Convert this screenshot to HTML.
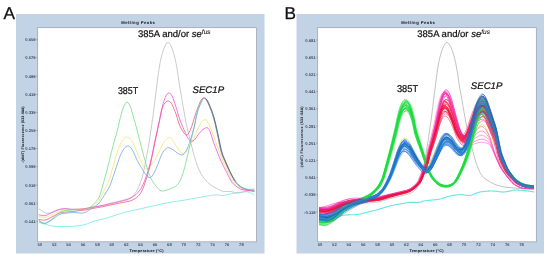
<!DOCTYPE html>
<html lang="en"><head><meta charset="utf-8"><title>Melting Peaks</title>
<style>
html,body{margin:0;padding:0;background:#fff;}
body{width:550px;height:262px;overflow:hidden;}
svg{display:block;}
text{font-family:"Liberation Sans",Arial,sans-serif;fill:#111;text-rendering:geometricPrecision;}
.pl{font-size:17.2px;stroke:#111;stroke-width:0.3px;}
.lb{stroke:#111;stroke-width:0.22px;}
.tk{font-size:4.1px;font-weight:bold;fill:#444b5a;}
.tt{font-weight:bold;fill:#111;}
</style></head><body>
<svg width="550" height="262" viewBox="0 0 550 262">
<rect width="550" height="262" fill="#fff"/>
<rect x="16" y="14" width="248.5" height="239.5" fill="#c2d3e6"/>
<rect x="296.5" y="14" width="247.5" height="239.5" fill="#c2d3e6"/>
<rect x="37.5" y="27.5" width="219.3" height="214.5" fill="#fff"/>
<rect x="37.7" y="27.7" width="218.9" height="214.1" fill="none" stroke="#8e98a8" stroke-width="0.7"/>
<text x="39.8" y="246.1" class="tk" text-anchor="middle">50</text>
<text x="54.2" y="246.1" class="tk" text-anchor="middle">52</text>
<text x="68.6" y="246.1" class="tk" text-anchor="middle">54</text>
<text x="83.0" y="246.1" class="tk" text-anchor="middle">56</text>
<text x="97.4" y="246.1" class="tk" text-anchor="middle">58</text>
<text x="111.8" y="246.1" class="tk" text-anchor="middle">60</text>
<text x="126.2" y="246.1" class="tk" text-anchor="middle">62</text>
<text x="140.6" y="246.1" class="tk" text-anchor="middle">64</text>
<text x="155.0" y="246.1" class="tk" text-anchor="middle">66</text>
<text x="169.4" y="246.1" class="tk" text-anchor="middle">68</text>
<text x="183.8" y="246.1" class="tk" text-anchor="middle">70</text>
<text x="198.2" y="246.1" class="tk" text-anchor="middle">72</text>
<text x="212.6" y="246.1" class="tk" text-anchor="middle">74</text>
<text x="227.0" y="246.1" class="tk" text-anchor="middle">76</text>
<text x="241.4" y="246.1" class="tk" text-anchor="middle">78</text>
<text x="35.5" y="41.3" class="tk" text-anchor="end">0.659</text>
<rect x="36.5" y="39.5" width="1" height="0.6" fill="#666"/>
<text x="35.5" y="59.4" class="tk" text-anchor="end">0.579</text>
<rect x="36.5" y="57.6" width="1" height="0.6" fill="#666"/>
<text x="35.5" y="77.6" class="tk" text-anchor="end">0.499</text>
<rect x="36.5" y="75.8" width="1" height="0.6" fill="#666"/>
<text x="35.5" y="95.8" class="tk" text-anchor="end">0.419</text>
<rect x="36.5" y="94.0" width="1" height="0.6" fill="#666"/>
<text x="35.5" y="113.9" class="tk" text-anchor="end">0.339</text>
<rect x="36.5" y="112.1" width="1" height="0.6" fill="#666"/>
<text x="35.5" y="132.1" class="tk" text-anchor="end">0.259</text>
<rect x="36.5" y="130.2" width="1" height="0.6" fill="#666"/>
<text x="35.5" y="150.2" class="tk" text-anchor="end">0.179</text>
<rect x="36.5" y="148.4" width="1" height="0.6" fill="#666"/>
<text x="35.5" y="168.3" class="tk" text-anchor="end">0.099</text>
<rect x="36.5" y="166.5" width="1" height="0.6" fill="#666"/>
<text x="35.5" y="186.5" class="tk" text-anchor="end">0.019</text>
<rect x="36.5" y="184.7" width="1" height="0.6" fill="#666"/>
<text x="35.5" y="204.6" class="tk" text-anchor="end">-0.061</text>
<rect x="36.5" y="202.8" width="1" height="0.6" fill="#666"/>
<text x="35.5" y="222.8" class="tk" text-anchor="end">-0.141</text>
<rect x="36.5" y="221.0" width="1" height="0.6" fill="#666"/>
<text x="138" y="23.9" class="tt" font-size="4.2" textLength="33.6" text-anchor="middle">Melting Peaks</text>
<text x="146.5" y="251.6" class="tt" font-size="3.9" textLength="34" text-anchor="middle">Temperature (°C)</text>
<text transform="translate(23.5,134.7) rotate(-90)" class="tt" font-size="3.6" textLength="56.5" text-anchor="middle">-(d/dT) Fluorescence (533-588)</text>
<rect x="317.5" y="27.5" width="219" height="214.5" fill="#fff"/>
<rect x="317.7" y="27.7" width="218.6" height="214.1" fill="none" stroke="#8e98a8" stroke-width="0.7"/>
<text x="320.0" y="246.1" class="tk" text-anchor="middle">50</text>
<text x="334.4" y="246.1" class="tk" text-anchor="middle">52</text>
<text x="348.8" y="246.1" class="tk" text-anchor="middle">54</text>
<text x="363.2" y="246.1" class="tk" text-anchor="middle">56</text>
<text x="377.6" y="246.1" class="tk" text-anchor="middle">58</text>
<text x="392.0" y="246.1" class="tk" text-anchor="middle">60</text>
<text x="406.4" y="246.1" class="tk" text-anchor="middle">62</text>
<text x="420.8" y="246.1" class="tk" text-anchor="middle">64</text>
<text x="435.2" y="246.1" class="tk" text-anchor="middle">66</text>
<text x="449.6" y="246.1" class="tk" text-anchor="middle">68</text>
<text x="464.0" y="246.1" class="tk" text-anchor="middle">70</text>
<text x="478.4" y="246.1" class="tk" text-anchor="middle">72</text>
<text x="492.8" y="246.1" class="tk" text-anchor="middle">74</text>
<text x="507.2" y="246.1" class="tk" text-anchor="middle">76</text>
<text x="521.6" y="246.1" class="tk" text-anchor="middle">78</text>
<text x="315.5" y="41.5" class="tk" text-anchor="end">0.681</text>
<rect x="316.5" y="39.7" width="1" height="0.6" fill="#666"/>
<text x="315.5" y="58.7" class="tk" text-anchor="end">0.601</text>
<rect x="316.5" y="56.9" width="1" height="0.6" fill="#666"/>
<text x="315.5" y="75.9" class="tk" text-anchor="end">0.521</text>
<rect x="316.5" y="74.1" width="1" height="0.6" fill="#666"/>
<text x="315.5" y="93.1" class="tk" text-anchor="end">0.441</text>
<rect x="316.5" y="91.3" width="1" height="0.6" fill="#666"/>
<text x="315.5" y="110.3" class="tk" text-anchor="end">0.361</text>
<rect x="316.5" y="108.5" width="1" height="0.6" fill="#666"/>
<text x="315.5" y="127.5" class="tk" text-anchor="end">0.281</text>
<rect x="316.5" y="125.7" width="1" height="0.6" fill="#666"/>
<text x="315.5" y="144.7" class="tk" text-anchor="end">0.201</text>
<rect x="316.5" y="142.9" width="1" height="0.6" fill="#666"/>
<text x="315.5" y="161.9" class="tk" text-anchor="end">0.121</text>
<rect x="316.5" y="160.1" width="1" height="0.6" fill="#666"/>
<text x="315.5" y="179.1" class="tk" text-anchor="end">0.041</text>
<rect x="316.5" y="177.3" width="1" height="0.6" fill="#666"/>
<text x="315.5" y="196.3" class="tk" text-anchor="end">-0.039</text>
<rect x="316.5" y="194.5" width="1" height="0.6" fill="#666"/>
<text x="315.5" y="213.5" class="tk" text-anchor="end">-0.119</text>
<rect x="316.5" y="211.7" width="1" height="0.6" fill="#666"/>
<text x="418" y="23.9" class="tt" font-size="4.2" textLength="33.6" text-anchor="middle">Melting Peaks</text>
<text x="426.5" y="251.6" class="tt" font-size="3.9" textLength="34" text-anchor="middle">Temperature (°C)</text>
<text transform="translate(302.9,137.5) rotate(-90)" class="tt" font-size="3.6" textLength="62" text-anchor="middle">-(d/dT) Fluorescence (533-588)</text>
<g fill="none" stroke-width="0.8" stroke-linejoin="round" stroke-linecap="round">
<path d="M39.1,220.8 40.1,221.4 41.1,222.0 42.1,222.6 43.1,223.1 44.1,223.6 45.1,224.0 46.1,224.4 47.1,224.7 48.1,225.0 49.1,225.3 50.1,225.5 51.1,225.7 52.1,225.9 53.1,226.1 54.1,226.3 55.1,226.4 56.1,226.4 57.1,226.5 58.1,226.5 59.1,226.6 60.1,226.6 61.1,226.6 62.1,226.6 63.1,226.6 64.1,226.6 65.1,226.6 66.1,226.6 67.1,226.6 68.1,226.5 69.1,226.5 70.1,226.4 71.1,226.4 72.1,226.3 73.1,226.2 74.1,226.2 75.1,226.1 76.1,226.0 77.1,225.9 78.1,225.8 79.1,225.7 80.1,225.5 81.1,225.4 82.1,225.2 83.1,225.0 84.1,224.8 85.1,224.6 86.1,224.3 87.1,223.9 88.1,223.5 89.1,223.1 90.1,222.7 91.1,222.2 92.1,221.8 93.1,221.4 94.1,221.1 95.1,220.8 96.1,220.5 97.1,220.3 98.1,220.1 99.1,219.9 100.1,219.7 101.1,219.5 102.1,219.3 103.1,219.0 104.1,218.8 105.1,218.5 106.1,218.2 107.1,217.9 108.1,217.6 109.1,217.3 110.1,217.0 111.1,216.7 112.1,216.3 113.1,216.0 114.1,215.7 115.1,215.3 116.1,215.0 117.1,214.7 118.1,214.3 119.1,214.0 120.1,213.7 121.1,213.4 122.1,213.1 123.1,212.8 124.1,212.5 125.1,212.2 126.1,212.0 127.1,211.7 128.1,211.5 129.1,211.3 130.1,211.0 131.1,210.8 132.1,210.6 133.1,210.4 134.1,210.2 135.1,209.9 136.1,209.7 137.1,209.5 138.1,209.3 139.1,209.1 140.1,208.9 141.1,208.6 142.1,208.4 143.1,208.2 144.1,208.0 145.1,207.8 146.1,207.5 147.1,207.3 148.1,207.1 149.1,206.8 150.1,206.6 151.1,206.4 152.1,206.2 153.1,205.9 154.1,205.7 155.1,205.5 156.1,205.2 157.1,205.0 158.1,204.8 159.1,204.6 160.1,204.4 161.1,204.1 162.1,203.9 163.1,203.7 164.1,203.5 165.1,203.3 166.1,203.1 167.1,202.9 168.1,202.7 169.1,202.5 170.1,202.3 171.1,202.2 172.1,202.0 173.1,201.8 174.1,201.7 175.1,201.5 176.1,201.4 177.1,201.2 178.1,201.1 179.1,200.9 180.1,200.8 181.1,200.6 182.1,200.4 183.1,200.3 184.1,200.1 185.1,200.0 186.1,199.8 187.1,199.6 188.1,199.4 189.1,199.3 190.1,199.1 191.1,198.9 192.1,198.7 193.1,198.5 194.1,198.4 195.1,198.2 196.1,198.0 197.1,197.8 198.1,197.6 199.1,197.4 200.1,197.3 201.1,197.1 202.1,196.9 203.1,196.7 204.1,196.6 205.1,196.4 206.1,196.2 207.1,196.1 208.1,195.9 209.1,195.8 210.1,195.6 211.1,195.5 212.1,195.3 213.1,195.2 214.1,195.1 215.1,195.0 216.1,194.9 217.1,194.9 218.1,195.0 219.1,195.2 220.1,195.4 221.1,195.5 222.1,195.6 223.1,195.5 224.1,195.3 225.1,195.1 226.1,194.9 227.1,194.7 228.1,194.4 229.1,194.2 230.1,194.0 231.1,193.8 232.1,193.6 233.1,193.4 234.1,193.2 235.1,193.1 236.1,192.9 237.1,192.7 238.1,192.6 239.1,192.4 240.1,192.2 241.1,192.1 242.1,191.9 243.1,191.8 244.1,191.8 245.1,191.7 246.1,191.7 247.1,191.8 248.1,192.0 249.1,192.3 250.1,192.7 251.1,193.2 252.1,193.8 253.1,194.4 254.0,195.0" stroke="#6ce8e6"/>
<path d="M39.1,209.0 40.1,209.7 41.1,210.3 42.1,211.0 43.1,211.6 44.1,212.1 45.1,212.7 46.1,213.0 47.1,213.3 48.1,213.3 49.1,213.2 50.1,213.1 51.1,212.8 52.1,212.5 53.1,212.2 54.1,211.8 55.1,211.4 56.1,210.9 57.1,210.4 58.1,210.0 59.1,209.7 60.1,209.5 61.1,209.3 62.1,209.1 63.1,209.0 64.1,208.9 65.1,208.9 66.1,208.9 67.1,208.9 68.1,209.0 69.1,209.1 70.1,209.1 71.1,209.2 72.1,209.2 73.1,209.2 74.1,209.2 75.1,209.2 76.1,209.2 77.1,209.1 78.1,209.1 79.1,209.1 80.1,209.0 81.1,208.9 82.1,208.8 83.1,208.7 84.1,208.6 85.1,208.5 86.1,208.3 87.1,208.1 88.1,207.9 89.1,207.7 90.1,207.5 91.1,207.3 92.1,207.1 93.1,207.0 94.1,206.9 95.1,206.8 96.1,206.6 97.1,206.5 98.1,206.4 99.1,206.2 100.1,206.0 101.1,205.7 102.1,205.5 103.1,205.2 104.1,204.9 105.1,204.7 106.1,204.4 107.1,204.1 108.1,203.8 109.1,203.5 110.1,203.3 111.1,203.0 112.1,202.8 113.1,202.6 114.1,202.3 115.1,202.1 116.1,201.9 117.1,201.7 118.1,201.4 119.1,201.2 120.1,201.0 121.1,200.7 122.1,200.5 123.1,200.2 124.1,199.9 125.1,199.6 126.1,199.3 127.1,199.0 128.1,198.6 129.1,198.3 130.1,198.0 131.1,197.5 132.1,196.8 133.1,195.9 134.1,194.9 135.1,193.6 136.1,192.1 137.1,190.3 138.1,188.2 139.1,185.8 140.1,183.2 141.1,180.7 142.1,177.8 143.1,174.1 144.1,169.5 145.1,164.4 146.1,159.1 147.1,153.7 148.1,148.3 149.1,142.4 150.1,136.0 151.1,129.2 152.1,122.2 153.1,115.1 154.1,107.2 155.1,99.2 156.1,91.2 157.1,83.2 158.1,75.6 159.1,68.6 160.1,62.8 161.1,58.1 162.1,54.1 163.1,50.8 164.1,48.0 165.1,45.8 166.1,44.0 167.1,42.8 168.1,42.4 169.1,43.0 170.1,44.3 171.1,46.2 172.1,48.6 173.1,51.5 174.1,54.9 175.1,58.9 176.1,63.5 177.1,69.0 178.1,75.5 179.1,82.7 180.1,88.8 181.1,94.8 182.1,100.6 183.1,106.2 184.1,111.9 185.1,117.6 186.1,123.1 187.1,127.6 188.1,131.7 189.1,135.7 190.1,139.7 191.1,143.8 192.1,147.8 193.1,151.7 194.1,155.4 195.1,158.9 196.1,162.2 197.1,165.1 198.1,167.7 199.1,169.9 200.1,172.0 201.1,173.9 202.1,175.5 203.1,177.0 204.1,178.3 205.1,179.5 206.1,180.7 207.1,181.8 208.1,182.8 209.1,183.7 210.1,184.5 211.1,185.2 212.1,185.8 213.1,186.5 214.1,187.1 215.1,187.6 216.1,188.2 217.1,188.7 218.1,189.2 219.1,189.7 220.1,190.2 221.1,190.7 222.1,191.0 223.1,191.3 224.1,191.5 225.1,191.5 226.1,191.5 227.1,191.5 228.1,191.5 229.1,191.4 230.1,191.4 231.1,191.6 232.1,191.8 233.1,192.0 234.1,192.4 235.1,192.7 236.1,192.9 237.1,193.0 238.1,193.0 239.1,192.9 240.1,192.7 241.1,192.5 242.1,192.3 243.1,192.1 244.1,191.8 245.1,191.6 246.1,191.4 247.1,191.1 248.1,190.9 249.1,190.7 250.1,190.4 251.1,190.4 252.1,190.6 253.1,190.8 254.0,191.1" stroke="#bcbcbc"/>
<path d="M39.1,216.4 40.1,216.7 41.1,217.0 42.1,217.2 43.1,217.3 44.1,217.4 45.1,217.3 46.1,217.2 47.1,216.9 48.1,216.5 49.1,216.2 50.1,215.8 51.1,215.4 52.1,215.0 53.1,214.5 54.1,214.0 55.1,213.5 56.1,212.9 57.1,212.4 58.1,211.9 59.1,211.5 60.1,211.1 61.1,210.8 62.1,210.5 63.1,210.4 64.1,210.2 65.1,210.1 66.1,210.0 67.1,209.9 68.1,209.8 69.1,209.7 70.1,209.6 71.1,209.6 72.1,209.5 73.1,209.4 74.1,209.4 75.1,209.4 76.1,209.3 77.1,209.3 78.1,209.3 79.1,209.2 80.1,209.2 81.1,209.2 82.1,209.1 83.1,209.1 84.1,209.0 85.1,209.0 86.1,208.9 87.1,208.6 88.1,208.3 89.1,208.0 90.1,207.6 91.1,207.1 92.1,206.6 93.1,205.9 94.1,205.1 95.1,204.3 96.1,203.4 97.1,202.6 98.1,201.7 99.1,200.5 100.1,198.8 101.1,196.8 102.1,194.8 103.1,192.8 104.1,190.8 105.1,188.8 106.1,186.8 107.1,184.8 108.1,182.8 109.1,180.3 110.1,177.1 111.1,173.6 112.1,170.0 113.1,166.3 114.1,162.7 115.1,159.2 116.1,155.9 117.1,152.7 118.1,149.8 119.1,147.2 120.1,144.8 121.1,142.7 122.1,140.9 123.1,139.5 124.1,138.4 125.1,137.6 126.1,137.1 127.1,137.0 128.1,137.1 129.1,137.6 130.1,138.4 131.1,139.7 132.1,141.2 133.1,143.1 134.1,145.2 135.1,147.6 136.1,149.9 137.1,152.2 138.1,154.6 139.1,156.9 140.1,159.2 141.1,161.5 142.1,163.6 143.1,165.7 144.1,167.4 145.1,168.5 146.1,169.0 147.1,169.0 148.1,168.4 149.1,167.4 150.1,166.2 151.1,164.9 152.1,163.6 153.1,162.2 154.1,160.8 155.1,159.4 156.1,157.7 157.1,155.9 158.1,153.9 159.1,151.8 160.1,149.8 161.1,147.7 162.1,145.6 163.1,143.6 164.1,141.9 165.1,140.6 166.1,139.4 167.1,138.4 168.1,137.7 169.1,137.5 170.1,137.7 171.1,138.3 172.1,139.4 173.1,140.8 174.1,142.3 175.1,143.9 176.1,145.5 177.1,147.2 178.1,148.8 179.1,150.4 180.1,151.8 181.1,152.7 182.1,153.2 183.1,153.3 184.1,153.2 185.1,152.7 186.1,151.8 187.1,150.5 188.1,148.9 189.1,147.2 190.1,145.4 191.1,143.6 192.1,141.8 193.1,139.9 194.1,137.8 195.1,135.0 196.1,132.4 197.1,130.1 198.1,128.0 199.1,126.0 200.1,124.3 201.1,122.7 202.1,121.4 203.1,120.4 204.1,119.8 205.1,119.7 206.1,120.0 207.1,120.9 208.1,122.5 209.1,124.5 210.1,126.8 211.1,129.4 212.1,132.0 213.1,134.8 214.1,137.6 215.1,140.5 216.1,143.2 217.1,145.9 218.1,148.6 219.1,151.3 220.1,153.9 221.1,156.5 222.1,159.1 223.1,161.5 224.1,163.8 225.1,166.0 226.1,168.1 227.1,170.1 228.1,172.2 229.1,174.3 230.1,176.4 231.1,178.3 232.1,180.2 233.1,181.7 234.1,182.9 235.1,183.9 236.1,184.8 237.1,185.6 238.1,186.4 239.1,187.2 240.1,188.0 241.1,188.6 242.1,189.0 243.1,189.4 244.1,189.6 245.1,189.9 246.1,190.1 247.1,190.3 248.1,190.4 249.1,190.5 250.1,190.7 251.1,190.8 252.1,190.9 253.1,191.0 254.0,191.0" stroke="#f5e46e"/>
<path d="M39.1,219.5 40.1,219.7 41.1,219.9 42.1,220.1 43.1,220.2 44.1,220.2 45.1,220.0 46.1,219.7 47.1,219.3 48.1,218.8 49.1,218.4 50.1,217.9 51.1,217.4 52.1,216.9 53.1,216.4 54.1,215.9 55.1,215.3 56.1,214.8 57.1,214.2 58.1,213.7 59.1,213.3 60.1,213.0 61.1,212.8 62.1,212.5 63.1,212.4 64.1,212.2 65.1,212.1 66.1,212.0 67.1,211.9 68.1,211.9 69.1,211.8 70.1,211.7 71.1,211.6 72.1,211.5 73.1,211.4 74.1,211.3 75.1,211.2 76.1,211.1 77.1,210.9 78.1,210.8 79.1,210.7 80.1,210.6 81.1,210.5 82.1,210.4 83.1,210.3 84.1,210.1 85.1,210.0 86.1,209.8 87.1,209.6 88.1,209.4 89.1,209.2 90.1,208.9 91.1,208.7 92.1,208.6 93.1,208.4 94.1,208.2 95.1,208.1 96.1,207.9 97.1,207.7 98.1,207.6 99.1,207.4 100.1,207.2 101.1,207.0 102.1,206.8 103.1,206.6 104.1,206.4 105.1,206.2 106.1,205.9 107.1,205.7 108.1,205.5 109.1,205.3 110.1,205.1 111.1,204.9 112.1,204.7 113.1,204.5 114.1,204.2 115.1,204.0 116.1,203.8 117.1,203.6 118.1,203.4 119.1,203.2 120.1,203.0 121.1,202.8 122.1,202.6 123.1,202.4 124.1,202.2 125.1,202.0 126.1,201.8 127.1,201.6 128.1,201.4 129.1,201.2 130.1,201.0 131.1,200.7 132.1,200.3 133.1,199.7 134.1,199.2 135.1,198.5 136.1,197.9 137.1,197.2 138.1,196.3 139.1,195.2 140.1,193.9 141.1,192.3 142.1,190.3 143.1,188.0 144.1,185.5 145.1,182.7 146.1,179.7 147.1,176.6 148.1,173.2 149.1,169.6 150.1,165.7 151.1,161.4 152.1,156.5 153.1,151.5 154.1,146.5 155.1,141.4 156.1,136.6 157.1,131.8 158.1,127.0 159.1,122.2 160.1,117.4 161.1,112.8 162.1,108.6 163.1,105.9 164.1,104.2 165.1,102.9 166.1,101.8 167.1,101.1 168.1,100.9 169.1,101.3 170.1,101.9 171.1,103.0 172.1,104.7 173.1,106.8 174.1,109.1 175.1,111.6 176.1,114.3 177.1,117.4 178.1,120.8 179.1,123.9 180.1,126.4 181.1,128.4 182.1,130.1 183.1,131.7 184.1,133.2 185.1,134.4 186.1,135.1 187.1,135.1 188.1,134.1 189.1,132.4 190.1,130.3 191.1,128.0 192.1,125.3 193.1,122.1 194.1,118.7 195.1,115.5 196.1,112.5 197.1,109.7 198.1,107.1 199.1,104.5 200.1,102.1 201.1,100.2 202.1,98.7 203.1,98.0 204.1,97.9 205.1,98.6 206.1,99.8 207.1,101.4 208.1,103.5 209.1,105.7 210.1,108.1 211.1,110.7 212.1,113.4 213.1,116.4 214.1,119.8 215.1,123.7 216.1,128.1 217.1,132.6 218.1,137.5 219.1,142.9 220.1,148.0 221.1,151.9 222.1,155.0 223.1,157.5 224.1,159.8 225.1,162.1 226.1,164.4 227.1,166.6 228.1,168.8 229.1,171.0 230.1,173.0 231.1,174.9 232.1,176.8 233.1,178.5 234.1,180.2 235.1,181.7 236.1,183.0 237.1,184.1 238.1,185.1 239.1,186.0 240.1,186.7 241.1,187.4 242.1,188.0 243.1,188.5 244.1,188.8 245.1,189.1 246.1,189.4 247.1,189.7 248.1,189.9 249.1,190.1 250.1,190.3 251.1,190.5 252.1,190.7 253.1,190.9 254.0,191.0" stroke="#ee5c70"/>
<path d="M39.1,214.8 40.1,215.1 41.1,215.3 42.1,215.5 43.1,215.6 44.1,215.7 45.1,215.6 46.1,215.3 47.1,214.9 48.1,214.5 49.1,213.9 50.1,213.4 51.1,212.9 52.1,212.4 53.1,211.9 54.1,211.5 55.1,211.0 56.1,210.6 57.1,210.2 58.1,209.9 59.1,209.5 60.1,209.2 61.1,209.0 62.1,208.9 63.1,208.8 64.1,208.7 65.1,208.7 66.1,208.7 67.1,208.8 68.1,208.9 69.1,209.1 70.1,209.2 71.1,209.3 72.1,209.4 73.1,209.4 74.1,209.4 75.1,209.4 76.1,209.4 77.1,209.4 78.1,209.4 79.1,209.3 80.1,209.3 81.1,209.2 82.1,209.1 83.1,209.0 84.1,208.8 85.1,208.7 86.1,208.5 87.1,208.3 88.1,208.1 89.1,207.9 90.1,207.7 91.1,207.5 92.1,207.4 93.1,207.2 94.1,207.0 95.1,206.9 96.1,206.7 97.1,206.5 98.1,206.3 99.1,206.2 100.1,206.0 101.1,205.8 102.1,205.6 103.1,205.4 104.1,205.2 105.1,205.0 106.1,204.8 107.1,204.5 108.1,204.3 109.1,204.1 110.1,203.9 111.1,203.6 112.1,203.4 113.1,203.2 114.1,203.0 115.1,202.8 116.1,202.5 117.1,202.3 118.1,202.0 119.1,201.8 120.1,201.5 121.1,201.3 122.1,201.0 123.1,200.8 124.1,200.5 125.1,200.2 126.1,200.0 127.1,199.7 128.1,199.3 129.1,198.8 130.1,198.3 131.1,197.7 132.1,197.1 133.1,196.5 134.1,195.9 135.1,195.3 136.1,194.4 137.1,193.4 138.1,192.3 139.1,191.1 140.1,189.9 141.1,188.4 142.1,186.5 143.1,184.4 144.1,182.1 145.1,179.5 146.1,176.7 147.1,173.8 148.1,170.6 149.1,167.2 150.1,163.4 151.1,159.3 152.1,154.7 153.1,149.9 154.1,145.1 155.1,140.3 156.1,135.7 157.1,131.3 158.1,126.8 159.1,122.2 160.1,117.3 161.1,112.3 162.1,107.5 163.1,103.6 164.1,100.5 165.1,97.9 166.1,95.7 167.1,94.1 168.1,93.2 169.1,93.0 170.1,93.4 171.1,94.3 172.1,96.0 173.1,98.6 174.1,101.3 175.1,104.2 176.1,107.3 177.1,110.6 178.1,114.1 179.1,117.3 180.1,120.2 181.1,122.8 182.1,125.2 183.1,127.6 184.1,130.0 185.1,132.2 186.1,134.4 187.1,136.5 188.1,138.4 189.1,139.8 190.1,140.8 191.1,141.4 192.1,141.4 193.1,141.0 194.1,140.2 195.1,139.1 196.1,137.8 197.1,136.3 198.1,134.9 199.1,133.5 200.1,132.3 201.1,131.2 202.1,130.2 203.1,129.4 204.1,128.7 205.1,128.1 206.1,127.7 207.1,127.7 208.1,128.3 209.1,129.6 210.1,131.6 211.1,134.5 212.1,137.7 213.1,141.0 214.1,143.9 215.1,146.5 216.1,149.0 217.1,151.5 218.1,154.0 219.1,156.4 220.1,158.9 221.1,161.2 222.1,163.3 223.1,165.4 224.1,167.4 225.1,169.4 226.1,171.3 227.1,173.3 228.1,175.3 229.1,177.2 230.1,179.2 231.1,181.0 232.1,182.5 233.1,183.7 234.1,184.6 235.1,185.4 236.1,186.2 237.1,187.0 238.1,187.8 239.1,188.4 240.1,188.9 241.1,189.3 242.1,189.5 243.1,189.8 244.1,190.0 245.1,190.2 246.1,190.3 247.1,190.5 248.1,190.6 249.1,190.7 250.1,190.8 251.1,190.9 252.1,191.0 253.1,191.1 254.0,191.1" stroke="#f052d6"/>
<path d="M39.1,222.0 40.1,222.6 41.1,223.2 42.1,223.6 43.1,223.8 44.1,223.8 45.1,223.6 46.1,223.1 47.1,222.5 48.1,221.9 49.1,221.3 50.1,220.6 51.1,219.9 52.1,219.1 53.1,218.3 54.1,217.4 55.1,216.4 56.1,215.4 57.1,214.4 58.1,213.5 59.1,212.8 60.1,212.2 61.1,211.7 62.1,211.3 63.1,211.1 64.1,210.8 65.1,210.7 66.1,210.6 67.1,210.5 68.1,210.4 69.1,210.3 70.1,210.2 71.1,210.1 72.1,210.0 73.1,209.9 74.1,209.9 75.1,209.8 76.1,209.8 77.1,209.8 78.1,209.7 79.1,209.7 80.1,209.7 81.1,209.6 82.1,209.6 83.1,209.5 84.1,209.5 85.1,209.4 86.1,209.2 87.1,208.8 88.1,208.3 89.1,207.7 90.1,207.0 91.1,206.3 92.1,205.6 93.1,204.7 94.1,203.6 95.1,202.5 96.1,201.4 97.1,200.3 98.1,199.1 99.1,197.3 100.1,194.7 101.1,191.4 102.1,187.9 103.1,184.3 104.1,180.6 105.1,177.1 106.1,173.5 107.1,169.6 108.1,165.6 109.1,161.6 110.1,157.6 111.1,153.6 112.1,149.6 113.1,145.6 114.1,141.7 115.1,138.4 116.1,135.2 117.1,131.6 118.1,127.4 119.1,122.9 120.1,118.6 121.1,114.8 122.1,111.3 123.1,108.2 124.1,105.8 125.1,103.8 126.1,102.4 127.1,102.0 128.1,102.6 129.1,104.2 130.1,106.1 131.1,108.7 132.1,112.1 133.1,115.8 134.1,119.4 135.1,122.8 136.1,126.5 137.1,130.4 138.1,134.3 139.1,138.1 140.1,141.9 141.1,145.9 142.1,149.9 143.1,153.8 144.1,157.4 145.1,160.8 146.1,164.3 147.1,167.6 148.1,170.7 149.1,173.6 150.1,176.3 151.1,178.6 152.1,180.5 153.1,182.2 154.1,183.6 155.1,184.9 156.1,186.1 157.1,187.3 158.1,188.5 159.1,189.5 160.1,190.3 161.1,190.8 162.1,191.0 163.1,190.9 164.1,190.8 165.1,190.5 166.1,190.2 167.1,189.9 168.1,189.6 169.1,189.2 170.1,188.8 171.1,188.4 172.1,188.0 173.1,187.5 174.1,187.0 175.1,186.5 176.1,185.9 177.1,185.1 178.1,184.0 179.1,182.4 180.1,180.5 181.1,178.3 182.1,175.7 183.1,172.8 184.1,169.4 185.1,165.6 186.1,161.6 187.1,157.5 188.1,153.3 189.1,149.1 190.1,144.9 191.1,140.4 192.1,135.8 193.1,131.5 194.1,127.5 195.1,122.7 196.1,116.0 197.1,112.0 198.1,108.9 199.1,106.4 200.1,104.2 201.1,102.1 202.1,100.2 203.1,98.6 204.1,97.9 205.1,98.1 206.1,99.1 207.1,100.6 208.1,102.6 209.1,104.8 210.1,107.2 211.1,109.7 212.1,112.4 213.1,115.5 214.1,119.0 215.1,122.9 216.1,127.3 217.1,131.8 218.1,136.3 219.1,141.2 220.1,146.0 221.1,150.4 222.1,153.9 223.1,156.6 224.1,158.9 225.1,161.2 226.1,163.5 227.1,165.8 228.1,168.0 229.1,170.1 230.1,172.2 231.1,174.2 232.1,176.1 233.1,178.0 234.1,179.7 235.1,181.2 236.1,182.5 237.1,183.6 238.1,184.6 239.1,185.4 240.1,186.1 241.1,186.8 242.1,187.3 243.1,187.8 244.1,188.2 245.1,188.6 246.1,188.9 247.1,189.1 248.1,189.3 249.1,189.3 250.1,189.4 251.1,189.3 252.1,189.2 253.1,189.0 254.0,188.8" stroke="#74da88"/>
<path d="M39.1,220.8 40.1,221.5 41.1,222.1 42.1,222.6 43.1,222.9 44.1,223.2 45.1,223.2 46.1,223.0 47.1,222.5 48.1,222.0 49.1,221.4 50.1,220.8 51.1,220.2 52.1,219.5 53.1,218.9 54.1,218.2 55.1,217.5 56.1,216.7 57.1,215.9 58.1,215.3 59.1,214.7 60.1,214.3 61.1,213.9 62.1,213.7 63.1,213.5 64.1,213.4 65.1,213.3 66.1,213.2 67.1,213.0 68.1,212.9 69.1,212.8 70.1,212.7 71.1,212.6 72.1,212.5 73.1,212.4 74.1,212.5 75.1,212.5 76.1,212.6 77.1,212.7 78.1,212.9 79.1,213.0 80.1,213.1 81.1,213.1 82.1,213.1 83.1,213.0 84.1,212.7 85.1,212.4 86.1,212.0 87.1,211.4 88.1,210.8 89.1,210.2 90.1,209.5 91.1,208.8 92.1,208.2 93.1,207.6 94.1,206.9 95.1,206.3 96.1,205.6 97.1,204.9 98.1,204.1 99.1,203.0 100.1,201.8 101.1,200.4 102.1,198.8 103.1,197.3 104.1,195.6 105.1,194.0 106.1,192.3 107.1,190.7 108.1,189.1 109.1,187.3 110.1,185.3 111.1,182.7 112.1,179.7 113.1,176.7 114.1,173.7 115.1,170.7 116.1,167.7 117.1,164.7 118.1,161.7 119.1,158.7 120.1,156.1 121.1,153.8 122.1,151.8 123.1,150.0 124.1,148.6 125.1,147.4 126.1,146.5 127.1,146.1 128.1,146.0 129.1,146.3 130.1,147.0 131.1,148.1 132.1,149.6 133.1,151.2 134.1,153.2 135.1,155.6 136.1,158.1 137.1,160.2 138.1,162.0 139.1,163.8 140.1,165.5 141.1,167.2 142.1,168.8 143.1,170.5 144.1,172.1 145.1,173.7 146.1,175.0 147.1,176.1 148.1,177.0 149.1,177.5 150.1,177.6 151.1,177.1 152.1,176.1 153.1,174.6 154.1,172.9 155.1,170.9 156.1,168.6 157.1,166.2 158.1,163.7 159.1,161.0 160.1,158.3 161.1,155.8 162.1,153.8 163.1,152.1 164.1,150.6 165.1,149.4 166.1,148.5 167.1,147.8 168.1,147.6 169.1,147.8 170.1,148.2 171.1,148.6 172.1,149.2 173.1,149.8 174.1,150.5 175.1,151.3 176.1,152.1 177.1,152.8 178.1,153.5 179.1,154.1 180.1,154.5 181.1,154.8 182.1,154.9 183.1,154.6 184.1,153.8 185.1,152.5 186.1,150.9 187.1,148.9 188.1,146.5 189.1,143.7 190.1,140.7 191.1,137.6 192.1,134.3 193.1,130.9 194.1,127.3 195.1,123.2 196.1,117.8 197.1,113.6 198.1,110.2 199.1,107.4 200.1,104.9 201.1,102.6 202.1,100.5 203.1,98.9 204.1,98.0 205.1,98.0 206.1,98.8 207.1,100.1 208.1,102.0 209.1,104.1 210.1,106.5 211.1,109.0 212.1,111.6 213.1,114.5 214.1,117.9 215.1,121.7 216.1,126.0 217.1,130.4 218.1,134.9 219.1,139.7 220.1,144.6 221.1,149.2 222.1,152.9 223.1,155.8 224.1,158.1 225.1,160.4 226.1,162.8 227.1,165.0 228.1,167.3 229.1,169.5 230.1,171.6 231.1,173.6 232.1,175.6 233.1,177.4 234.1,179.2 235.1,180.8 236.1,182.2 237.1,183.4 238.1,184.4 239.1,185.3 240.1,186.1 241.1,186.8 242.1,187.4 243.1,188.0 244.1,188.4 245.1,188.8 246.1,189.2 247.1,189.4 248.1,189.7 249.1,189.8 250.1,190.0 251.1,190.0 252.1,190.1 253.1,190.1 254.0,190.0" stroke="#70a6f0"/>
<path d="M206.0,98.8 207.0,100.1 208.0,102.0 209.0,104.1 210.0,106.5 211.0,109.0 212.0,111.6 213.0,114.5 214.0,117.9 215.0,121.7 216.0,126.0 217.0,130.4 218.0,134.9 219.0,139.7 220.0,144.6 221.0,149.2 222.0,152.9 223.0,155.8 224.0,158.1 225.0,160.4 226.0,162.8 227.0,165.0 228.0,167.3 229.0,169.5 230.0,171.6 231.0,173.6 232.0,175.6 233.0,177.4 234.0,179.2 235.0,180.8" stroke="#4c5266" stroke-opacity="0.8"/>
</g>
<g fill="none" stroke-linejoin="round" stroke-linecap="round">
<path d="M319.0,222.0 320.0,222.1 321.0,222.1 322.0,222.1 323.0,222.1 324.0,222.0 325.0,222.0 326.0,221.8 327.0,221.7 328.0,221.5 329.0,221.3 330.0,221.0 331.0,220.7 332.0,220.3 333.0,219.8 334.0,219.3 335.0,218.7 336.0,218.1 337.0,217.6 338.0,217.0 339.0,216.5 340.0,216.1 341.0,215.8 342.0,215.5 343.0,215.3 344.0,215.2 345.0,215.1 346.0,215.0 347.0,214.9 348.0,214.9 349.0,214.9 350.0,214.8 351.0,214.8 352.0,214.8 353.0,214.8 354.0,214.7 355.0,214.7 356.0,214.6 357.0,214.5 358.0,214.4 359.0,214.2 360.0,214.0 361.0,213.8 362.0,213.5 363.0,213.3 364.0,213.0 365.0,212.8 366.0,212.6 367.0,212.3 368.0,212.1 369.0,211.8 370.0,211.6 371.0,211.3 372.0,211.1 373.0,210.8 374.0,210.5 375.0,210.3 376.0,210.0 377.0,209.7 378.0,209.4 379.0,209.2 380.0,208.9 381.0,208.6 382.0,208.3 383.0,208.0 384.0,207.7 385.0,207.4 386.0,207.1 387.0,206.8 388.0,206.5 389.0,206.3 390.0,206.0 391.0,205.7 392.0,205.5 393.0,205.3 394.0,205.0 395.0,204.8 396.0,204.6 397.0,204.4 398.0,204.2 399.0,204.0 400.0,203.9 401.0,203.7 402.0,203.5 403.0,203.4 404.0,203.2 405.0,203.0 406.0,202.9 407.0,202.7 408.0,202.6 409.0,202.5 410.0,202.4 411.0,202.4 412.0,202.4 413.0,202.4 414.0,202.4 415.0,202.4 416.0,202.5 417.0,202.4 418.0,202.4 419.0,202.3 420.0,202.2 421.0,202.0 422.0,201.6 423.0,201.3 424.0,201.0 425.0,200.8 426.0,200.7 427.0,200.5 428.0,200.4 429.0,200.3 430.0,200.2 431.0,200.1 432.0,200.0 433.0,200.0 434.0,199.9 435.0,199.8 436.0,199.7 437.0,199.5 438.0,199.4 439.0,199.2 440.0,199.0 441.0,198.8 442.0,198.5 443.0,198.2 444.0,197.9 445.0,197.5 446.0,197.2 447.0,196.8 448.0,196.5 449.0,196.3 450.0,196.0 451.0,195.8 452.0,195.6 453.0,195.4 454.0,195.3 455.0,195.1 456.0,195.0 457.0,194.9 458.0,194.8 459.0,194.7 460.0,194.6 461.0,194.6 462.0,194.6 463.0,194.7 464.0,194.9 465.0,195.0 466.0,195.2 467.0,195.3 468.0,195.4 469.0,195.5 470.0,195.4 471.0,195.2 472.0,195.0 473.0,194.6 474.0,194.2 475.0,193.8 476.0,193.3 477.0,192.9 478.0,192.5 479.0,192.2 480.0,192.0 481.0,191.8 482.0,191.7 483.0,191.6 484.0,191.5 485.0,191.4 486.0,191.3 487.0,191.2 488.0,191.1 489.0,191.1 490.0,191.0 491.0,191.0 492.0,191.0 493.0,191.0 494.0,191.1 495.0,191.2 496.0,191.3 497.0,191.4 498.0,191.5 499.0,191.7 500.0,191.8 501.0,191.9 502.0,191.9 503.0,192.0 504.0,192.0 505.0,191.9 506.0,191.8 507.0,191.6 508.0,191.4 509.0,191.2 510.0,190.9 511.0,190.7 512.0,190.5 513.0,190.3 514.0,190.1 515.0,190.0 516.0,190.0 517.0,190.0 518.0,190.1 519.0,190.1 520.0,190.2 521.0,190.2 522.0,190.3 523.0,190.4 524.0,190.5 525.0,190.6 526.0,190.7 527.0,190.9 528.0,191.0 529.0,191.1 530.0,191.3 531.0,191.5 532.0,191.6 533.0,191.8 534.0,192.0" stroke="#62e6e6" stroke-width="1.1"/>
<path d="M319.7,213.6 320.7,213.7 321.7,213.9 322.7,214.0 323.7,214.1 324.7,214.1 325.7,214.0 326.7,213.9 327.7,213.7 328.7,213.5 329.7,213.2 330.7,212.9 331.7,212.5 332.7,212.1 333.7,211.7 334.7,211.2 335.7,210.8 336.7,210.2 337.7,209.7 338.7,209.2 339.7,208.7 340.7,208.3 341.7,207.9 342.7,207.5 343.7,207.1 344.7,206.7 345.7,206.3 346.7,206.0 347.7,205.6 348.7,205.3 349.7,205.0 350.7,204.7 351.7,204.5 352.7,204.3 353.7,204.1 354.7,204.0 355.7,203.8 356.7,203.6 357.7,203.4 358.7,203.3 359.7,203.1 360.7,203.0 361.7,203.0 362.7,202.9 363.7,202.9 364.7,202.9 365.7,202.9 366.7,203.0 367.7,203.0 368.7,203.0 369.7,202.9 370.7,202.9 371.7,202.8 372.7,202.7 373.7,202.6 374.7,202.5 375.7,202.4 376.7,202.2 377.7,202.1 378.7,201.9 379.7,201.7 380.7,201.4 381.7,201.1 382.7,200.8 383.7,200.5 384.7,200.2 385.7,199.9 386.7,199.6 387.7,199.2 388.7,198.9 389.7,198.7 390.7,198.4 391.7,198.2 392.7,197.9 393.7,197.7 394.7,197.4 395.7,197.2 396.7,196.9 397.7,196.7 398.7,196.4 399.7,196.2 400.7,195.9 401.7,195.7 402.7,195.5 403.7,195.2 404.7,195.0 405.7,194.7 406.7,194.5 407.7,194.2 408.7,193.9 409.7,193.5 410.7,193.1 411.7,192.6 412.7,192.0 413.7,191.2 414.7,190.4 415.7,189.4 416.7,188.0 417.7,186.4 418.7,184.4 419.7,182.1 420.7,179.2 421.7,175.4 422.7,170.9 423.7,165.8 424.7,160.4 425.7,154.9 426.7,149.2 427.7,143.2 428.7,136.6 429.7,129.7 430.7,122.6 431.7,115.4 432.7,107.5 433.7,99.4 434.7,91.4 435.7,83.3 436.7,75.7 437.7,68.7 438.7,62.9 439.7,58.1 440.8,54.1 441.8,50.8 442.8,48.1 443.9,45.8 444.9,44.0 446.0,42.8 447.1,42.4 448.2,43.0 449.3,44.3 450.4,46.2 451.5,48.6 452.6,51.5 453.7,54.9 454.7,58.9 455.8,63.5 456.8,69.0 457.9,75.5 458.9,82.7 459.9,88.8 461.0,94.8 462.0,100.6 463.0,106.2 464.0,111.9 465.0,117.6 466.0,123.1 467.0,127.6 468.0,131.7 469.0,135.7 470.0,139.7 471.0,143.8 472.0,147.9 473.0,151.8 474.0,155.5 475.0,159.1 476.0,162.4 477.0,165.4 478.0,168.0 479.0,170.3 480.0,172.4 481.0,174.2 482.0,175.6 483.0,176.8 484.0,177.8 485.0,178.6 486.0,179.3 487.0,180.0 488.0,180.6 489.0,181.2 490.0,181.8 491.0,182.4 492.0,183.0 493.0,183.5 494.0,184.0 495.0,184.4 496.0,184.8 497.0,185.2 498.0,185.5 499.0,185.7 500.0,186.0 501.0,186.2 502.0,186.5 503.0,186.7 504.0,186.9 505.0,187.1 506.0,187.2 507.0,187.3 508.0,187.4 509.0,187.5 510.0,187.6 511.0,187.7 512.0,187.8 513.0,187.9 514.0,188.0 515.0,188.1 516.0,188.2 517.0,188.3 518.0,188.4 519.0,188.5 520.0,188.6 521.0,188.7 522.0,188.7 523.0,188.7 524.0,188.7 525.0,188.7 526.0,188.6 527.0,188.6 528.0,188.5 529.0,188.5 530.0,188.4 531.0,188.2 532.0,188.1 533.0,188.1 533.9,188.0" stroke="#b2b2b2" stroke-width="0.8"/>
<path d="M319.1,216.5 320.1,216.6 321.1,216.7 322.1,216.8 323.1,216.9 324.1,217.0 325.1,217.0 326.1,216.9 327.1,216.8 328.1,216.6 329.1,216.3 330.1,216.0 331.1,215.6 332.1,215.1 333.1,214.6 334.1,214.1 335.1,213.4 336.1,212.7 337.1,212.0 338.1,211.3 339.1,210.6 340.1,209.9 341.1,209.3 342.1,208.7 343.1,208.1 344.1,207.5 345.1,206.9 346.1,206.4 347.1,205.8 348.1,205.3 349.1,204.9 350.1,204.5 351.1,204.1 352.1,203.7 353.1,203.4 354.1,203.0 355.1,202.7 356.1,202.3 357.1,202.0 358.1,201.6 359.1,201.3 360.1,201.0 361.1,200.7 362.1,200.4 363.1,200.2 364.1,200.0 365.1,199.8 366.1,199.5 367.1,199.1 368.1,198.7 369.1,198.3 370.1,198.0 371.1,197.6 372.1,197.2 373.1,196.8 374.1,196.3 375.1,195.9 376.1,195.5 377.1,194.9 378.1,194.2 379.1,193.3 380.1,192.4 381.1,191.4 382.1,190.2 383.1,188.8 384.1,187.3 385.1,185.7 386.1,183.8 387.1,181.8 388.1,179.7 389.1,177.5 390.1,175.1 391.1,172.3 392.1,169.4 393.1,166.2 394.1,162.8 395.1,159.3 396.1,155.7 397.1,152.0 398.1,148.7 399.1,145.8 400.1,143.2 401.1,141.1 402.1,139.6 403.1,138.6 404.1,138.2 405.1,138.1 406.1,138.4 407.1,139.1 408.1,140.3 409.1,141.8 410.1,143.6 411.1,145.8 412.1,148.1 413.1,150.4 414.1,152.7 415.1,155.0 416.1,157.3 417.1,159.7 418.1,161.9 419.1,164.0 420.1,166.0 421.1,167.7 422.1,168.7 423.1,169.2 424.1,169.0 425.1,168.3 426.1,167.2 427.1,165.8 428.1,164.4 429.1,162.9 430.1,161.3 431.1,159.6 432.1,157.9 433.1,156.1 434.1,153.9 435.1,151.6 436.1,149.3 437.1,146.9 438.1,144.6 439.1,142.2 440.1,139.9 441.1,138.0 442.1,136.5 443.1,135.1 444.1,134.0 445.1,133.3 446.1,133.1 447.1,133.3 448.1,134.0 449.1,135.3 450.1,136.9 451.1,138.6 452.1,140.5 453.1,142.4 454.1,144.4 455.1,146.3 456.1,148.3 457.1,150.2 458.1,151.5 459.1,152.3 460.1,152.8 461.1,153.1 462.1,153.0 463.1,152.5 464.1,151.5 465.1,150.2 466.1,148.9 467.1,147.5 468.1,146.0 469.1,144.5 470.1,142.9 471.1,141.1 472.1,138.6 473.1,136.2 474.1,134.1 475.1,132.2 476.1,130.4 477.1,128.9 478.1,127.5 479.1,126.2 480.1,125.3 481.1,124.7 482.1,124.6 483.1,124.9 484.1,125.7 485.1,127.1 486.1,128.9 487.1,131.0 488.1,133.2 489.1,135.3 490.1,137.4 491.1,139.4 492.1,141.1 493.1,142.5 494.1,143.5 495.1,144.3 496.1,145.3 497.1,146.8 498.1,149.1 499.1,151.8 500.1,154.9 501.1,157.2 502.1,159.2 503.1,161.3 504.1,163.5 505.1,165.8 506.1,167.9 507.1,169.8 508.1,171.6 509.1,173.1 510.1,174.6 511.1,176.0 512.1,177.2 513.1,178.4 514.1,179.5 515.1,180.5 516.1,181.4 517.1,182.2 518.1,183.0 519.1,183.8 520.1,184.4 521.1,184.9 522.1,185.4 523.1,185.8 524.1,186.2 525.1,186.5 526.1,186.8 527.1,187.0 528.1,187.1 529.1,187.2 530.1,187.3 531.0,187.4" stroke="#f5e060" stroke-width="0.9"/>
</g>
<g fill="none" stroke-width="0.6" stroke-opacity="0.88" stroke-linejoin="round">
<path d="M319.0,219.7 320.0,219.9 321.0,220.2 322.0,220.5 323.0,220.8 324.0,221.0 325.0,221.0 326.0,220.9 327.0,220.7 328.0,220.4 329.0,220.0 330.0,219.4 331.0,218.8 332.0,218.2 333.0,217.5 334.0,216.7 335.0,215.8 336.0,214.8 337.0,213.8 338.0,212.8 339.0,211.8 340.0,210.9 341.0,210.0 342.0,209.1 343.0,208.2 344.0,207.4 345.0,206.7 346.0,206.0 347.0,205.5 348.0,204.9 349.0,204.4 350.0,204.0 351.0,203.5 352.0,203.1 353.0,202.7 354.0,202.3 355.0,202.0 356.0,201.7 357.0,201.4 358.0,201.1 359.0,200.7 360.0,200.4 361.0,200.0 362.0,199.6 363.0,199.2 364.0,198.7 365.0,198.2 366.0,197.6 367.0,197.0 368.0,196.4 369.0,195.6 370.0,194.9 371.0,194.0 372.0,193.0 373.0,192.0 374.0,190.9 375.0,189.8 376.0,188.6 377.0,187.3 378.0,186.0 379.0,184.5 380.0,182.8 381.0,180.8 382.0,178.7 383.0,176.0 384.0,172.8 385.0,169.2 386.0,165.6 387.0,162.0 388.0,158.5 389.0,155.0 390.0,151.3 391.0,147.5 392.0,143.6 393.0,139.7 394.0,135.8 395.0,132.0 396.0,127.8 397.0,123.0 398.0,118.7 399.0,115.1 400.0,112.0 401.0,109.4 402.0,107.3 403.0,105.8 404.0,104.8 405.0,104.3 406.0,104.3 407.0,104.8 408.0,105.8 409.0,107.3 410.0,109.3 411.0,111.9 412.0,115.3 413.0,119.4 414.0,124.4 415.0,129.7 416.0,133.1 417.0,136.3 418.0,139.4 419.0,142.4 420.0,145.3 421.0,148.2 422.0,151.1 423.0,154.2 424.0,157.5 425.0,160.7 426.0,163.9 427.0,166.7 428.0,169.3 429.0,171.6 430.0,173.7 431.0,175.5 432.0,177.1 433.0,178.5 434.0,179.7 435.0,180.8 436.0,181.8 437.0,182.7 438.0,183.5 439.0,184.2 440.0,184.7 441.0,185.2 442.0,185.5 443.0,185.8 444.0,185.9 445.0,186.0 446.0,186.0 447.0,185.9 448.0,185.7 449.0,185.4 450.0,185.0 451.0,184.5 452.0,183.8 453.0,183.0 454.0,182.0 455.0,180.8 456.0,179.3 457.0,177.6 458.0,175.6 459.0,173.6 460.0,171.4 461.0,169.1 462.0,166.7 463.0,164.3 464.0,161.7 465.0,158.9 466.0,155.9 467.0,152.7 468.0,149.4 469.0,145.5 470.0,141.2 471.0,136.9 472.0,132.5 473.0,128.1 474.0,123.5 475.0,118.4 476.0,113.9 477.0,110.1 478.0,106.9 479.0,103.9 480.0,101.8 481.0,100.6 482.0,100.2 483.0,100.1 484.0,100.3 485.0,101.3 486.0,103.0 487.0,105.3 488.0,108.0 489.0,110.7 490.0,113.6 491.0,116.5 492.0,119.5 493.0,122.4 494.0,125.1 495.0,128.2 496.0,131.8 497.0,136.4 498.0,141.5 499.0,146.5 500.0,151.3 501.0,154.8 502.0,157.4 503.0,159.9 504.0,162.5 505.0,165.0 506.0,167.1 507.0,168.9 508.0,170.3 509.0,171.6 510.0,172.9 511.0,174.2 512.0,175.5 513.0,176.8 514.0,178.0 515.0,179.1 516.0,180.2 517.0,181.1 518.0,181.9 519.0,182.6 520.0,183.2 521.0,183.7 522.0,184.2 523.0,184.6 524.0,184.9 525.0,185.3 526.0,185.5 527.0,185.7 528.0,185.8 529.0,185.9 530.0,186.0 531.0,186.0 532.0,186.1 533.0,186.2 534.0,186.2" stroke="#10cc30"/>
<path d="M319.0,218.2 320.0,218.2 321.0,218.3 322.0,218.3 323.0,218.4 324.0,218.4 325.0,218.3 326.0,218.1 327.0,217.8 328.0,217.4 329.0,216.9 330.0,216.4 331.0,215.8 332.0,215.2 333.0,214.6 334.0,213.9 335.0,213.2 336.0,212.4 337.0,211.6 338.0,210.8 339.0,210.0 340.0,209.3 341.0,208.5 342.0,207.8 343.0,207.1 344.0,206.4 345.0,205.8 346.0,205.3 347.0,204.8 348.0,204.3 349.0,203.8 350.0,203.3 351.0,202.8 352.0,202.3 353.0,201.8 354.0,201.2 355.0,200.8 356.0,200.3 357.0,199.8 358.0,199.4 359.0,199.0 360.0,198.5 361.0,198.0 362.0,197.6 363.0,197.1 364.0,196.6 365.0,196.1 366.0,195.7 367.0,195.2 368.0,194.6 369.0,194.1 370.0,193.5 371.0,192.9 372.0,192.1 373.0,191.3 374.0,190.5 375.0,189.6 376.0,188.6 377.0,187.5 378.0,186.4 379.0,185.2 380.0,183.6 381.0,181.8 382.0,179.8 383.0,177.4 384.0,174.4 385.0,170.9 386.0,167.3 387.0,163.7 388.0,160.2 389.0,156.6 390.0,153.0 391.0,149.1 392.0,145.2 393.0,141.2 394.0,137.3 395.0,133.3 396.0,129.3 397.0,124.5 398.0,119.9 399.0,116.1 400.0,112.8 401.0,110.0 402.0,107.7 403.0,106.0 404.0,104.8 405.0,104.2 406.0,104.0 407.0,104.4 408.0,105.2 409.0,106.6 410.0,108.4 411.0,110.9 412.0,114.1 413.0,118.0 414.0,122.6 415.0,128.2 416.0,132.1 417.0,135.3 418.0,138.4 419.0,141.4 420.0,144.4 421.0,147.2 422.0,150.2 423.0,153.2 424.0,156.4 425.0,159.6 426.0,162.8 427.0,165.7 428.0,168.3 429.0,170.7 430.0,172.8 431.0,174.6 432.0,176.2 433.0,177.6 434.0,178.8 435.0,179.8 436.0,180.8 437.0,181.7 438.0,182.5 439.0,183.2 440.0,183.7 441.0,184.2 442.0,184.6 443.0,184.9 444.0,185.1 445.0,185.2 446.0,185.3 447.0,185.3 448.0,185.1 449.0,184.9 450.0,184.6 451.0,184.2 452.0,183.6 453.0,183.0 454.0,182.1 455.0,181.0 456.0,179.6 457.0,178.0 458.0,176.1 459.0,174.1 460.0,172.0 461.0,169.7 462.0,167.3 463.0,164.8 464.0,162.3 465.0,159.5 466.0,156.5 467.0,153.3 468.0,149.9 469.0,146.1 470.0,141.8 471.0,137.3 472.0,132.9 473.0,128.4 474.0,123.8 475.0,118.7 476.0,113.9 477.0,109.9 478.0,106.4 479.0,103.4 480.0,100.9 481.0,99.4 482.0,98.9 483.0,98.7 484.0,98.8 485.0,99.6 486.0,101.2 487.0,103.5 488.0,106.2 489.0,109.0 490.0,111.9 491.0,114.9 492.0,117.9 493.0,121.0 494.0,123.8 495.0,126.8 496.0,130.3 497.0,134.7 498.0,139.7 499.0,144.9 500.0,149.7 501.0,153.8 502.0,156.5 503.0,159.0 504.0,161.6 505.0,164.0 506.0,166.3 507.0,168.0 508.0,169.5 509.0,170.7 510.0,171.9 511.0,173.2 512.0,174.5 513.0,175.7 514.0,176.9 515.0,178.0 516.0,179.0 517.0,179.9 518.0,180.7 519.0,181.5 520.0,182.1 521.0,182.7 522.0,183.2 523.0,183.6 524.0,184.0 525.0,184.4 526.0,184.8 527.0,185.0 528.0,185.2 529.0,185.4 530.0,185.5 531.0,185.6 532.0,185.7 533.0,185.8 534.0,185.9" stroke="#22e044"/>
<path d="M319.0,221.6 320.0,221.8 321.0,222.0 322.0,222.2 323.0,222.4 324.0,222.5 325.0,222.5 326.0,222.3 327.0,222.1 328.0,221.7 329.0,221.2 330.0,220.7 331.0,220.1 332.0,219.5 333.0,218.8 334.0,218.1 335.0,217.2 336.0,216.3 337.0,215.4 338.0,214.4 339.0,213.5 340.0,212.5 341.0,211.6 342.0,210.7 343.0,209.9 344.0,209.0 345.0,208.3 346.0,207.6 347.0,207.0 348.0,206.3 349.0,205.7 350.0,205.1 351.0,204.6 352.0,204.0 353.0,203.5 354.0,202.9 355.0,202.5 356.0,202.0 357.0,201.6 358.0,201.2 359.0,200.7 360.0,200.3 361.0,199.9 362.0,199.4 363.0,199.0 364.0,198.5 365.0,198.0 366.0,197.5 367.0,196.9 368.0,196.4 369.0,195.7 370.0,195.1 371.0,194.3 372.0,193.4 373.0,192.5 374.0,191.5 375.0,190.5 376.0,189.3 377.0,188.2 378.0,186.9 379.0,185.4 380.0,183.7 381.0,181.8 382.0,179.5 383.0,176.9 384.0,173.5 385.0,169.9 386.0,166.4 387.0,162.8 388.0,159.3 389.0,155.8 390.0,152.1 391.0,148.2 392.0,144.3 393.0,140.5 394.0,136.6 395.0,132.7 396.0,128.5 397.0,123.6 398.0,119.5 399.0,116.0 400.0,113.0 401.0,110.6 402.0,108.6 403.0,107.2 404.0,106.3 405.0,105.9 406.0,106.0 407.0,106.6 408.0,107.7 409.0,109.2 410.0,111.3 411.0,114.1 412.0,117.6 413.0,121.7 414.0,126.8 415.0,131.7 416.0,135.0 417.0,138.2 418.0,141.2 419.0,144.1 420.0,146.9 421.0,149.8 422.0,152.7 423.0,155.8 424.0,159.0 425.0,162.1 426.0,165.2 427.0,168.0 428.0,170.4 429.0,172.7 430.0,174.6 431.0,176.4 432.0,177.9 433.0,179.2 434.0,180.3 435.0,181.4 436.0,182.4 437.0,183.2 438.0,184.0 439.0,184.7 440.0,185.2 441.0,185.7 442.0,186.0 443.0,186.3 444.0,186.4 445.0,186.5 446.0,186.5 447.0,186.5 448.0,186.3 449.0,186.0 450.0,185.6 451.0,185.1 452.0,184.4 453.0,183.6 454.0,182.6 455.0,181.4 456.0,179.9 457.0,178.2 458.0,176.3 459.0,174.3 460.0,172.2 461.0,170.0 462.0,167.7 463.0,165.4 464.0,163.0 465.0,160.3 466.0,157.5 467.0,154.6 468.0,151.4 469.0,147.8 470.0,143.9 471.0,140.0 472.0,136.0 473.0,132.0 474.0,127.8 475.0,123.2 476.0,119.3 477.0,116.1 478.0,113.2 479.0,110.7 480.0,109.0 481.0,108.2 482.0,108.0 483.0,107.9 484.0,108.3 485.0,109.4 486.0,111.2 487.0,113.5 488.0,116.0 489.0,118.5 490.0,121.2 491.0,123.9 492.0,126.7 493.0,129.4 494.0,131.9 495.0,134.8 496.0,138.3 497.0,142.6 498.0,147.3 499.0,151.8 500.0,156.0 501.0,159.0 502.0,161.3 503.0,163.6 504.0,165.9 505.0,168.1 506.0,170.0 507.0,171.5 508.0,172.7 509.0,173.9 510.0,175.0 511.0,176.2 512.0,177.4 513.0,178.5 514.0,179.6 515.0,180.6 516.0,181.5 517.0,182.3 518.0,183.0 519.0,183.6 520.0,184.2 521.0,184.6 522.0,185.0 523.0,185.4 524.0,185.7 525.0,186.0 526.0,186.3 527.0,186.5 528.0,186.6 529.0,186.6 530.0,186.7 531.0,186.7 532.0,186.8 533.0,186.8 534.0,186.9" stroke="#18d838"/>
<path d="M319.0,223.2 320.0,223.3 321.0,223.4 322.0,223.6 323.0,223.8 324.0,223.8 325.0,223.8 326.0,223.5 327.0,223.2 328.0,222.7 329.0,222.1 330.0,221.5 331.0,220.7 332.0,219.9 333.0,219.0 334.0,218.1 335.0,217.1 336.0,216.0 337.0,214.8 338.0,213.7 339.0,212.6 340.0,211.5 341.0,210.5 342.0,209.4 343.0,208.5 344.0,207.6 345.0,206.8 346.0,206.1 347.0,205.5 348.0,204.9 349.0,204.4 350.0,203.9 351.0,203.5 352.0,203.1 353.0,202.7 354.0,202.4 355.0,202.1 356.0,201.9 357.0,201.6 358.0,201.4 359.0,201.2 360.0,200.9 361.0,200.7 362.0,200.3 363.0,200.0 364.0,199.6 365.0,199.2 366.0,198.8 367.0,198.3 368.0,197.8 369.0,197.2 370.0,196.5 371.0,195.8 372.0,194.9 373.0,193.9 374.0,192.9 375.0,191.9 376.0,190.7 377.0,189.5 378.0,188.3 379.0,186.9 380.0,185.3 381.0,183.4 382.0,181.4 383.0,179.0 384.0,176.0 385.0,172.6 386.0,169.2 387.0,165.8 388.0,162.5 389.0,159.2 390.0,155.8 391.0,152.2 392.0,148.6 393.0,144.9 394.0,141.3 395.0,137.7 396.0,133.9 397.0,129.4 398.0,125.3 399.0,121.8 400.0,118.9 401.0,116.4 402.0,114.4 403.0,112.9 404.0,111.8 405.0,111.2 406.0,111.1 407.0,111.5 408.0,112.4 409.0,113.6 410.0,115.4 411.0,117.7 412.0,120.7 413.0,124.3 414.0,128.7 415.0,133.7 416.0,137.0 417.0,140.0 418.0,142.8 419.0,145.4 420.0,148.1 421.0,150.7 422.0,153.3 423.0,156.2 424.0,159.1 425.0,162.1 426.0,165.1 427.0,167.8 428.0,170.3 429.0,172.5 430.0,174.6 431.0,176.3 432.0,177.9 433.0,179.3 434.0,180.5 435.0,181.5 436.0,182.5 437.0,183.4 438.0,184.2 439.0,184.9 440.0,185.5 441.0,185.9 442.0,186.2 443.0,186.5 444.0,186.6 445.0,186.7 446.0,186.7 447.0,186.6 448.0,186.4 449.0,186.0 450.0,185.6 451.0,185.1 452.0,184.4 453.0,183.7 454.0,182.7 455.0,181.5 456.0,180.1 457.0,178.5 458.0,176.6 459.0,174.7 460.0,172.7 461.0,170.6 462.0,168.5 463.0,166.3 464.0,164.1 465.0,161.7 466.0,159.1 467.0,156.4 468.0,153.6 469.0,150.4 470.0,146.9 471.0,143.2 472.0,139.6 473.0,135.9 474.0,132.2 475.0,127.9 476.0,124.1 477.0,120.9 478.0,118.2 479.0,115.8 480.0,114.0 481.0,113.0 482.0,112.7 483.0,112.6 484.0,112.8 485.0,113.7 486.0,115.2 487.0,117.2 488.0,119.5 489.0,121.9 490.0,124.4 491.0,127.0 492.0,129.6 493.0,132.1 494.0,134.6 495.0,137.1 496.0,140.2 497.0,144.0 498.0,148.4 499.0,152.7 500.0,156.8 501.0,160.1 502.0,162.4 503.0,164.5 504.0,166.7 505.0,168.9 506.0,170.7 507.0,172.2 508.0,173.5 509.0,174.6 510.0,175.6 511.0,176.7 512.0,177.8 513.0,178.9 514.0,179.9 515.0,180.8 516.0,181.7 517.0,182.4 518.0,183.1 519.0,183.6 520.0,184.1 521.0,184.5 522.0,184.9 523.0,185.2 524.0,185.5 525.0,185.7 526.0,185.9 527.0,186.0 528.0,186.1 529.0,186.1 530.0,186.2 531.0,186.2 532.0,186.2 533.0,186.3 534.0,186.3" stroke="#22e044"/>
<path d="M319.0,208.6 320.0,208.6 321.0,208.6 322.0,208.6 323.0,208.7 324.0,208.7 325.0,208.8 326.0,208.7 327.0,208.6 328.0,208.5 329.0,208.3 330.0,208.0 331.0,207.7 332.0,207.4 333.0,207.0 334.0,206.7 335.0,206.3 336.0,205.9 337.0,205.5 338.0,205.1 339.0,204.7 340.0,204.3 341.0,203.9 342.0,203.5 343.0,203.1 344.0,202.8 345.0,202.4 346.0,202.1 347.0,201.7 348.0,201.4 349.0,201.1 350.0,200.8 351.0,200.6 352.0,200.4 353.0,200.2 354.0,200.0 355.0,199.8 356.0,199.7 357.0,199.5 358.0,199.3 359.0,199.2 360.0,199.1 361.0,198.9 362.0,198.9 363.0,198.8 364.0,198.9 365.0,198.9 366.0,198.9 367.0,199.0 368.0,199.0 369.0,199.0 370.0,199.0 371.0,198.9 372.0,198.8 373.0,198.8 374.0,198.7 375.0,198.6 376.0,198.4 377.0,198.3 378.0,198.1 379.0,197.9 380.0,197.7 381.0,197.4 382.0,197.1 383.0,196.9 384.0,196.6 385.0,196.3 386.0,196.1 387.0,195.8 388.0,195.5 389.0,195.3 390.0,195.0 391.0,194.7 392.0,194.5 393.0,194.2 394.0,194.0 395.0,193.7 396.0,193.5 397.0,193.2 398.0,193.0 399.0,192.7 400.0,192.5 401.0,192.2 402.0,192.0 403.0,191.7 404.0,191.5 405.0,191.3 406.0,191.0 407.0,190.8 408.0,190.5 409.0,190.1 410.0,189.7 411.0,189.3 412.0,188.7 413.0,188.0 414.0,187.3 415.0,186.5 416.0,185.7 417.0,184.7 418.0,183.7 419.0,182.6 420.0,181.1 421.0,179.2 422.0,176.7 423.0,174.1 424.0,171.4 425.0,168.6 426.0,165.7 427.0,162.7 428.0,159.2 429.0,155.2 430.0,150.5 431.0,146.2 432.0,142.4 433.0,138.6 434.0,134.6 435.0,130.5 436.0,126.3 437.0,121.8 438.0,117.0 439.0,112.3 440.0,107.8 441.0,103.5 442.0,100.0 443.0,97.1 444.0,94.9 445.0,93.6 446.0,93.3 447.0,93.8 448.0,94.8 449.0,96.3 450.0,98.7 451.0,101.5 452.0,104.7 453.0,108.2 454.0,111.8 455.0,115.5 456.0,119.1 457.0,122.7 458.0,126.1 459.0,129.4 460.0,132.0 461.0,134.2 462.0,136.2 463.0,137.7 464.0,138.7 465.0,139.0 466.0,138.6 467.0,137.7 468.0,136.2 469.0,134.4 470.0,132.1 471.0,129.3 472.0,126.4 473.0,123.6 474.0,120.9 475.0,118.4 476.0,116.1 477.0,114.1 478.0,112.6 479.0,111.4 480.0,110.4 481.0,109.6 482.0,109.3 483.0,109.5 484.0,110.3 485.0,111.8 486.0,113.5 487.0,115.4 488.0,117.7 489.0,120.1 490.0,122.6 491.0,125.3 492.0,127.9 493.0,130.5 494.0,132.9 495.0,135.5 496.0,138.6 497.0,142.5 498.0,146.9 499.0,151.2 500.0,155.4 501.0,158.6 502.0,160.9 503.0,163.0 504.0,165.1 505.0,167.2 506.0,169.2 507.0,171.0 508.0,172.5 509.0,173.9 510.0,175.2 511.0,176.5 512.0,177.6 513.0,178.7 514.0,179.6 515.0,180.5 516.0,181.3 517.0,182.1 518.0,182.8 519.0,183.4 520.0,184.0 521.0,184.5 522.0,184.9 523.0,185.3 524.0,185.6 525.0,185.9 526.0,186.2 527.0,186.4 528.0,186.5 529.0,186.6 530.0,186.7 531.0,186.8 532.0,186.8 533.0,186.9 534.0,186.9" stroke="#ff4890"/>
<path d="M319.0,224.8 320.0,225.0 321.0,225.2 322.0,225.4 323.0,225.6 324.0,225.6 325.0,225.5 326.0,225.3 327.0,224.9 328.0,224.3 329.0,223.7 330.0,223.0 331.0,222.2 332.0,221.3 333.0,220.4 334.0,219.3 335.0,218.2 336.0,217.1 337.0,215.9 338.0,214.7 339.0,213.5 340.0,212.4 341.0,211.3 342.0,210.3 343.0,209.3 344.0,208.4 345.0,207.6 346.0,206.9 347.0,206.2 348.0,205.6 349.0,205.1 350.0,204.6 351.0,204.1 352.0,203.7 353.0,203.3 354.0,203.0 355.0,202.7 356.0,202.4 357.0,202.2 358.0,201.9 359.0,201.7 360.0,201.4 361.0,201.1 362.0,200.7 363.0,200.3 364.0,199.9 365.0,199.5 366.0,199.0 367.0,198.5 368.0,197.9 369.0,197.2 370.0,196.5 371.0,195.7 372.0,194.7 373.0,193.7 374.0,192.7 375.0,191.5 376.0,190.3 377.0,189.1 378.0,187.8 379.0,186.3 380.0,184.5 381.0,182.6 382.0,180.4 383.0,177.7 384.0,174.4 385.0,170.9 386.0,167.4 387.0,163.9 388.0,160.5 389.0,157.0 390.0,153.4 391.0,149.7 392.0,145.9 393.0,142.1 394.0,138.3 395.0,134.6 396.0,130.4 397.0,125.7 398.0,121.7 399.0,118.2 400.0,115.3 401.0,112.8 402.0,110.9 403.0,109.5 404.0,108.6 405.0,108.1 406.0,108.2 407.0,108.8 408.0,109.8 409.0,111.2 410.0,113.3 411.0,115.9 412.0,119.3 413.0,123.2 414.0,128.3 415.0,133.1 416.0,136.3 417.0,139.3 418.0,142.2 419.0,145.0 420.0,147.8 421.0,150.6 422.0,153.4 423.0,156.5 424.0,159.6 425.0,162.8 426.0,165.8 427.0,168.6 428.0,171.0 429.0,173.3 430.0,175.3 431.0,177.0 432.0,178.6 433.0,179.9 434.0,181.1 435.0,182.1 436.0,183.1 437.0,184.0 438.0,184.8 439.0,185.5 440.0,186.0 441.0,186.4 442.0,186.7 443.0,186.9 444.0,187.0 445.0,187.1 446.0,187.1 447.0,186.9 448.0,186.7 449.0,186.3 450.0,185.9 451.0,185.3 452.0,184.6 453.0,183.8 454.0,182.7 455.0,181.5 456.0,180.0 457.0,178.3 458.0,176.4 459.0,174.4 460.0,172.3 461.0,170.2 462.0,168.0 463.0,165.8 464.0,163.5 465.0,161.0 466.0,158.4 467.0,155.7 468.0,152.7 469.0,149.3 470.0,145.6 471.0,141.9 472.0,138.2 473.0,134.5 474.0,130.5 475.0,126.2 476.0,122.6 477.0,119.5 478.0,116.9 479.0,114.5 480.0,112.9 481.0,112.2 482.0,112.0 483.0,112.0 484.0,112.3 485.0,113.4 486.0,115.1 487.0,117.3 488.0,119.7 489.0,122.1 490.0,124.6 491.0,127.3 492.0,129.9 493.0,132.4 494.0,134.9 495.0,137.6 496.0,141.0 497.0,145.1 498.0,149.6 499.0,153.9 500.0,158.0 501.0,160.9 502.0,163.1 503.0,165.3 504.0,167.5 505.0,169.7 506.0,171.4 507.0,172.9 508.0,174.1 509.0,175.2 510.0,176.3 511.0,177.4 512.0,178.5 513.0,179.6 514.0,180.6 515.0,181.5 516.0,182.3 517.0,183.0 518.0,183.7 519.0,184.2 520.0,184.7 521.0,185.1 522.0,185.4 523.0,185.7 524.0,185.9 525.0,186.1 526.0,186.3 527.0,186.4 528.0,186.5 529.0,186.5 530.0,186.5 531.0,186.5 532.0,186.6 533.0,186.6 534.0,186.7" stroke="#18d838"/>
<path d="M319.0,208.9 320.0,208.9 321.0,209.0 322.0,209.1 323.0,209.2 324.0,209.2 325.0,209.2 326.0,209.1 327.0,208.9 328.0,208.7 329.0,208.4 330.0,208.1 331.0,207.7 332.0,207.3 333.0,206.9 334.0,206.5 335.0,206.1 336.0,205.7 337.0,205.2 338.0,204.8 339.0,204.3 340.0,203.9 341.0,203.5 342.0,203.1 343.0,202.8 344.0,202.5 345.0,202.1 346.0,201.8 347.0,201.5 348.0,201.2 349.0,200.9 350.0,200.7 351.0,200.6 352.0,200.4 353.0,200.2 354.0,200.1 355.0,199.9 356.0,199.8 357.0,199.7 358.0,199.5 359.0,199.4 360.0,199.3 361.0,199.2 362.0,199.1 363.0,199.1 364.0,199.1 365.0,199.1 366.0,199.1 367.0,199.1 368.0,199.1 369.0,199.0 370.0,199.0 371.0,198.9 372.0,198.8 373.0,198.7 374.0,198.5 375.0,198.4 376.0,198.3 377.0,198.1 378.0,197.9 379.0,197.7 380.0,197.5 381.0,197.2 382.0,197.0 383.0,196.7 384.0,196.5 385.0,196.2 386.0,196.0 387.0,195.7 388.0,195.5 389.0,195.2 390.0,195.0 391.0,194.7 392.0,194.5 393.0,194.2 394.0,194.0 395.0,193.7 396.0,193.5 397.0,193.2 398.0,193.0 399.0,192.7 400.0,192.5 401.0,192.2 402.0,192.0 403.0,191.7 404.0,191.5 405.0,191.2 406.0,191.0 407.0,190.7 408.0,190.3 409.0,189.9 410.0,189.5 411.0,188.9 412.0,188.3 413.0,187.6 414.0,186.8 415.0,186.0 416.0,185.1 417.0,184.1 418.0,183.0 419.0,181.7 420.0,180.0 421.0,177.7 422.0,175.2 423.0,172.5 424.0,169.7 425.0,166.9 426.0,164.0 427.0,160.7 428.0,157.0 429.0,152.5 430.0,148.0 431.0,144.1 432.0,140.4 433.0,136.5 434.0,132.5 435.0,128.3 436.0,124.0 437.0,119.3 438.0,114.5 439.0,109.9 440.0,105.5 441.0,101.6 442.0,98.5 443.0,96.0 444.0,94.3 445.0,93.5 446.0,93.6 447.0,94.4 448.0,95.5 449.0,97.4 450.0,99.9 451.0,102.8 452.0,106.0 453.0,109.4 454.0,112.8 455.0,116.2 456.0,119.6 457.0,122.8 458.0,125.9 459.0,128.6 460.0,131.0 461.0,133.0 462.0,134.9 463.0,136.6 464.0,138.2 465.0,139.5 466.0,140.3 467.0,140.7 468.0,140.5 469.0,139.9 470.0,139.0 471.0,137.8 472.0,136.3 473.0,134.8 474.0,133.3 475.0,131.9 476.0,130.7 477.0,129.6 478.0,128.6 479.0,127.7 480.0,127.0 481.0,126.6 482.0,126.5 483.0,126.8 484.0,127.6 485.0,128.6 486.0,129.9 487.0,131.5 488.0,133.2 489.0,135.3 490.0,137.8 491.0,140.8 492.0,143.9 493.0,147.1 494.0,150.4 495.0,153.5 496.0,156.4 497.0,159.0 498.0,161.4 499.0,163.8 500.0,166.0 501.0,167.9 502.0,169.6 503.0,171.1 504.0,172.5 505.0,173.8 506.0,175.1 507.0,176.5 508.0,177.8 509.0,179.0 510.0,180.2 511.0,181.3 512.0,182.4 513.0,183.3 514.0,184.1 515.0,184.8 516.0,185.5 517.0,186.0 518.0,186.5 519.0,186.9 520.0,187.3 521.0,187.7 522.0,188.0 523.0,188.3 524.0,188.4 525.0,188.5 526.0,188.6 527.0,188.6 528.0,188.6 529.0,188.7 530.0,188.7 531.0,188.7 532.0,188.8 533.0,188.8 534.0,188.8" stroke="#f040b0"/>
<path d="M319.0,220.7 320.0,220.6 321.0,220.5 322.0,220.5 323.0,220.4 324.0,220.3 325.0,220.2 326.0,219.9 327.0,219.6 328.0,219.1 329.0,218.6 330.0,218.0 331.0,217.4 332.0,216.7 333.0,216.1 334.0,215.5 335.0,214.8 336.0,214.0 337.0,213.3 338.0,212.5 339.0,211.8 340.0,211.1 341.0,210.5 342.0,209.9 343.0,209.3 344.0,208.8 345.0,208.2 346.0,207.8 347.0,207.4 348.0,207.0 349.0,206.5 350.0,206.1 351.0,205.7 352.0,205.2 353.0,204.7 354.0,204.2 355.0,203.7 356.0,203.2 357.0,202.7 358.0,202.1 359.0,201.6 360.0,201.0 361.0,200.4 362.0,199.8 363.0,199.2 364.0,198.6 365.0,197.9 366.0,197.3 367.0,196.7 368.0,196.0 369.0,195.3 370.0,194.6 371.0,193.9 372.0,193.1 373.0,192.2 374.0,191.3 375.0,190.4 376.0,189.4 377.0,188.3 378.0,187.2 379.0,186.0 380.0,184.6 381.0,182.9 382.0,180.9 383.0,178.7 384.0,175.9 385.0,172.4 386.0,168.8 387.0,165.2 388.0,161.5 389.0,157.9 390.0,154.3 391.0,150.5 392.0,146.5 393.0,142.4 394.0,138.4 395.0,134.4 396.0,130.3 397.0,125.7 398.0,120.8 399.0,116.6 400.0,113.0 401.0,109.9 402.0,107.4 403.0,105.4 404.0,104.0 405.0,103.1 406.0,102.7 407.0,102.8 408.0,103.5 409.0,104.7 410.0,106.4 411.0,108.7 412.0,111.7 413.0,115.4 414.0,119.8 415.0,125.3 416.0,130.1 417.0,133.6 418.0,136.9 419.0,140.1 420.0,143.1 421.0,146.1 422.0,149.1 423.0,152.2 424.0,155.5 425.0,158.8 426.0,162.1 427.0,165.2 428.0,168.0 429.0,170.5 430.0,172.7 431.0,174.7 432.0,176.4 433.0,177.8 434.0,179.1 435.0,180.1 436.0,181.1 437.0,182.0 438.0,182.8 439.0,183.5 440.0,184.1 441.0,184.6 442.0,185.0 443.0,185.3 444.0,185.5 445.0,185.6 446.0,185.7 447.0,185.7 448.0,185.6 449.0,185.5 450.0,185.2 451.0,184.8 452.0,184.4 453.0,183.8 454.0,183.1 455.0,182.1 456.0,181.0 457.0,179.6 458.0,177.9 459.0,176.1 460.0,174.2 461.0,172.2 462.0,170.1 463.0,167.9 464.0,165.7 465.0,163.3 466.0,160.7 467.0,158.0 468.0,155.1 469.0,152.0 470.0,148.3 471.0,144.5 472.0,140.6 473.0,136.7 474.0,132.7 475.0,128.4 476.0,124.0 477.0,120.2 478.0,117.0 479.0,114.2 480.0,111.8 481.0,110.2 482.0,109.4 483.0,109.2 484.0,109.2 485.0,109.6 486.0,110.8 487.0,112.6 488.0,114.9 489.0,117.4 490.0,119.9 491.0,122.6 492.0,125.3 493.0,128.0 494.0,130.6 495.0,133.2 496.0,136.1 497.0,139.6 498.0,143.9 499.0,148.6 500.0,152.9 501.0,157.0 502.0,159.8 503.0,162.0 504.0,164.2 505.0,166.5 506.0,168.5 507.0,170.3 508.0,171.6 509.0,172.8 510.0,173.8 511.0,174.9 512.0,176.0 513.0,177.1 514.0,178.1 515.0,179.1 516.0,180.0 517.0,180.8 518.0,181.6 519.0,182.3 520.0,182.9 521.0,183.4 522.0,183.8 523.0,184.3 524.0,184.7 525.0,185.0 526.0,185.4 527.0,185.7 528.0,185.9 529.0,186.1 530.0,186.2 531.0,186.4 532.0,186.5 533.0,186.7 534.0,186.8" stroke="#2ade4a"/>
<path d="M319.0,218.7 320.0,218.8 321.0,218.9 322.0,219.1 323.0,219.3 324.0,219.4 325.0,219.4 326.0,219.3 327.0,219.0 328.0,218.6 329.0,218.2 330.0,217.6 331.0,217.0 332.0,216.4 333.0,215.7 334.0,215.0 335.0,214.2 336.0,213.3 337.0,212.4 338.0,211.5 339.0,210.6 340.0,209.7 341.0,208.9 342.0,208.1 343.0,207.3 344.0,206.6 345.0,205.9 346.0,205.3 347.0,204.8 348.0,204.3 349.0,203.9 350.0,203.5 351.0,203.0 352.0,202.6 353.0,202.2 354.0,201.8 355.0,201.4 356.0,201.1 357.0,200.7 358.0,200.4 359.0,200.0 360.0,199.7 361.0,199.3 362.0,198.8 363.0,198.4 364.0,197.9 365.0,197.4 366.0,196.9 367.0,196.4 368.0,195.8 369.0,195.2 370.0,194.5 371.0,193.8 372.0,193.0 373.0,192.1 374.0,191.2 375.0,190.2 376.0,189.1 377.0,188.0 378.0,186.8 379.0,185.6 380.0,184.1 381.0,182.3 382.0,180.3 383.0,178.0 384.0,175.2 385.0,171.7 386.0,168.2 387.0,164.7 388.0,161.2 389.0,157.7 390.0,154.1 391.0,150.4 392.0,146.6 393.0,142.7 394.0,138.8 395.0,134.9 396.0,131.1 397.0,126.5 398.0,121.8 399.0,117.9 400.0,114.5 401.0,111.6 402.0,109.3 403.0,107.5 404.0,106.2 405.0,105.4 406.0,105.1 407.0,105.3 408.0,106.0 409.0,107.2 410.0,108.9 411.0,111.1 412.0,114.1 413.0,117.8 414.0,122.0 415.0,127.5 416.0,131.7 417.0,135.0 418.0,138.1 419.0,141.0 420.0,143.9 421.0,146.8 422.0,149.7 423.0,152.6 424.0,155.8 425.0,159.0 426.0,162.2 427.0,165.2 428.0,167.9 429.0,170.3 430.0,172.5 431.0,174.4 432.0,176.1 433.0,177.6 434.0,178.9 435.0,179.9 436.0,181.0 437.0,181.9 438.0,182.7 439.0,183.5 440.0,184.1 441.0,184.6 442.0,185.0 443.0,185.3 444.0,185.5 445.0,185.6 446.0,185.7 447.0,185.7 448.0,185.5 449.0,185.3 450.0,185.0 451.0,184.5 452.0,184.0 453.0,183.3 454.0,182.4 455.0,181.3 456.0,180.0 457.0,178.4 458.0,176.6 459.0,174.6 460.0,172.5 461.0,170.2 462.0,167.9 463.0,165.5 464.0,162.9 465.0,160.2 466.0,157.3 467.0,154.1 468.0,150.9 469.0,147.2 470.0,143.0 471.0,138.7 472.0,134.2 473.0,129.8 474.0,125.3 475.0,120.3 476.0,115.4 477.0,111.2 478.0,107.7 479.0,104.5 480.0,101.9 481.0,100.1 482.0,99.4 483.0,99.2 484.0,99.1 485.0,99.7 486.0,101.1 487.0,103.2 488.0,105.8 489.0,108.5 490.0,111.3 491.0,114.3 492.0,117.3 493.0,120.3 494.0,123.2 495.0,126.1 496.0,129.4 497.0,133.6 498.0,138.5 499.0,143.7 500.0,148.6 501.0,153.0 502.0,155.9 503.0,158.4 504.0,161.0 505.0,163.6 506.0,165.9 507.0,167.8 508.0,169.4 509.0,170.7 510.0,172.0 511.0,173.2 512.0,174.5 513.0,175.8 514.0,177.0 515.0,178.1 516.0,179.2 517.0,180.1 518.0,181.0 519.0,181.7 520.0,182.4 521.0,182.9 522.0,183.4 523.0,183.8 524.0,184.2 525.0,184.6 526.0,184.9 527.0,185.2 528.0,185.4 529.0,185.5 530.0,185.6 531.0,185.6 532.0,185.7 533.0,185.8 534.0,185.9" stroke="#22e044"/>
<path d="M319.0,214.4 320.0,214.5 321.0,214.5 322.0,214.6 323.0,214.6 324.0,214.5 325.0,214.3 326.0,214.0 327.0,213.7 328.0,213.3 329.0,212.8 330.0,212.2 331.0,211.6 332.0,211.0 333.0,210.4 334.0,209.8 335.0,209.2 336.0,208.5 337.0,207.9 338.0,207.3 339.0,206.8 340.0,206.3 341.0,205.9 342.0,205.5 343.0,205.2 344.0,205.0 345.0,204.8 346.0,204.5 347.0,204.4 348.0,204.2 349.0,204.0 350.0,203.9 351.0,203.8 352.0,203.7 353.0,203.6 354.0,203.5 355.0,203.4 356.0,203.3 357.0,203.1 358.0,202.9 359.0,202.6 360.0,202.4 361.0,202.1 362.0,201.9 363.0,201.7 364.0,201.5 365.0,201.3 366.0,201.2 367.0,201.0 368.0,200.8 369.0,200.7 370.0,200.5 371.0,200.3 372.0,200.2 373.0,200.0 374.0,199.9 375.0,199.8 376.0,199.7 377.0,199.6 378.0,199.5 379.0,199.3 380.0,199.2 381.0,199.0 382.0,198.8 383.0,198.6 384.0,198.4 385.0,198.2 386.0,197.9 387.0,197.7 388.0,197.4 389.0,197.2 390.0,196.9 391.0,196.7 392.0,196.4 393.0,196.2 394.0,195.9 395.0,195.6 396.0,195.3 397.0,195.0 398.0,194.7 399.0,194.4 400.0,194.1 401.0,193.8 402.0,193.5 403.0,193.1 404.0,192.8 405.0,192.5 406.0,192.2 407.0,191.8 408.0,191.5 409.0,191.1 410.0,190.6 411.0,190.1 412.0,189.5 413.0,188.9 414.0,188.1 415.0,187.3 416.0,186.5 417.0,185.6 418.0,184.6 419.0,183.7 420.0,182.6 421.0,180.8 422.0,178.5 423.0,175.9 424.0,173.3 425.0,170.7 426.0,168.1 427.0,165.3 428.0,161.8 429.0,157.7 430.0,152.9 431.0,149.0 432.0,145.6 433.0,142.4 434.0,138.8 435.0,135.1 436.0,131.3 437.0,127.3 438.0,122.8 439.0,118.5 440.0,114.6 441.0,111.1 442.0,108.2 443.0,105.9 444.0,104.2 445.0,103.2 446.0,103.0 447.0,103.4 448.0,104.3 449.0,105.7 450.0,107.6 451.0,109.8 452.0,112.2 453.0,114.8 454.0,117.6 455.0,120.8 456.0,124.0 457.0,126.7 458.0,128.8 459.0,130.6 460.0,132.2 461.0,133.6 462.0,134.9 463.0,135.7 464.0,135.9 465.0,135.5 466.0,134.2 467.0,132.4 468.0,130.2 469.0,127.6 470.0,124.6 471.0,121.4 472.0,118.3 473.0,115.4 474.0,112.6 475.0,110.0 476.0,107.5 477.0,105.2 478.0,103.2 479.0,101.6 480.0,100.4 481.0,99.5 482.0,99.0 483.0,98.7 484.0,98.5 485.0,99.1 486.0,100.6 487.0,102.8 488.0,105.5 489.0,108.4 490.0,111.3 491.0,114.4 492.0,117.5 493.0,120.6 494.0,123.6 495.0,126.7 496.0,130.3 497.0,134.6 498.0,139.8 499.0,145.1 500.0,150.2 501.0,154.5 502.0,157.4 503.0,160.0 504.0,162.6 505.0,165.2 506.0,167.5 507.0,169.5 508.0,171.1 509.0,172.5 510.0,173.7 511.0,175.0 512.0,176.3 513.0,177.5 514.0,178.6 515.0,179.7 516.0,180.6 517.0,181.5 518.0,182.2 519.0,182.9 520.0,183.5 521.0,184.0 522.0,184.4 523.0,184.8 524.0,185.2 525.0,185.5 526.0,185.8 527.0,186.0 528.0,186.2 529.0,186.3 530.0,186.4 531.0,186.5 532.0,186.6 533.0,186.8 534.0,186.9" stroke="#f0184c"/>
<path d="M319.0,211.8 320.0,211.7 321.0,211.7 322.0,211.7 323.0,211.7 324.0,211.7 325.0,211.7 326.0,211.6 327.0,211.5 328.0,211.4 329.0,211.2 330.0,210.9 331.0,210.7 332.0,210.4 333.0,210.1 334.0,209.8 335.0,209.4 336.0,209.0 337.0,208.6 338.0,208.1 339.0,207.7 340.0,207.2 341.0,206.8 342.0,206.4 343.0,206.0 344.0,205.5 345.0,205.1 346.0,204.6 347.0,204.1 348.0,203.6 349.0,203.1 350.0,202.7 351.0,202.3 352.0,201.9 353.0,201.6 354.0,201.2 355.0,200.9 356.0,200.6 357.0,200.3 358.0,200.0 359.0,199.8 360.0,199.7 361.0,199.5 362.0,199.5 363.0,199.5 364.0,199.5 365.0,199.6 366.0,199.8 367.0,199.9 368.0,200.0 369.0,200.1 370.0,200.2 371.0,200.3 372.0,200.4 373.0,200.4 374.0,200.4 375.0,200.4 376.0,200.4 377.0,200.3 378.0,200.2 379.0,200.1 380.0,199.9 381.0,199.6 382.0,199.3 383.0,199.0 384.0,198.6 385.0,198.3 386.0,197.9 387.0,197.5 388.0,197.1 389.0,196.8 390.0,196.5 391.0,196.1 392.0,195.8 393.0,195.5 394.0,195.2 395.0,194.9 396.0,194.6 397.0,194.4 398.0,194.1 399.0,193.8 400.0,193.5 401.0,193.3 402.0,193.0 403.0,192.8 404.0,192.6 405.0,192.3 406.0,192.1 407.0,191.9 408.0,191.5 409.0,191.2 410.0,190.7 411.0,190.3 412.0,189.7 413.0,189.0 414.0,188.2 415.0,187.4 416.0,186.5 417.0,185.5 418.0,184.5 419.0,183.5 420.0,182.1 421.0,180.0 422.0,177.4 423.0,174.8 424.0,172.3 425.0,169.7 426.0,167.1 427.0,164.0 428.0,160.4 429.0,156.1 430.0,151.8 431.0,148.5 432.0,145.5 433.0,142.3 434.0,139.0 435.0,135.6 436.0,132.0 437.0,128.1 438.0,124.0 439.0,120.3 440.0,117.0 441.0,114.0 442.0,111.8 443.0,110.1 444.0,109.0 445.0,108.5 446.0,108.8 447.0,109.6 448.0,110.8 449.0,112.5 450.0,114.5 451.0,116.8 452.0,119.3 453.0,121.9 454.0,124.8 455.0,127.9 456.0,130.8 457.0,133.1 458.0,134.9 459.0,136.5 460.0,138.0 461.0,139.3 462.0,140.3 463.0,140.9 464.0,140.9 465.0,140.2 466.0,138.9 467.0,137.1 468.0,135.1 469.0,132.7 470.0,130.0 471.0,127.3 472.0,124.7 473.0,122.3 474.0,120.1 475.0,117.9 476.0,116.0 477.0,114.2 478.0,112.8 479.0,111.7 480.0,110.9 481.0,110.4 482.0,110.1 483.0,110.0 484.0,110.2 485.0,111.2 486.0,112.9 487.0,115.1 488.0,117.6 489.0,120.2 490.0,122.8 491.0,125.5 492.0,128.2 493.0,130.9 494.0,133.4 495.0,136.2 496.0,139.6 497.0,143.7 498.0,148.3 499.0,152.6 500.0,156.8 501.0,159.7 502.0,162.0 503.0,164.2 504.0,166.4 505.0,168.5 506.0,170.3 507.0,171.8 508.0,173.0 509.0,174.2 510.0,175.3 511.0,176.4 512.0,177.5 513.0,178.6 514.0,179.6 515.0,180.6 516.0,181.4 517.0,182.2 518.0,182.9 519.0,183.6 520.0,184.2 521.0,184.7 522.0,185.1 523.0,185.5 524.0,185.9 525.0,186.2 526.0,186.5 527.0,186.7 528.0,186.8 529.0,186.9 530.0,187.0 531.0,187.1 532.0,187.1 533.0,187.2 534.0,187.3" stroke="#e80c30"/>
<path d="M319.0,210.7 320.0,210.8 321.0,210.8 322.0,210.7 323.0,210.7 324.0,210.5 325.0,210.3 326.0,210.1 327.0,209.8 328.0,209.4 329.0,209.0 330.0,208.5 331.0,208.1 332.0,207.6 333.0,207.1 334.0,206.6 335.0,206.1 336.0,205.6 337.0,205.1 338.0,204.6 339.0,204.1 340.0,203.7 341.0,203.3 342.0,202.9 343.0,202.5 344.0,202.2 345.0,201.8 346.0,201.5 347.0,201.2 348.0,201.0 349.0,200.8 350.0,200.6 351.0,200.5 352.0,200.3 353.0,200.2 354.0,200.1 355.0,200.0 356.0,199.9 357.0,199.8 358.0,199.7 359.0,199.7 360.0,199.7 361.0,199.7 362.0,199.8 363.0,199.8 364.0,199.9 365.0,200.0 366.0,200.0 367.0,200.0 368.0,200.0 369.0,199.9 370.0,199.9 371.0,199.8 372.0,199.7 373.0,199.5 374.0,199.4 375.0,199.2 376.0,199.0 377.0,198.8 378.0,198.5 379.0,198.2 380.0,197.9 381.0,197.6 382.0,197.3 383.0,197.1 384.0,196.8 385.0,196.5 386.0,196.2 387.0,195.9 388.0,195.6 389.0,195.3 390.0,195.1 391.0,194.8 392.0,194.5 393.0,194.3 394.0,194.0 395.0,193.7 396.0,193.4 397.0,193.2 398.0,192.9 399.0,192.7 400.0,192.4 401.0,192.1 402.0,191.9 403.0,191.6 404.0,191.4 405.0,191.1 406.0,190.7 407.0,190.3 408.0,189.9 409.0,189.4 410.0,188.7 411.0,188.0 412.0,187.2 413.0,186.4 414.0,185.6 415.0,184.6 416.0,183.5 417.0,182.3 418.0,180.7 419.0,178.5 420.0,175.9 421.0,173.3 422.0,170.5 423.0,167.7 424.0,164.7 425.0,161.5 426.0,157.9 427.0,153.5 428.0,148.8 429.0,144.8 430.0,140.9 431.0,137.0 432.0,133.0 433.0,128.8 434.0,124.5 435.0,119.8 436.0,114.9 437.0,110.2 438.0,105.7 439.0,101.6 440.0,98.3 441.0,95.5 442.0,93.7 443.0,92.7 444.0,92.7 445.0,93.3 446.0,94.4 447.0,96.2 448.0,98.7 449.0,101.6 450.0,104.8 451.0,108.3 452.0,111.9 453.0,115.5 454.0,119.1 455.0,122.5 456.0,125.8 457.0,128.8 458.0,131.1 459.0,133.1 460.0,134.9 461.0,136.1 462.0,136.7 463.0,136.6 464.0,135.9 465.0,134.5 466.0,132.7 467.0,130.5 468.0,127.8 469.0,124.6 470.0,121.4 471.0,118.5 472.0,115.7 473.0,113.0 474.0,110.6 475.0,108.6 476.0,107.2 477.0,106.0 478.0,104.9 479.0,104.2 480.0,104.0 481.0,104.5 482.0,105.7 483.0,107.4 484.0,109.3 485.0,111.4 486.0,114.0 487.0,116.6 488.0,119.4 489.0,122.2 490.0,125.0 491.0,127.7 492.0,130.3 493.0,133.3 494.0,136.9 495.0,141.3 496.0,146.1 497.0,150.6 498.0,154.9 499.0,157.8 500.0,160.1 501.0,162.4 502.0,164.7 503.0,166.9 504.0,169.0 505.0,170.8 506.0,172.4 507.0,173.8 508.0,175.2 509.0,176.5 510.0,177.6 511.0,178.7 512.0,179.7 513.0,180.6 514.0,181.4 515.0,182.2 516.0,182.9 517.0,183.6 518.0,184.2 519.0,184.7 520.0,185.1 521.0,185.4 522.0,185.8 523.0,186.1 524.0,186.3 525.0,186.5 526.0,186.6 527.0,186.7 528.0,186.8 529.0,186.8 530.0,186.9 531.0,187.0 532.0,187.1 533.0,187.1 534.0,187.2" stroke="#ff4890"/>
<path d="M319.0,221.8 320.0,222.1 321.0,222.3 322.0,222.5 323.0,222.7 324.0,222.7 325.0,222.6 326.0,222.4 327.0,222.0 328.0,221.6 329.0,221.0 330.0,220.4 331.0,219.7 332.0,219.0 333.0,218.2 334.0,217.3 335.0,216.3 336.0,215.3 337.0,214.2 338.0,213.2 339.0,212.2 340.0,211.2 341.0,210.3 342.0,209.4 343.0,208.5 344.0,207.8 345.0,207.1 346.0,206.4 347.0,205.8 348.0,205.3 349.0,204.8 350.0,204.3 351.0,203.9 352.0,203.4 353.0,203.0 354.0,202.6 355.0,202.3 356.0,202.0 357.0,201.7 358.0,201.4 359.0,201.1 360.0,200.7 361.0,200.4 362.0,200.0 363.0,199.5 364.0,199.1 365.0,198.6 366.0,198.1 367.0,197.5 368.0,196.9 369.0,196.2 370.0,195.5 371.0,194.6 372.0,193.6 373.0,192.6 374.0,191.6 375.0,190.5 376.0,189.3 377.0,188.0 378.0,186.7 379.0,185.1 380.0,183.3 381.0,181.3 382.0,178.9 383.0,176.0 384.0,172.6 385.0,169.1 386.0,165.7 387.0,162.3 388.0,158.9 389.0,155.4 390.0,151.8 391.0,148.0 392.0,144.3 393.0,140.6 394.0,136.9 395.0,133.1 396.0,128.6 397.0,124.2 398.0,120.5 399.0,117.4 400.0,114.7 401.0,112.5 402.0,110.9 403.0,109.7 404.0,109.0 405.0,108.8 406.0,109.1 407.0,109.9 408.0,111.1 409.0,112.8 410.0,115.1 411.0,118.0 412.0,121.6 413.0,125.9 414.0,131.2 415.0,135.0 416.0,138.0 417.0,141.0 418.0,143.8 419.0,146.5 420.0,149.2 421.0,151.9 422.0,154.8 423.0,157.8 424.0,160.9 425.0,164.0 426.0,166.8 427.0,169.4 428.0,171.7 429.0,173.8 430.0,175.7 431.0,177.3 432.0,178.7 433.0,179.9 434.0,181.0 435.0,182.0 436.0,183.0 437.0,183.8 438.0,184.5 439.0,185.1 440.0,185.6 441.0,186.0 442.0,186.3 443.0,186.5 444.0,186.6 445.0,186.6 446.0,186.6 447.0,186.4 448.0,186.1 449.0,185.8 450.0,185.3 451.0,184.7 452.0,184.0 453.0,183.1 454.0,181.9 455.0,180.6 456.0,179.0 457.0,177.2 458.0,175.2 459.0,173.2 460.0,171.0 461.0,168.8 462.0,166.6 463.0,164.3 464.0,161.8 465.0,159.2 466.0,156.4 467.0,153.5 468.0,150.2 469.0,146.5 470.0,142.7 471.0,138.8 472.0,135.0 473.0,131.1 474.0,126.7 475.0,122.5 476.0,119.0 477.0,116.1 478.0,113.4 479.0,111.3 480.0,110.0 481.0,109.5 482.0,109.4 483.0,109.5 484.0,110.2 485.0,111.6 486.0,113.6 487.0,115.9 488.0,118.4 489.0,120.9 490.0,123.6 491.0,126.2 492.0,128.9 493.0,131.4 494.0,134.0 495.0,137.1 496.0,140.9 497.0,145.3 498.0,149.9 499.0,154.2 500.0,158.0 501.0,160.5 502.0,162.7 503.0,165.0 504.0,167.3 505.0,169.3 506.0,170.9 507.0,172.3 508.0,173.5 509.0,174.6 510.0,175.8 511.0,176.9 512.0,178.1 513.0,179.2 514.0,180.2 515.0,181.1 516.0,181.9 517.0,182.7 518.0,183.3 519.0,183.9 520.0,184.4 521.0,184.8 522.0,185.1 523.0,185.5 524.0,185.8 525.0,186.0 526.0,186.2 527.0,186.3 528.0,186.4 529.0,186.4 530.0,186.5 531.0,186.5 532.0,186.6 533.0,186.6 534.0,186.7" stroke="#18d838"/>
<path d="M319.0,209.9 320.0,210.0 321.0,210.1 322.0,210.3 323.0,210.5 324.0,210.7 325.0,210.9 326.0,211.1 327.0,211.1 328.0,211.1 329.0,211.0 330.0,210.9 331.0,210.6 332.0,210.3 333.0,209.9 334.0,209.5 335.0,209.0 336.0,208.6 337.0,208.1 338.0,207.6 339.0,207.0 340.0,206.5 341.0,206.0 342.0,205.5 343.0,205.1 344.0,204.7 345.0,204.3 346.0,203.9 347.0,203.5 348.0,203.2 349.0,202.9 350.0,202.6 351.0,202.4 352.0,202.2 353.0,202.1 354.0,201.9 355.0,201.8 356.0,201.7 357.0,201.5 358.0,201.4 359.0,201.2 360.0,201.1 361.0,200.9 362.0,200.7 363.0,200.6 364.0,200.4 365.0,200.3 366.0,200.2 367.0,200.0 368.0,199.9 369.0,199.7 370.0,199.5 371.0,199.3 372.0,199.1 373.0,198.8 374.0,198.6 375.0,198.4 376.0,198.1 377.0,197.9 378.0,197.6 379.0,197.4 380.0,197.2 381.0,196.9 382.0,196.7 383.0,196.4 384.0,196.2 385.0,196.0 386.0,195.8 387.0,195.6 388.0,195.5 389.0,195.3 390.0,195.1 391.0,195.0 392.0,194.8 393.0,194.6 394.0,194.5 395.0,194.3 396.0,194.2 397.0,194.0 398.0,193.8 399.0,193.6 400.0,193.4 401.0,193.2 402.0,193.0 403.0,192.8 404.0,192.6 405.0,192.4 406.0,192.1 407.0,191.9 408.0,191.6 409.0,191.3 410.0,190.9 411.0,190.5 412.0,190.0 413.0,189.3 414.0,188.6 415.0,187.8 416.0,187.0 417.0,186.1 418.0,185.2 419.0,184.1 420.0,182.9 421.0,181.5 422.0,179.5 423.0,177.0 424.0,174.4 425.0,171.7 426.0,169.0 427.0,166.1 428.0,163.1 429.0,159.7 430.0,155.7 431.0,151.0 432.0,146.9 433.0,143.2 434.0,139.4 435.0,135.5 436.0,131.5 437.0,127.3 438.0,122.9 439.0,118.2 440.0,113.5 441.0,109.1 442.0,104.9 443.0,101.5 444.0,98.7 445.0,96.7 446.0,95.5 447.0,95.3 448.0,95.9 449.0,96.9 450.0,98.6 451.0,101.1 452.0,104.0 453.0,107.2 454.0,110.8 455.0,114.6 456.0,118.4 457.0,122.2 458.0,125.8 459.0,129.4 460.0,132.8 461.0,135.6 462.0,138.0 463.0,140.2 464.0,141.9 465.0,143.1 466.0,143.7 467.0,143.7 468.0,143.1 469.0,142.0 470.0,140.7 471.0,138.9 472.0,136.7 473.0,134.3 474.0,132.1 475.0,129.9 476.0,127.9 477.0,126.0 478.0,124.4 479.0,123.2 480.0,122.3 481.0,121.5 482.0,120.8 483.0,120.5 484.0,120.7 485.0,121.5 486.0,122.8 487.0,124.2 488.0,125.8 489.0,127.8 490.0,129.8 491.0,132.0 492.0,134.2 493.0,136.4 494.0,138.6 495.0,140.7 496.0,142.9 497.0,145.7 498.0,149.0 499.0,152.8 500.0,156.6 501.0,160.2 502.0,162.9 503.0,164.9 504.0,166.8 505.0,168.7 506.0,170.5 507.0,172.3 508.0,173.9 509.0,175.3 510.0,176.5 511.0,177.7 512.0,178.8 513.0,179.8 514.0,180.7 515.0,181.6 516.0,182.4 517.0,183.1 518.0,183.7 519.0,184.3 520.0,184.9 521.0,185.3 522.0,185.7 523.0,186.1 524.0,186.4 525.0,186.6 526.0,186.8 527.0,187.0 528.0,187.2 529.0,187.3 530.0,187.3 531.0,187.3 532.0,187.3 533.0,187.4 534.0,187.4" stroke="#ff4890"/>
<path d="M319.0,218.5 320.0,218.7 321.0,218.9 322.0,219.2 323.0,219.4 324.0,219.6 325.0,219.7 326.0,219.7 327.0,219.7 328.0,219.7 329.0,219.5 330.0,219.3 331.0,219.0 332.0,218.7 333.0,218.2 334.0,217.7 335.0,217.1 336.0,216.4 337.0,215.6 338.0,214.9 339.0,214.1 340.0,213.4 341.0,212.7 342.0,212.0 343.0,211.3 344.0,210.5 345.0,209.8 346.0,209.1 347.0,208.5 348.0,207.8 349.0,207.2 350.0,206.7 351.0,206.2 352.0,205.7 353.0,205.2 354.0,204.8 355.0,204.4 356.0,204.0 357.0,203.6 358.0,203.2 359.0,202.8 360.0,202.4 361.0,202.1 362.0,201.9 363.0,201.7 364.0,201.5 365.0,201.2 366.0,200.8 367.0,200.5 368.0,200.1 369.0,199.6 370.0,199.2 371.0,198.8 372.0,198.4 373.0,198.0 374.0,197.5 375.0,197.1 376.0,196.6 377.0,196.0 378.0,195.3 379.0,194.5 380.0,193.6 381.0,192.6 382.0,191.5 383.0,190.3 384.0,188.9 385.0,187.3 386.0,185.7 387.0,183.9 388.0,182.1 389.0,180.2 390.0,178.1 391.0,175.8 392.0,173.4 393.0,170.9 394.0,168.3 395.0,165.7 396.0,163.1 397.0,160.5 398.0,158.4 399.0,156.5 400.0,154.7 401.0,153.2 402.0,152.0 403.0,151.2 404.0,150.9 405.0,151.2 406.0,151.8 407.0,152.6 408.0,153.4 409.0,154.4 410.0,155.7 411.0,157.2 412.0,158.6 413.0,160.0 414.0,161.3 415.0,162.7 416.0,164.1 417.0,165.3 418.0,166.5 419.0,167.7 420.0,168.8 421.0,169.8 422.0,170.8 423.0,171.5 424.0,172.0 425.0,172.5 426.0,172.7 427.0,172.4 428.0,171.7 429.0,170.6 430.0,169.4 431.0,167.9 432.0,166.0 433.0,164.0 434.0,161.9 435.0,159.8 436.0,157.6 437.0,155.4 438.0,153.2 439.0,151.2 440.0,149.2 441.0,147.3 442.0,145.7 443.0,144.5 444.0,143.5 445.0,143.1 446.0,143.0 447.0,143.2 448.0,143.6 449.0,144.3 450.0,145.2 451.0,146.2 452.0,147.4 453.0,148.7 454.0,150.1 455.0,151.3 456.0,152.4 457.0,153.3 458.0,154.2 459.0,154.7 460.0,155.0 461.0,155.0 462.0,154.5 463.0,153.6 464.0,152.3 465.0,150.6 466.0,148.4 467.0,146.0 468.0,143.4 469.0,140.5 470.0,137.2 471.0,133.5 472.0,129.5 473.0,125.9 474.0,122.5 475.0,119.4 476.0,116.9 477.0,114.9 478.0,113.1 479.0,111.6 480.0,110.5 481.0,109.7 482.0,109.5 483.0,109.8 484.0,110.8 485.0,112.3 486.0,114.1 487.0,116.3 488.0,118.6 489.0,121.1 490.0,123.6 491.0,126.2 492.0,128.8 493.0,131.3 494.0,133.8 495.0,136.7 496.0,140.3 497.0,144.6 498.0,149.1 499.0,153.4 500.0,157.1 501.0,159.6 502.0,161.8 503.0,164.0 504.0,166.2 505.0,168.3 506.0,170.2 507.0,171.9 508.0,173.5 509.0,174.9 510.0,176.2 511.0,177.4 512.0,178.6 513.0,179.7 514.0,180.7 515.0,181.6 516.0,182.4 517.0,183.2 518.0,183.9 519.0,184.6 520.0,185.2 521.0,185.6 522.0,186.1 523.0,186.4 524.0,186.8 525.0,187.1 526.0,187.3 527.0,187.4 528.0,187.5 529.0,187.6 530.0,187.7 531.0,187.7 532.0,187.7 533.0,187.8 534.0,187.8" stroke="#2060c0"/>
<path d="M319.0,221.9 320.0,221.9 321.0,221.9 322.0,221.9 323.0,221.9 324.0,221.8 325.0,221.6 326.0,221.3 327.0,220.9 328.0,220.4 329.0,219.8 330.0,219.2 331.0,218.6 332.0,217.9 333.0,217.2 334.0,216.4 335.0,215.6 336.0,214.7 337.0,213.8 338.0,213.0 339.0,212.1 340.0,211.3 341.0,210.5 342.0,209.7 343.0,209.0 344.0,208.2 345.0,207.6 346.0,207.0 347.0,206.4 348.0,205.8 349.0,205.2 350.0,204.7 351.0,204.1 352.0,203.5 353.0,203.0 354.0,202.4 355.0,201.9 356.0,201.4 357.0,200.9 358.0,200.4 359.0,200.0 360.0,199.5 361.0,199.0 362.0,198.5 363.0,198.0 364.0,197.5 365.0,197.0 366.0,196.5 367.0,196.0 368.0,195.4 369.0,194.8 370.0,194.2 371.0,193.4 372.0,192.6 373.0,191.7 374.0,190.8 375.0,189.8 376.0,188.7 377.0,187.5 378.0,186.3 379.0,184.8 380.0,183.0 381.0,181.0 382.0,178.7 383.0,175.8 384.0,172.2 385.0,168.4 386.0,164.6 387.0,160.8 388.0,157.0 389.0,153.2 390.0,149.2 391.0,145.1 392.0,140.8 393.0,136.7 394.0,132.5 395.0,128.3 396.0,123.6 397.0,118.4 398.0,114.0 399.0,110.3 400.0,107.0 401.0,104.4 402.0,102.3 403.0,100.8 404.0,99.8 405.0,99.4 406.0,99.5 407.0,100.2 408.0,101.4 409.0,103.1 410.0,105.5 411.0,108.5 412.0,112.4 413.0,116.8 414.0,122.5 415.0,127.7 416.0,131.4 417.0,134.8 418.0,138.1 419.0,141.4 420.0,144.5 421.0,147.7 422.0,150.9 423.0,154.2 424.0,157.7 425.0,161.1 426.0,164.4 427.0,167.3 428.0,169.9 429.0,172.2 430.0,174.3 431.0,176.1 432.0,177.6 433.0,178.9 434.0,180.0 435.0,181.1 436.0,182.0 437.0,182.9 438.0,183.6 439.0,184.3 440.0,184.8 441.0,185.2 442.0,185.5 443.0,185.8 444.0,185.9 445.0,186.0 446.0,186.1 447.0,186.0 448.0,185.8 449.0,185.6 450.0,185.2 451.0,184.7 452.0,184.1 453.0,183.3 454.0,182.3 455.0,181.1 456.0,179.6 457.0,177.8 458.0,175.9 459.0,173.8 460.0,171.5 461.0,169.2 462.0,166.8 463.0,164.3 464.0,161.6 465.0,158.7 466.0,155.5 467.0,152.3 468.0,148.7 469.0,144.6 470.0,140.2 471.0,135.7 472.0,131.2 473.0,126.7 474.0,121.9 475.0,116.8 476.0,112.4 477.0,108.7 478.0,105.5 479.0,102.6 480.0,100.7 481.0,99.7 482.0,99.5 483.0,99.4 484.0,99.8 485.0,101.1 486.0,103.0 487.0,105.6 488.0,108.4 489.0,111.2 490.0,114.2 491.0,117.2 492.0,120.3 493.0,123.3 494.0,126.2 495.0,129.4 496.0,133.3 497.0,138.1 498.0,143.3 499.0,148.2 500.0,152.9 501.0,156.1 502.0,158.7 503.0,161.2 504.0,163.7 505.0,166.1 506.0,168.1 507.0,169.7 508.0,171.0 509.0,172.2 510.0,173.4 511.0,174.7 512.0,175.9 513.0,177.1 514.0,178.2 515.0,179.3 516.0,180.3 517.0,181.1 518.0,181.9 519.0,182.6 520.0,183.2 521.0,183.7 522.0,184.1 523.0,184.5 524.0,184.9 525.0,185.3 526.0,185.6 527.0,185.8 528.0,186.0 529.0,186.1 530.0,186.2 531.0,186.3 532.0,186.4 533.0,186.5 534.0,186.6" stroke="#2ade4a"/>
<path d="M319.0,211.3 320.0,211.4 321.0,211.5 322.0,211.5 323.0,211.5 324.0,211.3 325.0,211.2 326.0,211.0 327.0,210.7 328.0,210.4 329.0,210.0 330.0,209.6 331.0,209.2 332.0,208.9 333.0,208.5 334.0,208.1 335.0,207.6 336.0,207.2 337.0,206.8 338.0,206.4 339.0,206.0 340.0,205.7 341.0,205.4 342.0,205.1 343.0,204.8 344.0,204.5 345.0,204.2 346.0,203.9 347.0,203.6 348.0,203.3 349.0,203.0 350.0,202.8 351.0,202.5 352.0,202.2 353.0,202.0 354.0,201.7 355.0,201.4 356.0,201.0 357.0,200.7 358.0,200.4 359.0,200.1 360.0,199.9 361.0,199.6 362.0,199.5 363.0,199.4 364.0,199.3 365.0,199.2 366.0,199.1 367.0,199.1 368.0,199.1 369.0,199.0 370.0,199.0 371.0,198.9 372.0,198.9 373.0,198.9 374.0,198.9 375.0,198.9 376.0,198.9 377.0,198.8 378.0,198.7 379.0,198.6 380.0,198.4 381.0,198.2 382.0,198.0 383.0,197.8 384.0,197.5 385.0,197.2 386.0,197.0 387.0,196.7 388.0,196.4 389.0,196.2 390.0,195.9 391.0,195.7 392.0,195.4 393.0,195.1 394.0,194.8 395.0,194.5 396.0,194.3 397.0,194.0 398.0,193.7 399.0,193.4 400.0,193.1 401.0,192.8 402.0,192.5 403.0,192.3 404.0,192.0 405.0,191.7 406.0,191.4 407.0,191.1 408.0,190.6 409.0,190.2 410.0,189.7 411.0,189.1 412.0,188.4 413.0,187.6 414.0,186.8 415.0,185.9 416.0,184.9 417.0,183.8 418.0,182.8 419.0,181.3 420.0,179.0 421.0,176.3 422.0,173.6 423.0,171.0 424.0,168.2 425.0,165.4 426.0,162.0 427.0,158.0 428.0,153.2 429.0,148.7 430.0,145.1 431.0,141.7 432.0,138.1 433.0,134.4 434.0,130.5 435.0,126.5 436.0,122.0 437.0,117.5 438.0,113.5 439.0,109.7 440.0,106.6 441.0,104.1 442.0,102.2 443.0,101.1 444.0,100.6 445.0,100.9 446.0,101.8 447.0,103.1 448.0,105.0 449.0,107.2 450.0,109.7 451.0,112.3 452.0,115.2 453.0,118.5 454.0,121.8 455.0,124.8 456.0,127.2 457.0,129.1 458.0,130.8 459.0,132.4 460.0,133.8 461.0,134.8 462.0,135.3 463.0,135.1 464.0,134.2 465.0,132.5 466.0,130.5 467.0,128.1 468.0,125.3 469.0,122.2 470.0,119.1 471.0,116.2 472.0,113.5 473.0,110.9 474.0,108.4 475.0,106.1 476.0,104.2 477.0,102.6 478.0,101.3 479.0,100.4 480.0,99.8 481.0,99.5 482.0,99.3 483.0,99.6 484.0,100.9 485.0,102.9 486.0,105.5 487.0,108.3 488.0,111.2 489.0,114.2 490.0,117.2 491.0,120.3 492.0,123.3 493.0,126.2 494.0,129.5 495.0,133.5 496.0,138.4 497.0,143.6 498.0,148.6 499.0,153.2 500.0,156.3 501.0,158.9 502.0,161.4 503.0,164.0 504.0,166.3 505.0,168.4 506.0,170.0 507.0,171.4 508.0,172.7 509.0,173.9 510.0,175.2 511.0,176.4 512.0,177.6 513.0,178.7 514.0,179.7 515.0,180.6 516.0,181.5 517.0,182.2 518.0,182.9 519.0,183.5 520.0,184.0 521.0,184.4 522.0,184.8 523.0,185.2 524.0,185.6 525.0,185.9 526.0,186.1 527.0,186.2 528.0,186.4 529.0,186.5 530.0,186.6 531.0,186.7 532.0,186.8 533.0,186.9 534.0,187.0" stroke="#f83060"/>
<path d="M319.0,217.0 320.0,217.1 321.0,217.2 322.0,217.4 323.0,217.6 324.0,217.7 325.0,217.8 326.0,217.8 327.0,217.7 328.0,217.5 329.0,217.3 330.0,217.0 331.0,216.6 332.0,216.2 333.0,215.7 334.0,215.2 335.0,214.6 336.0,214.0 337.0,213.3 338.0,212.5 339.0,211.8 340.0,211.2 341.0,210.5 342.0,209.9 343.0,209.3 344.0,208.7 345.0,208.1 346.0,207.5 347.0,206.9 348.0,206.4 349.0,205.9 350.0,205.4 351.0,205.0 352.0,204.6 353.0,204.2 354.0,203.8 355.0,203.5 356.0,203.1 357.0,202.7 358.0,202.4 359.0,202.0 360.0,201.7 361.0,201.4 362.0,201.1 363.0,200.9 364.0,200.7 365.0,200.4 366.0,200.1 367.0,199.8 368.0,199.4 369.0,199.1 370.0,198.7 371.0,198.3 372.0,197.9 373.0,197.5 374.0,197.0 375.0,196.6 376.0,196.2 377.0,195.6 378.0,194.9 379.0,194.0 380.0,193.0 381.0,192.0 382.0,190.8 383.0,189.3 384.0,187.8 385.0,186.0 386.0,184.0 387.0,181.9 388.0,179.7 389.0,177.4 390.0,174.9 391.0,172.2 392.0,169.2 393.0,166.2 394.0,163.0 395.0,159.8 396.0,156.5 397.0,153.3 398.0,150.4 399.0,147.9 400.0,145.6 401.0,143.5 402.0,141.9 403.0,140.6 404.0,140.0 405.0,140.1 406.0,140.6 407.0,141.5 408.0,142.5 409.0,143.7 410.0,145.2 411.0,147.0 412.0,148.8 413.0,150.6 414.0,152.5 415.0,154.3 416.0,156.1 417.0,157.9 418.0,159.5 419.0,161.1 420.0,162.7 421.0,164.1 422.0,165.5 423.0,166.7 424.0,167.6 425.0,168.4 426.0,169.0 427.0,169.0 428.0,168.6 429.0,167.7 430.0,166.5 431.0,165.0 432.0,163.2 433.0,161.0 434.0,158.8 435.0,156.5 436.0,154.1 437.0,151.6 438.0,149.2 439.0,146.9 440.0,144.6 441.0,142.5 442.0,140.5 443.0,138.9 444.0,137.7 445.0,136.9 446.0,136.6 447.0,136.7 448.0,137.0 449.0,137.6 450.0,138.6 451.0,139.6 452.0,140.8 453.0,142.2 454.0,143.7 455.0,145.1 456.0,146.3 457.0,147.4 458.0,148.3 459.0,149.1 460.0,149.5 461.0,149.5 462.0,149.1 463.0,148.2 464.0,146.8 465.0,144.8 466.0,142.4 467.0,139.7 468.0,136.6 469.0,133.2 470.0,129.4 471.0,125.2 472.0,120.4 473.0,115.9 474.0,111.6 475.0,107.7 476.0,104.3 477.0,101.5 478.0,99.2 479.0,97.3 480.0,95.7 481.0,94.5 482.0,93.9 483.0,94.0 484.0,94.8 485.0,96.4 486.0,98.4 487.0,100.7 488.0,103.6 489.0,106.5 490.0,109.5 491.0,112.7 492.0,115.8 493.0,118.9 494.0,121.9 495.0,125.1 496.0,129.1 497.0,133.9 498.0,139.3 499.0,144.5 500.0,149.4 501.0,153.0 502.0,155.7 503.0,158.3 504.0,160.9 505.0,163.4 506.0,165.8 507.0,167.9 508.0,169.8 509.0,171.4 510.0,173.0 511.0,174.5 512.0,175.8 513.0,177.1 514.0,178.3 515.0,179.3 516.0,180.3 517.0,181.2 518.0,182.0 519.0,182.8 520.0,183.5 521.0,184.1 522.0,184.5 523.0,185.0 524.0,185.4 525.0,185.8 526.0,186.1 527.0,186.3 528.0,186.5 529.0,186.6 530.0,186.7 531.0,186.8 532.0,186.9 533.0,186.9 534.0,187.0" stroke="#1c78e8"/>
<path d="M319.0,219.2 320.0,219.4 321.0,219.7 322.0,219.9 323.0,220.2 324.0,220.3 325.0,220.4 326.0,220.4 327.0,220.4 328.0,220.2 329.0,220.0 330.0,219.7 331.0,219.4 332.0,219.0 333.0,218.5 334.0,218.0 335.0,217.4 336.0,216.7 337.0,216.0 338.0,215.3 339.0,214.6 340.0,214.0 341.0,213.4 342.0,212.7 343.0,212.1 344.0,211.5 345.0,210.9 346.0,210.3 347.0,209.7 348.0,209.2 349.0,208.6 350.0,208.1 351.0,207.6 352.0,207.1 353.0,206.6 354.0,206.1 355.0,205.6 356.0,205.1 357.0,204.5 358.0,204.0 359.0,203.4 360.0,202.9 361.0,202.4 362.0,201.9 363.0,201.5 364.0,201.1 365.0,200.6 366.0,200.1 367.0,199.6 368.0,199.1 369.0,198.6 370.0,198.1 371.0,197.7 372.0,197.2 373.0,196.8 374.0,196.3 375.0,195.9 376.0,195.5 377.0,195.0 378.0,194.3 379.0,193.5 380.0,192.6 381.0,191.7 382.0,190.6 383.0,189.3 384.0,187.9 385.0,186.2 386.0,184.5 387.0,182.6 388.0,180.5 389.0,178.4 390.0,176.1 391.0,173.5 392.0,170.8 393.0,167.9 394.0,165.0 395.0,162.0 396.0,158.9 397.0,155.9 398.0,153.3 399.0,151.0 400.0,148.9 401.0,147.0 402.0,145.5 403.0,144.3 404.0,143.8 405.0,144.0 406.0,144.5 407.0,145.4 408.0,146.4 409.0,147.5 410.0,148.9 411.0,150.6 412.0,152.3 413.0,154.0 414.0,155.7 415.0,157.4 416.0,159.1 417.0,160.7 418.0,162.1 419.0,163.6 420.0,165.0 421.0,166.4 422.0,167.7 423.0,168.7 424.0,169.5 425.0,170.2 426.0,170.6 427.0,170.5 428.0,170.0 429.0,169.0 430.0,167.7 431.0,166.1 432.0,164.2 433.0,162.0 434.0,159.7 435.0,157.3 436.0,154.9 437.0,152.4 438.0,150.0 439.0,147.6 440.0,145.3 441.0,143.1 442.0,141.1 443.0,139.6 444.0,138.4 445.0,137.6 446.0,137.4 447.0,137.5 448.0,137.8 449.0,138.5 450.0,139.4 451.0,140.5 452.0,141.7 453.0,143.1 454.0,144.6 455.0,146.0 456.0,147.3 457.0,148.4 458.0,149.4 459.0,150.1 460.0,150.5 461.0,150.6 462.0,150.2 463.0,149.2 464.0,147.9 465.0,146.0 466.0,143.6 467.0,141.0 468.0,138.0 469.0,134.7 470.0,131.1 471.0,126.9 472.0,122.4 473.0,118.1 474.0,114.0 475.0,110.3 476.0,107.2 477.0,104.6 478.0,102.4 479.0,100.6 480.0,99.1 481.0,98.0 482.0,97.6 483.0,97.8 484.0,98.7 485.0,100.3 486.0,102.2 487.0,104.6 488.0,107.4 489.0,110.2 490.0,113.2 491.0,116.2 492.0,119.3 493.0,122.2 494.0,125.1 495.0,128.4 496.0,132.3 497.0,137.2 498.0,142.4 499.0,147.4 500.0,152.1 501.0,155.4 502.0,157.9 503.0,160.5 504.0,163.0 505.0,165.5 506.0,167.8 507.0,169.8 508.0,171.6 509.0,173.2 510.0,174.7 511.0,176.1 512.0,177.4 513.0,178.7 514.0,179.8 515.0,180.7 516.0,181.6 517.0,182.5 518.0,183.3 519.0,184.0 520.0,184.6 521.0,185.2 522.0,185.6 523.0,186.0 524.0,186.4 525.0,186.7 526.0,187.0 527.0,187.2 528.0,187.3 529.0,187.4 530.0,187.5 531.0,187.5 532.0,187.6 533.0,187.7 534.0,187.7" stroke="#1c78e8"/>
<path d="M319.0,215.8 320.0,215.9 321.0,216.1 322.0,216.2 323.0,216.3 324.0,216.4 325.0,216.3 326.0,216.2 327.0,216.1 328.0,215.9 329.0,215.6 330.0,215.3 331.0,214.9 332.0,214.5 333.0,213.9 334.0,213.4 335.0,212.7 336.0,212.0 337.0,211.3 338.0,210.6 339.0,210.0 340.0,209.3 341.0,208.7 342.0,208.1 343.0,207.4 344.0,206.8 345.0,206.2 346.0,205.5 347.0,204.9 348.0,204.3 349.0,203.8 350.0,203.3 351.0,202.8 352.0,202.3 353.0,201.8 354.0,201.4 355.0,200.9 356.0,200.4 357.0,200.0 358.0,199.6 359.0,199.2 360.0,198.8 361.0,198.6 362.0,198.4 363.0,198.2 364.0,198.0 365.0,197.8 366.0,197.5 367.0,197.3 368.0,197.0 369.0,196.8 370.0,196.5 371.0,196.3 372.0,196.1 373.0,195.9 374.0,195.6 375.0,195.4 376.0,195.0 377.0,194.5 378.0,193.9 379.0,193.2 380.0,192.4 381.0,191.5 382.0,190.4 383.0,189.1 384.0,187.7 385.0,186.1 386.0,184.4 387.0,182.5 388.0,180.6 389.0,178.5 390.0,176.3 391.0,173.8 392.0,171.2 393.0,168.5 394.0,165.8 395.0,163.0 396.0,160.3 397.0,157.7 398.0,155.6 399.0,153.6 400.0,151.8 401.0,150.3 402.0,149.1 403.0,148.5 404.0,148.5 405.0,148.8 406.0,149.4 407.0,150.3 408.0,151.2 409.0,152.3 410.0,153.8 411.0,155.2 412.0,156.7 413.0,158.1 414.0,159.6 415.0,161.0 416.0,162.4 417.0,163.7 418.0,164.9 419.0,166.2 420.0,167.3 421.0,168.4 422.0,169.3 423.0,170.0 424.0,170.5 425.0,170.9 426.0,170.9 427.0,170.4 428.0,169.5 429.0,168.3 430.0,166.9 431.0,165.1 432.0,163.0 433.0,160.9 434.0,158.7 435.0,156.3 436.0,154.0 437.0,151.7 438.0,149.5 439.0,147.3 440.0,145.3 441.0,143.3 442.0,141.8 443.0,140.6 444.0,139.9 445.0,139.6 446.0,139.6 447.0,139.9 448.0,140.5 449.0,141.4 450.0,142.4 451.0,143.6 452.0,144.9 453.0,146.4 454.0,147.8 455.0,149.0 456.0,150.1 457.0,151.1 458.0,151.9 459.0,152.3 460.0,152.5 461.0,152.3 462.0,151.5 463.0,150.4 464.0,148.8 465.0,146.7 466.0,144.3 467.0,141.7 468.0,138.7 469.0,135.5 470.0,131.8 471.0,127.7 472.0,123.7 473.0,120.0 474.0,116.5 475.0,113.5 476.0,111.1 477.0,109.1 478.0,107.3 479.0,105.9 480.0,104.8 481.0,104.3 482.0,104.3 483.0,105.0 484.0,106.4 485.0,108.1 486.0,110.2 487.0,112.7 488.0,115.3 489.0,118.0 490.0,120.7 491.0,123.6 492.0,126.3 493.0,129.0 494.0,131.8 495.0,135.2 496.0,139.4 497.0,144.1 498.0,148.7 499.0,153.2 500.0,156.5 501.0,158.9 502.0,161.2 503.0,163.5 504.0,165.8 505.0,167.9 506.0,169.8 507.0,171.5 508.0,173.0 509.0,174.4 510.0,175.7 511.0,176.9 512.0,178.0 513.0,179.1 514.0,180.0 515.0,180.8 516.0,181.6 517.0,182.4 518.0,183.0 519.0,183.7 520.0,184.2 521.0,184.6 522.0,185.0 523.0,185.3 524.0,185.7 525.0,185.9 526.0,186.1 527.0,186.2 528.0,186.3 529.0,186.4 530.0,186.4 531.0,186.5 532.0,186.5 533.0,186.5 534.0,186.6" stroke="#1668d8"/>
<path d="M319.0,221.3 320.0,221.3 321.0,221.3 322.0,221.3 323.0,221.4 324.0,221.4 325.0,221.2 326.0,221.0 327.0,220.7 328.0,220.3 329.0,219.8 330.0,219.3 331.0,218.8 332.0,218.2 333.0,217.7 334.0,217.1 335.0,216.4 336.0,215.7 337.0,214.9 338.0,214.2 339.0,213.5 340.0,212.8 341.0,212.1 342.0,211.4 343.0,210.7 344.0,210.1 345.0,209.5 346.0,209.0 347.0,208.4 348.0,207.9 349.0,207.4 350.0,206.8 351.0,206.3 352.0,205.7 353.0,205.1 354.0,204.5 355.0,203.9 356.0,203.3 357.0,202.7 358.0,202.2 359.0,201.6 360.0,201.0 361.0,200.4 362.0,199.8 363.0,199.2 364.0,198.6 365.0,198.0 366.0,197.5 367.0,196.9 368.0,196.3 369.0,195.7 370.0,195.1 371.0,194.4 372.0,193.6 373.0,192.8 374.0,192.0 375.0,191.1 376.0,190.1 377.0,189.1 378.0,188.0 379.0,186.7 380.0,185.2 381.0,183.5 382.0,181.5 383.0,179.1 384.0,176.1 385.0,172.7 386.0,169.2 387.0,165.8 388.0,162.4 389.0,159.0 390.0,155.5 391.0,151.8 392.0,148.0 393.0,144.2 394.0,140.4 395.0,136.7 396.0,132.7 397.0,128.0 398.0,123.8 399.0,120.2 400.0,117.1 401.0,114.5 402.0,112.4 403.0,110.9 404.0,109.8 405.0,109.2 406.0,109.1 407.0,109.6 408.0,110.4 409.0,111.8 410.0,113.6 411.0,116.1 412.0,119.2 413.0,123.0 414.0,127.5 415.0,132.7 416.0,136.1 417.0,139.2 418.0,142.1 419.0,144.8 420.0,147.6 421.0,150.3 422.0,153.0 423.0,155.9 424.0,158.9 425.0,162.0 426.0,164.9 427.0,167.7 428.0,170.1 429.0,172.3 430.0,174.3 431.0,176.0 432.0,177.5 433.0,178.8 434.0,179.9 435.0,180.9 436.0,181.9 437.0,182.7 438.0,183.5 439.0,184.2 440.0,184.8 441.0,185.2 442.0,185.6 443.0,185.8 444.0,186.1 445.0,186.2 446.0,186.3 447.0,186.3 448.0,186.2 449.0,186.0 450.0,185.7 451.0,185.3 452.0,184.7 453.0,184.1 454.0,183.2 455.0,182.1 456.0,180.8 457.0,179.2 458.0,177.4 459.0,175.5 460.0,173.5 461.0,171.3 462.0,169.1 463.0,166.8 464.0,164.4 465.0,161.9 466.0,159.1 467.0,156.1 468.0,153.0 469.0,149.5 470.0,145.5 471.0,141.5 472.0,137.5 473.0,133.4 474.0,129.2 475.0,124.6 476.0,120.3 477.0,116.8 478.0,113.8 479.0,111.1 480.0,109.0 481.0,107.9 482.0,107.5 483.0,107.4 484.0,107.6 485.0,108.4 486.0,110.0 487.0,112.2 488.0,114.7 489.0,117.2 490.0,119.9 491.0,122.6 492.0,125.4 493.0,128.2 494.0,130.8 495.0,133.5 496.0,136.8 497.0,140.9 498.0,145.6 499.0,150.2 500.0,154.6 501.0,158.0 502.0,160.4 503.0,162.7 504.0,165.0 505.0,167.3 506.0,169.2 507.0,170.7 508.0,172.0 509.0,173.2 510.0,174.3 511.0,175.4 512.0,176.6 513.0,177.7 514.0,178.8 515.0,179.8 516.0,180.7 517.0,181.6 518.0,182.3 519.0,183.0 520.0,183.6 521.0,184.2 522.0,184.6 523.0,185.1 524.0,185.5 525.0,185.8 526.0,186.2 527.0,186.5 528.0,186.7 529.0,186.8 530.0,186.9 531.0,187.1 532.0,187.2 533.0,187.3 534.0,187.4" stroke="#2ade4a"/>
<path d="M319.0,222.7 320.0,222.7 321.0,222.7 322.0,222.8 323.0,222.9 324.0,223.0 325.0,222.9 326.0,222.8 327.0,222.5 328.0,222.1 329.0,221.7 330.0,221.2 331.0,220.6 332.0,220.1 333.0,219.5 334.0,218.9 335.0,218.2 336.0,217.5 337.0,216.7 338.0,215.9 339.0,215.2 340.0,214.5 341.0,213.8 342.0,213.1 343.0,212.4 344.0,211.7 345.0,211.1 346.0,210.5 347.0,210.0 348.0,209.4 349.0,208.8 350.0,208.3 351.0,207.7 352.0,207.0 353.0,206.3 354.0,205.7 355.0,205.0 356.0,204.3 357.0,203.6 358.0,202.9 359.0,202.2 360.0,201.5 361.0,200.8 362.0,200.1 363.0,199.3 364.0,198.6 365.0,197.9 366.0,197.2 367.0,196.5 368.0,195.8 369.0,195.0 370.0,194.3 371.0,193.5 372.0,192.7 373.0,191.8 374.0,190.9 375.0,189.9 376.0,188.9 377.0,187.9 378.0,186.7 379.0,185.5 380.0,184.0 381.0,182.3 382.0,180.3 383.0,178.0 384.0,175.1 385.0,171.5 386.0,167.8 387.0,164.2 388.0,160.5 389.0,156.9 390.0,153.2 391.0,149.3 392.0,145.3 393.0,141.2 394.0,137.1 395.0,133.1 396.0,129.0 397.0,124.1 398.0,119.2 399.0,115.2 400.0,111.7 401.0,108.7 402.0,106.2 403.0,104.4 404.0,103.0 405.0,102.2 406.0,102.0 407.0,102.3 408.0,103.1 409.0,104.4 410.0,106.3 411.0,108.7 412.0,112.0 413.0,115.9 414.0,120.5 415.0,126.3 416.0,130.7 417.0,134.2 418.0,137.5 419.0,140.7 420.0,143.8 421.0,146.9 422.0,150.0 423.0,153.1 424.0,156.5 425.0,159.8 426.0,163.1 427.0,166.2 428.0,169.0 429.0,171.4 430.0,173.6 431.0,175.5 432.0,177.1 433.0,178.6 434.0,179.8 435.0,180.8 436.0,181.8 437.0,182.7 438.0,183.5 439.0,184.2 440.0,184.7 441.0,185.2 442.0,185.6 443.0,185.8 444.0,186.0 445.0,186.2 446.0,186.2 447.0,186.3 448.0,186.2 449.0,186.0 450.0,185.7 451.0,185.3 452.0,184.8 453.0,184.2 454.0,183.4 455.0,182.4 456.0,181.1 457.0,179.6 458.0,177.8 459.0,175.9 460.0,173.8 461.0,171.6 462.0,169.3 463.0,166.9 464.0,164.4 465.0,161.7 466.0,158.8 467.0,155.6 468.0,152.4 469.0,148.7 470.0,144.5 471.0,140.1 472.0,135.7 473.0,131.2 474.0,126.7 475.0,121.7 476.0,116.8 477.0,112.7 478.0,109.2 479.0,106.1 480.0,103.4 481.0,101.8 482.0,101.1 483.0,100.8 484.0,100.8 485.0,101.4 486.0,102.9 487.0,105.0 488.0,107.6 489.0,110.3 490.0,113.2 491.0,116.1 492.0,119.1 493.0,122.2 494.0,125.0 495.0,127.9 496.0,131.3 497.0,135.5 498.0,140.4 499.0,145.5 500.0,150.4 501.0,154.7 502.0,157.6 503.0,160.0 504.0,162.6 505.0,165.1 506.0,167.3 507.0,169.2 508.0,170.7 509.0,172.0 510.0,173.2 511.0,174.4 512.0,175.7 513.0,176.9 514.0,178.1 515.0,179.2 516.0,180.2 517.0,181.2 518.0,182.0 519.0,182.8 520.0,183.4 521.0,184.0 522.0,184.5 523.0,185.0 524.0,185.4 525.0,185.8 526.0,186.2 527.0,186.5 528.0,186.7 529.0,186.9 530.0,187.0 531.0,187.1 532.0,187.3 533.0,187.4 534.0,187.5" stroke="#2ade4a"/>
<path d="M319.0,208.5 320.0,208.5 321.0,208.6 322.0,208.7 323.0,208.9 324.0,209.1 325.0,209.3 326.0,209.4 327.0,209.5 328.0,209.5 329.0,209.5 330.0,209.4 331.0,209.3 332.0,209.1 333.0,208.9 334.0,208.6 335.0,208.3 336.0,208.0 337.0,207.6 338.0,207.2 339.0,206.8 340.0,206.3 341.0,205.9 342.0,205.4 343.0,204.9 344.0,204.4 345.0,203.9 346.0,203.4 347.0,202.9 348.0,202.4 349.0,201.9 350.0,201.5 351.0,201.1 352.0,200.8 353.0,200.5 354.0,200.2 355.0,199.9 356.0,199.7 357.0,199.5 358.0,199.3 359.0,199.2 360.0,199.1 361.0,199.0 362.0,199.0 363.0,199.0 364.0,199.1 365.0,199.2 366.0,199.3 367.0,199.4 368.0,199.4 369.0,199.5 370.0,199.4 371.0,199.4 372.0,199.3 373.0,199.2 374.0,199.1 375.0,198.9 376.0,198.7 377.0,198.5 378.0,198.2 379.0,198.0 380.0,197.6 381.0,197.3 382.0,197.0 383.0,196.7 384.0,196.3 385.0,196.0 386.0,195.7 387.0,195.4 388.0,195.1 389.0,194.9 390.0,194.6 391.0,194.4 392.0,194.1 393.0,193.9 394.0,193.7 395.0,193.5 396.0,193.3 397.0,193.1 398.0,192.9 399.0,192.8 400.0,192.6 401.0,192.4 402.0,192.3 403.0,192.1 404.0,191.9 405.0,191.8 406.0,191.6 407.0,191.4 408.0,191.1 409.0,190.7 410.0,190.3 411.0,189.9 412.0,189.2 413.0,188.5 414.0,187.8 415.0,186.9 416.0,186.0 417.0,185.0 418.0,183.9 419.0,182.6 420.0,180.9 421.0,178.6 422.0,176.0 423.0,173.3 424.0,170.6 425.0,167.7 426.0,164.8 427.0,161.6 428.0,157.9 429.0,153.5 430.0,149.0 431.0,145.2 432.0,141.5 433.0,137.7 434.0,133.8 435.0,129.8 436.0,125.6 437.0,121.0 438.0,116.4 439.0,111.9 440.0,107.6 441.0,103.9 442.0,100.8 443.0,98.4 444.0,96.7 445.0,96.0 446.0,96.2 447.0,97.0 448.0,98.2 449.0,100.2 450.0,102.8 451.0,105.7 452.0,109.0 453.0,112.5 454.0,116.1 455.0,119.7 456.0,123.2 457.0,126.6 458.0,129.8 459.0,132.8 460.0,135.1 461.0,137.2 462.0,138.9 463.0,140.2 464.0,140.8 465.0,140.9 466.0,140.3 467.0,139.2 468.0,137.7 469.0,135.9 470.0,133.6 471.0,130.9 472.0,128.3 473.0,125.8 474.0,123.5 475.0,121.3 476.0,119.4 477.0,117.8 478.0,116.7 479.0,115.8 480.0,115.0 481.0,114.5 482.0,114.5 483.0,115.0 484.0,116.2 485.0,117.8 486.0,119.5 487.0,121.5 488.0,123.7 489.0,126.0 490.0,128.4 491.0,130.9 492.0,133.3 493.0,135.6 494.0,137.9 495.0,140.5 496.0,143.7 497.0,147.6 498.0,151.7 499.0,155.6 500.0,159.2 501.0,161.5 502.0,163.5 503.0,165.5 504.0,167.4 505.0,169.3 506.0,171.1 507.0,172.7 508.0,174.1 509.0,175.4 510.0,176.6 511.0,177.7 512.0,178.8 513.0,179.8 514.0,180.7 515.0,181.6 516.0,182.3 517.0,183.1 518.0,183.8 519.0,184.4 520.0,185.0 521.0,185.4 522.0,185.8 523.0,186.2 524.0,186.5 525.0,186.8 526.0,187.0 527.0,187.2 528.0,187.3 529.0,187.3 530.0,187.4 531.0,187.4 532.0,187.4 533.0,187.4 534.0,187.4" stroke="#e818c8"/>
<path d="M319.0,217.3 320.0,217.3 321.0,217.4 322.0,217.5 323.0,217.6 324.0,217.6 325.0,217.6 326.0,217.5 327.0,217.4 328.0,217.2 329.0,216.9 330.0,216.6 331.0,216.3 332.0,215.9 333.0,215.5 334.0,215.0 335.0,214.4 336.0,213.8 337.0,213.2 338.0,212.6 339.0,212.0 340.0,211.4 341.0,210.9 342.0,210.4 343.0,209.9 344.0,209.4 345.0,208.9 346.0,208.5 347.0,208.0 348.0,207.5 349.0,207.1 350.0,206.7 351.0,206.4 352.0,206.0 353.0,205.6 354.0,205.2 355.0,204.9 356.0,204.4 357.0,204.0 358.0,203.6 359.0,203.2 360.0,202.8 361.0,202.4 362.0,202.1 363.0,201.8 364.0,201.5 365.0,201.2 366.0,200.8 367.0,200.3 368.0,199.9 369.0,199.4 370.0,199.0 371.0,198.6 372.0,198.1 373.0,197.7 374.0,197.2 375.0,196.8 376.0,196.3 377.0,195.8 378.0,195.0 379.0,194.2 380.0,193.3 381.0,192.3 382.0,191.2 383.0,189.8 384.0,188.4 385.0,186.7 386.0,185.0 387.0,183.0 388.0,181.0 389.0,178.9 390.0,176.7 391.0,174.2 392.0,171.5 393.0,168.7 394.0,165.9 395.0,163.0 396.0,160.0 397.0,157.2 398.0,154.7 399.0,152.6 400.0,150.6 401.0,148.8 402.0,147.4 403.0,146.4 404.0,146.0 405.0,146.2 406.0,146.8 407.0,147.6 408.0,148.5 409.0,149.6 410.0,151.1 411.0,152.7 412.0,154.3 413.0,155.9 414.0,157.5 415.0,159.1 416.0,160.8 417.0,162.3 418.0,163.7 419.0,165.1 420.0,166.5 421.0,167.8 422.0,169.0 423.0,170.0 424.0,170.7 425.0,171.4 426.0,171.8 427.0,171.7 428.0,171.2 429.0,170.2 430.0,169.0 431.0,167.6 432.0,165.8 433.0,163.8 434.0,161.7 435.0,159.6 436.0,157.3 437.0,155.1 438.0,152.9 439.0,150.8 440.0,148.7 441.0,146.7 442.0,145.0 443.0,143.6 444.0,142.6 445.0,142.0 446.0,141.9 447.0,142.0 448.0,142.4 449.0,143.1 450.0,144.0 451.0,145.0 452.0,146.1 453.0,147.5 454.0,148.9 455.0,150.1 456.0,151.3 457.0,152.3 458.0,153.2 459.0,153.8 460.0,154.1 461.0,154.2 462.0,153.8 463.0,152.9 464.0,151.6 465.0,149.9 466.0,147.8 467.0,145.4 468.0,142.7 469.0,139.7 470.0,136.4 471.0,132.7 472.0,128.6 473.0,124.9 474.0,121.3 475.0,118.1 476.0,115.4 477.0,113.2 478.0,111.3 479.0,109.8 480.0,108.5 481.0,107.6 482.0,107.3 483.0,107.6 484.0,108.5 485.0,110.0 486.0,111.8 487.0,113.9 488.0,116.4 489.0,119.0 490.0,121.6 491.0,124.3 492.0,127.0 493.0,129.6 494.0,132.2 495.0,135.1 496.0,138.7 497.0,143.1 498.0,147.7 499.0,152.1 500.0,156.2 501.0,158.9 502.0,161.1 503.0,163.4 504.0,165.6 505.0,167.7 506.0,169.7 507.0,171.5 508.0,173.0 509.0,174.4 510.0,175.7 511.0,177.0 512.0,178.1 513.0,179.2 514.0,180.2 515.0,181.0 516.0,181.8 517.0,182.6 518.0,183.3 519.0,183.9 520.0,184.5 521.0,185.0 522.0,185.4 523.0,185.8 524.0,186.1 525.0,186.4 526.0,186.7 527.0,186.9 528.0,187.0 529.0,187.1 530.0,187.2 531.0,187.3 532.0,187.4 533.0,187.5 534.0,187.6" stroke="#1c78e8"/>
<path d="M319.0,213.6 320.0,213.7 321.0,213.7 322.0,213.8 323.0,213.9 324.0,214.0 325.0,214.0 326.0,213.9 327.0,213.7 328.0,213.5 329.0,213.3 330.0,212.9 331.0,212.6 332.0,212.1 333.0,211.7 334.0,211.3 335.0,210.8 336.0,210.3 337.0,209.7 338.0,209.2 339.0,208.6 340.0,208.1 341.0,207.6 342.0,207.1 343.0,206.6 344.0,206.2 345.0,205.7 346.0,205.2 347.0,204.8 348.0,204.3 349.0,203.9 350.0,203.4 351.0,203.0 352.0,202.7 353.0,202.3 354.0,202.0 355.0,201.7 356.0,201.4 357.0,201.1 358.0,200.8 359.0,200.5 360.0,200.3 361.0,200.0 362.0,199.9 363.0,199.8 364.0,199.7 365.0,199.8 366.0,199.8 367.0,199.9 368.0,199.9 369.0,200.0 370.0,200.1 371.0,200.2 372.0,200.3 373.0,200.3 374.0,200.4 375.0,200.4 376.0,200.4 377.0,200.4 378.0,200.4 379.0,200.3 380.0,200.2 381.0,200.1 382.0,199.9 383.0,199.6 384.0,199.4 385.0,199.1 386.0,198.7 387.0,198.4 388.0,198.1 389.0,197.7 390.0,197.4 391.0,197.1 392.0,196.8 393.0,196.5 394.0,196.1 395.0,195.8 396.0,195.5 397.0,195.2 398.0,194.8 399.0,194.5 400.0,194.2 401.0,193.9 402.0,193.5 403.0,193.2 404.0,192.9 405.0,192.6 406.0,192.3 407.0,192.0 408.0,191.7 409.0,191.3 410.0,190.9 411.0,190.4 412.0,189.9 413.0,189.3 414.0,188.6 415.0,187.8 416.0,187.0 417.0,186.1 418.0,185.1 419.0,184.0 420.0,183.0 421.0,181.6 422.0,179.3 423.0,176.7 424.0,173.9 425.0,171.2 426.0,168.4 427.0,165.5 428.0,162.2 429.0,158.2 430.0,153.5 431.0,148.6 432.0,144.9 433.0,141.5 434.0,137.9 435.0,134.1 436.0,130.2 437.0,126.1 438.0,121.7 439.0,117.1 440.0,112.9 441.0,109.1 442.0,105.7 443.0,103.1 444.0,101.2 445.0,99.9 446.0,99.3 447.0,99.6 448.0,100.4 449.0,101.7 450.0,103.6 451.0,105.9 452.0,108.4 453.0,111.2 454.0,114.1 455.0,117.4 456.0,120.9 457.0,124.1 458.0,126.7 459.0,128.9 460.0,130.7 461.0,132.4 462.0,133.9 463.0,135.1 464.0,135.8 465.0,135.9 466.0,135.1 467.0,133.7 468.0,131.7 469.0,129.5 470.0,126.9 471.0,123.9 472.0,120.9 473.0,118.0 474.0,115.3 475.0,112.8 476.0,110.4 477.0,108.1 478.0,106.1 479.0,104.5 480.0,103.2 481.0,102.2 482.0,101.7 483.0,101.3 484.0,101.1 485.0,101.3 486.0,102.4 487.0,104.3 488.0,106.7 489.0,109.5 490.0,112.3 491.0,115.3 492.0,118.3 493.0,121.3 494.0,124.3 495.0,127.2 496.0,130.3 497.0,134.1 498.0,138.7 499.0,143.9 500.0,148.8 501.0,153.5 502.0,156.9 503.0,159.5 504.0,161.9 505.0,164.5 506.0,166.9 507.0,168.9 508.0,170.7 509.0,172.1 510.0,173.4 511.0,174.6 512.0,175.9 513.0,177.1 514.0,178.3 515.0,179.4 516.0,180.4 517.0,181.4 518.0,182.2 519.0,182.9 520.0,183.6 521.0,184.2 522.0,184.7 523.0,185.1 524.0,185.5 525.0,185.9 526.0,186.2 527.0,186.5 528.0,186.7 529.0,186.8 530.0,186.9 531.0,187.0 532.0,187.0 533.0,187.1 534.0,187.2" stroke="#f01038"/>
<path d="M319.0,220.8 320.0,220.9 321.0,221.0 322.0,221.1 323.0,221.2 324.0,221.2 325.0,221.1 326.0,220.8 327.0,220.5 328.0,220.1 329.0,219.7 330.0,219.1 331.0,218.6 332.0,218.0 333.0,217.4 334.0,216.7 335.0,215.9 336.0,215.1 337.0,214.3 338.0,213.5 339.0,212.7 340.0,211.9 341.0,211.1 342.0,210.4 343.0,209.7 344.0,209.0 345.0,208.3 346.0,207.7 347.0,207.1 348.0,206.6 349.0,206.0 350.0,205.5 351.0,204.9 352.0,204.3 353.0,203.7 354.0,203.2 355.0,202.6 356.0,202.1 357.0,201.6 358.0,201.2 359.0,200.7 360.0,200.1 361.0,199.6 362.0,199.1 363.0,198.6 364.0,198.0 365.0,197.5 366.0,196.9 367.0,196.3 368.0,195.7 369.0,195.0 370.0,194.3 371.0,193.6 372.0,192.7 373.0,191.7 374.0,190.7 375.0,189.7 376.0,188.5 377.0,187.3 378.0,186.1 379.0,184.6 380.0,182.7 381.0,180.7 382.0,178.4 383.0,175.5 384.0,172.0 385.0,168.2 386.0,164.4 387.0,160.7 388.0,157.0 389.0,153.2 390.0,149.3 391.0,145.2 392.0,141.1 393.0,136.9 394.0,132.8 395.0,128.7 396.0,124.1 397.0,119.0 398.0,114.7 399.0,111.1 400.0,107.9 401.0,105.3 402.0,103.3 403.0,101.8 404.0,100.9 405.0,100.5 406.0,100.7 407.0,101.4 408.0,102.6 409.0,104.3 410.0,106.7 411.0,109.7 412.0,113.5 413.0,117.9 414.0,123.6 415.0,128.7 416.0,132.2 417.0,135.6 418.0,138.9 419.0,142.0 420.0,145.1 421.0,148.2 422.0,151.4 423.0,154.7 424.0,158.1 425.0,161.5 426.0,164.7 427.0,167.5 428.0,170.1 429.0,172.4 430.0,174.4 431.0,176.2 432.0,177.7 433.0,179.0 434.0,180.1 435.0,181.2 436.0,182.1 437.0,183.0 438.0,183.7 439.0,184.4 440.0,184.9 441.0,185.3 442.0,185.7 443.0,185.9 444.0,186.1 445.0,186.1 446.0,186.2 447.0,186.1 448.0,185.9 449.0,185.6 450.0,185.3 451.0,184.7 452.0,184.1 453.0,183.3 454.0,182.3 455.0,181.1 456.0,179.6 457.0,177.8 458.0,175.8 459.0,173.7 460.0,171.5 461.0,169.1 462.0,166.7 463.0,164.2 464.0,161.5 465.0,158.6 466.0,155.4 467.0,152.1 468.0,148.6 469.0,144.4 470.0,140.0 471.0,135.6 472.0,131.1 473.0,126.6 474.0,121.7 475.0,116.6 476.0,112.2 477.0,108.6 478.0,105.4 479.0,102.5 480.0,100.6 481.0,99.7 482.0,99.4 483.0,99.3 484.0,99.7 485.0,101.0 486.0,103.0 487.0,105.5 488.0,108.3 489.0,111.1 490.0,114.1 491.0,117.1 492.0,120.2 493.0,123.1 494.0,126.0 495.0,129.2 496.0,133.1 497.0,137.9 498.0,143.1 499.0,148.1 500.0,152.7 501.0,155.9 502.0,158.5 503.0,161.0 504.0,163.5 505.0,165.9 506.0,167.9 507.0,169.5 508.0,170.9 509.0,172.1 510.0,173.3 511.0,174.6 512.0,175.9 513.0,177.1 514.0,178.3 515.0,179.4 516.0,180.3 517.0,181.2 518.0,182.0 519.0,182.7 520.0,183.4 521.0,183.9 522.0,184.4 523.0,184.8 524.0,185.2 525.0,185.6 526.0,185.9 527.0,186.1 528.0,186.3 529.0,186.4 530.0,186.5 531.0,186.6 532.0,186.7 533.0,186.8 534.0,186.8" stroke="#22e044"/>
<path d="M319.0,212.6 320.0,212.5 321.0,212.5 322.0,212.6 323.0,212.7 324.0,212.7 325.0,212.6 326.0,212.5 327.0,212.3 328.0,212.0 329.0,211.7 330.0,211.3 331.0,210.9 332.0,210.4 333.0,209.9 334.0,209.4 335.0,208.9 336.0,208.3 337.0,207.7 338.0,207.1 339.0,206.6 340.0,206.0 341.0,205.5 342.0,205.0 343.0,204.6 344.0,204.2 345.0,203.8 346.0,203.3 347.0,202.9 348.0,202.6 349.0,202.2 350.0,201.9 351.0,201.6 352.0,201.4 353.0,201.1 354.0,200.9 355.0,200.7 356.0,200.5 357.0,200.3 358.0,200.1 359.0,200.0 360.0,199.8 361.0,199.7 362.0,199.6 363.0,199.5 364.0,199.5 365.0,199.5 366.0,199.6 367.0,199.6 368.0,199.7 369.0,199.7 370.0,199.7 371.0,199.7 372.0,199.7 373.0,199.6 374.0,199.6 375.0,199.6 376.0,199.5 377.0,199.5 378.0,199.4 379.0,199.3 380.0,199.1 381.0,198.9 382.0,198.7 383.0,198.5 384.0,198.2 385.0,197.9 386.0,197.6 387.0,197.3 388.0,197.0 389.0,196.7 390.0,196.5 391.0,196.2 392.0,196.0 393.0,195.7 394.0,195.4 395.0,195.2 396.0,194.9 397.0,194.6 398.0,194.4 399.0,194.1 400.0,193.8 401.0,193.5 402.0,193.2 403.0,193.0 404.0,192.7 405.0,192.4 406.0,192.1 407.0,191.8 408.0,191.5 409.0,191.1 410.0,190.7 411.0,190.2 412.0,189.6 413.0,188.9 414.0,188.2 415.0,187.4 416.0,186.5 417.0,185.6 418.0,184.6 419.0,183.7 420.0,182.6 421.0,180.8 422.0,178.5 423.0,176.1 424.0,173.7 425.0,171.3 426.0,169.0 427.0,166.4 428.0,163.3 429.0,159.7 430.0,155.5 431.0,152.2 432.0,149.4 433.0,146.6 434.0,143.6 435.0,140.5 436.0,137.3 437.0,133.8 438.0,130.0 439.0,126.4 440.0,123.1 441.0,120.2 442.0,117.8 443.0,115.9 444.0,114.6 445.0,113.9 446.0,113.8 447.0,114.3 448.0,115.2 449.0,116.4 450.0,118.2 451.0,120.1 452.0,122.3 453.0,124.6 454.0,127.1 455.0,130.0 456.0,132.7 457.0,135.0 458.0,136.8 459.0,138.3 460.0,139.7 461.0,141.0 462.0,142.0 463.0,142.7 464.0,142.8 465.0,142.4 466.0,141.3 467.0,139.7 468.0,137.7 469.0,135.5 470.0,133.0 471.0,130.2 472.0,127.6 473.0,125.1 474.0,122.8 475.0,120.6 476.0,118.5 477.0,116.6 478.0,115.0 479.0,113.7 480.0,112.7 481.0,112.0 482.0,111.6 483.0,111.4 484.0,111.3 485.0,111.9 486.0,113.2 487.0,115.2 488.0,117.6 489.0,120.0 490.0,122.5 491.0,125.2 492.0,127.8 493.0,130.5 494.0,133.0 495.0,135.6 496.0,138.7 497.0,142.5 498.0,146.9 499.0,151.4 500.0,155.6 501.0,159.2 502.0,161.6 503.0,163.8 504.0,166.0 505.0,168.2 506.0,170.1 507.0,171.8 508.0,173.1 509.0,174.3 510.0,175.4 511.0,176.5 512.0,177.6 513.0,178.6 514.0,179.6 515.0,180.6 516.0,181.4 517.0,182.1 518.0,182.8 519.0,183.4 520.0,184.0 521.0,184.4 522.0,184.8 523.0,185.1 524.0,185.5 525.0,185.7 526.0,186.0 527.0,186.2 528.0,186.3 529.0,186.4 530.0,186.4 531.0,186.5 532.0,186.5 533.0,186.6 534.0,186.7" stroke="#f83060"/>
<path d="M319.0,216.6 320.0,216.6 321.0,216.6 322.0,216.7 323.0,216.7 324.0,216.7 325.0,216.6 326.0,216.5 327.0,216.2 328.0,216.0 329.0,215.6 330.0,215.2 331.0,214.7 332.0,214.1 333.0,213.5 334.0,212.9 335.0,212.2 336.0,211.4 337.0,210.6 338.0,209.8 339.0,209.0 340.0,208.2 341.0,207.5 342.0,206.8 343.0,206.2 344.0,205.5 345.0,204.9 346.0,204.3 347.0,203.8 348.0,203.2 349.0,202.8 350.0,202.3 351.0,202.0 352.0,201.7 353.0,201.3 354.0,201.0 355.0,200.8 356.0,200.5 357.0,200.2 358.0,200.0 359.0,199.8 360.0,199.5 361.0,199.3 362.0,199.2 363.0,199.1 364.0,199.0 365.0,198.9 366.0,198.8 367.0,198.6 368.0,198.3 369.0,198.0 370.0,197.8 371.0,197.5 372.0,197.2 373.0,196.9 374.0,196.5 375.0,196.2 376.0,195.8 377.0,195.4 378.0,194.8 379.0,194.0 380.0,193.2 381.0,192.3 382.0,191.2 383.0,189.9 384.0,188.5 385.0,186.9 386.0,185.2 387.0,183.3 388.0,181.3 389.0,179.2 390.0,176.9 391.0,174.5 392.0,171.8 393.0,169.0 394.0,166.1 395.0,163.2 396.0,160.2 397.0,157.2 398.0,154.4 399.0,152.1 400.0,149.9 401.0,148.0 402.0,146.3 403.0,145.1 404.0,144.3 405.0,144.2 406.0,144.6 407.0,145.3 408.0,146.2 409.0,147.2 410.0,148.5 411.0,150.1 412.0,151.7 413.0,153.3 414.0,154.9 415.0,156.5 416.0,158.0 417.0,159.6 418.0,161.0 419.0,162.4 420.0,163.7 421.0,165.0 422.0,166.2 423.0,167.2 424.0,168.0 425.0,168.6 426.0,169.1 427.0,169.1 428.0,168.7 429.0,167.8 430.0,166.5 431.0,165.0 432.0,163.1 433.0,160.9 434.0,158.5 435.0,156.1 436.0,153.6 437.0,151.1 438.0,148.6 439.0,146.1 440.0,143.8 441.0,141.5 442.0,139.4 443.0,137.6 444.0,136.3 445.0,135.4 446.0,135.0 447.0,135.0 448.0,135.2 449.0,135.8 450.0,136.7 451.0,137.7 452.0,138.9 453.0,140.3 454.0,141.9 455.0,143.4 456.0,144.7 457.0,145.9 458.0,146.9 459.0,147.8 460.0,148.3 461.0,148.6 462.0,148.4 463.0,147.7 464.0,146.5 465.0,144.8 466.0,142.6 467.0,140.1 468.0,137.2 469.0,134.1 470.0,130.6 471.0,126.7 472.0,122.3 473.0,117.9 474.0,113.8 475.0,110.0 476.0,106.7 477.0,104.0 478.0,101.8 479.0,99.9 480.0,98.3 481.0,97.2 482.0,96.5 483.0,96.5 484.0,97.3 485.0,98.7 486.0,100.6 487.0,102.8 488.0,105.5 489.0,108.4 490.0,111.3 491.0,114.4 492.0,117.4 493.0,120.5 494.0,123.3 495.0,126.4 496.0,130.1 497.0,134.6 498.0,139.7 499.0,144.8 500.0,149.6 501.0,153.4 502.0,156.1 503.0,158.5 504.0,161.0 505.0,163.5 506.0,165.8 507.0,167.9 508.0,169.7 509.0,171.3 510.0,172.8 511.0,174.2 512.0,175.5 513.0,176.7 514.0,177.8 515.0,178.8 516.0,179.7 517.0,180.5 518.0,181.3 519.0,182.0 520.0,182.6 521.0,183.2 522.0,183.6 523.0,184.0 524.0,184.4 525.0,184.7 526.0,185.0 527.0,185.2 528.0,185.3 529.0,185.4 530.0,185.5 531.0,185.6 532.0,185.6 533.0,185.7 534.0,185.8" stroke="#3a8cf0"/>
<path d="M319.0,207.5 320.0,207.4 321.0,207.4 322.0,207.5 323.0,207.5 324.0,207.4 325.0,207.3 326.0,207.2 327.0,207.1 328.0,206.9 329.0,206.7 330.0,206.4 331.0,206.2 332.0,205.9 333.0,205.6 334.0,205.4 335.0,205.0 336.0,204.7 337.0,204.4 338.0,204.0 339.0,203.7 340.0,203.5 341.0,203.2 342.0,203.0 343.0,202.8 344.0,202.5 345.0,202.3 346.0,202.1 347.0,201.8 348.0,201.6 349.0,201.4 350.0,201.2 351.0,201.1 352.0,200.9 353.0,200.8 354.0,200.7 355.0,200.5 356.0,200.4 357.0,200.2 358.0,200.1 359.0,199.9 360.0,199.8 361.0,199.7 362.0,199.7 363.0,199.7 364.0,199.7 365.0,199.7 366.0,199.7 367.0,199.7 368.0,199.7 369.0,199.6 370.0,199.6 371.0,199.5 372.0,199.4 373.0,199.3 374.0,199.1 375.0,199.0 376.0,198.9 377.0,198.7 378.0,198.5 379.0,198.2 380.0,197.9 381.0,197.6 382.0,197.3 383.0,197.0 384.0,196.6 385.0,196.3 386.0,195.9 387.0,195.6 388.0,195.3 389.0,195.0 390.0,194.7 391.0,194.5 392.0,194.2 393.0,194.0 394.0,193.7 395.0,193.5 396.0,193.3 397.0,193.0 398.0,192.8 399.0,192.6 400.0,192.4 401.0,192.2 402.0,192.0 403.0,191.8 404.0,191.6 405.0,191.4 406.0,191.2 407.0,190.9 408.0,190.6 409.0,190.2 410.0,189.8 411.0,189.3 412.0,188.7 413.0,188.0 414.0,187.2 415.0,186.4 416.0,185.5 417.0,184.5 418.0,183.5 419.0,182.4 420.0,180.6 421.0,178.2 422.0,175.6 423.0,173.1 424.0,170.6 425.0,168.1 426.0,165.3 427.0,162.0 428.0,158.2 429.0,153.7 430.0,150.1 431.0,147.0 432.0,144.0 433.0,140.8 434.0,137.4 435.0,134.0 436.0,130.3 437.0,126.2 438.0,122.4 439.0,118.9 440.0,115.7 441.0,113.1 442.0,111.1 443.0,109.7 444.0,108.9 445.0,108.7 446.0,109.2 447.0,110.1 448.0,111.4 449.0,113.1 450.0,115.2 451.0,117.4 452.0,119.8 453.0,122.4 454.0,125.3 455.0,128.2 456.0,130.5 457.0,132.4 458.0,134.0 459.0,135.3 460.0,136.6 461.0,137.6 462.0,138.3 463.0,138.4 464.0,137.8 465.0,136.6 466.0,134.7 467.0,132.6 468.0,130.1 469.0,127.3 470.0,124.2 471.0,121.2 472.0,118.5 473.0,115.8 474.0,113.4 475.0,111.1 476.0,108.9 477.0,107.1 478.0,105.7 479.0,104.6 480.0,103.8 481.0,103.4 482.0,103.1 483.0,103.0 484.0,103.6 485.0,105.1 486.0,107.2 487.0,109.8 488.0,112.5 489.0,115.2 490.0,118.1 491.0,121.0 492.0,123.9 493.0,126.6 494.0,129.4 495.0,132.7 496.0,136.8 497.0,141.6 498.0,146.5 499.0,151.1 500.0,155.0 501.0,157.6 502.0,159.9 503.0,162.3 504.0,164.7 505.0,166.8 506.0,168.6 507.0,170.1 508.0,171.3 509.0,172.5 510.0,173.7 511.0,174.9 512.0,176.1 513.0,177.2 514.0,178.3 515.0,179.3 516.0,180.1 517.0,181.0 518.0,181.7 519.0,182.3 520.0,182.9 521.0,183.4 522.0,183.9 523.0,184.3 524.0,184.7 525.0,185.0 526.0,185.3 527.0,185.5 528.0,185.7 529.0,185.8 530.0,185.9 531.0,186.0 532.0,186.1 533.0,186.3 534.0,186.4" stroke="#f0184c"/>
<path d="M319.0,215.0 320.0,215.0 321.0,215.0 322.0,214.9 323.0,214.8 324.0,214.5 325.0,214.2 326.0,213.8 327.0,213.4 328.0,212.9 329.0,212.4 330.0,211.9 331.0,211.3 332.0,210.7 333.0,210.2 334.0,209.6 335.0,209.0 336.0,208.4 337.0,207.8 338.0,207.3 339.0,206.8 340.0,206.4 341.0,205.9 342.0,205.5 343.0,205.2 344.0,204.8 345.0,204.4 346.0,204.1 347.0,203.7 348.0,203.4 349.0,203.1 350.0,202.8 351.0,202.6 352.0,202.3 353.0,202.0 354.0,201.7 355.0,201.4 356.0,201.1 357.0,200.8 358.0,200.6 359.0,200.3 360.0,200.1 361.0,199.9 362.0,199.8 363.0,199.7 364.0,199.6 365.0,199.5 366.0,199.4 367.0,199.4 368.0,199.3 369.0,199.3 370.0,199.2 371.0,199.2 372.0,199.2 373.0,199.2 374.0,199.2 375.0,199.2 376.0,199.1 377.0,199.1 378.0,199.0 379.0,198.9 380.0,198.7 381.0,198.5 382.0,198.3 383.0,198.1 384.0,197.9 385.0,197.7 386.0,197.4 387.0,197.2 388.0,196.9 389.0,196.7 390.0,196.5 391.0,196.2 392.0,196.0 393.0,195.7 394.0,195.5 395.0,195.2 396.0,194.9 397.0,194.6 398.0,194.3 399.0,194.0 400.0,193.7 401.0,193.5 402.0,193.2 403.0,192.9 404.0,192.6 405.0,192.3 406.0,191.9 407.0,191.5 408.0,191.0 409.0,190.5 410.0,189.9 411.0,189.2 412.0,188.5 413.0,187.7 414.0,186.8 415.0,185.8 416.0,184.8 417.0,183.8 418.0,182.6 419.0,180.5 420.0,178.0 421.0,175.4 422.0,172.8 423.0,170.3 424.0,167.6 425.0,164.6 426.0,161.0 427.0,156.7 428.0,152.1 429.0,148.6 430.0,145.4 431.0,142.1 432.0,138.6 433.0,135.0 434.0,131.3 435.0,127.3 436.0,123.0 437.0,119.0 438.0,115.4 439.0,112.1 440.0,109.6 441.0,107.6 442.0,106.3 443.0,105.6 444.0,105.7 445.0,106.4 446.0,107.5 447.0,109.1 448.0,111.1 449.0,113.5 450.0,116.0 451.0,118.7 452.0,121.7 453.0,125.0 454.0,128.1 455.0,130.7 456.0,132.9 457.0,134.7 458.0,136.4 459.0,138.0 460.0,139.4 461.0,140.3 462.0,140.7 463.0,140.4 464.0,139.5 465.0,138.1 466.0,136.4 467.0,134.4 468.0,132.1 469.0,129.7 470.0,127.5 471.0,125.4 472.0,123.4 473.0,121.5 474.0,119.8 475.0,118.2 476.0,116.9 477.0,115.9 478.0,115.2 479.0,114.7 480.0,114.5 481.0,114.4 482.0,114.5 483.0,115.3 484.0,116.9 485.0,118.9 486.0,121.3 487.0,123.7 488.0,126.2 489.0,128.8 490.0,131.4 491.0,133.9 492.0,136.4 493.0,139.0 494.0,142.1 495.0,146.0 496.0,150.3 497.0,154.5 498.0,158.6 499.0,161.7 500.0,163.9 501.0,166.0 502.0,168.2 503.0,170.2 504.0,172.0 505.0,173.5 506.0,174.7 507.0,175.8 508.0,176.8 509.0,177.8 510.0,178.9 511.0,179.8 512.0,180.7 513.0,181.6 514.0,182.3 515.0,183.0 516.0,183.6 517.0,184.1 518.0,184.6 519.0,185.0 520.0,185.3 521.0,185.6 522.0,185.9 523.0,186.1 524.0,186.3 525.0,186.5 526.0,186.6 527.0,186.7 528.0,186.7 529.0,186.8 530.0,186.9 531.0,187.0 532.0,187.0 533.0,187.1 534.0,187.2" stroke="#f0184c"/>
<path d="M319.0,212.3 320.0,212.2 321.0,212.1 322.0,212.1 323.0,212.0 324.0,212.0 325.0,211.8 326.0,211.5 327.0,211.2 328.0,210.9 329.0,210.5 330.0,210.1 331.0,209.6 332.0,209.1 333.0,208.7 334.0,208.2 335.0,207.8 336.0,207.4 337.0,206.9 338.0,206.5 339.0,206.2 340.0,205.9 341.0,205.6 342.0,205.4 343.0,205.3 344.0,205.1 345.0,205.0 346.0,204.9 347.0,204.7 348.0,204.6 349.0,204.5 350.0,204.3 351.0,204.2 352.0,204.1 353.0,203.9 354.0,203.8 355.0,203.6 356.0,203.3 357.0,203.0 358.0,202.7 359.0,202.4 360.0,202.1 361.0,201.7 362.0,201.4 363.0,201.1 364.0,200.8 365.0,200.6 366.0,200.4 367.0,200.2 368.0,200.1 369.0,199.9 370.0,199.7 371.0,199.6 372.0,199.5 373.0,199.4 374.0,199.3 375.0,199.2 376.0,199.1 377.0,199.1 378.0,199.0 379.0,198.9 380.0,198.8 381.0,198.7 382.0,198.5 383.0,198.3 384.0,198.1 385.0,197.9 386.0,197.6 387.0,197.4 388.0,197.1 389.0,196.8 390.0,196.6 391.0,196.3 392.0,196.1 393.0,195.8 394.0,195.5 395.0,195.2 396.0,194.9 397.0,194.6 398.0,194.3 399.0,194.0 400.0,193.7 401.0,193.4 402.0,193.0 403.0,192.7 404.0,192.4 405.0,192.1 406.0,191.8 407.0,191.5 408.0,191.2 409.0,190.8 410.0,190.4 411.0,190.0 412.0,189.4 413.0,188.8 414.0,188.1 415.0,187.4 416.0,186.6 417.0,185.7 418.0,184.7 419.0,183.7 420.0,182.8 421.0,181.1 422.0,178.8 423.0,176.2 424.0,173.6 425.0,171.0 426.0,168.3 427.0,165.5 428.0,162.1 429.0,158.1 430.0,153.2 431.0,149.0 432.0,145.6 433.0,142.2 434.0,138.7 435.0,134.9 436.0,131.1 437.0,127.1 438.0,122.6 439.0,118.2 440.0,114.3 441.0,110.6 442.0,107.6 443.0,105.2 444.0,103.5 445.0,102.4 446.0,102.1 447.0,102.5 448.0,103.5 449.0,104.9 450.0,106.8 451.0,109.1 452.0,111.7 453.0,114.4 454.0,117.3 455.0,120.7 456.0,124.1 457.0,127.0 458.0,129.4 459.0,131.4 460.0,133.2 461.0,134.9 462.0,136.4 463.0,137.5 464.0,138.1 465.0,137.9 466.0,137.1 467.0,135.6 468.0,133.8 469.0,131.6 470.0,129.1 471.0,126.3 472.0,123.4 473.0,120.8 474.0,118.4 475.0,116.0 476.0,113.8 477.0,111.7 478.0,109.9 479.0,108.5 480.0,107.3 481.0,106.5 482.0,106.0 483.0,105.8 484.0,105.6 485.0,106.0 486.0,107.3 487.0,109.3 488.0,111.7 489.0,114.3 490.0,117.0 491.0,119.8 492.0,122.7 493.0,125.6 494.0,128.4 495.0,131.1 496.0,134.3 497.0,138.2 498.0,142.8 499.0,147.7 500.0,152.3 501.0,156.5 502.0,159.2 503.0,161.6 504.0,164.0 505.0,166.3 506.0,168.5 507.0,170.3 508.0,171.8 509.0,173.1 510.0,174.2 511.0,175.4 512.0,176.5 513.0,177.6 514.0,178.7 515.0,179.7 516.0,180.6 517.0,181.4 518.0,182.1 519.0,182.8 520.0,183.3 521.0,183.9 522.0,184.3 523.0,184.7 524.0,185.1 525.0,185.4 526.0,185.7 527.0,186.0 528.0,186.2 529.0,186.4 530.0,186.5 531.0,186.7 532.0,186.8 533.0,187.0 534.0,187.1" stroke="#f0184c"/>
<path d="M319.0,208.5 320.0,208.6 321.0,208.7 322.0,208.8 323.0,209.0 324.0,209.1 325.0,209.1 326.0,209.1 327.0,209.0 328.0,208.9 329.0,208.7 330.0,208.4 331.0,208.1 332.0,207.8 333.0,207.5 334.0,207.1 335.0,206.8 336.0,206.3 337.0,205.9 338.0,205.5 339.0,205.1 340.0,204.7 341.0,204.3 342.0,204.0 343.0,203.7 344.0,203.4 345.0,203.1 346.0,202.8 347.0,202.5 348.0,202.3 349.0,202.0 350.0,201.8 351.0,201.6 352.0,201.4 353.0,201.3 354.0,201.1 355.0,200.9 356.0,200.8 357.0,200.6 358.0,200.4 359.0,200.2 360.0,200.1 361.0,199.9 362.0,199.8 363.0,199.7 364.0,199.7 365.0,199.6 366.0,199.6 367.0,199.6 368.0,199.5 369.0,199.5 370.0,199.4 371.0,199.3 372.0,199.2 373.0,199.1 374.0,199.0 375.0,198.8 376.0,198.7 377.0,198.6 378.0,198.4 379.0,198.2 380.0,198.0 381.0,197.8 382.0,197.5 383.0,197.2 384.0,197.0 385.0,196.7 386.0,196.4 387.0,196.1 388.0,195.8 389.0,195.5 390.0,195.3 391.0,195.0 392.0,194.8 393.0,194.6 394.0,194.3 395.0,194.1 396.0,193.9 397.0,193.6 398.0,193.4 399.0,193.2 400.0,192.9 401.0,192.7 402.0,192.4 403.0,192.2 404.0,191.9 405.0,191.7 406.0,191.4 407.0,191.2 408.0,190.8 409.0,190.4 410.0,190.0 411.0,189.5 412.0,188.9 413.0,188.2 414.0,187.4 415.0,186.6 416.0,185.6 417.0,184.6 418.0,183.6 419.0,182.6 420.0,181.2 421.0,179.0 422.0,176.5 423.0,173.9 424.0,171.4 425.0,168.8 426.0,166.2 427.0,163.1 428.0,159.4 429.0,155.1 430.0,150.7 431.0,147.4 432.0,144.3 433.0,141.1 434.0,137.7 435.0,134.2 436.0,130.5 437.0,126.5 438.0,122.3 439.0,118.6 440.0,115.1 441.0,112.1 442.0,109.7 443.0,108.0 444.0,106.8 445.0,106.4 446.0,106.6 447.0,107.4 448.0,108.6 449.0,110.3 450.0,112.4 451.0,114.7 452.0,117.2 453.0,119.9 454.0,122.9 455.0,126.1 456.0,129.1 457.0,131.4 458.0,133.4 459.0,135.1 460.0,136.7 461.0,138.2 462.0,139.3 463.0,140.1 464.0,140.2 465.0,139.6 466.0,138.5 467.0,136.8 468.0,135.0 469.0,132.8 470.0,130.2 471.0,127.7 472.0,125.2 473.0,123.0 474.0,120.8 475.0,118.8 476.0,116.9 477.0,115.2 478.0,113.9 479.0,112.8 480.0,112.0 481.0,111.5 482.0,111.2 483.0,111.0 484.0,111.2 485.0,112.2 486.0,113.8 487.0,116.0 488.0,118.4 489.0,120.8 490.0,123.3 491.0,126.0 492.0,128.6 493.0,131.1 494.0,133.6 495.0,136.3 496.0,139.7 497.0,143.7 498.0,148.2 499.0,152.5 500.0,156.6 501.0,159.5 502.0,161.7 503.0,163.9 504.0,166.1 505.0,168.2 506.0,170.1 507.0,171.6 508.0,172.8 509.0,174.0 510.0,175.1 511.0,176.2 512.0,177.3 513.0,178.4 514.0,179.4 515.0,180.3 516.0,181.2 517.0,181.9 518.0,182.6 519.0,183.2 520.0,183.8 521.0,184.2 522.0,184.6 523.0,185.0 524.0,185.3 525.0,185.6 526.0,185.9 527.0,186.1 528.0,186.2 529.0,186.3 530.0,186.4 531.0,186.4 532.0,186.5 533.0,186.6 534.0,186.7" stroke="#e80c30"/>
<path d="M319.0,221.3 320.0,221.4 321.0,221.5 322.0,221.7 323.0,221.9 324.0,222.1 325.0,222.3 326.0,222.4 327.0,222.4 328.0,222.3 329.0,222.2 330.0,221.9 331.0,221.7 332.0,221.3 333.0,220.9 334.0,220.4 335.0,219.9 336.0,219.3 337.0,218.6 338.0,217.8 339.0,217.1 340.0,216.3 341.0,215.6 342.0,214.9 343.0,214.2 344.0,213.5 345.0,212.9 346.0,212.2 347.0,211.5 348.0,210.8 349.0,210.2 350.0,209.5 351.0,209.0 352.0,208.4 353.0,207.9 354.0,207.3 355.0,206.8 356.0,206.3 357.0,205.8 358.0,205.2 359.0,204.7 360.0,204.2 361.0,203.7 362.0,203.2 363.0,202.8 364.0,202.4 365.0,202.0 366.0,201.7 367.0,201.2 368.0,200.8 369.0,200.3 370.0,199.8 371.0,199.4 372.0,198.9 373.0,198.4 374.0,197.9 375.0,197.5 376.0,197.0 377.0,196.5 378.0,195.9 379.0,195.2 380.0,194.3 381.0,193.4 382.0,192.3 383.0,191.1 384.0,189.8 385.0,188.2 386.0,186.5 387.0,184.6 388.0,182.5 389.0,180.4 390.0,178.1 391.0,175.7 392.0,173.0 393.0,170.1 394.0,167.1 395.0,164.1 396.0,160.9 397.0,157.7 398.0,154.6 399.0,151.7 400.0,149.3 401.0,147.1 402.0,145.1 403.0,143.5 404.0,142.3 405.0,141.7 406.0,141.9 407.0,142.4 408.0,143.4 409.0,144.4 410.0,145.6 411.0,147.2 412.0,149.0 413.0,150.9 414.0,152.7 415.0,154.6 416.0,156.4 417.0,158.3 418.0,160.1 419.0,161.8 420.0,163.4 421.0,165.0 422.0,166.5 423.0,167.9 424.0,169.2 425.0,170.1 426.0,170.9 427.0,171.5 428.0,171.7 429.0,171.3 430.0,170.5 431.0,169.3 432.0,168.0 433.0,166.3 434.0,164.2 435.0,162.1 436.0,159.9 437.0,157.7 438.0,155.4 439.0,153.1 440.0,150.9 441.0,148.8 442.0,146.7 443.0,144.8 444.0,143.3 445.0,142.1 446.0,141.4 447.0,141.1 448.0,141.2 449.0,141.4 450.0,142.0 451.0,142.9 452.0,143.9 453.0,145.0 454.0,146.3 455.0,147.7 456.0,149.1 457.0,150.2 458.0,151.3 459.0,152.2 460.0,153.0 461.0,153.4 462.0,153.5 463.0,153.2 464.0,152.4 465.0,151.2 466.0,149.5 467.0,147.4 468.0,145.0 469.0,142.3 470.0,139.3 471.0,136.0 472.0,132.3 473.0,128.1 474.0,124.2 475.0,120.4 476.0,117.0 477.0,114.0 478.0,111.7 479.0,109.7 480.0,108.0 481.0,106.6 482.0,105.6 483.0,105.1 484.0,105.3 485.0,106.1 486.0,107.5 487.0,109.3 488.0,111.5 489.0,114.0 490.0,116.7 491.0,119.4 492.0,122.2 493.0,125.1 494.0,127.8 495.0,130.5 496.0,133.4 497.0,137.0 498.0,141.3 499.0,146.1 500.0,150.7 501.0,155.2 502.0,158.3 503.0,160.7 504.0,163.0 505.0,165.4 506.0,167.6 507.0,169.7 508.0,171.6 509.0,173.3 510.0,174.8 511.0,176.2 512.0,177.5 513.0,178.7 514.0,179.8 515.0,180.8 516.0,181.7 517.0,182.6 518.0,183.4 519.0,184.1 520.0,184.7 521.0,185.3 522.0,185.8 523.0,186.2 524.0,186.6 525.0,187.0 526.0,187.3 527.0,187.5 528.0,187.7 529.0,187.8 530.0,187.9 531.0,187.9 532.0,188.0 533.0,188.1 534.0,188.1" stroke="#1668d8"/>
<path d="M319.0,220.6 320.0,220.6 321.0,220.7 322.0,220.7 323.0,220.8 324.0,220.8 325.0,220.8 326.0,220.7 327.0,220.5 328.0,220.3 329.0,220.1 330.0,219.8 331.0,219.4 332.0,219.1 333.0,218.6 334.0,218.1 335.0,217.6 336.0,216.9 337.0,216.3 338.0,215.6 339.0,215.0 340.0,214.4 341.0,213.8 342.0,213.2 343.0,212.6 344.0,212.0 345.0,211.3 346.0,210.7 347.0,210.1 348.0,209.5 349.0,208.9 350.0,208.3 351.0,207.8 352.0,207.2 353.0,206.7 354.0,206.1 355.0,205.6 356.0,205.0 357.0,204.5 358.0,203.9 359.0,203.4 360.0,202.9 361.0,202.5 362.0,202.2 363.0,201.8 364.0,201.5 365.0,201.2 366.0,200.8 367.0,200.4 368.0,200.0 369.0,199.6 370.0,199.2 371.0,198.9 372.0,198.5 373.0,198.1 374.0,197.7 375.0,197.4 376.0,196.9 377.0,196.4 378.0,195.6 379.0,194.8 380.0,193.9 381.0,192.9 382.0,191.7 383.0,190.3 384.0,188.8 385.0,187.1 386.0,185.2 387.0,183.2 388.0,181.1 389.0,178.9 390.0,176.6 391.0,173.9 392.0,171.2 393.0,168.3 394.0,165.4 395.0,162.4 396.0,159.4 397.0,156.6 398.0,154.2 399.0,152.0 400.0,150.0 401.0,148.3 402.0,147.0 403.0,146.1 404.0,145.9 405.0,146.2 406.0,146.9 407.0,147.8 408.0,148.8 409.0,149.9 410.0,151.5 411.0,153.1 412.0,154.8 413.0,156.4 414.0,158.0 415.0,159.6 416.0,161.2 417.0,162.7 418.0,164.0 419.0,165.4 420.0,166.7 421.0,167.9 422.0,169.0 423.0,169.8 424.0,170.4 425.0,170.9 426.0,171.1 427.0,170.7 428.0,169.9 429.0,168.7 430.0,167.2 431.0,165.4 432.0,163.2 433.0,160.9 434.0,158.5 435.0,156.0 436.0,153.5 437.0,151.0 438.0,148.5 439.0,146.2 440.0,143.9 441.0,141.7 442.0,139.9 443.0,138.5 444.0,137.5 445.0,137.0 446.0,137.0 447.0,137.2 448.0,137.7 449.0,138.7 450.0,139.7 451.0,141.0 452.0,142.4 453.0,143.9 454.0,145.5 455.0,147.0 456.0,148.3 457.0,149.5 458.0,150.5 459.0,151.3 460.0,151.7 461.0,151.8 462.0,151.3 463.0,150.4 464.0,149.0 465.0,147.2 466.0,145.0 467.0,142.6 468.0,139.8 469.0,136.8 470.0,133.4 471.0,129.4 472.0,125.4 473.0,121.7 474.0,118.2 475.0,115.0 476.0,112.5 477.0,110.4 478.0,108.7 479.0,107.2 480.0,106.1 481.0,105.4 482.0,105.3 483.0,105.8 484.0,106.9 485.0,108.6 486.0,110.6 487.0,113.0 488.0,115.6 489.0,118.3 490.0,121.1 491.0,123.9 492.0,126.7 493.0,129.3 494.0,132.0 495.0,135.2 496.0,139.1 497.0,143.7 498.0,148.5 499.0,153.0 500.0,156.8 501.0,159.4 502.0,161.6 503.0,163.9 504.0,166.2 505.0,168.3 506.0,170.3 507.0,172.0 508.0,173.5 509.0,174.9 510.0,176.2 511.0,177.5 512.0,178.6 513.0,179.7 514.0,180.7 515.0,181.5 516.0,182.4 517.0,183.1 518.0,183.9 519.0,184.5 520.0,185.1 521.0,185.6 522.0,186.0 523.0,186.4 524.0,186.8 525.0,187.1 526.0,187.4 527.0,187.6 528.0,187.7 529.0,187.8 530.0,187.9 531.0,188.0 532.0,188.1 533.0,188.2 534.0,188.2" stroke="#1c78e8"/>
<path d="M319.0,209.8 320.0,209.8 321.0,209.9 322.0,209.9 323.0,210.0 324.0,210.0 325.0,210.0 326.0,209.9 327.0,209.8 328.0,209.5 329.0,209.3 330.0,208.9 331.0,208.5 332.0,208.1 333.0,207.7 334.0,207.3 335.0,206.9 336.0,206.4 337.0,206.0 338.0,205.5 339.0,205.1 340.0,204.6 341.0,204.2 342.0,203.9 343.0,203.5 344.0,203.1 345.0,202.8 346.0,202.4 347.0,202.1 348.0,201.8 349.0,201.5 350.0,201.3 351.0,201.1 352.0,200.9 353.0,200.8 354.0,200.6 355.0,200.4 356.0,200.3 357.0,200.1 358.0,200.0 359.0,199.8 360.0,199.7 361.0,199.5 362.0,199.5 363.0,199.4 364.0,199.4 365.0,199.4 366.0,199.4 367.0,199.4 368.0,199.4 369.0,199.3 370.0,199.3 371.0,199.2 372.0,199.1 373.0,198.9 374.0,198.8 375.0,198.7 376.0,198.5 377.0,198.4 378.0,198.2 379.0,198.0 380.0,197.7 381.0,197.5 382.0,197.2 383.0,197.0 384.0,196.7 385.0,196.5 386.0,196.2 387.0,196.0 388.0,195.7 389.0,195.5 390.0,195.2 391.0,194.9 392.0,194.7 393.0,194.4 394.0,194.2 395.0,193.9 396.0,193.7 397.0,193.4 398.0,193.2 399.0,192.9 400.0,192.7 401.0,192.4 402.0,192.2 403.0,191.9 404.0,191.7 405.0,191.4 406.0,191.2 407.0,190.9 408.0,190.6 409.0,190.1 410.0,189.7 411.0,189.2 412.0,188.5 413.0,187.8 414.0,187.0 415.0,186.2 416.0,185.3 417.0,184.3 418.0,183.2 419.0,181.9 420.0,180.2 421.0,177.9 422.0,175.4 423.0,172.7 424.0,170.0 425.0,167.1 426.0,164.2 427.0,160.9 428.0,157.2 429.0,152.7 430.0,148.2 431.0,144.3 432.0,140.6 433.0,136.7 434.0,132.7 435.0,128.5 436.0,124.2 437.0,119.5 438.0,114.7 439.0,110.1 440.0,105.7 441.0,101.8 442.0,98.7 443.0,96.2 444.0,94.5 445.0,93.7 446.0,93.9 447.0,94.6 448.0,95.7 449.0,97.7 450.0,100.2 451.0,103.0 452.0,106.2 453.0,109.7 454.0,113.2 455.0,116.6 456.0,120.0 457.0,123.3 458.0,126.5 459.0,129.4 460.0,132.0 461.0,134.3 462.0,136.4 463.0,138.5 464.0,140.5 465.0,142.3 466.0,143.7 467.0,144.7 468.0,145.3 469.0,145.6 470.0,145.6 471.0,145.3 472.0,144.9 473.0,144.4 474.0,144.0 475.0,143.6 476.0,143.3 477.0,143.1 478.0,142.8 479.0,142.5 480.0,142.3 481.0,142.2 482.0,142.2 483.0,142.4 484.0,142.6 485.0,142.8 486.0,143.0 487.0,143.2 488.0,143.6 489.0,144.2 490.0,145.3 491.0,147.0 492.0,148.9 493.0,151.1 494.0,153.4 495.0,155.8 496.0,158.1 497.0,160.3 498.0,162.4 499.0,164.5 500.0,166.6 501.0,168.3 502.0,169.9 503.0,171.4 504.0,172.7 505.0,174.0 506.0,175.4 507.0,176.7 508.0,178.0 509.0,179.2 510.0,180.4 511.0,181.6 512.0,182.6 513.0,183.5 514.0,184.3 515.0,185.0 516.0,185.7 517.0,186.2 518.0,186.7 519.0,187.1 520.0,187.5 521.0,187.9 522.0,188.2 523.0,188.5 524.0,188.7 525.0,188.7 526.0,188.8 527.0,188.8 528.0,188.9 529.0,188.9 530.0,188.9 531.0,189.0 532.0,189.0 533.0,189.0 534.0,189.0" stroke="#ff50d0"/>
<path d="M319.0,214.5 320.0,214.4 321.0,214.3 322.0,214.3 323.0,214.3 324.0,214.3 325.0,214.1 326.0,214.0 327.0,213.7 328.0,213.5 329.0,213.2 330.0,212.8 331.0,212.4 332.0,212.1 333.0,211.7 334.0,211.3 335.0,210.9 336.0,210.4 337.0,210.0 338.0,209.5 339.0,209.1 340.0,208.7 341.0,208.4 342.0,208.1 343.0,207.8 344.0,207.6 345.0,207.3 346.0,207.0 347.0,206.7 348.0,206.4 349.0,206.1 350.0,205.9 351.0,205.7 352.0,205.5 353.0,205.2 354.0,205.0 355.0,204.7 356.0,204.5 357.0,204.2 358.0,203.9 359.0,203.6 360.0,203.3 361.0,203.0 362.0,202.8 363.0,202.6 364.0,202.4 365.0,202.2 366.0,202.0 367.0,201.9 368.0,201.7 369.0,201.5 370.0,201.4 371.0,201.2 372.0,201.0 373.0,200.8 374.0,200.7 375.0,200.5 376.0,200.3 377.0,200.2 378.0,200.0 379.0,199.8 380.0,199.5 381.0,199.3 382.0,199.0 383.0,198.7 384.0,198.5 385.0,198.2 386.0,197.9 387.0,197.6 388.0,197.3 389.0,197.0 390.0,196.8 391.0,196.5 392.0,196.3 393.0,196.1 394.0,195.8 395.0,195.6 396.0,195.4 397.0,195.1 398.0,194.9 399.0,194.6 400.0,194.4 401.0,194.1 402.0,193.9 403.0,193.7 404.0,193.4 405.0,193.2 406.0,192.9 407.0,192.7 408.0,192.3 409.0,191.9 410.0,191.5 411.0,191.0 412.0,190.4 413.0,189.8 414.0,189.0 415.0,188.2 416.0,187.3 417.0,186.4 418.0,185.4 419.0,184.5 420.0,183.2 421.0,181.1 422.0,178.7 423.0,176.3 424.0,173.9 425.0,171.6 426.0,169.2 427.0,166.4 428.0,163.1 429.0,159.2 430.0,155.3 431.0,152.4 432.0,149.7 433.0,146.9 434.0,143.9 435.0,140.8 436.0,137.5 437.0,133.9 438.0,130.2 439.0,126.9 440.0,123.8 441.0,121.1 442.0,119.0 443.0,117.4 444.0,116.4 445.0,116.0 446.0,116.2 447.0,116.9 448.0,118.0 449.0,119.5 450.0,121.3 451.0,123.4 452.0,125.6 453.0,128.0 454.0,130.7 455.0,133.5 456.0,136.1 457.0,138.2 458.0,139.9 459.0,141.4 460.0,142.8 461.0,144.0 462.0,145.0 463.0,145.5 464.0,145.5 465.0,144.9 466.0,143.7 467.0,142.1 468.0,140.2 469.0,138.1 470.0,135.6 471.0,133.1 472.0,130.8 473.0,128.6 474.0,126.5 475.0,124.5 476.0,122.6 477.0,121.0 478.0,119.7 479.0,118.6 480.0,117.8 481.0,117.3 482.0,117.0 483.0,116.8 484.0,117.0 485.0,117.9 486.0,119.5 487.0,121.5 488.0,123.8 489.0,126.1 490.0,128.5 491.0,131.0 492.0,133.4 493.0,135.9 494.0,138.2 495.0,140.8 496.0,143.9 497.0,147.8 498.0,152.1 499.0,156.1 500.0,160.0 501.0,162.6 502.0,164.7 503.0,166.7 504.0,168.8 505.0,170.8 506.0,172.4 507.0,173.8 508.0,175.0 509.0,176.0 510.0,177.0 511.0,178.1 512.0,179.1 513.0,180.1 514.0,181.0 515.0,181.8 516.0,182.6 517.0,183.3 518.0,183.9 519.0,184.5 520.0,185.0 521.0,185.4 522.0,185.8 523.0,186.2 524.0,186.5 525.0,186.8 526.0,187.1 527.0,187.3 528.0,187.4 529.0,187.5 530.0,187.6 531.0,187.8 532.0,187.9 533.0,188.0 534.0,188.1" stroke="#f0184c"/>
<path d="M319.0,220.6 320.0,220.6 321.0,220.6 322.0,220.6 323.0,220.6 324.0,220.5 325.0,220.3 326.0,220.0 327.0,219.6 328.0,219.0 329.0,218.4 330.0,217.8 331.0,217.1 332.0,216.3 333.0,215.6 334.0,214.7 335.0,213.9 336.0,212.9 337.0,212.0 338.0,211.0 339.0,210.1 340.0,209.3 341.0,208.4 342.0,207.6 343.0,206.8 344.0,206.1 345.0,205.5 346.0,204.9 347.0,204.4 348.0,203.8 349.0,203.4 350.0,202.9 351.0,202.4 352.0,201.9 353.0,201.5 354.0,201.1 355.0,200.7 356.0,200.3 357.0,199.9 358.0,199.6 359.0,199.2 360.0,198.9 361.0,198.5 362.0,198.1 363.0,197.7 364.0,197.3 365.0,196.9 366.0,196.5 367.0,196.0 368.0,195.6 369.0,195.0 370.0,194.5 371.0,193.8 372.0,193.0 373.0,192.2 374.0,191.3 375.0,190.4 376.0,189.3 377.0,188.2 378.0,187.0 379.0,185.6 380.0,184.0 381.0,182.1 382.0,179.9 383.0,177.2 384.0,173.9 385.0,170.4 386.0,166.8 387.0,163.2 388.0,159.7 389.0,156.2 390.0,152.5 391.0,148.6 392.0,144.7 393.0,140.8 394.0,136.9 395.0,133.0 396.0,128.7 397.0,123.9 398.0,119.7 399.0,116.2 400.0,113.1 401.0,110.6 402.0,108.6 403.0,107.1 404.0,106.2 405.0,105.7 406.0,105.8 407.0,106.4 408.0,107.4 409.0,108.9 410.0,111.0 411.0,113.7 412.0,117.2 413.0,121.2 414.0,126.3 415.0,131.3 416.0,134.6 417.0,137.7 418.0,140.7 419.0,143.6 420.0,146.4 421.0,149.3 422.0,152.2 423.0,155.3 424.0,158.4 425.0,161.6 426.0,164.7 427.0,167.4 428.0,169.9 429.0,172.1 430.0,174.1 431.0,175.8 432.0,177.3 433.0,178.6 434.0,179.7 435.0,180.7 436.0,181.7 437.0,182.6 438.0,183.3 439.0,184.0 440.0,184.5 441.0,184.9 442.0,185.3 443.0,185.5 444.0,185.7 445.0,185.8 446.0,185.8 447.0,185.7 448.0,185.6 449.0,185.3 450.0,184.9 451.0,184.4 452.0,183.8 453.0,183.0 454.0,182.0 455.0,180.8 456.0,179.3 457.0,177.6 458.0,175.7 459.0,173.7 460.0,171.5 461.0,169.3 462.0,166.9 463.0,164.5 464.0,162.0 465.0,159.3 466.0,156.3 467.0,153.3 468.0,149.9 469.0,146.1 470.0,142.0 471.0,137.8 472.0,133.6 473.0,129.4 474.0,124.9 475.0,120.1 476.0,115.9 477.0,112.5 478.0,109.4 479.0,106.8 480.0,104.9 481.0,104.0 482.0,103.7 483.0,103.7 484.0,104.1 485.0,105.2 486.0,107.1 487.0,109.4 488.0,112.1 489.0,114.8 490.0,117.6 491.0,120.5 492.0,123.4 493.0,126.2 494.0,128.9 495.0,131.9 496.0,135.6 497.0,140.1 498.0,145.0 499.0,149.7 500.0,154.2 501.0,157.3 502.0,159.7 503.0,162.1 504.0,164.5 505.0,166.8 506.0,168.7 507.0,170.2 508.0,171.5 509.0,172.6 510.0,173.8 511.0,174.9 512.0,176.1 513.0,177.2 514.0,178.3 515.0,179.3 516.0,180.2 517.0,181.0 518.0,181.8 519.0,182.4 520.0,182.9 521.0,183.4 522.0,183.8 523.0,184.2 524.0,184.6 525.0,184.9 526.0,185.2 527.0,185.4 528.0,185.5 529.0,185.6 530.0,185.7 531.0,185.8 532.0,185.9 533.0,185.9 534.0,186.0" stroke="#22e044"/>
<path d="M319.0,218.5 320.0,218.6 321.0,218.7 322.0,218.8 323.0,218.8 324.0,218.8 325.0,218.6 326.0,218.4 327.0,218.2 328.0,217.8 329.0,217.4 330.0,216.9 331.0,216.4 332.0,215.9 333.0,215.3 334.0,214.6 335.0,214.0 336.0,213.3 337.0,212.6 338.0,211.9 339.0,211.2 340.0,210.7 341.0,210.1 342.0,209.6 343.0,209.2 344.0,208.7 345.0,208.3 346.0,207.9 347.0,207.4 348.0,207.1 349.0,206.7 350.0,206.4 351.0,206.1 352.0,205.8 353.0,205.5 354.0,205.1 355.0,204.7 356.0,204.3 357.0,203.9 358.0,203.4 359.0,203.0 360.0,202.5 361.0,202.1 362.0,201.7 363.0,201.3 364.0,200.9 365.0,200.5 366.0,200.0 367.0,199.5 368.0,199.0 369.0,198.5 370.0,198.0 371.0,197.5 372.0,197.1 373.0,196.6 374.0,196.2 375.0,195.8 376.0,195.3 377.0,194.7 378.0,194.0 379.0,193.1 380.0,192.2 381.0,191.2 382.0,190.0 383.0,188.6 384.0,187.0 385.0,185.2 386.0,183.3 387.0,181.3 388.0,179.1 389.0,176.8 390.0,174.3 391.0,171.5 392.0,168.6 393.0,165.6 394.0,162.5 395.0,159.3 396.0,156.1 397.0,153.0 398.0,150.4 399.0,148.1 400.0,146.0 401.0,144.1 402.0,142.7 403.0,141.7 404.0,141.5 405.0,141.8 406.0,142.5 407.0,143.4 408.0,144.5 409.0,145.7 410.0,147.4 411.0,149.1 412.0,150.8 413.0,152.6 414.0,154.3 415.0,156.1 416.0,157.8 417.0,159.4 418.0,161.0 419.0,162.5 420.0,163.9 421.0,165.3 422.0,166.5 423.0,167.5 424.0,168.3 425.0,168.9 426.0,169.1 427.0,168.8 428.0,168.0 429.0,166.8 430.0,165.3 431.0,163.5 432.0,161.2 433.0,158.9 434.0,156.4 435.0,153.8 436.0,151.2 437.0,148.6 438.0,146.0 439.0,143.5 440.0,141.1 441.0,138.9 442.0,137.0 443.0,135.5 444.0,134.5 445.0,133.9 446.0,133.9 447.0,134.1 448.0,134.7 449.0,135.6 450.0,136.7 451.0,138.0 452.0,139.5 453.0,141.1 454.0,142.8 455.0,144.3 456.0,145.7 457.0,146.9 458.0,148.0 459.0,148.8 460.0,149.3 461.0,149.4 462.0,148.9 463.0,148.0 464.0,146.6 465.0,144.7 466.0,142.5 467.0,139.9 468.0,137.1 469.0,133.9 470.0,130.4 471.0,126.3 472.0,122.1 473.0,118.2 474.0,114.6 475.0,111.4 476.0,108.7 477.0,106.6 478.0,104.7 479.0,103.2 480.0,102.0 481.0,101.3 482.0,101.2 483.0,101.7 484.0,102.9 485.0,104.6 486.0,106.7 487.0,109.2 488.0,111.9 489.0,114.6 490.0,117.5 491.0,120.5 492.0,123.4 493.0,126.2 494.0,129.0 495.0,132.4 496.0,136.6 497.0,141.5 498.0,146.4 499.0,151.1 500.0,155.0 501.0,157.7 502.0,160.1 503.0,162.5 504.0,164.9 505.0,167.2 506.0,169.2 507.0,171.0 508.0,172.6 509.0,174.1 510.0,175.5 511.0,176.7 512.0,177.9 513.0,179.0 514.0,179.9 515.0,180.8 516.0,181.6 517.0,182.3 518.0,183.0 519.0,183.6 520.0,184.2 521.0,184.6 522.0,185.0 523.0,185.4 524.0,185.7 525.0,186.0 526.0,186.3 527.0,186.5 528.0,186.6 529.0,186.7 530.0,186.8 531.0,187.0 532.0,187.1 533.0,187.2 534.0,187.3" stroke="#1c78e8"/>
<path d="M319.0,210.0 320.0,210.0 321.0,209.9 322.0,209.9 323.0,209.9 324.0,209.7 325.0,209.5 326.0,209.2 327.0,208.9 328.0,208.5 329.0,208.0 330.0,207.5 331.0,207.0 332.0,206.4 333.0,205.9 334.0,205.4 335.0,204.9 336.0,204.3 337.0,203.8 338.0,203.3 339.0,202.9 340.0,202.6 341.0,202.3 342.0,202.0 343.0,201.8 344.0,201.7 345.0,201.5 346.0,201.4 347.0,201.2 348.0,201.1 349.0,201.0 350.0,200.9 351.0,200.9 352.0,200.9 353.0,200.8 354.0,200.7 355.0,200.6 356.0,200.5 357.0,200.4 358.0,200.2 359.0,200.0 360.0,199.8 361.0,199.6 362.0,199.5 363.0,199.3 364.0,199.2 365.0,199.1 366.0,199.0 367.0,199.0 368.0,198.9 369.0,198.8 370.0,198.7 371.0,198.6 372.0,198.5 373.0,198.4 374.0,198.4 375.0,198.3 376.0,198.3 377.0,198.2 378.0,198.1 379.0,198.0 380.0,197.9 381.0,197.8 382.0,197.6 383.0,197.4 384.0,197.2 385.0,196.9 386.0,196.7 387.0,196.5 388.0,196.2 389.0,196.0 390.0,195.7 391.0,195.5 392.0,195.3 393.0,195.0 394.0,194.7 395.0,194.5 396.0,194.2 397.0,193.9 398.0,193.6 399.0,193.3 400.0,193.0 401.0,192.6 402.0,192.3 403.0,192.0 404.0,191.7 405.0,191.4 406.0,191.1 407.0,190.7 408.0,190.3 409.0,189.9 410.0,189.4 411.0,188.8 412.0,188.2 413.0,187.5 414.0,186.7 415.0,185.9 416.0,185.0 417.0,184.0 418.0,183.1 419.0,182.2 420.0,180.7 421.0,178.5 422.0,176.1 423.0,173.7 424.0,171.3 425.0,168.9 426.0,166.4 427.0,163.5 428.0,160.0 429.0,155.8 430.0,152.0 431.0,149.0 432.0,146.2 433.0,143.1 434.0,140.0 435.0,136.7 436.0,133.2 437.0,129.4 438.0,125.5 439.0,122.0 440.0,118.8 441.0,116.1 442.0,114.0 443.0,112.4 444.0,111.4 445.0,111.1 446.0,111.4 447.0,112.1 448.0,113.3 449.0,115.0 450.0,117.0 451.0,119.2 452.0,121.5 453.0,124.1 454.0,127.0 455.0,129.9 456.0,132.6 457.0,134.7 458.0,136.5 459.0,138.0 460.0,139.5 461.0,140.8 462.0,141.8 463.0,142.3 464.0,142.2 465.0,141.5 466.0,140.2 467.0,138.5 468.0,136.5 469.0,134.2 470.0,131.7 471.0,129.1 472.0,126.7 473.0,124.4 474.0,122.2 475.0,120.2 476.0,118.3 477.0,116.6 478.0,115.2 479.0,114.2 480.0,113.4 481.0,112.9 482.0,112.6 483.0,112.4 484.0,112.7 485.0,113.7 486.0,115.5 487.0,117.6 488.0,120.0 489.0,122.4 490.0,125.0 491.0,127.6 492.0,130.2 493.0,132.7 494.0,135.2 495.0,138.0 496.0,141.5 497.0,145.6 498.0,150.1 499.0,154.3 500.0,158.2 501.0,160.8 502.0,163.0 503.0,165.2 504.0,167.4 505.0,169.4 506.0,171.1 507.0,172.5 508.0,173.7 509.0,174.7 510.0,175.8 511.0,176.8 512.0,177.9 513.0,178.8 514.0,179.7 515.0,180.5 516.0,181.3 517.0,181.9 518.0,182.5 519.0,183.0 520.0,183.5 521.0,183.9 522.0,184.2 523.0,184.5 524.0,184.8 525.0,185.1 526.0,185.3 527.0,185.5 528.0,185.6 529.0,185.7 530.0,185.8 531.0,185.9 532.0,186.0 533.0,186.1 534.0,186.2" stroke="#f42848"/>
<path d="M319.0,211.2 320.0,211.1 321.0,211.1 322.0,211.1 323.0,211.1 324.0,211.0 325.0,210.8 326.0,210.6 327.0,210.4 328.0,210.1 329.0,209.8 330.0,209.4 331.0,209.1 332.0,208.7 333.0,208.3 334.0,207.9 335.0,207.5 336.0,207.1 337.0,206.6 338.0,206.2 339.0,205.8 340.0,205.5 341.0,205.1 342.0,204.8 343.0,204.5 344.0,204.2 345.0,203.9 346.0,203.6 347.0,203.3 348.0,203.0 349.0,202.7 350.0,202.5 351.0,202.3 352.0,202.1 353.0,201.9 354.0,201.7 355.0,201.5 356.0,201.3 357.0,201.1 358.0,200.9 359.0,200.7 360.0,200.5 361.0,200.4 362.0,200.4 363.0,200.4 364.0,200.4 365.0,200.4 366.0,200.4 367.0,200.4 368.0,200.5 369.0,200.5 370.0,200.5 371.0,200.4 372.0,200.4 373.0,200.4 374.0,200.3 375.0,200.3 376.0,200.2 377.0,200.1 378.0,199.9 379.0,199.8 380.0,199.5 381.0,199.3 382.0,199.0 383.0,198.7 384.0,198.3 385.0,198.0 386.0,197.7 387.0,197.3 388.0,197.0 389.0,196.7 390.0,196.4 391.0,196.1 392.0,195.8 393.0,195.5 394.0,195.2 395.0,194.9 396.0,194.6 397.0,194.3 398.0,194.0 399.0,193.7 400.0,193.4 401.0,193.1 402.0,192.8 403.0,192.5 404.0,192.3 405.0,192.0 406.0,191.7 407.0,191.4 408.0,191.0 409.0,190.6 410.0,190.1 411.0,189.5 412.0,188.8 413.0,188.1 414.0,187.3 415.0,186.4 416.0,185.5 417.0,184.4 418.0,183.4 419.0,182.3 420.0,180.4 421.0,178.0 422.0,175.4 423.0,172.8 424.0,170.2 425.0,167.6 426.0,164.8 427.0,161.3 428.0,157.3 429.0,152.6 430.0,148.9 431.0,145.7 432.0,142.5 433.0,139.1 434.0,135.6 435.0,132.0 436.0,128.2 437.0,123.9 438.0,119.9 439.0,116.3 440.0,113.0 441.0,110.4 442.0,108.3 443.0,106.9 444.0,106.2 445.0,106.1 446.0,106.7 447.0,107.8 448.0,109.3 449.0,111.3 450.0,113.6 451.0,116.1 452.0,118.7 453.0,121.7 454.0,124.9 455.0,128.1 456.0,130.7 457.0,132.9 458.0,134.8 459.0,136.5 460.0,138.0 461.0,139.4 462.0,140.3 463.0,140.7 464.0,140.5 465.0,139.6 466.0,138.1 467.0,136.3 468.0,134.3 469.0,131.9 470.0,129.3 471.0,126.7 472.0,124.4 473.0,122.2 474.0,120.1 475.0,118.2 476.0,116.4 477.0,114.9 478.0,113.7 479.0,112.7 480.0,112.1 481.0,111.8 482.0,111.6 483.0,111.5 484.0,112.1 485.0,113.5 486.0,115.5 487.0,117.8 488.0,120.3 489.0,122.8 490.0,125.4 491.0,128.0 492.0,130.6 493.0,133.1 494.0,135.7 495.0,138.7 496.0,142.5 497.0,146.8 498.0,151.3 499.0,155.5 500.0,159.0 501.0,161.4 502.0,163.5 503.0,165.7 504.0,167.8 505.0,169.8 506.0,171.4 507.0,172.7 508.0,173.8 509.0,174.9 510.0,176.0 511.0,177.1 512.0,178.2 513.0,179.2 514.0,180.1 515.0,181.0 516.0,181.8 517.0,182.5 518.0,183.2 519.0,183.7 520.0,184.2 521.0,184.7 522.0,185.1 523.0,185.4 524.0,185.8 525.0,186.1 526.0,186.3 527.0,186.5 528.0,186.6 529.0,186.7 530.0,186.9 531.0,187.0 532.0,187.1 533.0,187.2 534.0,187.3" stroke="#f83060"/>
<path d="M319.0,211.9 320.0,211.9 321.0,212.0 322.0,212.0 323.0,212.1 324.0,212.2 325.0,212.2 326.0,212.2 327.0,212.1 328.0,211.9 329.0,211.7 330.0,211.4 331.0,211.0 332.0,210.6 333.0,210.1 334.0,209.7 335.0,209.2 336.0,208.7 337.0,208.2 338.0,207.7 339.0,207.2 340.0,206.7 341.0,206.2 342.0,205.7 343.0,205.3 344.0,204.8 345.0,204.4 346.0,204.0 347.0,203.7 348.0,203.3 349.0,202.9 350.0,202.6 351.0,202.4 352.0,202.1 353.0,201.9 354.0,201.7 355.0,201.5 356.0,201.3 357.0,201.1 358.0,200.9 359.0,200.8 360.0,200.6 361.0,200.4 362.0,200.3 363.0,200.2 364.0,200.1 365.0,200.0 366.0,200.0 367.0,200.0 368.0,199.9 369.0,199.9 370.0,199.8 371.0,199.7 372.0,199.6 373.0,199.5 374.0,199.4 375.0,199.2 376.0,199.1 377.0,198.9 378.0,198.8 379.0,198.6 380.0,198.4 381.0,198.2 382.0,197.9 383.0,197.7 384.0,197.4 385.0,197.2 386.0,197.0 387.0,196.7 388.0,196.5 389.0,196.3 390.0,196.0 391.0,195.8 392.0,195.5 393.0,195.3 394.0,195.1 395.0,194.8 396.0,194.6 397.0,194.3 398.0,194.1 399.0,193.8 400.0,193.6 401.0,193.3 402.0,193.1 403.0,192.8 404.0,192.6 405.0,192.3 406.0,192.1 407.0,191.8 408.0,191.5 409.0,191.2 410.0,190.7 411.0,190.3 412.0,189.7 413.0,189.1 414.0,188.4 415.0,187.6 416.0,186.7 417.0,185.8 418.0,184.8 419.0,183.7 420.0,182.4 421.0,180.7 422.0,178.4 423.0,175.9 424.0,173.1 425.0,170.3 426.0,167.4 427.0,164.3 428.0,161.0 429.0,157.2 430.0,152.6 431.0,147.9 432.0,143.8 433.0,139.9 434.0,135.9 435.0,131.7 436.0,127.4 437.0,122.9 438.0,118.1 439.0,113.1 440.0,108.3 441.0,103.8 442.0,99.7 443.0,96.4 444.0,93.8 445.0,92.0 446.0,91.1 447.0,91.3 448.0,92.1 449.0,93.4 450.0,95.4 451.0,98.2 452.0,101.3 453.0,104.7 454.0,108.5 455.0,112.3 456.0,116.1 457.0,119.9 458.0,123.5 459.0,127.1 460.0,130.2 461.0,132.7 462.0,134.9 463.0,136.8 464.0,138.2 465.0,138.9 466.0,139.0 467.0,138.4 468.0,137.2 469.0,135.6 470.0,133.6 471.0,131.0 472.0,128.1 473.0,125.2 474.0,122.5 475.0,120.0 476.0,117.5 477.0,115.3 478.0,113.6 479.0,112.2 480.0,111.1 481.0,110.2 482.0,109.6 483.0,109.5 484.0,110.0 485.0,111.2 486.0,112.8 487.0,114.5 488.0,116.6 489.0,119.1 490.0,121.5 491.0,124.1 492.0,126.7 493.0,129.4 494.0,131.9 495.0,134.4 496.0,137.2 497.0,140.8 498.0,145.0 499.0,149.5 500.0,153.7 501.0,157.7 502.0,160.3 503.0,162.5 504.0,164.6 505.0,166.8 506.0,168.9 507.0,170.8 508.0,172.5 509.0,174.0 510.0,175.3 511.0,176.6 512.0,177.8 513.0,178.9 514.0,179.9 515.0,180.9 516.0,181.7 517.0,182.5 518.0,183.2 519.0,183.8 520.0,184.4 521.0,185.0 522.0,185.4 523.0,185.8 524.0,186.1 525.0,186.4 526.0,186.7 527.0,186.9 528.0,187.1 529.0,187.2 530.0,187.2 531.0,187.3 532.0,187.4 533.0,187.4 534.0,187.5" stroke="#ff4890"/>
<path d="M319.0,222.0 320.0,221.9 321.0,221.9 322.0,222.0 323.0,222.0 324.0,222.1 325.0,222.0 326.0,221.9 327.0,221.6 328.0,221.2 329.0,220.8 330.0,220.2 331.0,219.6 332.0,219.0 333.0,218.3 334.0,217.7 335.0,216.9 336.0,216.1 337.0,215.3 338.0,214.4 339.0,213.5 340.0,212.7 341.0,211.9 342.0,211.1 343.0,210.3 344.0,209.5 345.0,208.8 346.0,208.2 347.0,207.5 348.0,207.0 349.0,206.4 350.0,205.8 351.0,205.3 352.0,204.7 353.0,204.1 354.0,203.6 355.0,203.0 356.0,202.4 357.0,201.9 358.0,201.4 359.0,200.9 360.0,200.3 361.0,199.8 362.0,199.3 363.0,198.7 364.0,198.2 365.0,197.7 366.0,197.2 367.0,196.7 368.0,196.2 369.0,195.7 370.0,195.1 371.0,194.6 372.0,193.9 373.0,193.2 374.0,192.5 375.0,191.7 376.0,190.8 377.0,189.9 378.0,188.9 379.0,187.9 380.0,186.6 381.0,185.2 382.0,183.5 383.0,181.5 384.0,179.2 385.0,176.3 386.0,172.9 387.0,169.6 388.0,166.2 389.0,162.9 390.0,159.5 391.0,156.1 392.0,152.4 393.0,148.7 394.0,145.0 395.0,141.3 396.0,137.6 397.0,133.7 398.0,129.1 399.0,124.9 400.0,121.3 401.0,118.3 402.0,115.7 403.0,113.7 404.0,112.1 405.0,111.0 406.0,110.4 407.0,110.3 408.0,110.7 409.0,111.5 410.0,112.8 411.0,114.6 412.0,117.0 413.0,120.0 414.0,123.7 415.0,128.1 416.0,133.2 417.0,136.5 418.0,139.5 419.0,142.3 420.0,145.0 421.0,147.7 422.0,150.3 423.0,153.0 424.0,155.9 425.0,158.9 426.0,161.9 427.0,164.8 428.0,167.6 429.0,170.0 430.0,172.2 431.0,174.2 432.0,175.9 433.0,177.5 434.0,178.8 435.0,179.9 436.0,180.9 437.0,181.9 438.0,182.7 439.0,183.5 440.0,184.2 441.0,184.7 442.0,185.2 443.0,185.5 444.0,185.8 445.0,186.0 446.0,186.1 447.0,186.2 448.0,186.2 449.0,186.1 450.0,185.8 451.0,185.5 452.0,185.1 453.0,184.6 454.0,183.9 455.0,183.1 456.0,182.0 457.0,180.7 458.0,179.2 459.0,177.5 460.0,175.7 461.0,173.8 462.0,171.8 463.0,169.8 464.0,167.8 465.0,165.6 466.0,163.3 467.0,160.9 468.0,158.3 469.0,155.6 470.0,152.5 471.0,149.1 472.0,145.6 473.0,142.1 474.0,138.6 475.0,134.9 476.0,130.9 477.0,127.2 478.0,124.2 479.0,121.6 480.0,119.2 481.0,117.5 482.0,116.5 483.0,116.2 484.0,116.2 485.0,116.4 486.0,117.2 487.0,118.7 488.0,120.6 489.0,122.9 490.0,125.2 491.0,127.6 492.0,130.1 493.0,132.6 494.0,135.0 495.0,137.4 496.0,139.8 497.0,142.8 498.0,146.5 499.0,150.6 500.0,154.7 501.0,158.7 502.0,161.7 503.0,163.8 504.0,165.9 505.0,167.9 506.0,169.9 507.0,171.6 508.0,173.0 509.0,174.2 510.0,175.1 511.0,176.1 512.0,177.1 513.0,178.1 514.0,179.1 515.0,180.0 516.0,180.9 517.0,181.7 518.0,182.4 519.0,183.0 520.0,183.6 521.0,184.1 522.0,184.5 523.0,184.9 524.0,185.2 525.0,185.6 526.0,185.8 527.0,186.1 528.0,186.3 529.0,186.4 530.0,186.5 531.0,186.6 532.0,186.7 533.0,186.8 534.0,186.9" stroke="#22e044"/>
<path d="M319.0,211.2 320.0,211.2 321.0,211.2 322.0,211.3 323.0,211.4 324.0,211.5 325.0,211.4 326.0,211.3 327.0,211.2 328.0,211.0 329.0,210.7 330.0,210.4 331.0,210.0 332.0,209.6 333.0,209.2 334.0,208.8 335.0,208.4 336.0,207.9 337.0,207.4 338.0,206.9 339.0,206.4 340.0,206.0 341.0,205.6 342.0,205.2 343.0,204.9 344.0,204.5 345.0,204.2 346.0,203.9 347.0,203.5 348.0,203.2 349.0,202.9 350.0,202.7 351.0,202.4 352.0,202.2 353.0,202.0 354.0,201.9 355.0,201.7 356.0,201.5 357.0,201.3 358.0,201.1 359.0,201.0 360.0,200.8 361.0,200.7 362.0,200.6 363.0,200.5 364.0,200.5 365.0,200.5 366.0,200.5 367.0,200.4 368.0,200.4 369.0,200.4 370.0,200.4 371.0,200.3 372.0,200.2 373.0,200.1 374.0,200.0 375.0,199.9 376.0,199.8 377.0,199.7 378.0,199.6 379.0,199.4 380.0,199.2 381.0,198.9 382.0,198.7 383.0,198.4 384.0,198.1 385.0,197.8 386.0,197.4 387.0,197.1 388.0,196.8 389.0,196.5 390.0,196.2 391.0,196.0 392.0,195.7 393.0,195.5 394.0,195.2 395.0,195.0 396.0,194.7 397.0,194.4 398.0,194.2 399.0,193.9 400.0,193.6 401.0,193.4 402.0,193.1 403.0,192.8 404.0,192.6 405.0,192.3 406.0,192.1 407.0,191.8 408.0,191.4 409.0,191.1 410.0,190.6 411.0,190.1 412.0,189.5 413.0,188.8 414.0,188.1 415.0,187.2 416.0,186.3 417.0,185.3 418.0,184.3 419.0,183.3 420.0,182.0 421.0,180.0 422.0,177.4 423.0,174.7 424.0,172.1 425.0,169.4 426.0,166.6 427.0,163.5 428.0,159.8 429.0,155.4 430.0,150.5 431.0,146.7 432.0,143.3 433.0,139.9 434.0,136.2 435.0,132.5 436.0,128.6 437.0,124.4 438.0,119.9 439.0,115.8 440.0,112.0 441.0,108.5 442.0,105.8 443.0,103.8 444.0,102.3 445.0,101.6 446.0,101.7 447.0,102.3 448.0,103.5 449.0,105.1 450.0,107.3 451.0,109.7 452.0,112.3 453.0,115.1 454.0,118.3 455.0,121.7 456.0,125.0 457.0,127.7 458.0,129.9 459.0,131.8 460.0,133.6 461.0,135.2 462.0,136.5 463.0,137.5 464.0,137.8 465.0,137.4 466.0,136.4 467.0,134.8 468.0,132.9 469.0,130.7 470.0,128.1 471.0,125.3 472.0,122.7 473.0,120.3 474.0,118.0 475.0,115.8 476.0,113.7 477.0,111.8 478.0,110.3 479.0,109.1 480.0,108.1 481.0,107.5 482.0,107.2 483.0,107.0 484.0,107.0 485.0,107.8 486.0,109.4 487.0,111.5 488.0,114.0 489.0,116.6 490.0,119.3 491.0,122.0 492.0,124.8 493.0,127.6 494.0,130.2 495.0,133.0 496.0,136.3 497.0,140.4 498.0,145.1 499.0,149.7 500.0,154.2 501.0,157.7 502.0,160.1 503.0,162.4 504.0,164.7 505.0,167.0 506.0,169.0 507.0,170.7 508.0,172.1 509.0,173.3 510.0,174.5 511.0,175.6 512.0,176.8 513.0,177.9 514.0,179.0 515.0,180.0 516.0,180.9 517.0,181.7 518.0,182.5 519.0,183.1 520.0,183.7 521.0,184.2 522.0,184.6 523.0,185.0 524.0,185.4 525.0,185.7 526.0,186.0 527.0,186.3 528.0,186.4 529.0,186.5 530.0,186.6 531.0,186.7 532.0,186.8 533.0,186.9 534.0,187.0" stroke="#f0184c"/>
<path d="M319.0,213.7 320.0,213.9 321.0,214.0 322.0,214.2 323.0,214.4 324.0,214.4 325.0,214.4 326.0,214.3 327.0,214.1 328.0,213.9 329.0,213.6 330.0,213.2 331.0,212.8 332.0,212.3 333.0,211.9 334.0,211.4 335.0,210.9 336.0,210.3 337.0,209.8 338.0,209.3 339.0,208.8 340.0,208.4 341.0,208.0 342.0,207.7 343.0,207.4 344.0,207.1 345.0,206.8 346.0,206.6 347.0,206.3 348.0,206.1 349.0,205.9 350.0,205.8 351.0,205.7 352.0,205.5 353.0,205.4 354.0,205.3 355.0,205.1 356.0,204.9 357.0,204.7 358.0,204.4 359.0,204.2 360.0,203.9 361.0,203.6 362.0,203.3 363.0,203.0 364.0,202.7 365.0,202.5 366.0,202.2 367.0,201.9 368.0,201.6 369.0,201.3 370.0,201.0 371.0,200.6 372.0,200.3 373.0,200.0 374.0,199.8 375.0,199.5 376.0,199.3 377.0,199.0 378.0,198.8 379.0,198.6 380.0,198.4 381.0,198.1 382.0,197.9 383.0,197.7 384.0,197.4 385.0,197.2 386.0,197.0 387.0,196.8 388.0,196.6 389.0,196.4 390.0,196.3 391.0,196.1 392.0,196.0 393.0,195.8 394.0,195.7 395.0,195.5 396.0,195.3 397.0,195.1 398.0,194.9 399.0,194.7 400.0,194.5 401.0,194.3 402.0,194.1 403.0,193.8 404.0,193.6 405.0,193.3 406.0,193.1 407.0,192.8 408.0,192.4 409.0,192.0 410.0,191.5 411.0,190.9 412.0,190.3 413.0,189.6 414.0,188.7 415.0,187.9 416.0,186.9 417.0,185.9 418.0,184.8 419.0,183.8 420.0,182.2 421.0,179.9 422.0,177.2 423.0,174.5 424.0,171.9 425.0,169.1 426.0,166.3 427.0,162.9 428.0,158.9 429.0,154.1 430.0,149.6 431.0,146.0 432.0,142.6 433.0,139.0 434.0,135.2 435.0,131.4 436.0,127.3 437.0,122.8 438.0,118.3 439.0,114.2 440.0,110.4 441.0,107.2 442.0,104.6 443.0,102.7 444.0,101.5 445.0,101.0 446.0,101.3 447.0,102.1 448.0,103.4 449.0,105.2 450.0,107.4 451.0,109.9 452.0,112.5 453.0,115.4 454.0,118.7 455.0,122.1 456.0,125.1 457.0,127.6 458.0,129.7 459.0,131.5 460.0,133.2 461.0,134.7 462.0,135.9 463.0,136.6 464.0,136.7 465.0,135.9 466.0,134.6 467.0,132.7 468.0,130.6 469.0,128.2 470.0,125.3 471.0,122.5 472.0,119.8 473.0,117.3 474.0,115.0 475.0,112.7 476.0,110.6 477.0,108.7 478.0,107.2 479.0,106.0 480.0,105.1 481.0,104.6 482.0,104.2 483.0,104.0 484.0,104.3 485.0,105.4 486.0,107.3 487.0,109.7 488.0,112.3 489.0,115.0 490.0,117.8 491.0,120.7 492.0,123.5 493.0,126.3 494.0,129.1 495.0,132.2 496.0,136.0 497.0,140.6 498.0,145.6 499.0,150.4 500.0,154.8 501.0,157.9 502.0,160.3 503.0,162.8 504.0,165.3 505.0,167.6 506.0,169.6 507.0,171.2 508.0,172.6 509.0,173.9 510.0,175.1 511.0,176.4 512.0,177.6 513.0,178.8 514.0,179.9 515.0,180.9 516.0,181.8 517.0,182.6 518.0,183.3 519.0,183.9 520.0,184.5 521.0,185.0 522.0,185.4 523.0,185.8 524.0,186.1 525.0,186.4 526.0,186.7 527.0,186.9 528.0,187.0 529.0,187.1 530.0,187.2 531.0,187.3 532.0,187.5 533.0,187.6 534.0,187.7" stroke="#f83060"/>
<path d="M319.0,219.4 320.0,219.5 321.0,219.6 322.0,219.8 323.0,219.9 324.0,220.0 325.0,219.9 326.0,219.7 327.0,219.4 328.0,219.0 329.0,218.6 330.0,218.0 331.0,217.5 332.0,216.8 333.0,216.2 334.0,215.4 335.0,214.7 336.0,213.8 337.0,212.9 338.0,212.0 339.0,211.2 340.0,210.3 341.0,209.5 342.0,208.7 343.0,207.9 344.0,207.2 345.0,206.5 346.0,205.9 347.0,205.4 348.0,204.8 349.0,204.3 350.0,203.8 351.0,203.3 352.0,202.8 353.0,202.3 354.0,201.8 355.0,201.4 356.0,201.0 357.0,200.5 358.0,200.2 359.0,199.7 360.0,199.3 361.0,198.9 362.0,198.4 363.0,198.0 364.0,197.5 365.0,197.0 366.0,196.6 367.0,196.1 368.0,195.5 369.0,195.0 370.0,194.4 371.0,193.7 372.0,192.9 373.0,192.0 374.0,191.1 375.0,190.2 376.0,189.2 377.0,188.1 378.0,187.0 379.0,185.6 380.0,184.1 381.0,182.3 382.0,180.2 383.0,177.8 384.0,174.8 385.0,171.3 386.0,167.9 387.0,164.5 388.0,161.1 389.0,157.7 390.0,154.2 391.0,150.5 392.0,146.7 393.0,143.0 394.0,139.2 395.0,135.5 396.0,131.6 397.0,126.9 398.0,122.7 399.0,119.2 400.0,116.2 401.0,113.6 402.0,111.6 403.0,110.1 404.0,109.0 405.0,108.5 406.0,108.4 407.0,108.9 408.0,109.8 409.0,111.1 410.0,113.0 411.0,115.5 412.0,118.6 413.0,122.4 414.0,127.0 415.0,132.2 416.0,135.5 417.0,138.5 418.0,141.4 419.0,144.2 420.0,146.9 421.0,149.6 422.0,152.3 423.0,155.3 424.0,158.3 425.0,161.4 426.0,164.4 427.0,167.1 428.0,169.6 429.0,171.8 430.0,173.8 431.0,175.5 432.0,177.0 433.0,178.4 434.0,179.5 435.0,180.5 436.0,181.5 437.0,182.4 438.0,183.1 439.0,183.8 440.0,184.4 441.0,184.8 442.0,185.2 443.0,185.4 444.0,185.6 445.0,185.7 446.0,185.8 447.0,185.7 448.0,185.6 449.0,185.3 450.0,185.0 451.0,184.5 452.0,184.0 453.0,183.2 454.0,182.3 455.0,181.2 456.0,179.9 457.0,178.3 458.0,176.5 459.0,174.6 460.0,172.6 461.0,170.6 462.0,168.5 463.0,166.4 464.0,164.2 465.0,161.8 466.0,159.3 467.0,156.6 468.0,153.9 469.0,150.6 470.0,147.1 471.0,143.5 472.0,140.0 473.0,136.4 474.0,132.6 475.0,128.5 476.0,124.8 477.0,121.7 478.0,119.1 479.0,116.7 480.0,114.9 481.0,114.0 482.0,113.8 483.0,113.7 484.0,114.0 485.0,114.9 486.0,116.4 487.0,118.4 488.0,120.7 489.0,123.0 490.0,125.5 491.0,128.0 492.0,130.5 493.0,133.0 494.0,135.4 495.0,137.9 496.0,141.0 497.0,144.7 498.0,149.0 499.0,153.2 500.0,157.2 501.0,160.3 502.0,162.5 503.0,164.6 504.0,166.7 505.0,168.7 506.0,170.5 507.0,171.9 508.0,173.1 509.0,174.2 510.0,175.2 511.0,176.3 512.0,177.3 513.0,178.3 514.0,179.3 515.0,180.2 516.0,181.1 517.0,181.8 518.0,182.5 519.0,183.1 520.0,183.6 521.0,184.0 522.0,184.4 523.0,184.8 524.0,185.1 525.0,185.4 526.0,185.6 527.0,185.8 528.0,186.0 529.0,186.0 530.0,186.1 531.0,186.2 532.0,186.2 533.0,186.3 534.0,186.3" stroke="#2ade4a"/>
<path d="M319.0,208.0 320.0,208.0 321.0,208.1 322.0,208.2 323.0,208.3 324.0,208.3 325.0,208.3 326.0,208.2 327.0,208.1 328.0,207.8 329.0,207.6 330.0,207.2 331.0,206.9 332.0,206.5 333.0,206.1 334.0,205.7 335.0,205.3 336.0,204.8 337.0,204.4 338.0,204.0 339.0,203.5 340.0,203.1 341.0,202.7 342.0,202.4 343.0,202.1 344.0,201.7 345.0,201.4 346.0,201.1 347.0,200.8 348.0,200.5 349.0,200.3 350.0,200.1 351.0,200.0 352.0,199.8 353.0,199.7 354.0,199.6 355.0,199.4 356.0,199.3 357.0,199.2 358.0,199.0 359.0,198.9 360.0,198.8 361.0,198.7 362.0,198.7 363.0,198.7 364.0,198.7 365.0,198.7 366.0,198.7 367.0,198.7 368.0,198.7 369.0,198.7 370.0,198.7 371.0,198.6 372.0,198.5 373.0,198.4 374.0,198.3 375.0,198.1 376.0,198.0 377.0,197.8 378.0,197.6 379.0,197.4 380.0,197.2 381.0,197.0 382.0,196.7 383.0,196.5 384.0,196.2 385.0,196.0 386.0,195.7 387.0,195.5 388.0,195.2 389.0,195.0 390.0,194.7 391.0,194.5 392.0,194.2 393.0,194.0 394.0,193.7 395.0,193.5 396.0,193.2 397.0,193.0 398.0,192.7 399.0,192.5 400.0,192.2 401.0,192.0 402.0,191.7 403.0,191.5 404.0,191.2 405.0,191.0 406.0,190.7 407.0,190.5 408.0,190.1 409.0,189.7 410.0,189.2 411.0,188.7 412.0,188.1 413.0,187.3 414.0,186.6 415.0,185.7 416.0,184.8 417.0,183.8 418.0,182.7 419.0,181.5 420.0,179.7 421.0,177.5 422.0,174.9 423.0,172.2 424.0,169.5 425.0,166.7 426.0,163.7 427.0,160.5 428.0,156.7 429.0,152.2 430.0,147.7 431.0,143.9 432.0,140.1 433.0,136.2 434.0,132.2 435.0,128.1 436.0,123.7 437.0,119.0 438.0,114.2 439.0,109.7 440.0,105.2 441.0,101.4 442.0,98.2 443.0,95.7 444.0,94.0 445.0,93.3 446.0,93.4 447.0,94.1 448.0,95.3 449.0,97.2 450.0,99.7 451.0,102.6 452.0,105.8 453.0,109.2 454.0,112.7 455.0,116.1 456.0,119.5 457.0,122.8 458.0,125.9 459.0,128.7 460.0,131.2 461.0,133.4 462.0,135.4 463.0,137.3 464.0,139.2 465.0,140.8 466.0,142.0 467.0,142.7 468.0,143.0 469.0,142.9 470.0,142.5 471.0,141.8 472.0,140.9 473.0,140.0 474.0,139.1 475.0,138.3 476.0,137.7 477.0,137.1 478.0,136.5 479.0,135.9 480.0,135.5 481.0,135.3 482.0,135.2 483.0,135.5 484.0,135.9 485.0,136.5 486.0,137.1 487.0,137.9 488.0,138.9 489.0,140.1 490.0,141.8 491.0,144.0 492.0,146.5 493.0,149.1 494.0,151.8 495.0,154.5 496.0,157.0 497.0,159.4 498.0,161.6 499.0,163.8 500.0,166.0 501.0,167.8 502.0,169.4 503.0,170.9 504.0,172.3 505.0,173.6 506.0,174.9 507.0,176.2 508.0,177.5 509.0,178.8 510.0,180.0 511.0,181.1 512.0,182.1 513.0,183.1 514.0,183.9 515.0,184.6 516.0,185.2 517.0,185.8 518.0,186.3 519.0,186.7 520.0,187.1 521.0,187.5 522.0,187.8 523.0,188.0 524.0,188.2 525.0,188.3 526.0,188.3 527.0,188.4 528.0,188.4 529.0,188.4 530.0,188.5 531.0,188.5 532.0,188.5 533.0,188.5 534.0,188.5" stroke="#ff50d0"/>
<path d="M319.0,217.3 320.0,217.3 321.0,217.4 322.0,217.5 323.0,217.5 324.0,217.6 325.0,217.6 326.0,217.5 327.0,217.4 328.0,217.3 329.0,217.0 330.0,216.7 331.0,216.4 332.0,215.9 333.0,215.4 334.0,214.9 335.0,214.3 336.0,213.6 337.0,212.8 338.0,212.1 339.0,211.3 340.0,210.6 341.0,210.0 342.0,209.3 343.0,208.7 344.0,208.1 345.0,207.5 346.0,207.0 347.0,206.4 348.0,205.9 349.0,205.4 350.0,205.0 351.0,204.7 352.0,204.3 353.0,204.0 354.0,203.7 355.0,203.4 356.0,203.1 357.0,202.8 358.0,202.5 359.0,202.2 360.0,201.9 361.0,201.7 362.0,201.5 363.0,201.3 364.0,201.1 365.0,200.9 366.0,200.7 367.0,200.3 368.0,200.0 369.0,199.6 370.0,199.2 371.0,198.8 372.0,198.4 373.0,198.0 374.0,197.5 375.0,197.1 376.0,196.7 377.0,196.2 378.0,195.5 379.0,194.8 380.0,193.9 381.0,193.0 382.0,192.0 383.0,190.8 384.0,189.5 385.0,188.0 386.0,186.4 387.0,184.7 388.0,182.8 389.0,180.9 390.0,178.9 391.0,176.7 392.0,174.3 393.0,171.7 394.0,169.2 395.0,166.5 396.0,163.8 397.0,161.1 398.0,158.6 399.0,156.5 400.0,154.6 401.0,152.8 402.0,151.3 403.0,150.2 404.0,149.5 405.0,149.4 406.0,149.8 407.0,150.4 408.0,151.2 409.0,152.1 410.0,153.2 411.0,154.6 412.0,156.0 413.0,157.4 414.0,158.8 415.0,160.2 416.0,161.6 417.0,162.9 418.0,164.2 419.0,165.3 420.0,166.5 421.0,167.6 422.0,168.6 423.0,169.5 424.0,170.1 425.0,170.6 426.0,171.0 427.0,171.0 428.0,170.5 429.0,169.5 430.0,168.3 431.0,166.8 432.0,165.0 433.0,162.8 434.0,160.5 435.0,158.2 436.0,155.8 437.0,153.3 438.0,150.9 439.0,148.5 440.0,146.3 441.0,144.1 442.0,142.0 443.0,140.4 444.0,139.1 445.0,138.2 446.0,137.8 447.0,137.9 448.0,138.2 449.0,138.8 450.0,139.7 451.0,140.8 452.0,142.0 453.0,143.5 454.0,145.0 455.0,146.6 456.0,148.0 457.0,149.3 458.0,150.4 459.0,151.5 460.0,152.2 461.0,152.6 462.0,152.7 463.0,152.3 464.0,151.4 465.0,150.2 466.0,148.6 467.0,146.6 468.0,144.4 469.0,141.9 470.0,139.2 471.0,136.1 472.0,132.5 473.0,129.0 474.0,125.8 475.0,122.8 476.0,120.1 477.0,118.1 478.0,116.3 479.0,114.8 480.0,113.6 481.0,112.7 482.0,112.2 483.0,112.3 484.0,112.9 485.0,114.1 486.0,115.7 487.0,117.6 488.0,119.8 489.0,122.2 490.0,124.6 491.0,127.1 492.0,129.6 493.0,132.1 494.0,134.5 495.0,137.0 496.0,140.0 497.0,143.7 498.0,148.0 499.0,152.2 500.0,156.2 501.0,159.4 502.0,161.6 503.0,163.7 504.0,165.7 505.0,167.8 506.0,169.7 507.0,171.5 508.0,173.0 509.0,174.4 510.0,175.7 511.0,176.9 512.0,178.0 513.0,179.0 514.0,180.0 515.0,180.9 516.0,181.6 517.0,182.4 518.0,183.1 519.0,183.7 520.0,184.2 521.0,184.7 522.0,185.1 523.0,185.4 524.0,185.8 525.0,186.1 526.0,186.3 527.0,186.5 528.0,186.6 529.0,186.7 530.0,186.8 531.0,186.8 532.0,186.9 533.0,186.9 534.0,187.0" stroke="#1668d8"/>
<path d="M319.0,211.2 320.0,211.3 321.0,211.4 322.0,211.5 323.0,211.6 324.0,211.6 325.0,211.6 326.0,211.5 327.0,211.3 328.0,211.1 329.0,210.8 330.0,210.4 331.0,210.1 332.0,209.7 333.0,209.3 334.0,208.9 335.0,208.4 336.0,207.9 337.0,207.4 338.0,206.9 339.0,206.4 340.0,206.0 341.0,205.6 342.0,205.2 343.0,204.8 344.0,204.4 345.0,204.0 346.0,203.6 347.0,203.3 348.0,202.9 349.0,202.6 350.0,202.3 351.0,202.1 352.0,201.9 353.0,201.6 354.0,201.4 355.0,201.2 356.0,200.9 357.0,200.7 358.0,200.5 359.0,200.3 360.0,200.1 361.0,200.0 362.0,199.9 363.0,199.9 364.0,199.9 365.0,199.8 366.0,199.8 367.0,199.8 368.0,199.8 369.0,199.8 370.0,199.7 371.0,199.6 372.0,199.6 373.0,199.5 374.0,199.5 375.0,199.4 376.0,199.3 377.0,199.2 378.0,199.0 379.0,198.8 380.0,198.6 381.0,198.4 382.0,198.2 383.0,197.9 384.0,197.6 385.0,197.3 386.0,197.0 387.0,196.7 388.0,196.5 389.0,196.2 390.0,196.0 391.0,195.7 392.0,195.5 393.0,195.3 394.0,195.0 395.0,194.8 396.0,194.5 397.0,194.2 398.0,194.0 399.0,193.7 400.0,193.5 401.0,193.2 402.0,192.9 403.0,192.7 404.0,192.4 405.0,192.1 406.0,191.8 407.0,191.5 408.0,191.1 409.0,190.6 410.0,190.1 411.0,189.5 412.0,188.8 413.0,188.0 414.0,187.2 415.0,186.3 416.0,185.3 417.0,184.2 418.0,183.3 419.0,182.0 420.0,179.9 421.0,177.4 422.0,174.8 423.0,172.3 424.0,169.7 425.0,167.1 426.0,164.2 427.0,160.6 428.0,156.5 429.0,152.0 430.0,148.6 431.0,145.5 432.0,142.4 433.0,139.0 434.0,135.5 435.0,132.0 436.0,128.1 437.0,123.9 438.0,120.1 439.0,116.6 440.0,113.5 441.0,111.1 442.0,109.2 443.0,108.0 444.0,107.4 445.0,107.5 446.0,108.2 447.0,109.3 448.0,110.9 449.0,112.9 450.0,115.2 451.0,117.6 452.0,120.2 453.0,123.1 454.0,126.3 455.0,129.3 456.0,131.7 457.0,133.8 458.0,135.5 459.0,137.1 460.0,138.5 461.0,139.7 462.0,140.5 463.0,140.7 464.0,140.3 465.0,139.2 466.0,137.6 467.0,135.7 468.0,133.5 469.0,131.0 470.0,128.4 471.0,125.9 472.0,123.6 473.0,121.4 474.0,119.3 475.0,117.4 476.0,115.6 477.0,114.2 478.0,113.0 479.0,112.1 480.0,111.6 481.0,111.3 482.0,111.1 483.0,111.1 484.0,111.9 485.0,113.5 486.0,115.5 487.0,117.9 488.0,120.4 489.0,122.9 490.0,125.5 491.0,128.2 492.0,130.8 493.0,133.3 494.0,135.9 495.0,139.2 496.0,143.1 497.0,147.6 498.0,152.0 499.0,156.2 500.0,159.4 501.0,161.7 502.0,163.9 503.0,166.1 504.0,168.3 505.0,170.2 506.0,171.7 507.0,173.0 508.0,174.2 509.0,175.3 510.0,176.5 511.0,177.6 512.0,178.7 513.0,179.7 514.0,180.6 515.0,181.5 516.0,182.3 517.0,183.0 518.0,183.6 519.0,184.1 520.0,184.6 521.0,185.0 522.0,185.4 523.0,185.7 524.0,186.0 525.0,186.3 526.0,186.5 527.0,186.6 528.0,186.7 529.0,186.8 530.0,186.8 531.0,186.9 532.0,187.0 533.0,187.0 534.0,187.1" stroke="#e80c30"/>
<path d="M319.0,209.3 320.0,209.3 321.0,209.4 322.0,209.5 323.0,209.5 324.0,209.6 325.0,209.5 326.0,209.4 327.0,209.3 328.0,209.1 329.0,208.8 330.0,208.5 331.0,208.1 332.0,207.7 333.0,207.3 334.0,206.9 335.0,206.4 336.0,206.0 337.0,205.6 338.0,205.1 339.0,204.7 340.0,204.2 341.0,203.8 342.0,203.4 343.0,203.1 344.0,202.7 345.0,202.4 346.0,202.1 347.0,201.8 348.0,201.5 349.0,201.2 350.0,201.0 351.0,200.8 352.0,200.6 353.0,200.5 354.0,200.3 355.0,200.2 356.0,200.0 357.0,199.8 358.0,199.7 359.0,199.6 360.0,199.4 361.0,199.3 362.0,199.3 363.0,199.2 364.0,199.2 365.0,199.2 366.0,199.2 367.0,199.2 368.0,199.2 369.0,199.2 370.0,199.1 371.0,199.0 372.0,198.9 373.0,198.8 374.0,198.7 375.0,198.5 376.0,198.4 377.0,198.2 378.0,198.0 379.0,197.8 380.0,197.6 381.0,197.3 382.0,197.1 383.0,196.8 384.0,196.6 385.0,196.3 386.0,196.1 387.0,195.8 388.0,195.6 389.0,195.3 390.0,195.1 391.0,194.8 392.0,194.6 393.0,194.3 394.0,194.1 395.0,193.8 396.0,193.6 397.0,193.3 398.0,193.1 399.0,192.8 400.0,192.6 401.0,192.3 402.0,192.1 403.0,191.8 404.0,191.6 405.0,191.3 406.0,191.1 407.0,190.8 408.0,190.4 409.0,190.0 410.0,189.6 411.0,189.0 412.0,188.4 413.0,187.7 414.0,186.9 415.0,186.1 416.0,185.2 417.0,184.2 418.0,183.1 419.0,181.8 420.0,180.1 421.0,177.8 422.0,175.2 423.0,172.6 424.0,169.8 425.0,167.0 426.0,164.1 427.0,160.8 428.0,157.1 429.0,152.6 430.0,148.1 431.0,144.2 432.0,140.4 433.0,136.6 434.0,132.5 435.0,128.4 436.0,124.1 437.0,119.4 438.0,114.6 439.0,110.0 440.0,105.6 441.0,101.7 442.0,98.6 443.0,96.1 444.0,94.4 445.0,93.6 446.0,93.7 447.0,94.5 448.0,95.6 449.0,97.5 450.0,100.0 451.0,102.9 452.0,106.1 453.0,109.5 454.0,113.0 455.0,116.5 456.0,119.9 457.0,123.2 458.0,126.3 459.0,129.2 460.0,131.7 461.0,133.9 462.0,136.0 463.0,138.0 464.0,140.0 465.0,141.7 466.0,143.0 467.0,143.9 468.0,144.3 469.0,144.4 470.0,144.3 471.0,143.8 472.0,143.2 473.0,142.5 474.0,141.8 475.0,141.2 476.0,140.8 477.0,140.4 478.0,140.0 479.0,139.6 480.0,139.2 481.0,139.1 482.0,139.1 483.0,139.3 484.0,139.6 485.0,140.0 486.0,140.4 487.0,140.9 488.0,141.5 489.0,142.4 490.0,143.8 491.0,145.7 492.0,147.9 493.0,150.2 494.0,152.7 495.0,155.3 496.0,157.7 497.0,159.9 498.0,162.1 499.0,164.3 500.0,166.4 501.0,168.2 502.0,169.8 503.0,171.2 504.0,172.6 505.0,173.9 506.0,175.2 507.0,176.6 508.0,177.9 509.0,179.1 510.0,180.3 511.0,181.4 512.0,182.5 513.0,183.4 514.0,184.2 515.0,184.9 516.0,185.6 517.0,186.1 518.0,186.6 519.0,187.0 520.0,187.4 521.0,187.8 522.0,188.1 523.0,188.4 524.0,188.5 525.0,188.6 526.0,188.6 527.0,188.7 528.0,188.7 529.0,188.8 530.0,188.8 531.0,188.8 532.0,188.8 533.0,188.9 534.0,188.9" stroke="#f040b0"/>
<path d="M319.0,220.5 320.0,220.6 321.0,220.8 322.0,220.9 323.0,221.0 324.0,221.1 325.0,221.0 326.0,220.7 327.0,220.4 328.0,220.0 329.0,219.5 330.0,218.9 331.0,218.3 332.0,217.6 333.0,216.9 334.0,216.1 335.0,215.2 336.0,214.3 337.0,213.4 338.0,212.4 339.0,211.5 340.0,210.6 341.0,209.7 342.0,208.8 343.0,208.0 344.0,207.2 345.0,206.5 346.0,205.8 347.0,205.2 348.0,204.6 349.0,204.0 350.0,203.5 351.0,202.9 352.0,202.4 353.0,201.8 354.0,201.3 355.0,200.9 356.0,200.4 357.0,200.0 358.0,199.6 359.0,199.2 360.0,198.8 361.0,198.4 362.0,198.0 363.0,197.6 364.0,197.2 365.0,196.7 366.0,196.3 367.0,195.8 368.0,195.3 369.0,194.8 370.0,194.3 371.0,193.6 372.0,192.8 373.0,192.0 374.0,191.2 375.0,190.2 376.0,189.2 377.0,188.1 378.0,187.0 379.0,185.6 380.0,184.0 381.0,182.1 382.0,179.9 383.0,177.3 384.0,174.0 385.0,170.4 386.0,166.9 387.0,163.3 388.0,159.8 389.0,156.2 390.0,152.6 391.0,148.7 392.0,144.7 393.0,140.8 394.0,136.9 395.0,133.0 396.0,128.6 397.0,123.7 398.0,119.5 399.0,116.0 400.0,112.9 401.0,110.3 402.0,108.3 403.0,106.8 404.0,105.8 405.0,105.3 406.0,105.3 407.0,105.9 408.0,106.9 409.0,108.4 410.0,110.4 411.0,113.2 412.0,116.6 413.0,120.7 414.0,125.8 415.0,130.7 416.0,134.0 417.0,137.1 418.0,140.1 419.0,143.0 420.0,145.9 421.0,148.7 422.0,151.6 423.0,154.7 424.0,157.9 425.0,161.1 426.0,164.1 427.0,166.9 428.0,169.4 429.0,171.6 430.0,173.6 431.0,175.4 432.0,176.9 433.0,178.2 434.0,179.4 435.0,180.4 436.0,181.4 437.0,182.3 438.0,183.1 439.0,183.8 440.0,184.4 441.0,184.9 442.0,185.3 443.0,185.6 444.0,185.8 445.0,185.9 446.0,186.0 447.0,186.0 448.0,185.9 449.0,185.6 450.0,185.3 451.0,184.9 452.0,184.3 453.0,183.6 454.0,182.7 455.0,181.5 456.0,180.2 457.0,178.5 458.0,176.8 459.0,174.9 460.0,172.9 461.0,170.8 462.0,168.7 463.0,166.6 464.0,164.3 465.0,161.9 466.0,159.3 467.0,156.6 468.0,153.7 469.0,150.3 470.0,146.7 471.0,143.1 472.0,139.4 473.0,135.7 474.0,131.8 475.0,127.6 476.0,124.0 477.0,121.0 478.0,118.3 479.0,116.0 480.0,114.4 481.0,113.6 482.0,113.4 483.0,113.4 484.0,113.7 485.0,114.7 486.0,116.3 487.0,118.4 488.0,120.7 489.0,123.1 490.0,125.5 491.0,128.0 492.0,130.6 493.0,133.1 494.0,135.4 495.0,138.1 496.0,141.3 497.0,145.3 498.0,149.6 499.0,153.8 500.0,157.7 501.0,160.5 502.0,162.7 503.0,164.8 504.0,167.0 505.0,169.0 506.0,170.7 507.0,172.1 508.0,173.2 509.0,174.3 510.0,175.4 511.0,176.5 512.0,177.5 513.0,178.6 514.0,179.6 515.0,180.5 516.0,181.3 517.0,182.1 518.0,182.8 519.0,183.4 520.0,183.9 521.0,184.3 522.0,184.7 523.0,185.1 524.0,185.4 525.0,185.7 526.0,185.9 527.0,186.1 528.0,186.2 529.0,186.3 530.0,186.4 531.0,186.4 532.0,186.5 533.0,186.6 534.0,186.6" stroke="#22e044"/>
<path d="M319.0,219.5 320.0,219.6 321.0,219.9 322.0,220.2 323.0,220.5 324.0,220.8 325.0,221.1 326.0,221.3 327.0,221.4 328.0,221.4 329.0,221.4 330.0,221.3 331.0,221.1 332.0,220.9 333.0,220.5 334.0,220.1 335.0,219.5 336.0,218.8 337.0,218.1 338.0,217.2 339.0,216.4 340.0,215.5 341.0,214.7 342.0,213.8 343.0,212.9 344.0,212.0 345.0,211.0 346.0,210.1 347.0,209.2 348.0,208.4 349.0,207.5 350.0,206.8 351.0,206.1 352.0,205.5 353.0,204.9 354.0,204.3 355.0,203.8 356.0,203.4 357.0,203.0 358.0,202.6 359.0,202.3 360.0,202.0 361.0,201.8 362.0,201.6 363.0,201.5 364.0,201.5 365.0,201.4 366.0,201.3 367.0,201.1 368.0,200.8 369.0,200.6 370.0,200.3 371.0,200.0 372.0,199.6 373.0,199.2 374.0,198.8 375.0,198.4 376.0,197.9 377.0,197.3 378.0,196.6 379.0,195.6 380.0,194.6 381.0,193.6 382.0,192.3 383.0,190.9 384.0,189.3 385.0,187.6 386.0,185.7 387.0,183.7 388.0,181.6 389.0,179.3 390.0,177.0 391.0,174.5 392.0,171.7 393.0,168.9 394.0,166.0 395.0,163.0 396.0,159.9 397.0,156.9 398.0,154.2 399.0,151.9 400.0,149.8 401.0,147.9 402.0,146.3 403.0,145.2 404.0,144.5 405.0,144.6 406.0,145.1 407.0,145.9 408.0,146.9 409.0,148.0 410.0,149.4 411.0,151.1 412.0,152.7 413.0,154.4 414.0,156.1 415.0,157.7 416.0,159.4 417.0,160.9 418.0,162.4 419.0,163.8 420.0,165.1 421.0,166.4 422.0,167.6 423.0,168.7 424.0,169.5 425.0,170.1 426.0,170.6 427.0,170.6 428.0,170.2 429.0,169.3 430.0,168.1 431.0,166.7 432.0,164.9 433.0,162.9 434.0,160.7 435.0,158.5 436.0,156.2 437.0,153.9 438.0,151.6 439.0,149.3 440.0,147.2 441.0,145.1 442.0,143.2 443.0,141.7 444.0,140.5 445.0,139.7 446.0,139.4 447.0,139.4 448.0,139.7 449.0,140.3 450.0,141.2 451.0,142.1 452.0,143.2 453.0,144.5 454.0,145.9 455.0,147.2 456.0,148.4 457.0,149.3 458.0,150.2 459.0,150.9 460.0,151.2 461.0,151.2 462.0,150.8 463.0,149.9 464.0,148.5 465.0,146.6 466.0,144.2 467.0,141.5 468.0,138.5 469.0,135.2 470.0,131.5 471.0,127.5 472.0,122.8 473.0,118.3 474.0,114.2 475.0,110.3 476.0,106.9 477.0,104.2 478.0,101.9 479.0,100.0 480.0,98.4 481.0,97.2 482.0,96.6 483.0,96.6 484.0,97.4 485.0,98.9 486.0,100.8 487.0,103.1 488.0,105.8 489.0,108.7 490.0,111.6 491.0,114.6 492.0,117.7 493.0,120.7 494.0,123.6 495.0,126.6 496.0,130.3 497.0,134.9 498.0,140.1 499.0,145.2 500.0,150.1 501.0,153.8 502.0,156.4 503.0,158.9 504.0,161.4 505.0,163.9 506.0,166.3 507.0,168.4 508.0,170.3 509.0,172.0 510.0,173.6 511.0,175.1 512.0,176.5 513.0,177.9 514.0,179.1 515.0,180.2 516.0,181.2 517.0,182.2 518.0,183.1 519.0,183.9 520.0,184.6 521.0,185.3 522.0,185.8 523.0,186.2 524.0,186.7 525.0,187.0 526.0,187.3 527.0,187.5 528.0,187.7 529.0,187.7 530.0,187.8 531.0,187.8 532.0,187.8 533.0,187.8 534.0,187.8" stroke="#304890"/>
<path d="M319.0,207.8 320.0,207.5 321.0,207.3 322.0,207.2 323.0,207.0 324.0,206.8 325.0,206.5 326.0,206.2 327.0,205.9 328.0,205.6 329.0,205.2 330.0,204.8 331.0,204.4 332.0,204.1 333.0,203.8 334.0,203.5 335.0,203.3 336.0,203.0 337.0,202.8 338.0,202.7 339.0,202.5 340.0,202.4 341.0,202.4 342.0,202.4 343.0,202.3 344.0,202.3 345.0,202.3 346.0,202.3 347.0,202.2 348.0,202.2 349.0,202.1 350.0,202.1 351.0,202.1 352.0,202.0 353.0,201.8 354.0,201.7 355.0,201.5 356.0,201.2 357.0,200.9 358.0,200.6 359.0,200.3 360.0,200.0 361.0,199.7 362.0,199.4 363.0,199.2 364.0,198.9 365.0,198.7 366.0,198.5 367.0,198.4 368.0,198.2 369.0,198.0 370.0,197.8 371.0,197.7 372.0,197.5 373.0,197.4 374.0,197.3 375.0,197.2 376.0,197.1 377.0,197.0 378.0,196.8 379.0,196.7 380.0,196.5 381.0,196.4 382.0,196.2 383.0,196.0 384.0,195.8 385.0,195.6 386.0,195.4 387.0,195.2 388.0,195.0 389.0,194.8 390.0,194.6 391.0,194.3 392.0,194.1 393.0,193.8 394.0,193.6 395.0,193.3 396.0,193.0 397.0,192.8 398.0,192.5 399.0,192.2 400.0,192.0 401.0,191.7 402.0,191.5 403.0,191.2 404.0,191.0 405.0,190.7 406.0,190.5 407.0,190.2 408.0,189.9 409.0,189.5 410.0,189.1 411.0,188.6 412.0,187.9 413.0,187.3 414.0,186.5 415.0,185.8 416.0,184.9 417.0,183.9 418.0,182.8 419.0,181.5 420.0,179.5 421.0,177.2 422.0,174.6 423.0,171.9 424.0,169.1 425.0,166.2 426.0,163.2 427.0,159.7 428.0,155.6 429.0,150.8 430.0,146.5 431.0,142.6 432.0,138.7 433.0,134.6 434.0,130.4 435.0,126.1 436.0,121.5 437.0,116.5 438.0,111.7 439.0,107.1 440.0,102.7 441.0,99.0 442.0,96.0 443.0,93.8 444.0,92.4 445.0,92.0 446.0,92.5 447.0,93.4 448.0,94.9 449.0,97.3 450.0,100.1 451.0,103.3 452.0,106.9 453.0,110.6 454.0,114.4 455.0,118.1 456.0,121.8 457.0,125.3 458.0,128.7 459.0,131.5 460.0,133.8 461.0,135.9 462.0,137.6 463.0,138.6 464.0,139.1 465.0,138.9 466.0,138.1 467.0,136.7 468.0,135.0 469.0,132.9 470.0,130.2 471.0,127.3 472.0,124.7 473.0,122.1 474.0,119.7 475.0,117.4 476.0,115.5 477.0,114.0 478.0,112.9 479.0,111.9 480.0,111.1 481.0,110.7 482.0,110.9 483.0,111.7 484.0,113.2 485.0,114.8 486.0,116.7 487.0,118.9 488.0,121.3 489.0,123.8 490.0,126.4 491.0,129.0 492.0,131.5 493.0,134.0 494.0,136.5 495.0,139.6 496.0,143.3 497.0,147.6 498.0,151.9 499.0,156.0 500.0,159.2 501.0,161.4 502.0,163.4 503.0,165.5 504.0,167.5 505.0,169.4 506.0,171.1 507.0,172.6 508.0,173.9 509.0,175.1 510.0,176.2 511.0,177.2 512.0,178.2 513.0,179.1 514.0,179.9 515.0,180.6 516.0,181.3 517.0,182.0 518.0,182.6 519.0,183.1 520.0,183.6 521.0,184.0 522.0,184.4 523.0,184.8 524.0,185.2 525.0,185.5 526.0,185.8 527.0,186.0 528.0,186.1 529.0,186.3 530.0,186.5 531.0,186.6 532.0,186.8 533.0,187.0 534.0,187.1" stroke="#f020b8"/>
<path d="M319.0,215.1 320.0,214.9 321.0,214.7 322.0,214.6 323.0,214.5 324.0,214.3 325.0,214.1 326.0,213.8 327.0,213.5 328.0,213.1 329.0,212.7 330.0,212.3 331.0,211.8 332.0,211.3 333.0,210.8 334.0,210.2 335.0,209.7 336.0,209.0 337.0,208.4 338.0,207.8 339.0,207.2 340.0,206.7 341.0,206.2 342.0,205.8 343.0,205.4 344.0,205.0 345.0,204.7 346.0,204.3 347.0,204.0 348.0,203.6 349.0,203.3 350.0,203.0 351.0,202.8 352.0,202.5 353.0,202.3 354.0,202.0 355.0,201.7 356.0,201.4 357.0,201.0 358.0,200.7 359.0,200.4 360.0,200.0 361.0,199.7 362.0,199.4 363.0,199.2 364.0,199.0 365.0,198.7 366.0,198.5 367.0,198.2 368.0,197.9 369.0,197.6 370.0,197.3 371.0,197.0 372.0,196.7 373.0,196.4 374.0,196.1 375.0,195.8 376.0,195.5 377.0,195.2 378.0,194.7 379.0,194.1 380.0,193.4 381.0,192.6 382.0,191.6 383.0,190.5 384.0,189.2 385.0,187.8 386.0,186.2 387.0,184.4 388.0,182.5 389.0,180.4 390.0,178.3 391.0,176.0 392.0,173.4 393.0,170.7 394.0,167.9 395.0,165.1 396.0,162.1 397.0,159.2 398.0,156.3 399.0,153.9 400.0,151.8 401.0,149.7 402.0,148.0 403.0,146.6 404.0,145.7 405.0,145.4 406.0,145.7 407.0,146.2 408.0,147.0 409.0,147.9 410.0,149.0 411.0,150.5 412.0,152.0 413.0,153.6 414.0,155.1 415.0,156.6 416.0,158.2 417.0,159.7 418.0,161.1 419.0,162.4 420.0,163.7 421.0,164.9 422.0,166.1 423.0,167.1 424.0,167.9 425.0,168.5 426.0,168.9 427.0,169.1 428.0,168.7 429.0,167.8 430.0,166.5 431.0,165.0 432.0,163.2 433.0,160.9 434.0,158.5 435.0,156.0 436.0,153.4 437.0,150.8 438.0,148.1 439.0,145.5 440.0,143.1 441.0,140.7 442.0,138.4 443.0,136.5 444.0,135.1 445.0,134.0 446.0,133.5 447.0,133.4 448.0,133.7 449.0,134.2 450.0,135.2 451.0,136.3 452.0,137.6 453.0,139.1 454.0,140.7 455.0,142.4 456.0,144.0 457.0,145.4 458.0,146.7 459.0,147.8 460.0,148.6 461.0,149.2 462.0,149.3 463.0,148.9 464.0,148.1 465.0,146.8 466.0,145.0 467.0,142.8 468.0,140.3 469.0,137.5 470.0,134.4 471.0,130.9 472.0,126.9 473.0,122.8 474.0,119.0 475.0,115.4 476.0,112.1 477.0,109.5 478.0,107.3 479.0,105.5 480.0,104.0 481.0,102.8 482.0,102.0 483.0,101.9 484.0,102.4 485.0,103.5 486.0,105.2 487.0,107.2 488.0,109.7 489.0,112.4 490.0,115.1 491.0,117.9 492.0,120.8 493.0,123.7 494.0,126.4 495.0,129.2 496.0,132.5 497.0,136.5 498.0,141.2 499.0,146.0 500.0,150.6 501.0,154.6 502.0,157.2 503.0,159.5 504.0,161.8 505.0,164.1 506.0,166.3 507.0,168.2 508.0,170.0 509.0,171.5 510.0,172.9 511.0,174.2 512.0,175.4 513.0,176.5 514.0,177.5 515.0,178.4 516.0,179.3 517.0,180.0 518.0,180.8 519.0,181.5 520.0,182.1 521.0,182.6 522.0,183.1 523.0,183.5 524.0,183.9 525.0,184.3 526.0,184.6 527.0,184.9 528.0,185.1 529.0,185.2 530.0,185.4 531.0,185.5 532.0,185.7 533.0,185.8 534.0,185.9" stroke="#1668d8"/>
<path d="M319.0,208.8 320.0,208.9 321.0,208.9 322.0,209.0 323.0,209.1 324.0,209.1 325.0,209.1 326.0,209.0 327.0,208.9 328.0,208.6 329.0,208.4 330.0,208.0 331.0,207.7 332.0,207.3 333.0,206.9 334.0,206.5 335.0,206.0 336.0,205.6 337.0,205.2 338.0,204.7 339.0,204.3 340.0,203.9 341.0,203.5 342.0,203.1 343.0,202.7 344.0,202.4 345.0,202.1 346.0,201.7 347.0,201.4 348.0,201.1 349.0,200.9 350.0,200.7 351.0,200.5 352.0,200.3 353.0,200.2 354.0,200.0 355.0,199.9 356.0,199.8 357.0,199.6 358.0,199.5 359.0,199.3 360.0,199.2 361.0,199.1 362.0,199.1 363.0,199.0 364.0,199.0 365.0,199.0 366.0,199.1 367.0,199.1 368.0,199.0 369.0,199.0 370.0,198.9 371.0,198.8 372.0,198.7 373.0,198.6 374.0,198.5 375.0,198.4 376.0,198.2 377.0,198.1 378.0,197.9 379.0,197.7 380.0,197.5 381.0,197.2 382.0,197.0 383.0,196.7 384.0,196.5 385.0,196.2 386.0,196.0 387.0,195.7 388.0,195.5 389.0,195.2 390.0,195.0 391.0,194.7 392.0,194.5 393.0,194.2 394.0,194.0 395.0,193.7 396.0,193.5 397.0,193.2 398.0,193.0 399.0,192.7 400.0,192.5 401.0,192.2 402.0,192.0 403.0,191.7 404.0,191.5 405.0,191.2 406.0,191.0 407.0,190.7 408.0,190.3 409.0,189.9 410.0,189.5 411.0,188.9 412.0,188.3 413.0,187.6 414.0,186.8 415.0,186.0 416.0,185.1 417.0,184.0 418.0,183.0 419.0,181.7 420.0,180.0 421.0,177.7 422.0,175.1 423.0,172.5 424.0,169.7 425.0,166.9 426.0,164.0 427.0,160.7 428.0,157.0 429.0,152.5 430.0,148.0 431.0,144.1 432.0,140.3 433.0,136.5 434.0,132.4 435.0,128.3 436.0,124.0 437.0,119.2 438.0,114.5 439.0,109.9 440.0,105.5 441.0,101.6 442.0,98.5 443.0,95.9 444.0,94.3 445.0,93.5 446.0,93.6 447.0,94.3 448.0,95.5 449.0,97.4 450.0,99.9 451.0,102.8 452.0,106.0 453.0,109.4 454.0,112.8 455.0,116.3 456.0,119.6 457.0,122.9 458.0,126.0 459.0,128.8 460.0,131.2 461.0,133.3 462.0,135.2 463.0,137.1 464.0,138.8 465.0,140.2 466.0,141.2 467.0,141.8 468.0,141.8 469.0,141.5 470.0,140.9 471.0,139.9 472.0,138.7 473.0,137.5 474.0,136.3 475.0,135.2 476.0,134.3 477.0,133.4 478.0,132.6 479.0,131.9 480.0,131.3 481.0,131.0 482.0,131.0 483.0,131.2 484.0,131.8 485.0,132.7 486.0,133.6 487.0,134.8 488.0,136.2 489.0,137.8 490.0,139.9 491.0,142.5 492.0,145.3 493.0,148.2 494.0,151.2 495.0,154.1 496.0,156.8 497.0,159.3 498.0,161.6 499.0,163.9 500.0,166.1 501.0,168.0 502.0,169.6 503.0,171.1 504.0,172.5 505.0,173.8 506.0,175.1 507.0,176.5 508.0,177.8 509.0,179.0 510.0,180.2 511.0,181.3 512.0,182.4 513.0,183.3 514.0,184.1 515.0,184.8 516.0,185.4 517.0,186.0 518.0,186.5 519.0,186.9 520.0,187.3 521.0,187.7 522.0,188.0 523.0,188.3 524.0,188.4 525.0,188.5 526.0,188.5 527.0,188.6 528.0,188.6 529.0,188.7 530.0,188.7 531.0,188.7 532.0,188.7 533.0,188.7 534.0,188.8" stroke="#f040b0"/>
<path d="M319.0,207.3 320.0,207.5 321.0,207.6 322.0,207.8 323.0,208.0 324.0,208.1 325.0,208.2 326.0,208.2 327.0,208.2 328.0,208.1 329.0,207.9 330.0,207.6 331.0,207.4 332.0,207.1 333.0,206.8 334.0,206.5 335.0,206.2 336.0,205.8 337.0,205.5 338.0,205.1 339.0,204.7 340.0,204.4 341.0,204.0 342.0,203.7 343.0,203.4 344.0,203.1 345.0,202.8 346.0,202.5 347.0,202.2 348.0,202.0 349.0,201.7 350.0,201.5 351.0,201.3 352.0,201.2 353.0,201.0 354.0,200.8 355.0,200.6 356.0,200.4 357.0,200.2 358.0,200.0 359.0,199.8 360.0,199.6 361.0,199.5 362.0,199.3 363.0,199.2 364.0,199.1 365.0,199.1 366.0,199.0 367.0,198.9 368.0,198.8 369.0,198.7 370.0,198.5 371.0,198.3 372.0,198.2 373.0,198.0 374.0,197.8 375.0,197.6 376.0,197.4 377.0,197.2 378.0,197.0 379.0,196.7 380.0,196.4 381.0,196.2 382.0,195.9 383.0,195.7 384.0,195.4 385.0,195.2 386.0,194.9 387.0,194.7 388.0,194.4 389.0,194.2 390.0,194.0 391.0,193.7 392.0,193.5 393.0,193.3 394.0,193.0 395.0,192.8 396.0,192.6 397.0,192.4 398.0,192.1 399.0,191.9 400.0,191.7 401.0,191.5 402.0,191.3 403.0,191.0 404.0,190.8 405.0,190.6 406.0,190.4 407.0,190.1 408.0,189.8 409.0,189.4 410.0,188.9 411.0,188.4 412.0,187.7 413.0,187.0 414.0,186.2 415.0,185.4 416.0,184.5 417.0,183.4 418.0,182.3 419.0,180.9 420.0,178.9 421.0,176.5 422.0,173.8 423.0,171.1 424.0,168.3 425.0,165.3 426.0,162.3 427.0,158.7 428.0,154.5 429.0,149.7 430.0,145.4 431.0,141.5 432.0,137.6 433.0,133.5 434.0,129.3 435.0,125.0 436.0,120.3 437.0,115.4 438.0,110.5 439.0,105.9 440.0,101.5 441.0,97.9 442.0,94.9 443.0,92.7 444.0,91.4 445.0,91.1 446.0,91.6 447.0,92.6 448.0,94.2 449.0,96.6 450.0,99.5 451.0,102.7 452.0,106.2 453.0,109.9 454.0,113.7 455.0,117.3 456.0,120.9 457.0,124.4 458.0,127.7 459.0,130.4 460.0,132.6 461.0,134.6 462.0,136.1 463.0,137.1 464.0,137.4 465.0,137.0 466.0,136.1 467.0,134.6 468.0,132.8 469.0,130.5 470.0,127.6 471.0,124.7 472.0,121.9 473.0,119.3 474.0,116.8 475.0,114.5 476.0,112.6 477.0,111.1 478.0,110.0 479.0,109.0 480.0,108.3 481.0,107.9 482.0,108.2 483.0,109.1 484.0,110.7 485.0,112.4 486.0,114.3 487.0,116.7 488.0,119.1 489.0,121.7 490.0,124.3 491.0,127.0 492.0,129.6 493.0,132.1 494.0,134.8 495.0,138.0 496.0,142.0 497.0,146.4 498.0,150.8 499.0,155.0 500.0,158.2 501.0,160.6 502.0,162.7 503.0,164.9 504.0,167.1 505.0,169.1 506.0,170.9 507.0,172.6 508.0,174.0 509.0,175.3 510.0,176.6 511.0,177.8 512.0,178.9 513.0,179.9 514.0,180.8 515.0,181.6 516.0,182.3 517.0,183.1 518.0,183.7 519.0,184.3 520.0,184.8 521.0,185.2 522.0,185.6 523.0,185.9 524.0,186.2 525.0,186.5 526.0,186.6 527.0,186.8 528.0,186.8 529.0,186.9 530.0,186.9 531.0,187.0 532.0,187.0 533.0,187.1 534.0,187.1" stroke="#ff38c8"/>
<path d="M319.0,212.4 320.0,212.4 321.0,212.5 322.0,212.6 323.0,212.7 324.0,212.8 325.0,212.8 326.0,212.8 327.0,212.7 328.0,212.5 329.0,212.3 330.0,212.1 331.0,211.8 332.0,211.4 333.0,211.0 334.0,210.6 335.0,210.2 336.0,209.7 337.0,209.1 338.0,208.6 339.0,208.0 340.0,207.5 341.0,207.0 342.0,206.5 343.0,206.0 344.0,205.5 345.0,205.1 346.0,204.6 347.0,204.1 348.0,203.7 349.0,203.3 350.0,202.9 351.0,202.6 352.0,202.3 353.0,202.1 354.0,201.9 355.0,201.7 356.0,201.5 357.0,201.4 358.0,201.2 359.0,201.1 360.0,201.1 361.0,201.0 362.0,201.0 363.0,201.1 364.0,201.2 365.0,201.2 366.0,201.3 367.0,201.4 368.0,201.4 369.0,201.4 370.0,201.4 371.0,201.3 372.0,201.2 373.0,201.1 374.0,201.0 375.0,200.9 376.0,200.7 377.0,200.5 378.0,200.2 379.0,200.0 380.0,199.7 381.0,199.3 382.0,199.0 383.0,198.6 384.0,198.2 385.0,197.8 386.0,197.5 387.0,197.1 388.0,196.8 389.0,196.4 390.0,196.2 391.0,195.9 392.0,195.6 393.0,195.4 394.0,195.1 395.0,194.9 396.0,194.6 397.0,194.4 398.0,194.2 399.0,193.9 400.0,193.7 401.0,193.5 402.0,193.3 403.0,193.0 404.0,192.8 405.0,192.6 406.0,192.4 407.0,192.1 408.0,191.7 409.0,191.3 410.0,190.9 411.0,190.4 412.0,189.7 413.0,189.0 414.0,188.2 415.0,187.4 416.0,186.4 417.0,185.4 418.0,184.4 419.0,183.3 420.0,181.7 421.0,179.4 422.0,176.8 423.0,174.3 424.0,171.8 425.0,169.3 426.0,166.7 427.0,163.6 428.0,160.0 429.0,155.6 430.0,151.8 431.0,148.7 432.0,145.8 433.0,142.7 434.0,139.5 435.0,136.2 436.0,132.7 437.0,128.8 438.0,125.0 439.0,121.5 440.0,118.3 441.0,115.7 442.0,113.7 443.0,112.2 444.0,111.4 445.0,111.2 446.0,111.6 447.0,112.5 448.0,113.8 449.0,115.6 450.0,117.7 451.0,120.0 452.0,122.4 453.0,125.1 454.0,128.1 455.0,131.1 456.0,133.8 457.0,136.0 458.0,137.8 459.0,139.4 460.0,141.0 461.0,142.3 462.0,143.4 463.0,144.0 464.0,144.0 465.0,143.4 466.0,142.2 467.0,140.8 468.0,139.1 469.0,137.0 470.0,134.8 471.0,132.5 472.0,130.5 473.0,128.6 474.0,126.7 475.0,125.0 476.0,123.4 477.0,122.1 478.0,121.0 479.0,120.2 480.0,119.6 481.0,119.3 482.0,119.2 483.0,119.1 484.0,119.5 485.0,120.6 486.0,122.3 487.0,124.4 488.0,126.6 489.0,128.8 490.0,131.2 491.0,133.5 492.0,135.9 493.0,138.2 494.0,140.4 495.0,143.0 496.0,146.2 497.0,150.0 498.0,154.1 499.0,157.9 500.0,161.4 501.0,163.7 502.0,165.6 503.0,167.6 504.0,169.6 505.0,171.4 506.0,173.0 507.0,174.2 508.0,175.3 509.0,176.3 510.0,177.4 511.0,178.4 512.0,179.4 513.0,180.4 514.0,181.3 515.0,182.1 516.0,182.9 517.0,183.6 518.0,184.2 519.0,184.7 520.0,185.2 521.0,185.6 522.0,185.9 523.0,186.3 524.0,186.6 525.0,186.8 526.0,187.0 527.0,187.2 528.0,187.2 529.0,187.3 530.0,187.3 531.0,187.4 532.0,187.4 533.0,187.4 534.0,187.5" stroke="#f42848"/>
<path d="M319.0,223.0 320.0,223.0 321.0,223.0 322.0,223.0 323.0,223.1 324.0,223.1 325.0,223.0 326.0,222.8 327.0,222.5 328.0,222.0 329.0,221.5 330.0,220.8 331.0,220.1 332.0,219.4 333.0,218.6 334.0,217.8 335.0,217.0 336.0,216.0 337.0,215.0 338.0,214.0 339.0,213.0 340.0,212.0 341.0,211.1 342.0,210.2 343.0,209.3 344.0,208.5 345.0,207.7 346.0,207.0 347.0,206.3 348.0,205.7 349.0,205.1 350.0,204.6 351.0,204.0 352.0,203.5 353.0,203.0 354.0,202.5 355.0,202.0 356.0,201.6 357.0,201.2 358.0,200.8 359.0,200.5 360.0,200.1 361.0,199.7 362.0,199.3 363.0,198.9 364.0,198.5 365.0,198.1 366.0,197.7 367.0,197.2 368.0,196.7 369.0,196.2 370.0,195.6 371.0,195.0 372.0,194.2 373.0,193.4 374.0,192.5 375.0,191.6 376.0,190.6 377.0,189.5 378.0,188.3 379.0,187.0 380.0,185.5 381.0,183.7 382.0,181.7 383.0,179.4 384.0,176.5 385.0,173.0 386.0,169.3 387.0,165.6 388.0,161.8 389.0,158.2 390.0,154.5 391.0,150.6 392.0,146.5 393.0,142.4 394.0,138.3 395.0,134.3 396.0,130.2 397.0,125.6 398.0,120.5 399.0,116.3 400.0,112.7 401.0,109.6 402.0,107.0 403.0,105.0 404.0,103.5 405.0,102.6 406.0,102.2 407.0,102.4 408.0,103.0 409.0,104.2 410.0,105.9 411.0,108.1 412.0,111.1 413.0,114.9 414.0,119.2 415.0,124.8 416.0,129.6 417.0,133.1 418.0,136.4 419.0,139.5 420.0,142.6 421.0,145.6 422.0,148.6 423.0,151.7 424.0,155.0 425.0,158.4 426.0,161.7 427.0,164.8 428.0,167.7 429.0,170.2 430.0,172.5 431.0,174.5 432.0,176.3 433.0,177.8 434.0,179.1 435.0,180.2 436.0,181.3 437.0,182.2 438.0,183.1 439.0,183.9 440.0,184.6 441.0,185.1 442.0,185.5 443.0,185.9 444.0,186.1 445.0,186.3 446.0,186.4 447.0,186.4 448.0,186.3 449.0,186.2 450.0,185.9 451.0,185.5 452.0,185.0 453.0,184.4 454.0,183.6 455.0,182.6 456.0,181.3 457.0,179.9 458.0,178.1 459.0,176.2 460.0,174.2 461.0,172.1 462.0,169.9 463.0,167.6 464.0,165.2 465.0,162.7 466.0,160.0 467.0,157.1 468.0,154.1 469.0,150.8 470.0,147.0 471.0,143.0 472.0,138.9 473.0,134.8 474.0,130.7 475.0,126.2 476.0,121.5 477.0,117.6 478.0,114.2 479.0,111.3 480.0,108.8 481.0,107.1 482.0,106.3 483.0,106.1 484.0,106.1 485.0,106.5 486.0,107.7 487.0,109.6 488.0,112.0 489.0,114.6 490.0,117.2 491.0,119.9 492.0,122.8 493.0,125.6 494.0,128.3 495.0,131.0 496.0,134.0 497.0,137.7 498.0,142.2 499.0,147.0 500.0,151.6 501.0,155.8 502.0,158.7 503.0,161.1 504.0,163.4 505.0,165.8 506.0,168.0 507.0,169.8 508.0,171.2 509.0,172.5 510.0,173.6 511.0,174.8 512.0,175.9 513.0,177.1 514.0,178.2 515.0,179.2 516.0,180.2 517.0,181.1 518.0,181.9 519.0,182.6 520.0,183.2 521.0,183.7 522.0,184.2 523.0,184.6 524.0,185.0 525.0,185.3 526.0,185.6 527.0,185.8 528.0,186.0 529.0,186.2 530.0,186.2 531.0,186.3 532.0,186.4 533.0,186.5 534.0,186.6" stroke="#18d838"/>
<path d="M319.0,208.9 320.0,209.0 321.0,209.1 322.0,209.2 323.0,209.4 324.0,209.5 325.0,209.5 326.0,209.5 327.0,209.4 328.0,209.2 329.0,209.0 330.0,208.6 331.0,208.2 332.0,207.8 333.0,207.4 334.0,206.9 335.0,206.4 336.0,205.9 337.0,205.4 338.0,204.9 339.0,204.3 340.0,203.8 341.0,203.3 342.0,202.9 343.0,202.5 344.0,202.1 345.0,201.8 346.0,201.4 347.0,201.1 348.0,200.8 349.0,200.6 350.0,200.4 351.0,200.3 352.0,200.3 353.0,200.2 354.0,200.2 355.0,200.1 356.0,200.1 357.0,200.1 358.0,200.1 359.0,200.1 360.0,200.0 361.0,200.0 362.0,200.0 363.0,200.1 364.0,200.1 365.0,200.1 366.0,200.2 367.0,200.2 368.0,200.2 369.0,200.1 370.0,200.0 371.0,199.9 372.0,199.7 373.0,199.5 374.0,199.3 375.0,199.1 376.0,198.9 377.0,198.7 378.0,198.4 379.0,198.1 380.0,197.8 381.0,197.5 382.0,197.2 383.0,196.9 384.0,196.6 385.0,196.3 386.0,196.1 387.0,195.8 388.0,195.5 389.0,195.3 390.0,195.0 391.0,194.8 392.0,194.6 393.0,194.3 394.0,194.1 395.0,193.8 396.0,193.6 397.0,193.4 398.0,193.1 399.0,192.9 400.0,192.7 401.0,192.4 402.0,192.2 403.0,191.9 404.0,191.7 405.0,191.4 406.0,191.1 407.0,190.9 408.0,190.5 409.0,190.1 410.0,189.7 411.0,189.2 412.0,188.6 413.0,187.9 414.0,187.1 415.0,186.2 416.0,185.4 417.0,184.4 418.0,183.3 419.0,182.2 420.0,180.7 421.0,178.6 422.0,176.2 423.0,173.5 424.0,170.8 425.0,168.0 426.0,165.1 427.0,162.1 428.0,158.5 429.0,154.4 430.0,149.7 431.0,145.6 432.0,141.7 433.0,137.9 434.0,133.9 435.0,129.8 436.0,125.6 437.0,121.0 438.0,116.2 439.0,111.5 440.0,106.9 441.0,102.7 442.0,99.2 443.0,96.3 444.0,94.2 445.0,92.9 446.0,92.7 447.0,93.1 448.0,94.1 449.0,95.6 450.0,98.0 451.0,100.7 452.0,103.8 453.0,107.2 454.0,110.8 455.0,114.3 456.0,117.8 457.0,121.2 458.0,124.5 459.0,127.6 460.0,130.0 461.0,132.1 462.0,133.8 463.0,135.1 464.0,135.8 465.0,135.8 466.0,135.2 467.0,133.8 468.0,132.0 469.0,129.8 470.0,127.0 471.0,123.7 472.0,120.3 473.0,117.1 474.0,114.1 475.0,111.2 476.0,108.5 477.0,106.2 478.0,104.5 479.0,103.1 480.0,101.9 481.0,101.0 482.0,100.6 483.0,100.8 484.0,101.8 485.0,103.4 486.0,105.3 487.0,107.4 488.0,109.9 489.0,112.6 490.0,115.4 491.0,118.2 492.0,121.1 493.0,123.9 494.0,126.7 495.0,129.6 496.0,133.2 497.0,137.5 498.0,142.5 499.0,147.3 500.0,151.9 501.0,155.3 502.0,157.8 503.0,160.2 504.0,162.6 505.0,165.0 506.0,167.2 507.0,169.2 508.0,171.0 509.0,172.6 510.0,174.0 511.0,175.4 512.0,176.7 513.0,177.9 514.0,179.0 515.0,180.0 516.0,180.8 517.0,181.7 518.0,182.5 519.0,183.2 520.0,183.8 521.0,184.3 522.0,184.7 523.0,185.1 524.0,185.5 525.0,185.8 526.0,186.1 527.0,186.3 528.0,186.4 529.0,186.4 530.0,186.5 531.0,186.6 532.0,186.6 533.0,186.7 534.0,186.8" stroke="#f428a0"/>
<path d="M319.0,221.9 320.0,221.9 321.0,221.9 322.0,222.0 323.0,222.2 324.0,222.3 325.0,222.4 326.0,222.4 327.0,222.2 328.0,222.0 329.0,221.7 330.0,221.2 331.0,220.8 332.0,220.2 333.0,219.6 334.0,219.0 335.0,218.4 336.0,217.7 337.0,216.9 338.0,216.0 339.0,215.2 340.0,214.3 341.0,213.5 342.0,212.7 343.0,211.9 344.0,211.2 345.0,210.4 346.0,209.7 347.0,209.1 348.0,208.5 349.0,207.9 350.0,207.4 351.0,206.8 352.0,206.3 353.0,205.7 354.0,205.1 355.0,204.6 356.0,204.0 357.0,203.5 358.0,203.0 359.0,202.5 360.0,202.0 361.0,201.5 362.0,201.0 363.0,200.5 364.0,199.9 365.0,199.4 366.0,198.8 367.0,198.2 368.0,197.6 369.0,197.0 370.0,196.3 371.0,195.6 372.0,194.9 373.0,194.0 374.0,193.0 375.0,192.0 376.0,191.0 377.0,189.9 378.0,188.7 379.0,187.4 380.0,186.1 381.0,184.4 382.0,182.5 383.0,180.4 384.0,177.9 385.0,174.7 386.0,171.0 387.0,167.2 388.0,163.5 389.0,159.7 390.0,156.0 391.0,152.2 392.0,148.2 393.0,144.1 394.0,140.0 395.0,135.9 396.0,131.8 397.0,127.6 398.0,122.7 399.0,117.8 400.0,113.8 401.0,110.3 402.0,107.3 403.0,105.0 404.0,103.1 405.0,101.9 406.0,101.1 407.0,100.9 408.0,101.3 409.0,102.2 410.0,103.6 411.0,105.5 412.0,108.0 413.0,111.3 414.0,115.4 415.0,120.1 416.0,126.0 417.0,130.3 418.0,133.8 419.0,137.1 420.0,140.3 421.0,143.5 422.0,146.6 423.0,149.7 424.0,152.9 425.0,156.3 426.0,159.7 427.0,163.0 428.0,166.1 429.0,168.9 430.0,171.4 431.0,173.6 432.0,175.6 433.0,177.3 434.0,178.7 435.0,180.0 436.0,181.1 437.0,182.1 438.0,183.0 439.0,183.8 440.0,184.6 441.0,185.2 442.0,185.7 443.0,186.1 444.0,186.4 445.0,186.6 446.0,186.7 447.0,186.8 448.0,186.8 449.0,186.6 450.0,186.4 451.0,186.1 452.0,185.6 453.0,185.1 454.0,184.4 455.0,183.5 456.0,182.4 457.0,181.1 458.0,179.5 459.0,177.6 460.0,175.6 461.0,173.5 462.0,171.3 463.0,169.0 464.0,166.6 465.0,164.1 466.0,161.4 467.0,158.5 468.0,155.4 469.0,152.2 470.0,148.6 471.0,144.4 472.0,140.2 473.0,135.9 474.0,131.6 475.0,127.2 476.0,122.4 477.0,117.6 478.0,113.7 479.0,110.4 480.0,107.4 481.0,104.9 482.0,103.4 483.0,102.8 484.0,102.7 485.0,102.7 486.0,103.4 487.0,104.9 488.0,107.0 489.0,109.6 490.0,112.3 491.0,115.1 492.0,118.0 493.0,120.9 494.0,123.9 495.0,126.6 496.0,129.5 497.0,132.8 498.0,136.9 499.0,141.8 500.0,146.7 501.0,151.5 502.0,155.6 503.0,158.3 504.0,160.7 505.0,163.2 506.0,165.6 507.0,167.8 508.0,169.6 509.0,171.1 510.0,172.3 511.0,173.5 512.0,174.8 513.0,176.0 514.0,177.2 515.0,178.4 516.0,179.5 517.0,180.5 518.0,181.4 519.0,182.3 520.0,183.0 521.0,183.6 522.0,184.2 523.0,184.7 524.0,185.1 525.0,185.5 526.0,185.9 527.0,186.2 528.0,186.5 529.0,186.7 530.0,186.8 531.0,186.9 532.0,187.0 533.0,187.1 534.0,187.1" stroke="#2ade4a"/>
<path d="M319.0,214.9 320.0,215.0 321.0,215.1 322.0,215.2 323.0,215.2 324.0,215.2 325.0,215.2 326.0,215.0 327.0,214.8 328.0,214.5 329.0,214.2 330.0,213.8 331.0,213.3 332.0,212.9 333.0,212.4 334.0,211.9 335.0,211.3 336.0,210.8 337.0,210.2 338.0,209.6 339.0,209.0 340.0,208.5 341.0,208.0 342.0,207.6 343.0,207.1 344.0,206.7 345.0,206.3 346.0,205.9 347.0,205.5 348.0,205.2 349.0,204.8 350.0,204.6 351.0,204.3 352.0,204.1 353.0,203.9 354.0,203.7 355.0,203.4 356.0,203.2 357.0,203.0 358.0,202.8 359.0,202.6 360.0,202.4 361.0,202.3 362.0,202.1 363.0,202.1 364.0,202.0 365.0,201.9 366.0,201.9 367.0,201.8 368.0,201.7 369.0,201.6 370.0,201.5 371.0,201.4 372.0,201.2 373.0,201.1 374.0,200.9 375.0,200.8 376.0,200.6 377.0,200.5 378.0,200.3 379.0,200.1 380.0,199.8 381.0,199.5 382.0,199.3 383.0,199.0 384.0,198.7 385.0,198.3 386.0,198.0 387.0,197.7 388.0,197.4 389.0,197.2 390.0,196.9 391.0,196.7 392.0,196.4 393.0,196.2 394.0,195.9 395.0,195.7 396.0,195.4 397.0,195.2 398.0,194.9 399.0,194.7 400.0,194.4 401.0,194.2 402.0,193.9 403.0,193.6 404.0,193.4 405.0,193.1 406.0,192.8 407.0,192.5 408.0,192.1 409.0,191.7 410.0,191.2 411.0,190.6 412.0,190.0 413.0,189.2 414.0,188.4 415.0,187.6 416.0,186.6 417.0,185.6 418.0,184.6 419.0,183.5 420.0,181.8 421.0,179.5 422.0,176.9 423.0,174.4 424.0,171.8 425.0,169.2 426.0,166.5 427.0,163.2 428.0,159.4 429.0,154.8 430.0,150.8 431.0,147.6 432.0,144.5 433.0,141.1 434.0,137.7 435.0,134.1 436.0,130.4 437.0,126.2 438.0,122.1 439.0,118.4 440.0,115.0 441.0,112.2 442.0,110.0 443.0,108.4 444.0,107.4 445.0,107.1 446.0,107.5 447.0,108.4 448.0,109.7 449.0,111.5 450.0,113.6 451.0,116.0 452.0,118.5 453.0,121.2 454.0,124.3 455.0,127.4 456.0,130.1 457.0,132.2 458.0,134.0 459.0,135.6 460.0,137.1 461.0,138.4 462.0,139.3 463.0,139.8 464.0,139.5 465.0,138.6 466.0,137.0 467.0,135.1 468.0,132.9 469.0,130.4 470.0,127.5 471.0,124.7 472.0,122.1 473.0,119.7 474.0,117.4 475.0,115.2 476.0,113.1 477.0,111.4 478.0,110.0 479.0,108.9 480.0,108.1 481.0,107.6 482.0,107.3 483.0,107.2 484.0,107.6 485.0,108.8 486.0,110.8 487.0,113.2 488.0,115.8 489.0,118.4 490.0,121.2 491.0,124.0 492.0,126.8 493.0,129.5 494.0,132.1 495.0,135.2 496.0,139.1 497.0,143.6 498.0,148.4 499.0,153.0 500.0,157.1 501.0,159.8 502.0,162.1 503.0,164.5 504.0,166.8 505.0,169.0 506.0,170.9 507.0,172.4 508.0,173.7 509.0,174.8 510.0,176.0 511.0,177.2 512.0,178.4 513.0,179.5 514.0,180.5 515.0,181.5 516.0,182.3 517.0,183.1 518.0,183.8 519.0,184.4 520.0,184.9 521.0,185.4 522.0,185.8 523.0,186.1 524.0,186.5 525.0,186.7 526.0,187.0 527.0,187.2 528.0,187.2 529.0,187.3 530.0,187.4 531.0,187.5 532.0,187.6 533.0,187.6 534.0,187.7" stroke="#e80c30"/>
<path d="M319.0,211.6 320.0,211.7 321.0,211.9 322.0,212.0 323.0,212.1 324.0,212.1 325.0,212.0 326.0,211.8 327.0,211.6 328.0,211.3 329.0,210.9 330.0,210.4 331.0,210.0 332.0,209.5 333.0,208.9 334.0,208.4 335.0,207.8 336.0,207.2 337.0,206.6 338.0,206.0 339.0,205.5 340.0,205.1 341.0,204.7 342.0,204.3 343.0,203.9 344.0,203.6 345.0,203.3 346.0,203.0 347.0,202.8 348.0,202.5 349.0,202.4 350.0,202.2 351.0,202.1 352.0,202.1 353.0,202.0 354.0,201.9 355.0,201.8 356.0,201.7 357.0,201.5 358.0,201.4 359.0,201.2 360.0,201.1 361.0,201.0 362.0,200.9 363.0,200.8 364.0,200.7 365.0,200.6 366.0,200.5 367.0,200.3 368.0,200.2 369.0,200.0 370.0,199.8 371.0,199.6 372.0,199.4 373.0,199.3 374.0,199.1 375.0,198.9 376.0,198.8 377.0,198.6 378.0,198.4 379.0,198.2 380.0,198.0 381.0,197.7 382.0,197.5 383.0,197.2 384.0,197.0 385.0,196.7 386.0,196.5 387.0,196.3 388.0,196.1 389.0,195.9 390.0,195.7 391.0,195.5 392.0,195.3 393.0,195.1 394.0,194.9 395.0,194.7 396.0,194.5 397.0,194.3 398.0,194.0 399.0,193.8 400.0,193.5 401.0,193.3 402.0,193.0 403.0,192.7 404.0,192.5 405.0,192.2 406.0,191.9 407.0,191.5 408.0,191.1 409.0,190.6 410.0,190.0 411.0,189.4 412.0,188.7 413.0,187.9 414.0,187.0 415.0,186.1 416.0,185.0 417.0,184.0 418.0,183.0 419.0,181.6 420.0,179.4 421.0,176.9 422.0,174.3 423.0,171.7 424.0,169.1 425.0,166.4 426.0,163.4 427.0,159.7 428.0,155.3 429.0,150.8 430.0,147.4 431.0,144.2 432.0,141.0 433.0,137.5 434.0,133.9 435.0,130.1 436.0,126.0 437.0,121.7 438.0,117.8 439.0,114.2 440.0,111.1 441.0,108.6 442.0,106.7 443.0,105.5 444.0,104.9 445.0,105.0 446.0,105.7 447.0,106.9 448.0,108.5 449.0,110.6 450.0,112.9 451.0,115.4 452.0,118.1 453.0,121.2 454.0,124.4 455.0,127.4 456.0,129.9 457.0,131.9 458.0,133.7 459.0,135.3 460.0,136.9 461.0,138.1 462.0,138.9 463.0,139.1 464.0,138.6 465.0,137.4 466.0,135.8 467.0,134.0 468.0,131.8 469.0,129.3 470.0,126.6 471.0,124.2 472.0,121.9 473.0,119.7 474.0,117.7 475.0,115.7 476.0,114.0 477.0,112.6 478.0,111.5 479.0,110.6 480.0,110.1 481.0,109.8 482.0,109.6 483.0,109.7 484.0,110.6 485.0,112.3 486.0,114.4 487.0,116.9 488.0,119.4 489.0,121.9 490.0,124.6 491.0,127.3 492.0,129.9 493.0,132.5 494.0,135.2 495.0,138.6 496.0,142.8 497.0,147.4 498.0,151.8 499.0,156.1 500.0,159.2 501.0,161.5 502.0,163.7 503.0,166.0 504.0,168.2 505.0,170.2 506.0,171.7 507.0,173.1 508.0,174.2 509.0,175.4 510.0,176.6 511.0,177.7 512.0,178.8 513.0,179.8 514.0,180.7 515.0,181.6 516.0,182.3 517.0,183.0 518.0,183.6 519.0,184.1 520.0,184.5 521.0,184.9 522.0,185.2 523.0,185.5 524.0,185.8 525.0,186.0 526.0,186.2 527.0,186.3 528.0,186.4 529.0,186.4 530.0,186.5 531.0,186.6 532.0,186.6 533.0,186.7 534.0,186.8" stroke="#f83060"/>
<path d="M319.0,208.1 320.0,208.1 321.0,208.1 322.0,208.2 323.0,208.3 324.0,208.3 325.0,208.3 326.0,208.3 327.0,208.2 328.0,208.0 329.0,207.7 330.0,207.4 331.0,207.0 332.0,206.5 333.0,206.0 334.0,205.6 335.0,205.1 336.0,204.5 337.0,204.0 338.0,203.4 339.0,202.9 340.0,202.4 341.0,201.8 342.0,201.4 343.0,200.9 344.0,200.5 345.0,200.1 346.0,199.7 347.0,199.4 348.0,199.0 349.0,198.8 350.0,198.5 351.0,198.4 352.0,198.3 353.0,198.2 354.0,198.2 355.0,198.1 356.0,198.1 357.0,198.1 358.0,198.1 359.0,198.2 360.0,198.2 361.0,198.2 362.0,198.3 363.0,198.4 364.0,198.5 365.0,198.7 366.0,198.8 367.0,198.9 368.0,199.0 369.0,199.1 370.0,199.1 371.0,199.0 372.0,199.0 373.0,198.9 374.0,198.7 375.0,198.6 376.0,198.4 377.0,198.2 378.0,198.0 379.0,197.8 380.0,197.5 381.0,197.2 382.0,196.9 383.0,196.7 384.0,196.4 385.0,196.1 386.0,195.8 387.0,195.5 388.0,195.3 389.0,195.0 390.0,194.7 391.0,194.5 392.0,194.2 393.0,194.0 394.0,193.7 395.0,193.5 396.0,193.3 397.0,193.0 398.0,192.8 399.0,192.6 400.0,192.3 401.0,192.1 402.0,191.9 403.0,191.6 404.0,191.4 405.0,191.2 406.0,190.9 407.0,190.7 408.0,190.4 409.0,190.0 410.0,189.6 411.0,189.1 412.0,188.5 413.0,187.9 414.0,187.1 415.0,186.3 416.0,185.4 417.0,184.5 418.0,183.4 419.0,182.3 420.0,180.9 421.0,178.9 422.0,176.5 423.0,173.8 424.0,171.1 425.0,168.2 426.0,165.2 427.0,162.1 428.0,158.6 429.0,154.6 430.0,149.7 431.0,145.2 432.0,141.2 433.0,137.3 434.0,133.2 435.0,129.0 436.0,124.6 437.0,120.0 438.0,115.1 439.0,110.2 440.0,105.4 441.0,100.9 442.0,97.1 443.0,94.0 444.0,91.6 445.0,90.1 446.0,89.6 447.0,90.0 448.0,90.9 449.0,92.4 450.0,94.7 451.0,97.5 452.0,100.7 453.0,104.2 454.0,107.9 455.0,111.7 456.0,115.4 457.0,119.1 458.0,122.6 459.0,126.0 460.0,128.8 461.0,131.1 462.0,133.2 463.0,134.8 464.0,135.9 465.0,136.3 466.0,136.1 467.0,135.2 468.0,133.7 469.0,131.9 470.0,129.7 471.0,126.8 472.0,123.7 473.0,120.8 474.0,118.1 475.0,115.5 476.0,113.0 477.0,110.9 478.0,109.3 479.0,108.0 480.0,106.9 481.0,106.1 482.0,105.6 483.0,105.8 484.0,106.6 485.0,108.0 486.0,109.8 487.0,111.7 488.0,114.0 489.0,116.6 490.0,119.2 491.0,121.9 492.0,124.6 493.0,127.3 494.0,129.9 495.0,132.5 496.0,135.7 497.0,139.5 498.0,144.1 499.0,148.6 500.0,153.0 501.0,156.6 502.0,159.0 503.0,161.2 504.0,163.5 505.0,165.7 506.0,167.8 507.0,169.7 508.0,171.3 509.0,172.8 510.0,174.2 511.0,175.5 512.0,176.7 513.0,177.8 514.0,178.8 515.0,179.7 516.0,180.6 517.0,181.3 518.0,182.1 519.0,182.7 520.0,183.3 521.0,183.8 522.0,184.2 523.0,184.6 524.0,184.9 525.0,185.2 526.0,185.5 527.0,185.6 528.0,185.8 529.0,185.8 530.0,185.9 531.0,185.9 532.0,186.0 533.0,186.0 534.0,186.1" stroke="#e818c8"/>
<path d="M319.0,217.5 320.0,217.5 321.0,217.6 322.0,217.7 323.0,217.9 324.0,218.1 325.0,218.3 326.0,218.5 327.0,218.5 328.0,218.6 329.0,218.5 330.0,218.4 331.0,218.2 332.0,218.0 333.0,217.7 334.0,217.3 335.0,216.9 336.0,216.4 337.0,215.7 338.0,215.1 339.0,214.4 340.0,213.6 341.0,212.9 342.0,212.2 343.0,211.6 344.0,210.9 345.0,210.2 346.0,209.5 347.0,208.9 348.0,208.2 349.0,207.6 350.0,207.0 351.0,206.4 352.0,206.0 353.0,205.5 354.0,205.1 355.0,204.7 356.0,204.3 357.0,203.9 358.0,203.5 359.0,203.2 360.0,202.9 361.0,202.6 362.0,202.3 363.0,202.1 364.0,202.0 365.0,201.8 366.0,201.7 367.0,201.4 368.0,201.1 369.0,200.8 370.0,200.5 371.0,200.1 372.0,199.7 373.0,199.3 374.0,198.8 375.0,198.4 376.0,197.9 377.0,197.4 378.0,196.8 379.0,196.0 380.0,195.1 381.0,194.2 382.0,193.1 383.0,191.9 384.0,190.5 385.0,189.0 386.0,187.3 387.0,185.4 388.0,183.4 389.0,181.3 390.0,179.1 391.0,176.8 392.0,174.3 393.0,171.6 394.0,168.7 395.0,165.8 396.0,162.9 397.0,159.8 398.0,156.8 399.0,154.1 400.0,151.8 401.0,149.7 402.0,147.8 403.0,146.2 404.0,145.1 405.0,144.4 406.0,144.5 407.0,145.0 408.0,145.8 409.0,146.8 410.0,147.9 411.0,149.2 412.0,150.9 413.0,152.6 414.0,154.2 415.0,155.9 416.0,157.6 417.0,159.2 418.0,160.8 419.0,162.3 420.0,163.8 421.0,165.2 422.0,166.5 423.0,167.8 424.0,168.9 425.0,169.7 426.0,170.4 427.0,170.9 428.0,171.0 429.0,170.7 430.0,169.8 431.0,168.7 432.0,167.4 433.0,165.7 434.0,163.7 435.0,161.7 436.0,159.5 437.0,157.3 438.0,155.1 439.0,152.8 440.0,150.7 441.0,148.6 442.0,146.6 443.0,144.7 444.0,143.3 445.0,142.1 446.0,141.3 447.0,141.0 448.0,141.1 449.0,141.3 450.0,141.9 451.0,142.7 452.0,143.7 453.0,144.8 454.0,146.0 455.0,147.3 456.0,148.6 457.0,149.7 458.0,150.7 459.0,151.5 460.0,152.2 461.0,152.5 462.0,152.5 463.0,152.1 464.0,151.2 465.0,149.9 466.0,148.1 467.0,145.8 468.0,143.2 469.0,140.2 470.0,137.0 471.0,133.5 472.0,129.5 473.0,125.0 474.0,120.7 475.0,116.6 476.0,112.8 477.0,109.6 478.0,106.9 479.0,104.7 480.0,102.8 481.0,101.3 482.0,100.1 483.0,99.5 484.0,99.5 485.0,100.2 486.0,101.6 487.0,103.5 488.0,105.7 489.0,108.3 490.0,111.1 491.0,113.9 492.0,116.8 493.0,119.8 494.0,122.7 495.0,125.4 496.0,128.4 497.0,132.0 498.0,136.5 499.0,141.5 500.0,146.4 501.0,151.1 502.0,154.7 503.0,157.2 504.0,159.6 505.0,162.1 506.0,164.5 507.0,166.8 508.0,168.8 509.0,170.6 510.0,172.2 511.0,173.8 512.0,175.2 513.0,176.5 514.0,177.8 515.0,178.9 516.0,180.0 517.0,180.9 518.0,181.9 519.0,182.7 520.0,183.5 521.0,184.2 522.0,184.8 523.0,185.3 524.0,185.7 525.0,186.1 526.0,186.5 527.0,186.8 528.0,187.0 529.0,187.2 530.0,187.3 531.0,187.4 532.0,187.4 533.0,187.5 534.0,187.6" stroke="#28b0b0"/>
<path d="M319.0,210.5 320.0,210.4 321.0,210.4 322.0,210.5 323.0,210.5 324.0,210.6 325.0,210.7 326.0,210.6 327.0,210.5 328.0,210.4 329.0,210.2 330.0,210.0 331.0,209.7 332.0,209.4 333.0,209.1 334.0,208.7 335.0,208.4 336.0,208.0 337.0,207.6 338.0,207.1 339.0,206.7 340.0,206.2 341.0,205.9 342.0,205.5 343.0,205.2 344.0,204.8 345.0,204.5 346.0,204.2 347.0,203.9 348.0,203.6 349.0,203.3 350.0,203.0 351.0,202.8 352.0,202.6 353.0,202.4 354.0,202.2 355.0,202.1 356.0,201.9 357.0,201.7 358.0,201.6 359.0,201.4 360.0,201.2 361.0,201.1 362.0,200.9 363.0,200.9 364.0,200.8 365.0,200.8 366.0,200.7 367.0,200.7 368.0,200.7 369.0,200.7 370.0,200.6 371.0,200.5 372.0,200.4 373.0,200.3 374.0,200.2 375.0,200.0 376.0,199.9 377.0,199.7 378.0,199.5 379.0,199.3 380.0,199.1 381.0,198.9 382.0,198.6 383.0,198.3 384.0,197.9 385.0,197.6 386.0,197.3 387.0,196.9 388.0,196.6 389.0,196.3 390.0,196.0 391.0,195.7 392.0,195.5 393.0,195.2 394.0,195.0 395.0,194.7 396.0,194.5 397.0,194.3 398.0,194.0 399.0,193.8 400.0,193.6 401.0,193.3 402.0,193.1 403.0,192.9 404.0,192.7 405.0,192.4 406.0,192.2 407.0,192.0 408.0,191.7 409.0,191.4 410.0,191.0 411.0,190.6 412.0,190.1 413.0,189.5 414.0,188.8 415.0,188.1 416.0,187.2 417.0,186.3 418.0,185.3 419.0,184.2 420.0,183.2 421.0,181.7 422.0,179.5 423.0,176.8 424.0,174.0 425.0,171.3 426.0,168.5 427.0,165.6 428.0,162.3 429.0,158.3 430.0,153.5 431.0,148.7 432.0,145.0 433.0,141.5 434.0,137.9 435.0,134.1 436.0,130.2 437.0,126.2 438.0,121.8 439.0,117.2 440.0,113.0 441.0,109.2 442.0,105.9 443.0,103.2 444.0,101.3 445.0,100.0 446.0,99.5 447.0,99.7 448.0,100.6 449.0,101.9 450.0,103.7 451.0,106.0 452.0,108.6 453.0,111.4 454.0,114.3 455.0,117.7 456.0,121.2 457.0,124.5 458.0,127.2 459.0,129.4 460.0,131.4 461.0,133.2 462.0,134.9 463.0,136.2 464.0,137.1 465.0,137.3 466.0,136.9 467.0,135.7 468.0,134.1 469.0,132.2 470.0,130.0 471.0,127.4 472.0,124.7 473.0,122.2 474.0,119.9 475.0,117.7 476.0,115.6 477.0,113.7 478.0,111.9 479.0,110.5 480.0,109.4 481.0,108.6 482.0,108.1 483.0,107.9 484.0,107.7 485.0,107.9 486.0,108.9 487.0,110.6 488.0,112.9 489.0,115.4 490.0,118.0 491.0,120.7 492.0,123.4 493.0,126.2 494.0,128.9 495.0,131.5 496.0,134.3 497.0,137.7 498.0,142.0 499.0,146.6 500.0,151.1 501.0,155.5 502.0,158.5 503.0,160.8 504.0,163.1 505.0,165.4 506.0,167.6 507.0,169.5 508.0,171.0 509.0,172.3 510.0,173.5 511.0,174.7 512.0,175.8 513.0,177.0 514.0,178.1 515.0,179.1 516.0,180.1 517.0,181.0 518.0,181.8 519.0,182.5 520.0,183.2 521.0,183.7 522.0,184.2 523.0,184.6 524.0,185.0 525.0,185.4 526.0,185.7 527.0,186.0 528.0,186.3 529.0,186.4 530.0,186.5 531.0,186.6 532.0,186.7 533.0,186.8 534.0,186.9" stroke="#f0184c"/>
<path d="M319.0,218.8 320.0,218.8 321.0,218.9 322.0,219.0 323.0,219.0 324.0,219.0 325.0,218.9 326.0,218.7 327.0,218.4 328.0,218.1 329.0,217.6 330.0,217.1 331.0,216.5 332.0,215.9 333.0,215.2 334.0,214.5 335.0,213.7 336.0,213.0 337.0,212.2 338.0,211.4 339.0,210.6 340.0,210.0 341.0,209.4 342.0,208.9 343.0,208.4 344.0,207.9 345.0,207.5 346.0,207.2 347.0,206.8 348.0,206.5 349.0,206.2 350.0,206.0 351.0,205.8 352.0,205.6 353.0,205.4 354.0,205.2 355.0,204.9 356.0,204.6 357.0,204.3 358.0,203.9 359.0,203.6 360.0,203.1 361.0,202.7 362.0,202.3 363.0,201.9 364.0,201.5 365.0,201.0 366.0,200.5 367.0,200.0 368.0,199.4 369.0,198.8 370.0,198.2 371.0,197.7 372.0,197.2 373.0,196.6 374.0,196.1 375.0,195.7 376.0,195.2 377.0,194.8 378.0,194.1 379.0,193.4 380.0,192.6 381.0,191.7 382.0,190.7 383.0,189.5 384.0,188.2 385.0,186.7 386.0,185.1 387.0,183.3 388.0,181.3 389.0,179.3 390.0,177.1 391.0,174.7 392.0,172.1 393.0,169.3 394.0,166.4 395.0,163.5 396.0,160.4 397.0,157.4 398.0,154.6 399.0,152.1 400.0,149.9 401.0,147.9 402.0,146.2 403.0,144.9 404.0,144.1 405.0,143.9 406.0,144.3 407.0,145.0 408.0,145.9 409.0,146.9 410.0,148.2 411.0,149.8 412.0,151.5 413.0,153.2 414.0,154.9 415.0,156.7 416.0,158.4 417.0,160.1 418.0,161.8 419.0,163.3 420.0,164.9 421.0,166.4 422.0,167.9 423.0,169.2 424.0,170.2 425.0,171.1 426.0,171.8 427.0,172.1 428.0,172.0 429.0,171.4 430.0,170.5 431.0,169.4 432.0,168.0 433.0,166.2 434.0,164.3 435.0,162.4 436.0,160.3 437.0,158.2 438.0,156.1 439.0,154.1 440.0,152.1 441.0,150.1 442.0,148.3 443.0,146.8 444.0,145.6 445.0,144.8 446.0,144.3 447.0,144.3 448.0,144.4 449.0,144.9 450.0,145.6 451.0,146.5 452.0,147.5 453.0,148.6 454.0,149.9 455.0,151.2 456.0,152.3 457.0,153.4 458.0,154.3 459.0,155.1 460.0,155.6 461.0,155.9 462.0,155.8 463.0,155.3 464.0,154.3 465.0,153.0 466.0,151.2 467.0,149.2 468.0,146.8 469.0,144.1 470.0,141.3 471.0,138.0 472.0,134.2 473.0,130.5 474.0,127.0 475.0,123.8 476.0,120.9 477.0,118.5 478.0,116.6 479.0,114.8 480.0,113.4 481.0,112.3 482.0,111.7 483.0,111.6 484.0,112.1 485.0,113.2 486.0,114.6 487.0,116.5 488.0,118.7 489.0,121.0 490.0,123.5 491.0,126.0 492.0,128.6 493.0,131.2 494.0,133.6 495.0,136.2 496.0,139.3 497.0,143.1 498.0,147.5 499.0,151.8 500.0,156.0 501.0,159.3 502.0,161.6 503.0,163.8 504.0,165.9 505.0,168.0 506.0,170.0 507.0,171.8 508.0,173.4 509.0,174.8 510.0,176.1 511.0,177.3 512.0,178.4 513.0,179.4 514.0,180.3 515.0,181.1 516.0,181.8 517.0,182.5 518.0,183.1 519.0,183.7 520.0,184.1 521.0,184.6 522.0,184.9 523.0,185.2 524.0,185.5 525.0,185.8 526.0,186.0 527.0,186.2 528.0,186.3 529.0,186.4 530.0,186.5 531.0,186.6 532.0,186.7 533.0,186.8 534.0,186.9" stroke="#1668d8"/>
<path d="M319.0,219.9 320.0,219.9 321.0,220.0 322.0,220.0 323.0,220.0 324.0,219.9 325.0,219.8 326.0,219.6 327.0,219.3 328.0,219.0 329.0,218.7 330.0,218.3 331.0,217.8 332.0,217.3 333.0,216.7 334.0,216.1 335.0,215.4 336.0,214.7 337.0,214.0 338.0,213.3 339.0,212.6 340.0,212.0 341.0,211.4 342.0,210.8 343.0,210.2 344.0,209.6 345.0,209.1 346.0,208.5 347.0,208.0 348.0,207.5 349.0,207.0 350.0,206.6 351.0,206.2 352.0,205.8 353.0,205.4 354.0,204.9 355.0,204.5 356.0,204.1 357.0,203.7 358.0,203.3 359.0,202.8 360.0,202.4 361.0,202.1 362.0,201.8 363.0,201.5 364.0,201.2 365.0,200.9 366.0,200.5 367.0,200.1 368.0,199.6 369.0,199.2 370.0,198.8 371.0,198.5 372.0,198.1 373.0,197.7 374.0,197.3 375.0,196.9 376.0,196.4 377.0,195.8 378.0,195.1 379.0,194.3 380.0,193.4 381.0,192.4 382.0,191.3 383.0,190.0 384.0,188.5 385.0,187.0 386.0,185.3 387.0,183.5 388.0,181.6 389.0,179.6 390.0,177.3 391.0,174.9 392.0,172.4 393.0,169.9 394.0,167.3 395.0,164.6 396.0,161.9 397.0,159.6 398.0,157.5 399.0,155.6 400.0,153.9 401.0,152.6 402.0,151.5 403.0,151.0 404.0,151.0 405.0,151.4 406.0,152.1 407.0,152.9 408.0,153.8 409.0,155.0 410.0,156.4 411.0,157.9 412.0,159.3 413.0,160.7 414.0,162.2 415.0,163.6 416.0,165.0 417.0,166.3 418.0,167.5 419.0,168.7 420.0,169.9 421.0,171.0 422.0,171.9 423.0,172.6 424.0,173.1 425.0,173.5 426.0,173.6 427.0,173.1 428.0,172.3 429.0,171.2 430.0,169.9 431.0,168.2 432.0,166.3 433.0,164.3 434.0,162.3 435.0,160.2 436.0,158.0 437.0,155.9 438.0,153.8 439.0,151.8 440.0,149.9 441.0,148.1 442.0,146.7 443.0,145.6 444.0,144.9 445.0,144.6 446.0,144.6 447.0,144.9 448.0,145.4 449.0,146.2 450.0,147.0 451.0,148.1 452.0,149.2 453.0,150.5 454.0,151.7 455.0,152.7 456.0,153.6 457.0,154.5 458.0,155.1 459.0,155.4 460.0,155.4 461.0,155.1 462.0,154.2 463.0,153.0 464.0,151.3 465.0,149.2 466.0,146.8 467.0,144.1 468.0,141.1 469.0,137.8 470.0,134.1 471.0,129.9 472.0,126.0 473.0,122.2 474.0,118.8 475.0,115.8 476.0,113.4 477.0,111.4 478.0,109.6 479.0,108.2 480.0,107.2 481.0,106.6 482.0,106.7 483.0,107.4 484.0,108.8 485.0,110.5 486.0,112.6 487.0,115.1 488.0,117.6 489.0,120.2 490.0,123.0 491.0,125.7 492.0,128.4 493.0,131.0 494.0,133.8 495.0,137.3 496.0,141.5 497.0,146.2 498.0,150.7 499.0,155.1 500.0,158.2 501.0,160.5 502.0,162.8 503.0,165.0 504.0,167.2 505.0,169.3 506.0,171.2 507.0,172.8 508.0,174.2 509.0,175.6 510.0,176.8 511.0,178.0 512.0,179.1 513.0,180.1 514.0,181.0 515.0,181.8 516.0,182.6 517.0,183.3 518.0,184.0 519.0,184.5 520.0,185.0 521.0,185.4 522.0,185.8 523.0,186.2 524.0,186.5 525.0,186.7 526.0,186.9 527.0,187.1 528.0,187.2 529.0,187.2 530.0,187.3 531.0,187.4 532.0,187.5 533.0,187.5 534.0,187.6" stroke="#1c78e8"/>
<path d="M319.0,218.3 320.0,218.5 321.0,218.7 322.0,219.0 323.0,219.2 324.0,219.3 325.0,219.3 326.0,219.2 327.0,219.1 328.0,218.8 329.0,218.5 330.0,218.1 331.0,217.6 332.0,217.0 333.0,216.4 334.0,215.7 335.0,214.9 336.0,214.0 337.0,213.1 338.0,212.2 339.0,211.4 340.0,210.6 341.0,209.8 342.0,209.1 343.0,208.4 344.0,207.7 345.0,207.0 346.0,206.4 347.0,205.8 348.0,205.3 349.0,204.8 350.0,204.4 351.0,204.0 352.0,203.7 353.0,203.3 354.0,203.0 355.0,202.7 356.0,202.4 357.0,202.2 358.0,201.9 359.0,201.6 360.0,201.3 361.0,201.1 362.0,200.9 363.0,200.8 364.0,200.6 365.0,200.3 366.0,200.0 367.0,199.6 368.0,199.2 369.0,198.8 370.0,198.4 371.0,197.9 372.0,197.5 373.0,197.0 374.0,196.6 375.0,196.1 376.0,195.6 377.0,195.0 378.0,194.2 379.0,193.3 380.0,192.4 381.0,191.4 382.0,190.1 383.0,188.8 384.0,187.3 385.0,185.6 386.0,183.8 387.0,181.8 388.0,179.8 389.0,177.7 390.0,175.3 391.0,172.7 392.0,170.0 393.0,167.3 394.0,164.4 395.0,161.5 396.0,158.5 397.0,155.8 398.0,153.4 399.0,151.4 400.0,149.4 401.0,147.8 402.0,146.5 403.0,145.6 404.0,145.5 405.0,145.9 406.0,146.5 407.0,147.4 408.0,148.4 409.0,149.5 410.0,151.1 411.0,152.7 412.0,154.3 413.0,155.8 414.0,157.4 415.0,159.0 416.0,160.6 417.0,162.1 418.0,163.5 419.0,164.9 420.0,166.2 421.0,167.4 422.0,168.6 423.0,169.5 424.0,170.2 425.0,170.8 426.0,171.0 427.0,170.8 428.0,170.1 429.0,169.1 430.0,167.8 431.0,166.3 432.0,164.4 433.0,162.3 434.0,160.3 435.0,158.1 436.0,155.8 437.0,153.6 438.0,151.4 439.0,149.3 440.0,147.3 441.0,145.3 442.0,143.7 443.0,142.4 444.0,141.5 445.0,141.1 446.0,141.0 447.0,141.1 448.0,141.5 449.0,142.3 450.0,143.1 451.0,144.1 452.0,145.3 453.0,146.6 454.0,147.8 455.0,149.0 456.0,149.9 457.0,150.8 458.0,151.5 459.0,151.9 460.0,152.1 461.0,151.8 462.0,151.0 463.0,149.8 464.0,148.1 465.0,146.0 466.0,143.5 467.0,140.6 468.0,137.4 469.0,134.0 470.0,130.2 471.0,125.7 472.0,121.3 473.0,117.2 474.0,113.3 475.0,109.8 476.0,107.0 477.0,104.6 478.0,102.6 479.0,100.9 480.0,99.6 481.0,98.8 482.0,98.7 483.0,99.2 484.0,100.4 485.0,102.1 486.0,104.2 487.0,106.8 488.0,109.5 489.0,112.3 490.0,115.3 491.0,118.3 492.0,121.2 493.0,124.0 494.0,126.9 495.0,130.5 496.0,134.8 497.0,139.8 498.0,144.9 499.0,149.7 500.0,153.7 501.0,156.4 502.0,158.9 503.0,161.4 504.0,163.9 505.0,166.2 506.0,168.4 507.0,170.3 508.0,172.0 509.0,173.5 510.0,175.0 511.0,176.3 512.0,177.6 513.0,178.7 514.0,179.8 515.0,180.7 516.0,181.6 517.0,182.4 518.0,183.1 519.0,183.8 520.0,184.3 521.0,184.8 522.0,185.1 523.0,185.5 524.0,185.8 525.0,186.1 526.0,186.3 527.0,186.4 528.0,186.4 529.0,186.5 530.0,186.5 531.0,186.6 532.0,186.6 533.0,186.7 534.0,186.7" stroke="#28b0b0"/>
<path d="M319.0,219.2 320.0,219.3 321.0,219.5 322.0,219.7 323.0,220.0 324.0,220.2 325.0,220.3 326.0,220.4 327.0,220.4 328.0,220.3 329.0,220.2 330.0,220.0 331.0,219.7 332.0,219.4 333.0,219.0 334.0,218.5 335.0,217.9 336.0,217.3 337.0,216.6 338.0,215.9 339.0,215.1 340.0,214.4 341.0,213.7 342.0,213.0 343.0,212.3 344.0,211.6 345.0,210.9 346.0,210.2 347.0,209.5 348.0,208.8 349.0,208.2 350.0,207.6 351.0,207.1 352.0,206.6 353.0,206.1 354.0,205.7 355.0,205.2 356.0,204.8 357.0,204.4 358.0,204.0 359.0,203.6 360.0,203.2 361.0,202.9 362.0,202.6 363.0,202.4 364.0,202.2 365.0,201.9 366.0,201.6 367.0,201.3 368.0,200.9 369.0,200.5 370.0,200.1 371.0,199.6 372.0,199.2 373.0,198.7 374.0,198.2 375.0,197.7 376.0,197.2 377.0,196.6 378.0,195.9 379.0,195.0 380.0,194.0 381.0,192.9 382.0,191.6 383.0,190.2 384.0,188.6 385.0,186.9 386.0,185.0 387.0,182.9 388.0,180.7 389.0,178.4 390.0,176.0 391.0,173.4 392.0,170.5 393.0,167.5 394.0,164.4 395.0,161.3 396.0,158.1 397.0,154.9 398.0,151.9 399.0,149.4 400.0,147.2 401.0,145.2 402.0,143.5 403.0,142.2 404.0,141.4 405.0,141.5 406.0,141.9 407.0,142.8 408.0,143.8 409.0,145.0 410.0,146.4 411.0,148.2 412.0,150.0 413.0,151.8 414.0,153.6 415.0,155.3 416.0,157.1 417.0,158.9 418.0,160.5 419.0,162.0 420.0,163.5 421.0,164.9 422.0,166.3 423.0,167.5 424.0,168.4 425.0,169.1 426.0,169.7 427.0,169.8 428.0,169.5 429.0,168.6 430.0,167.4 431.0,166.0 432.0,164.2 433.0,162.0 434.0,159.8 435.0,157.4 436.0,155.0 437.0,152.6 438.0,150.1 439.0,147.8 440.0,145.5 441.0,143.3 442.0,141.2 443.0,139.6 444.0,138.3 445.0,137.4 446.0,137.0 447.0,137.1 448.0,137.3 449.0,137.9 450.0,138.9 451.0,139.9 452.0,141.1 453.0,142.5 454.0,144.0 455.0,145.4 456.0,146.7 457.0,147.9 458.0,148.9 459.0,149.8 460.0,150.2 461.0,150.4 462.0,150.2 463.0,149.4 464.0,148.2 465.0,146.5 466.0,144.3 467.0,141.8 468.0,138.9 469.0,135.7 470.0,132.2 471.0,128.3 472.0,123.8 473.0,119.5 474.0,115.4 475.0,111.6 476.0,108.2 477.0,105.6 478.0,103.3 479.0,101.4 480.0,99.9 481.0,98.7 482.0,98.0 483.0,98.0 484.0,98.7 485.0,100.1 486.0,102.0 487.0,104.2 488.0,106.9 489.0,109.7 490.0,112.6 491.0,115.6 492.0,118.6 493.0,121.6 494.0,124.4 495.0,127.4 496.0,131.1 497.0,135.5 498.0,140.7 499.0,145.7 500.0,150.5 501.0,154.3 502.0,156.9 503.0,159.4 504.0,161.9 505.0,164.3 506.0,166.6 507.0,168.7 508.0,170.6 509.0,172.2 510.0,173.8 511.0,175.2 512.0,176.6 513.0,177.9 514.0,179.0 515.0,180.1 516.0,181.1 517.0,182.0 518.0,182.8 519.0,183.6 520.0,184.3 521.0,184.9 522.0,185.4 523.0,185.9 524.0,186.3 525.0,186.7 526.0,187.0 527.0,187.2 528.0,187.4 529.0,187.5 530.0,187.6 531.0,187.7 532.0,187.7 533.0,187.8 534.0,187.8" stroke="#2a84f0"/>
<path d="M319.0,207.7 320.0,207.7 321.0,207.7 322.0,207.7 323.0,207.8 324.0,207.7 325.0,207.7 326.0,207.5 327.0,207.3 328.0,207.0 329.0,206.7 330.0,206.2 331.0,205.8 332.0,205.3 333.0,204.8 334.0,204.4 335.0,203.9 336.0,203.4 337.0,202.9 338.0,202.4 339.0,201.9 340.0,201.5 341.0,201.1 342.0,200.7 343.0,200.4 344.0,200.1 345.0,199.9 346.0,199.6 347.0,199.4 348.0,199.3 349.0,199.2 350.0,199.1 351.0,199.1 352.0,199.2 353.0,199.2 354.0,199.3 355.0,199.3 356.0,199.4 357.0,199.4 358.0,199.4 359.0,199.5 360.0,199.5 361.0,199.5 362.0,199.6 363.0,199.7 364.0,199.7 365.0,199.8 366.0,199.8 367.0,199.8 368.0,199.8 369.0,199.7 370.0,199.6 371.0,199.4 372.0,199.2 373.0,199.0 374.0,198.8 375.0,198.6 376.0,198.4 377.0,198.1 378.0,197.8 379.0,197.5 380.0,197.2 381.0,196.9 382.0,196.6 383.0,196.3 384.0,196.0 385.0,195.8 386.0,195.5 387.0,195.2 388.0,195.0 389.0,194.7 390.0,194.5 391.0,194.2 392.0,194.0 393.0,193.8 394.0,193.5 395.0,193.3 396.0,193.1 397.0,192.8 398.0,192.6 399.0,192.4 400.0,192.1 401.0,191.9 402.0,191.6 403.0,191.4 404.0,191.2 405.0,190.9 406.0,190.7 407.0,190.4 408.0,190.0 409.0,189.6 410.0,189.1 411.0,188.6 412.0,187.9 413.0,187.2 414.0,186.4 415.0,185.6 416.0,184.6 417.0,183.6 418.0,182.5 419.0,181.3 420.0,179.5 421.0,177.2 422.0,174.7 423.0,172.0 424.0,169.3 425.0,166.5 426.0,163.5 427.0,160.3 428.0,156.5 429.0,152.0 430.0,147.6 431.0,143.7 432.0,140.0 433.0,136.1 434.0,132.1 435.0,128.0 436.0,123.7 437.0,119.0 438.0,114.2 439.0,109.6 440.0,105.2 441.0,101.4 442.0,98.3 443.0,95.8 444.0,94.2 445.0,93.5 446.0,93.6 447.0,94.4 448.0,95.6 449.0,97.6 450.0,100.2 451.0,103.2 452.0,106.4 453.0,109.9 454.0,113.5 455.0,117.1 456.0,120.6 457.0,124.0 458.0,127.2 459.0,130.1 460.0,132.3 461.0,134.3 462.0,136.0 463.0,137.1 464.0,137.6 465.0,137.5 466.0,136.7 467.0,135.3 468.0,133.5 469.0,131.4 470.0,128.6 471.0,125.6 472.0,122.6 473.0,119.8 474.0,117.2 475.0,114.7 476.0,112.5 477.0,110.8 478.0,109.4 479.0,108.3 480.0,107.4 481.0,106.8 482.0,106.7 483.0,107.4 484.0,108.7 485.0,110.3 486.0,112.1 487.0,114.4 488.0,116.8 489.0,119.3 490.0,122.0 491.0,124.7 492.0,127.3 493.0,129.9 494.0,132.4 495.0,135.4 496.0,139.1 497.0,143.5 498.0,148.0 499.0,152.4 500.0,156.2 501.0,158.7 502.0,160.9 503.0,163.1 504.0,165.3 505.0,167.4 506.0,169.4 507.0,171.1 508.0,172.6 509.0,174.0 510.0,175.2 511.0,176.4 512.0,177.6 513.0,178.6 514.0,179.5 515.0,180.4 516.0,181.1 517.0,181.9 518.0,182.5 519.0,183.1 520.0,183.6 521.0,184.1 522.0,184.4 523.0,184.8 524.0,185.1 525.0,185.4 526.0,185.6 527.0,185.8 528.0,185.8 529.0,185.9 530.0,186.0 531.0,186.1 532.0,186.2 533.0,186.2 534.0,186.3" stroke="#ff4890"/>
<path d="M319.0,220.4 320.0,220.3 321.0,220.3 322.0,220.4 323.0,220.5 324.0,220.5 325.0,220.5 326.0,220.4 327.0,220.1 328.0,219.8 329.0,219.4 330.0,218.9 331.0,218.4 332.0,217.8 333.0,217.2 334.0,216.6 335.0,215.9 336.0,215.1 337.0,214.3 338.0,213.5 339.0,212.7 340.0,211.9 341.0,211.2 342.0,210.4 343.0,209.7 344.0,209.0 345.0,208.4 346.0,207.8 347.0,207.3 348.0,206.8 349.0,206.3 350.0,205.8 351.0,205.3 352.0,204.8 353.0,204.3 354.0,203.9 355.0,203.4 356.0,202.9 357.0,202.5 358.0,202.1 359.0,201.6 360.0,201.2 361.0,200.7 362.0,200.2 363.0,199.7 364.0,199.2 365.0,198.7 366.0,198.2 367.0,197.6 368.0,197.0 369.0,196.4 370.0,195.8 371.0,195.1 372.0,194.3 373.0,193.4 374.0,192.4 375.0,191.5 376.0,190.4 377.0,189.3 378.0,188.1 379.0,186.9 380.0,185.4 381.0,183.7 382.0,181.8 383.0,179.6 384.0,176.9 385.0,173.6 386.0,170.1 387.0,166.6 388.0,163.1 389.0,159.7 390.0,156.2 391.0,152.6 392.0,148.8 393.0,144.9 394.0,141.1 395.0,137.4 396.0,133.6 397.0,129.3 398.0,124.6 399.0,120.7 400.0,117.3 401.0,114.4 402.0,112.0 403.0,110.1 404.0,108.7 405.0,107.9 406.0,107.5 407.0,107.6 408.0,108.3 409.0,109.4 410.0,110.9 411.0,113.0 412.0,115.8 413.0,119.2 414.0,123.3 415.0,128.4 416.0,133.1 417.0,136.3 418.0,139.4 419.0,142.3 420.0,145.1 421.0,147.9 422.0,150.7 423.0,153.5 424.0,156.5 425.0,159.6 426.0,162.7 427.0,165.7 428.0,168.4 429.0,170.8 430.0,172.9 431.0,174.9 432.0,176.5 433.0,178.0 434.0,179.3 435.0,180.3 436.0,181.3 437.0,182.2 438.0,183.1 439.0,183.8 440.0,184.4 441.0,184.9 442.0,185.3 443.0,185.6 444.0,185.8 445.0,186.0 446.0,186.1 447.0,186.1 448.0,186.0 449.0,185.8 450.0,185.5 451.0,185.1 452.0,184.6 453.0,183.9 454.0,183.2 455.0,182.2 456.0,181.0 457.0,179.5 458.0,177.8 459.0,175.9 460.0,174.0 461.0,171.9 462.0,169.8 463.0,167.6 464.0,165.3 465.0,162.9 466.0,160.3 467.0,157.6 468.0,154.7 469.0,151.6 470.0,148.0 471.0,144.1 472.0,140.3 473.0,136.4 474.0,132.5 475.0,128.2 476.0,123.8 477.0,120.0 478.0,116.8 479.0,114.0 480.0,111.6 481.0,109.9 482.0,109.2 483.0,109.0 484.0,109.0 485.0,109.4 486.0,110.5 487.0,112.3 488.0,114.6 489.0,117.1 490.0,119.6 491.0,122.2 492.0,125.0 493.0,127.7 494.0,130.3 495.0,132.8 496.0,135.7 497.0,139.2 498.0,143.4 499.0,148.0 500.0,152.4 501.0,156.6 502.0,159.4 503.0,161.6 504.0,163.9 505.0,166.1 506.0,168.2 507.0,170.0 508.0,171.4 509.0,172.6 510.0,173.7 511.0,174.8 512.0,175.9 513.0,177.0 514.0,178.1 515.0,179.1 516.0,180.1 517.0,181.0 518.0,181.7 519.0,182.4 520.0,183.1 521.0,183.6 522.0,184.1 523.0,184.5 524.0,184.9 525.0,185.2 526.0,185.6 527.0,185.8 528.0,186.1 529.0,186.2 530.0,186.3 531.0,186.4 532.0,186.5 533.0,186.6 534.0,186.7" stroke="#10cc30"/>
<path d="M319.0,216.4 320.0,216.4 321.0,216.4 322.0,216.4 323.0,216.5 324.0,216.5 325.0,216.5 326.0,216.5 327.0,216.4 328.0,216.3 329.0,216.1 330.0,215.8 331.0,215.5 332.0,215.2 333.0,214.8 334.0,214.4 335.0,213.9 336.0,213.4 337.0,212.8 338.0,212.2 339.0,211.5 340.0,210.9 341.0,210.4 342.0,209.8 343.0,209.3 344.0,208.8 345.0,208.2 346.0,207.7 347.0,207.2 348.0,206.6 349.0,206.1 350.0,205.6 351.0,205.2 352.0,204.7 353.0,204.3 354.0,203.9 355.0,203.4 356.0,203.0 357.0,202.6 358.0,202.1 359.0,201.7 360.0,201.3 361.0,200.9 362.0,200.6 363.0,200.3 364.0,200.1 365.0,199.9 366.0,199.6 367.0,199.3 368.0,199.0 369.0,198.6 370.0,198.3 371.0,197.9 372.0,197.6 373.0,197.3 374.0,196.9 375.0,196.5 376.0,196.1 377.0,195.7 378.0,195.2 379.0,194.5 380.0,193.6 381.0,192.7 382.0,191.7 383.0,190.5 384.0,189.1 385.0,187.6 386.0,185.8 387.0,184.0 388.0,182.0 389.0,179.9 390.0,177.7 391.0,175.3 392.0,172.7 393.0,169.9 394.0,167.1 395.0,164.2 396.0,161.2 397.0,158.2 398.0,155.4 399.0,152.9 400.0,150.8 401.0,148.8 402.0,147.1 403.0,145.7 404.0,144.8 405.0,144.6 406.0,144.9 407.0,145.5 408.0,146.5 409.0,147.5 410.0,148.7 411.0,150.3 412.0,152.0 413.0,153.6 414.0,155.3 415.0,157.0 416.0,158.7 417.0,160.4 418.0,161.9 419.0,163.4 420.0,164.9 421.0,166.3 422.0,167.6 423.0,168.8 424.0,169.7 425.0,170.5 426.0,171.1 427.0,171.4 428.0,171.3 429.0,170.6 430.0,169.6 431.0,168.4 432.0,166.9 433.0,165.0 434.0,163.0 435.0,160.9 436.0,158.7 437.0,156.5 438.0,154.2 439.0,152.0 440.0,149.9 441.0,147.9 442.0,145.9 443.0,144.3 444.0,143.0 445.0,142.0 446.0,141.5 447.0,141.4 448.0,141.6 449.0,142.0 450.0,142.8 451.0,143.7 452.0,144.7 453.0,145.9 454.0,147.3 455.0,148.6 456.0,149.9 457.0,150.9 458.0,151.9 459.0,152.7 460.0,153.3 461.0,153.5 462.0,153.5 463.0,152.9 464.0,151.9 465.0,150.5 466.0,148.7 467.0,146.4 468.0,143.9 469.0,141.1 470.0,138.1 471.0,134.7 472.0,130.7 473.0,126.7 474.0,122.9 475.0,119.4 476.0,116.2 477.0,113.6 478.0,111.4 479.0,109.6 480.0,108.1 481.0,106.9 482.0,106.1 483.0,106.0 484.0,106.4 485.0,107.5 486.0,109.1 487.0,111.0 488.0,113.4 489.0,115.9 490.0,118.5 491.0,121.3 492.0,124.0 493.0,126.8 494.0,129.4 495.0,132.1 496.0,135.2 497.0,139.0 498.0,143.5 499.0,148.1 500.0,152.5 501.0,156.4 502.0,158.9 503.0,161.2 504.0,163.4 505.0,165.6 506.0,167.7 507.0,169.7 508.0,171.4 509.0,172.9 510.0,174.2 511.0,175.5 512.0,176.7 513.0,177.9 514.0,178.9 515.0,179.8 516.0,180.7 517.0,181.5 518.0,182.2 519.0,182.9 520.0,183.5 521.0,184.1 522.0,184.6 523.0,185.0 524.0,185.3 525.0,185.7 526.0,186.0 527.0,186.2 528.0,186.4 529.0,186.5 530.0,186.6 531.0,186.7 532.0,186.8 533.0,186.9 534.0,186.9" stroke="#1c78e8"/>
<path d="M319.0,210.1 320.0,210.1 321.0,210.1 322.0,210.1 323.0,210.0 324.0,210.0 325.0,209.8 326.0,209.6 327.0,209.3 328.0,209.0 329.0,208.6 330.0,208.2 331.0,207.8 332.0,207.3 333.0,206.9 334.0,206.4 335.0,206.0 336.0,205.5 337.0,205.1 338.0,204.6 339.0,204.2 340.0,203.8 341.0,203.5 342.0,203.2 343.0,202.9 344.0,202.6 345.0,202.3 346.0,202.1 347.0,201.8 348.0,201.6 349.0,201.4 350.0,201.3 351.0,201.2 352.0,201.1 353.0,201.0 354.0,200.9 355.0,200.8 356.0,200.6 357.0,200.5 358.0,200.4 359.0,200.3 360.0,200.2 361.0,200.1 362.0,200.0 363.0,200.0 364.0,200.0 365.0,200.0 366.0,200.0 367.0,199.9 368.0,199.9 369.0,199.8 370.0,199.7 371.0,199.6 372.0,199.5 373.0,199.3 374.0,199.2 375.0,199.0 376.0,198.9 377.0,198.7 378.0,198.5 379.0,198.2 380.0,198.0 381.0,197.7 382.0,197.5 383.0,197.2 384.0,196.9 385.0,196.7 386.0,196.4 387.0,196.2 388.0,195.9 389.0,195.6 390.0,195.4 391.0,195.1 392.0,194.8 393.0,194.6 394.0,194.3 395.0,194.0 396.0,193.7 397.0,193.5 398.0,193.2 399.0,192.9 400.0,192.6 401.0,192.3 402.0,192.1 403.0,191.8 404.0,191.5 405.0,191.2 406.0,190.9 407.0,190.6 408.0,190.2 409.0,189.7 410.0,189.2 411.0,188.5 412.0,187.8 413.0,187.0 414.0,186.2 415.0,185.4 416.0,184.4 417.0,183.3 418.0,182.1 419.0,180.5 420.0,178.4 421.0,175.9 422.0,173.2 423.0,170.5 424.0,167.7 425.0,164.7 426.0,161.6 427.0,157.9 428.0,153.6 429.0,148.9 430.0,144.9 431.0,141.1 432.0,137.2 433.0,133.2 434.0,129.1 435.0,124.7 436.0,120.1 437.0,115.2 438.0,110.5 439.0,106.1 440.0,102.0 441.0,98.7 442.0,95.9 443.0,94.1 444.0,93.1 445.0,93.1 446.0,93.7 447.0,94.8 448.0,96.6 449.0,99.2 450.0,102.1 451.0,105.3 452.0,108.9 453.0,112.5 454.0,116.1 455.0,119.7 456.0,123.2 457.0,126.5 458.0,129.5 459.0,132.0 460.0,134.0 461.0,135.8 462.0,137.1 463.0,137.7 464.0,137.7 465.0,137.1 466.0,135.8 467.0,134.0 468.0,131.9 469.0,129.2 470.0,126.1 471.0,123.0 472.0,120.1 473.0,117.3 474.0,114.7 475.0,112.3 476.0,110.3 477.0,108.9 478.0,107.6 479.0,106.6 480.0,105.9 481.0,105.6 482.0,106.0 483.0,107.2 484.0,108.8 485.0,110.6 486.0,112.7 487.0,115.2 488.0,117.7 489.0,120.4 490.0,123.1 491.0,125.9 492.0,128.5 493.0,131.1 494.0,134.0 495.0,137.6 496.0,141.9 497.0,146.6 498.0,151.1 499.0,155.3 500.0,158.2 501.0,160.4 502.0,162.7 503.0,164.9 504.0,167.1 505.0,169.1 506.0,170.9 507.0,172.5 508.0,174.0 509.0,175.3 510.0,176.5 511.0,177.7 512.0,178.8 513.0,179.8 514.0,180.6 515.0,181.4 516.0,182.2 517.0,182.9 518.0,183.6 519.0,184.1 520.0,184.6 521.0,185.0 522.0,185.4 523.0,185.7 524.0,186.1 525.0,186.3 526.0,186.5 527.0,186.7 528.0,186.8 529.0,186.8 530.0,186.9 531.0,187.0 532.0,187.1 533.0,187.2 534.0,187.3" stroke="#ff38c8"/>
<path d="M319.0,219.7 320.0,219.8 321.0,220.0 322.0,220.2 323.0,220.5 324.0,220.6 325.0,220.7 326.0,220.6 327.0,220.4 328.0,220.0 329.0,219.6 330.0,219.1 331.0,218.5 332.0,217.9 333.0,217.2 334.0,216.5 335.0,215.6 336.0,214.7 337.0,213.8 338.0,212.8 339.0,211.8 340.0,210.9 341.0,210.0 342.0,209.1 343.0,208.3 344.0,207.5 345.0,206.7 346.0,206.0 347.0,205.4 348.0,204.8 349.0,204.3 350.0,203.7 351.0,203.2 352.0,202.7 353.0,202.2 354.0,201.8 355.0,201.3 356.0,200.9 357.0,200.6 358.0,200.2 359.0,199.8 360.0,199.5 361.0,199.1 362.0,198.6 363.0,198.2 364.0,197.8 365.0,197.3 366.0,196.8 367.0,196.3 368.0,195.7 369.0,195.1 370.0,194.4 371.0,193.7 372.0,192.8 373.0,191.8 374.0,190.8 375.0,189.8 376.0,188.7 377.0,187.5 378.0,186.3 379.0,184.9 380.0,183.2 381.0,181.3 382.0,179.2 383.0,176.7 384.0,173.6 385.0,169.9 386.0,166.1 387.0,162.4 388.0,158.7 389.0,155.0 390.0,151.3 391.0,147.3 392.0,143.3 393.0,139.2 394.0,135.1 395.0,131.1 396.0,126.9 397.0,122.0 398.0,117.2 399.0,113.2 400.0,109.8 401.0,106.9 402.0,104.6 403.0,102.8 404.0,101.6 405.0,100.9 406.0,100.7 407.0,101.1 408.0,102.0 409.0,103.3 410.0,105.3 411.0,107.8 412.0,111.1 413.0,115.2 414.0,119.9 415.0,125.7 416.0,129.9 417.0,133.3 418.0,136.6 419.0,139.7 420.0,142.8 421.0,145.8 422.0,148.9 423.0,152.1 424.0,155.5 425.0,158.9 426.0,162.2 427.0,165.3 428.0,168.0 429.0,170.5 430.0,172.7 431.0,174.6 432.0,176.3 433.0,177.7 434.0,179.0 435.0,180.1 436.0,181.1 437.0,182.1 438.0,182.9 439.0,183.7 440.0,184.3 441.0,184.8 442.0,185.2 443.0,185.5 444.0,185.7 445.0,185.8 446.0,185.9 447.0,185.9 448.0,185.7 449.0,185.5 450.0,185.2 451.0,184.7 452.0,184.2 453.0,183.5 454.0,182.6 455.0,181.5 456.0,180.2 457.0,178.6 458.0,176.8 459.0,174.9 460.0,172.9 461.0,170.7 462.0,168.5 463.0,166.3 464.0,164.0 465.0,161.5 466.0,158.8 467.0,156.0 468.0,153.1 469.0,149.7 470.0,145.9 471.0,142.1 472.0,138.2 473.0,134.2 474.0,130.2 475.0,125.8 476.0,121.5 477.0,118.0 478.0,115.0 479.0,112.3 480.0,110.1 481.0,108.8 482.0,108.3 483.0,108.2 484.0,108.3 485.0,109.0 486.0,110.4 487.0,112.4 488.0,114.8 489.0,117.3 490.0,119.8 491.0,122.5 492.0,125.2 493.0,127.9 494.0,130.4 495.0,133.1 496.0,136.2 497.0,140.0 498.0,144.6 499.0,149.2 500.0,153.6 501.0,157.3 502.0,159.7 503.0,162.0 504.0,164.3 505.0,166.6 506.0,168.6 507.0,170.3 508.0,171.6 509.0,172.8 510.0,173.9 511.0,175.1 512.0,176.3 513.0,177.4 514.0,178.5 515.0,179.6 516.0,180.5 517.0,181.3 518.0,182.1 519.0,182.8 520.0,183.4 521.0,183.9 522.0,184.3 523.0,184.6 524.0,185.0 525.0,185.3 526.0,185.6 527.0,185.8 528.0,185.9 529.0,186.0 530.0,186.1 531.0,186.1 532.0,186.2 533.0,186.2 534.0,186.3" stroke="#18d838"/>
<path d="M319.0,221.3 320.0,221.1 321.0,220.9 322.0,220.8 323.0,220.8 324.0,220.7 325.0,220.5 326.0,220.3 327.0,219.9 328.0,219.6 329.0,219.1 330.0,218.7 331.0,218.2 332.0,217.7 333.0,217.2 334.0,216.6 335.0,216.0 336.0,215.3 337.0,214.5 338.0,213.8 339.0,213.0 340.0,212.2 341.0,211.5 342.0,210.7 343.0,209.9 344.0,209.1 345.0,208.3 346.0,207.6 347.0,206.9 348.0,206.2 349.0,205.5 350.0,204.8 351.0,204.1 352.0,203.5 353.0,202.8 354.0,202.1 355.0,201.5 356.0,201.0 357.0,200.5 358.0,200.0 359.0,199.6 360.0,199.2 361.0,198.8 362.0,198.5 363.0,198.2 364.0,197.9 365.0,197.6 366.0,197.3 367.0,197.0 368.0,196.7 369.0,196.4 370.0,196.0 371.0,195.5 372.0,194.9 373.0,194.2 374.0,193.5 375.0,192.6 376.0,191.7 377.0,190.6 378.0,189.5 379.0,188.1 380.0,186.5 381.0,184.6 382.0,182.5 383.0,179.9 384.0,176.8 385.0,173.1 386.0,169.5 387.0,165.9 388.0,162.3 389.0,158.7 390.0,155.0 391.0,151.1 392.0,147.2 393.0,143.2 394.0,139.3 395.0,135.4 396.0,131.4 397.0,126.6 398.0,122.3 399.0,118.6 400.0,115.5 401.0,112.9 402.0,110.8 403.0,109.2 404.0,108.2 405.0,107.6 406.0,107.6 407.0,108.1 408.0,109.0 409.0,110.4 410.0,112.3 411.0,114.8 412.0,118.1 413.0,121.9 414.0,126.6 415.0,131.9 416.0,135.4 417.0,138.5 418.0,141.4 419.0,144.3 420.0,147.0 421.0,149.7 422.0,152.5 423.0,155.4 424.0,158.4 425.0,161.5 426.0,164.5 427.0,167.2 428.0,169.6 429.0,171.8 430.0,173.8 431.0,175.5 432.0,177.0 433.0,178.3 434.0,179.5 435.0,180.5 436.0,181.4 437.0,182.3 438.0,183.2 439.0,183.9 440.0,184.5 441.0,185.0 442.0,185.4 443.0,185.8 444.0,186.0 445.0,186.2 446.0,186.4 447.0,186.4 448.0,186.4 449.0,186.2 450.0,186.0 451.0,185.6 452.0,185.1 453.0,184.4 454.0,183.6 455.0,182.5 456.0,181.2 457.0,179.6 458.0,177.8 459.0,175.9 460.0,173.9 461.0,171.8 462.0,169.7 463.0,167.5 464.0,165.3 465.0,162.8 466.0,160.3 467.0,157.5 468.0,154.7 469.0,151.5 470.0,147.9 471.0,144.2 472.0,140.6 473.0,137.0 474.0,133.2 475.0,129.1 476.0,125.3 477.0,122.2 478.0,119.6 479.0,117.2 480.0,115.5 481.0,114.6 482.0,114.3 483.0,114.4 484.0,114.6 485.0,115.5 486.0,117.1 487.0,119.1 488.0,121.5 489.0,123.9 490.0,126.3 491.0,128.9 492.0,131.4 493.0,133.9 494.0,136.3 495.0,138.8 496.0,141.8 497.0,145.4 498.0,149.6 499.0,153.8 500.0,157.7 501.0,160.8 502.0,162.9 503.0,164.9 504.0,166.9 505.0,168.9 506.0,170.6 507.0,172.0 508.0,173.1 509.0,174.1 510.0,175.0 511.0,176.0 512.0,177.1 513.0,178.1 514.0,179.1 515.0,180.0 516.0,180.9 517.0,181.7 518.0,182.4 519.0,183.0 520.0,183.6 521.0,184.2 522.0,184.6 523.0,185.0 524.0,185.4 525.0,185.8 526.0,186.1 527.0,186.4 528.0,186.6 529.0,186.7 530.0,186.8 531.0,186.9 532.0,187.0 533.0,187.1 534.0,187.2" stroke="#2ade4a"/>
<path d="M319.0,210.8 320.0,210.8 321.0,210.9 322.0,211.0 323.0,211.1 324.0,211.2 325.0,211.2 326.0,211.1 327.0,210.9 328.0,210.7 329.0,210.4 330.0,210.1 331.0,209.7 332.0,209.3 333.0,208.8 334.0,208.3 335.0,207.9 336.0,207.3 337.0,206.8 338.0,206.2 339.0,205.7 340.0,205.2 341.0,204.8 342.0,204.4 343.0,204.0 344.0,203.6 345.0,203.3 346.0,203.0 347.0,202.6 348.0,202.4 349.0,202.1 350.0,201.9 351.0,201.7 352.0,201.6 353.0,201.5 354.0,201.4 355.0,201.3 356.0,201.3 357.0,201.2 358.0,201.1 359.0,201.0 360.0,200.9 361.0,200.9 362.0,200.9 363.0,200.9 364.0,200.9 365.0,200.9 366.0,200.9 367.0,200.9 368.0,200.9 369.0,200.9 370.0,200.8 371.0,200.7 372.0,200.6 373.0,200.5 374.0,200.3 375.0,200.2 376.0,200.0 377.0,199.8 378.0,199.6 379.0,199.4 380.0,199.2 381.0,198.9 382.0,198.6 383.0,198.2 384.0,197.9 385.0,197.6 386.0,197.2 387.0,196.9 388.0,196.6 389.0,196.3 390.0,196.0 391.0,195.7 392.0,195.5 393.0,195.2 394.0,195.0 395.0,194.7 396.0,194.4 397.0,194.2 398.0,193.9 399.0,193.6 400.0,193.4 401.0,193.1 402.0,192.8 403.0,192.6 404.0,192.3 405.0,192.0 406.0,191.8 407.0,191.5 408.0,191.1 409.0,190.7 410.0,190.2 411.0,189.7 412.0,189.1 413.0,188.4 414.0,187.6 415.0,186.8 416.0,185.9 417.0,184.9 418.0,183.8 419.0,182.8 420.0,181.5 421.0,179.4 422.0,176.9 423.0,174.3 424.0,171.8 425.0,169.2 426.0,166.6 427.0,163.7 428.0,160.1 429.0,155.8 430.0,151.4 431.0,148.0 432.0,144.9 433.0,141.8 434.0,138.4 435.0,134.9 436.0,131.3 437.0,127.3 438.0,123.1 439.0,119.3 440.0,115.8 441.0,112.8 442.0,110.4 443.0,108.6 444.0,107.4 445.0,106.9 446.0,107.1 447.0,107.8 448.0,109.0 449.0,110.7 450.0,112.8 451.0,115.1 452.0,117.7 453.0,120.4 454.0,123.5 455.0,126.7 456.0,129.8 457.0,132.3 458.0,134.4 459.0,136.2 460.0,137.9 461.0,139.5 462.0,140.8 463.0,141.7 464.0,142.1 465.0,141.7 466.0,140.8 467.0,139.4 468.0,137.8 469.0,135.9 470.0,133.7 471.0,131.4 472.0,129.2 473.0,127.1 474.0,125.2 475.0,123.4 476.0,121.7 477.0,120.1 478.0,118.9 479.0,117.9 480.0,117.2 481.0,116.7 482.0,116.5 483.0,116.4 484.0,116.5 485.0,117.3 486.0,118.8 487.0,120.8 488.0,123.0 489.0,125.3 490.0,127.7 491.0,130.1 492.0,132.6 493.0,135.0 494.0,137.3 495.0,139.8 496.0,142.9 497.0,146.6 498.0,150.8 499.0,154.8 500.0,158.7 501.0,161.6 502.0,163.7 503.0,165.7 504.0,167.8 505.0,169.8 506.0,171.5 507.0,173.0 508.0,174.2 509.0,175.3 510.0,176.3 511.0,177.4 512.0,178.4 513.0,179.4 514.0,180.4 515.0,181.2 516.0,182.0 517.0,182.7 518.0,183.3 519.0,183.9 520.0,184.4 521.0,184.8 522.0,185.2 523.0,185.5 524.0,185.8 525.0,186.0 526.0,186.3 527.0,186.4 528.0,186.5 529.0,186.6 530.0,186.7 531.0,186.7 532.0,186.8 533.0,186.8 534.0,186.9" stroke="#f83060"/>
<path d="M319.0,220.0 320.0,220.2 321.0,220.4 322.0,220.7 323.0,220.9 324.0,221.0 325.0,221.0 326.0,220.8 327.0,220.5 328.0,220.1 329.0,219.6 330.0,218.9 331.0,218.2 332.0,217.5 333.0,216.7 334.0,215.8 335.0,214.8 336.0,213.8 337.0,212.8 338.0,211.7 339.0,210.7 340.0,209.7 341.0,208.8 342.0,207.9 343.0,207.1 344.0,206.3 345.0,205.6 346.0,205.0 347.0,204.5 348.0,204.1 349.0,203.7 350.0,203.3 351.0,203.0 352.0,202.7 353.0,202.4 354.0,202.1 355.0,201.8 356.0,201.5 357.0,201.3 358.0,201.0 359.0,200.8 360.0,200.5 361.0,200.1 362.0,199.7 363.0,199.3 364.0,198.8 365.0,198.3 366.0,197.8 367.0,197.3 368.0,196.7 369.0,196.0 370.0,195.3 371.0,194.5 372.0,193.7 373.0,192.7 374.0,191.7 375.0,190.7 376.0,189.6 377.0,188.4 378.0,187.3 379.0,186.0 380.0,184.5 381.0,182.7 382.0,180.8 383.0,178.5 384.0,175.7 385.0,172.4 386.0,169.0 387.0,165.6 388.0,162.2 389.0,158.9 390.0,155.5 391.0,151.9 392.0,148.2 393.0,144.4 394.0,140.7 395.0,137.0 396.0,133.3 397.0,128.8 398.0,124.3 399.0,120.6 400.0,117.4 401.0,114.6 402.0,112.4 403.0,110.6 404.0,109.4 405.0,108.6 406.0,108.3 407.0,108.5 408.0,109.2 409.0,110.4 410.0,112.0 411.0,114.1 412.0,117.0 413.0,120.5 414.0,124.7 415.0,129.9 416.0,133.8 417.0,136.9 418.0,139.8 419.0,142.6 420.0,145.4 421.0,148.1 422.0,150.8 423.0,153.7 424.0,156.8 425.0,159.9 426.0,163.0 427.0,165.9 428.0,168.5 429.0,170.9 430.0,173.0 431.0,174.9 432.0,176.6 433.0,178.1 434.0,179.3 435.0,180.4 436.0,181.4 437.0,182.4 438.0,183.2 439.0,184.0 440.0,184.6 441.0,185.1 442.0,185.4 443.0,185.7 444.0,185.9 445.0,186.0 446.0,186.0 447.0,186.0 448.0,185.8 449.0,185.6 450.0,185.2 451.0,184.7 452.0,184.2 453.0,183.5 454.0,182.6 455.0,181.5 456.0,180.2 457.0,178.7 458.0,177.0 459.0,175.1 460.0,173.1 461.0,171.1 462.0,169.0 463.0,166.8 464.0,164.6 465.0,162.3 466.0,159.7 467.0,157.0 468.0,154.2 469.0,151.1 470.0,147.5 471.0,143.8 472.0,140.1 473.0,136.3 474.0,132.5 475.0,128.2 476.0,124.0 477.0,120.5 478.0,117.6 479.0,115.0 480.0,112.8 481.0,111.4 482.0,110.9 483.0,110.7 484.0,110.7 485.0,111.3 486.0,112.6 487.0,114.4 488.0,116.7 489.0,119.1 490.0,121.5 491.0,124.1 492.0,126.7 493.0,129.3 494.0,131.8 495.0,134.3 496.0,137.3 497.0,141.0 498.0,145.3 499.0,149.8 500.0,154.1 501.0,157.9 502.0,160.4 503.0,162.6 504.0,164.9 505.0,167.1 506.0,169.2 507.0,170.8 508.0,172.2 509.0,173.4 510.0,174.5 511.0,175.6 512.0,176.7 513.0,177.8 514.0,178.9 515.0,179.9 516.0,180.8 517.0,181.6 518.0,182.3 519.0,182.9 520.0,183.4 521.0,183.9 522.0,184.2 523.0,184.6 524.0,184.9 525.0,185.1 526.0,185.4 527.0,185.6 528.0,185.7 529.0,185.7 530.0,185.8 531.0,185.9 532.0,185.9 533.0,186.0 534.0,186.1" stroke="#2ade4a"/>
<path d="M319.0,220.5 320.0,220.5 321.0,220.5 322.0,220.5 323.0,220.5 324.0,220.5 325.0,220.4 326.0,220.2 327.0,219.9 328.0,219.5 329.0,219.1 330.0,218.7 331.0,218.1 332.0,217.6 333.0,217.0 334.0,216.3 335.0,215.6 336.0,214.8 337.0,214.0 338.0,213.2 339.0,212.5 340.0,211.8 341.0,211.1 342.0,210.5 343.0,209.9 344.0,209.3 345.0,208.7 346.0,208.2 347.0,207.7 348.0,207.2 349.0,206.7 350.0,206.4 351.0,206.0 352.0,205.7 353.0,205.3 354.0,205.0 355.0,204.6 356.0,204.3 357.0,203.9 358.0,203.6 359.0,203.2 360.0,202.8 361.0,202.5 362.0,202.2 363.0,202.0 364.0,201.7 365.0,201.4 366.0,201.0 367.0,200.6 368.0,200.2 369.0,199.7 370.0,199.3 371.0,198.9 372.0,198.4 373.0,198.0 374.0,197.5 375.0,197.1 376.0,196.6 377.0,196.0 378.0,195.3 379.0,194.4 380.0,193.5 381.0,192.5 382.0,191.3 383.0,189.9 384.0,188.4 385.0,186.7 386.0,184.9 387.0,182.9 388.0,180.7 389.0,178.5 390.0,176.2 391.0,173.5 392.0,170.7 393.0,167.8 394.0,164.8 395.0,161.7 396.0,158.6 397.0,155.6 398.0,153.0 399.0,150.7 400.0,148.6 401.0,146.7 402.0,145.2 403.0,144.2 404.0,143.7 405.0,144.0 406.0,144.6 407.0,145.4 408.0,146.4 409.0,147.6 410.0,149.1 411.0,150.8 412.0,152.5 413.0,154.2 414.0,155.9 415.0,157.6 416.0,159.3 417.0,160.8 418.0,162.3 419.0,163.8 420.0,165.2 421.0,166.6 422.0,167.8 423.0,168.8 424.0,169.6 425.0,170.3 426.0,170.6 427.0,170.5 428.0,169.9 429.0,168.9 430.0,167.6 431.0,166.0 432.0,164.0 433.0,161.8 434.0,159.6 435.0,157.2 436.0,154.8 437.0,152.4 438.0,150.0 439.0,147.7 440.0,145.5 441.0,143.3 442.0,141.4 443.0,140.0 444.0,138.8 445.0,138.2 446.0,138.0 447.0,138.1 448.0,138.5 449.0,139.2 450.0,140.2 451.0,141.3 452.0,142.5 453.0,144.0 454.0,145.4 455.0,146.8 456.0,148.0 457.0,149.1 458.0,150.1 459.0,150.8 460.0,151.2 461.0,151.3 462.0,150.8 463.0,149.9 464.0,148.6 465.0,146.7 466.0,144.4 467.0,141.8 468.0,138.9 469.0,135.7 470.0,132.1 471.0,128.0 472.0,123.6 473.0,119.5 474.0,115.6 475.0,112.0 476.0,109.1 477.0,106.7 478.0,104.6 479.0,102.9 480.0,101.5 481.0,100.6 482.0,100.2 483.0,100.5 484.0,101.5 485.0,103.1 486.0,105.1 487.0,107.5 488.0,110.2 489.0,113.0 490.0,115.8 491.0,118.8 492.0,121.8 493.0,124.6 494.0,127.4 495.0,130.6 496.0,134.5 497.0,139.3 498.0,144.4 499.0,149.2 500.0,153.6 501.0,156.5 502.0,159.0 503.0,161.4 504.0,163.8 505.0,166.1 506.0,168.3 507.0,170.2 508.0,171.8 509.0,173.3 510.0,174.7 511.0,176.1 512.0,177.3 513.0,178.4 514.0,179.5 515.0,180.4 516.0,181.2 517.0,182.0 518.0,182.8 519.0,183.4 520.0,184.0 521.0,184.5 522.0,184.9 523.0,185.3 524.0,185.7 525.0,186.0 526.0,186.3 527.0,186.5 528.0,186.7 529.0,186.8 530.0,186.9 531.0,187.0 532.0,187.1 533.0,187.2 534.0,187.3" stroke="#28b0b0"/>
<path d="M319.0,215.2 320.0,215.3 321.0,215.4 322.0,215.6 323.0,215.8 324.0,216.1 325.0,216.2 326.0,216.3 327.0,216.3 328.0,216.2 329.0,216.0 330.0,215.7 331.0,215.4 332.0,215.0 333.0,214.7 334.0,214.2 335.0,213.7 336.0,213.1 337.0,212.5 338.0,211.8 339.0,211.1 340.0,210.5 341.0,209.8 342.0,209.2 343.0,208.5 344.0,207.9 345.0,207.3 346.0,206.8 347.0,206.3 348.0,205.8 349.0,205.4 350.0,204.9 351.0,204.5 352.0,204.0 353.0,203.6 354.0,203.2 355.0,202.7 356.0,202.3 357.0,202.0 358.0,201.6 359.0,201.2 360.0,200.8 361.0,200.4 362.0,200.0 363.0,199.5 364.0,199.1 365.0,198.5 366.0,198.0 367.0,197.5 368.0,196.9 369.0,196.2 370.0,195.5 371.0,194.8 372.0,193.9 373.0,193.0 374.0,191.9 375.0,190.9 376.0,189.7 377.0,188.5 378.0,187.2 379.0,185.9 380.0,184.3 381.0,182.5 382.0,180.4 383.0,178.1 384.0,175.3 385.0,171.9 386.0,168.3 387.0,164.7 388.0,161.1 389.0,157.6 390.0,154.1 391.0,150.4 392.0,146.6 393.0,142.7 394.0,138.9 395.0,135.1 396.0,131.3 397.0,126.9 398.0,122.2 399.0,118.3 400.0,114.9 401.0,112.1 402.0,109.7 403.0,107.9 404.0,106.6 405.0,105.8 406.0,105.5 407.0,105.8 408.0,106.5 409.0,107.6 410.0,109.3 411.0,111.5 412.0,114.4 413.0,117.9 414.0,122.1 415.0,127.4 416.0,131.9 417.0,135.2 418.0,138.3 419.0,141.2 420.0,144.0 421.0,146.8 422.0,149.6 423.0,152.5 424.0,155.6 425.0,158.7 426.0,161.9 427.0,164.8 428.0,167.5 429.0,169.9 430.0,172.1 431.0,174.0 432.0,175.7 433.0,177.2 434.0,178.5 435.0,179.6 436.0,180.6 437.0,181.6 438.0,182.4 439.0,183.2 440.0,183.9 441.0,184.4 442.0,184.8 443.0,185.2 444.0,185.4 445.0,185.6 446.0,185.7 447.0,185.7 448.0,185.7 449.0,185.5 450.0,185.2 451.0,184.8 452.0,184.3 453.0,183.6 454.0,182.8 455.0,181.8 456.0,180.6 457.0,179.1 458.0,177.3 459.0,175.4 460.0,173.4 461.0,171.3 462.0,169.1 463.0,166.8 464.0,164.5 465.0,162.1 466.0,159.4 467.0,156.6 468.0,153.7 469.0,150.5 470.0,146.7 471.0,142.8 472.0,138.9 473.0,134.9 474.0,131.0 475.0,126.6 476.0,122.1 477.0,118.3 478.0,115.1 479.0,112.3 480.0,109.9 481.0,108.3 482.0,107.6 483.0,107.4 484.0,107.3 485.0,107.8 486.0,109.0 487.0,110.8 488.0,113.1 489.0,115.5 490.0,118.1 491.0,120.7 492.0,123.4 493.0,126.1 494.0,128.7 495.0,131.2 496.0,134.1 497.0,137.6 498.0,142.0 499.0,146.6 500.0,151.0 501.0,155.1 502.0,157.9 503.0,160.1 504.0,162.4 505.0,164.7 506.0,166.8 507.0,168.6 508.0,170.1 509.0,171.3 510.0,172.4 511.0,173.6 512.0,174.8 513.0,176.0 514.0,177.2 515.0,178.3 516.0,179.4 517.0,180.3 518.0,181.2 519.0,181.9 520.0,182.6 521.0,183.2 522.0,183.8 523.0,184.2 524.0,184.7 525.0,185.1 526.0,185.4 527.0,185.7 528.0,186.0 529.0,186.1 530.0,186.2 531.0,186.3 532.0,186.4 533.0,186.5 534.0,186.6" stroke="#18d838"/>
<path d="M319.0,219.7 320.0,219.8 321.0,219.9 322.0,220.1 323.0,220.2 324.0,220.4 325.0,220.4 326.0,220.4 327.0,220.2 328.0,220.0 329.0,219.7 330.0,219.3 331.0,218.9 332.0,218.4 333.0,217.8 334.0,217.2 335.0,216.5 336.0,215.7 337.0,215.0 338.0,214.1 339.0,213.3 340.0,212.6 341.0,211.8 342.0,211.1 343.0,210.5 344.0,209.8 345.0,209.2 346.0,208.6 347.0,208.0 348.0,207.5 349.0,207.0 350.0,206.6 351.0,206.2 352.0,205.8 353.0,205.5 354.0,205.2 355.0,204.8 356.0,204.5 357.0,204.2 358.0,203.8 359.0,203.5 360.0,203.1 361.0,202.8 362.0,202.5 363.0,202.2 364.0,202.0 365.0,201.7 366.0,201.4 367.0,201.0 368.0,200.6 369.0,200.2 370.0,199.7 371.0,199.3 372.0,198.8 373.0,198.3 374.0,197.9 375.0,197.4 376.0,196.9 377.0,196.4 378.0,195.7 379.0,194.9 380.0,193.9 381.0,192.9 382.0,191.8 383.0,190.5 384.0,189.0 385.0,187.3 386.0,185.4 387.0,183.4 388.0,181.2 389.0,178.9 390.0,176.6 391.0,174.0 392.0,171.1 393.0,168.0 394.0,164.9 395.0,161.7 396.0,158.4 397.0,155.0 398.0,151.9 399.0,149.1 400.0,146.7 401.0,144.4 402.0,142.5 403.0,140.9 404.0,139.8 405.0,139.5 406.0,139.8 407.0,140.5 408.0,141.5 409.0,142.5 410.0,143.8 411.0,145.5 412.0,147.3 413.0,149.1 414.0,151.0 415.0,152.8 416.0,154.6 417.0,156.4 418.0,158.1 419.0,159.7 420.0,161.3 421.0,162.9 422.0,164.3 423.0,165.7 424.0,166.7 425.0,167.6 426.0,168.3 427.0,168.6 428.0,168.5 429.0,167.8 430.0,166.6 431.0,165.2 432.0,163.5 433.0,161.4 434.0,159.0 435.0,156.6 436.0,154.1 437.0,151.5 438.0,148.9 439.0,146.4 440.0,143.9 441.0,141.5 442.0,139.2 443.0,137.3 444.0,135.8 445.0,134.7 446.0,134.1 447.0,133.9 448.0,134.1 449.0,134.6 450.0,135.5 451.0,136.5 452.0,137.7 453.0,139.1 454.0,140.7 455.0,142.4 456.0,143.9 457.0,145.2 458.0,146.4 459.0,147.5 460.0,148.2 461.0,148.6 462.0,148.7 463.0,148.2 464.0,147.3 465.0,145.8 466.0,143.9 467.0,141.5 468.0,138.8 469.0,135.7 470.0,132.4 471.0,128.7 472.0,124.4 473.0,119.9 474.0,115.7 475.0,111.7 476.0,108.2 477.0,105.2 478.0,102.9 479.0,100.8 480.0,99.1 481.0,97.7 482.0,96.8 483.0,96.6 484.0,97.0 485.0,98.2 486.0,99.9 487.0,102.0 488.0,104.6 489.0,107.4 490.0,110.3 491.0,113.3 492.0,116.4 493.0,119.5 494.0,122.4 495.0,125.3 496.0,128.8 497.0,133.0 498.0,138.0 499.0,143.3 500.0,148.3 501.0,152.7 502.0,155.6 503.0,158.2 504.0,160.7 505.0,163.2 506.0,165.7 507.0,167.9 508.0,169.9 509.0,171.6 510.0,173.2 511.0,174.6 512.0,176.0 513.0,177.3 514.0,178.5 515.0,179.5 516.0,180.5 517.0,181.4 518.0,182.2 519.0,183.0 520.0,183.6 521.0,184.2 522.0,184.7 523.0,185.2 524.0,185.5 525.0,185.9 526.0,186.2 527.0,186.5 528.0,186.7 529.0,186.8 530.0,186.9 531.0,187.0 532.0,187.1 533.0,187.1 534.0,187.2" stroke="#2a84f0"/>
<path d="M319.0,210.7 320.0,210.8 321.0,210.9 322.0,211.1 323.0,211.3 324.0,211.5 325.0,211.6 326.0,211.6 327.0,211.5 328.0,211.4 329.0,211.2 330.0,211.0 331.0,210.6 332.0,210.3 333.0,209.9 334.0,209.5 335.0,209.1 336.0,208.6 337.0,208.1 338.0,207.5 339.0,207.0 340.0,206.5 341.0,206.0 342.0,205.6 343.0,205.1 344.0,204.7 345.0,204.3 346.0,203.9 347.0,203.5 348.0,203.1 349.0,202.7 350.0,202.4 351.0,202.1 352.0,201.8 353.0,201.5 354.0,201.3 355.0,201.1 356.0,200.9 357.0,200.7 358.0,200.4 359.0,200.2 360.0,200.0 361.0,199.9 362.0,199.7 363.0,199.6 364.0,199.6 365.0,199.5 366.0,199.5 367.0,199.5 368.0,199.4 369.0,199.4 370.0,199.3 371.0,199.3 372.0,199.2 373.0,199.1 374.0,199.0 375.0,198.9 376.0,198.8 377.0,198.6 378.0,198.5 379.0,198.3 380.0,198.2 381.0,197.9 382.0,197.7 383.0,197.4 384.0,197.2 385.0,196.9 386.0,196.6 387.0,196.3 388.0,196.0 389.0,195.8 390.0,195.5 391.0,195.3 392.0,195.1 393.0,194.9 394.0,194.7 395.0,194.5 396.0,194.3 397.0,194.1 398.0,193.8 399.0,193.6 400.0,193.4 401.0,193.2 402.0,193.0 403.0,192.8 404.0,192.5 405.0,192.3 406.0,192.1 407.0,191.9 408.0,191.6 409.0,191.2 410.0,190.8 411.0,190.4 412.0,189.8 413.0,189.2 414.0,188.5 415.0,187.7 416.0,186.8 417.0,185.9 418.0,184.8 419.0,183.8 420.0,182.7 421.0,181.0 422.0,178.6 423.0,176.0 424.0,173.3 425.0,170.7 426.0,168.1 427.0,165.3 428.0,161.8 429.0,157.9 430.0,153.1 431.0,149.1 432.0,145.8 433.0,142.6 434.0,139.2 435.0,135.6 436.0,131.9 437.0,128.0 438.0,123.7 439.0,119.6 440.0,115.8 441.0,112.3 442.0,109.5 443.0,107.2 444.0,105.6 445.0,104.7 446.0,104.4 447.0,104.8 448.0,105.8 449.0,107.1 450.0,109.0 451.0,111.2 452.0,113.6 453.0,116.1 454.0,118.9 455.0,122.1 456.0,125.2 457.0,128.0 458.0,130.1 459.0,132.0 460.0,133.6 461.0,135.1 462.0,136.4 463.0,137.3 464.0,137.7 465.0,137.4 466.0,136.5 467.0,134.9 468.0,133.0 469.0,130.8 470.0,128.2 471.0,125.4 472.0,122.6 473.0,120.0 474.0,117.6 475.0,115.3 476.0,113.1 477.0,111.1 478.0,109.4 479.0,108.0 480.0,107.0 481.0,106.2 482.0,105.8 483.0,105.6 484.0,105.5 485.0,106.0 486.0,107.4 487.0,109.4 488.0,111.9 489.0,114.5 490.0,117.2 491.0,120.0 492.0,122.8 493.0,125.7 494.0,128.4 495.0,131.1 496.0,134.3 497.0,138.2 498.0,142.8 499.0,147.7 500.0,152.2 501.0,156.3 502.0,159.0 503.0,161.3 504.0,163.7 505.0,166.0 506.0,168.2 507.0,170.0 508.0,171.5 509.0,172.8 510.0,174.0 511.0,175.2 512.0,176.4 513.0,177.6 514.0,178.7 515.0,179.7 516.0,180.7 517.0,181.5 518.0,182.3 519.0,183.0 520.0,183.6 521.0,184.1 522.0,184.5 523.0,184.9 524.0,185.2 525.0,185.6 526.0,185.8 527.0,186.0 528.0,186.2 529.0,186.3 530.0,186.3 531.0,186.4 532.0,186.4 533.0,186.5 534.0,186.5" stroke="#e80c30"/>
<path d="M319.0,221.3 320.0,221.4 321.0,221.4 322.0,221.5 323.0,221.6 324.0,221.6 325.0,221.5 326.0,221.3 327.0,220.9 328.0,220.4 329.0,219.7 330.0,219.0 331.0,218.2 332.0,217.3 333.0,216.4 334.0,215.5 335.0,214.5 336.0,213.5 337.0,212.4 338.0,211.4 339.0,210.4 340.0,209.4 341.0,208.5 342.0,207.7 343.0,206.9 344.0,206.2 345.0,205.6 346.0,205.0 347.0,204.6 348.0,204.2 349.0,203.9 350.0,203.6 351.0,203.3 352.0,203.0 353.0,202.8 354.0,202.5 355.0,202.2 356.0,201.9 357.0,201.6 358.0,201.3 359.0,201.0 360.0,200.7 361.0,200.3 362.0,199.8 363.0,199.3 364.0,198.8 365.0,198.2 366.0,197.7 367.0,197.1 368.0,196.4 369.0,195.7 370.0,195.0 371.0,194.3 372.0,193.5 373.0,192.6 374.0,191.6 375.0,190.7 376.0,189.7 377.0,188.6 378.0,187.5 379.0,186.4 380.0,185.1 381.0,183.6 382.0,181.8 383.0,179.9 384.0,177.5 385.0,174.5 386.0,171.2 387.0,167.8 388.0,164.4 389.0,161.1 390.0,157.7 391.0,154.3 392.0,150.6 393.0,146.9 394.0,143.1 395.0,139.4 396.0,135.6 397.0,131.7 398.0,127.0 399.0,122.7 400.0,119.1 401.0,116.0 402.0,113.4 403.0,111.3 404.0,109.7 405.0,108.6 406.0,108.0 407.0,107.9 408.0,108.2 409.0,109.1 410.0,110.4 411.0,112.2 412.0,114.6 413.0,117.7 414.0,121.5 415.0,126.1 416.0,131.3 417.0,134.7 418.0,137.8 419.0,140.7 420.0,143.5 421.0,146.3 422.0,149.1 423.0,151.9 424.0,154.9 425.0,158.0 426.0,161.2 427.0,164.3 428.0,167.1 429.0,169.7 430.0,172.0 431.0,174.0 432.0,175.8 433.0,177.4 434.0,178.7 435.0,179.9 436.0,180.9 437.0,181.8 438.0,182.7 439.0,183.4 440.0,184.1 441.0,184.6 442.0,185.0 443.0,185.2 444.0,185.4 445.0,185.5 446.0,185.6 447.0,185.5 448.0,185.4 449.0,185.2 450.0,184.9 451.0,184.5 452.0,184.0 453.0,183.4 454.0,182.7 455.0,181.8 456.0,180.7 457.0,179.3 458.0,177.8 459.0,176.0 460.0,174.2 461.0,172.3 462.0,170.3 463.0,168.2 464.0,166.1 465.0,164.0 466.0,161.6 467.0,159.1 468.0,156.4 469.0,153.6 470.0,150.4 471.0,146.8 472.0,143.1 473.0,139.4 474.0,135.7 475.0,131.8 476.0,127.5 477.0,123.6 478.0,120.3 479.0,117.6 480.0,115.1 481.0,113.1 482.0,112.1 483.0,111.8 484.0,111.7 485.0,111.8 486.0,112.7 487.0,114.2 488.0,116.2 489.0,118.5 490.0,120.9 491.0,123.4 492.0,126.0 493.0,128.6 494.0,131.2 495.0,133.7 496.0,136.3 497.0,139.5 498.0,143.4 499.0,147.8 500.0,152.2 501.0,156.4 502.0,159.7 503.0,162.0 504.0,164.1 505.0,166.4 506.0,168.5 507.0,170.4 508.0,171.9 509.0,173.1 510.0,174.1 511.0,175.2 512.0,176.2 513.0,177.3 514.0,178.3 515.0,179.2 516.0,180.1 517.0,180.9 518.0,181.6 519.0,182.2 520.0,182.8 521.0,183.2 522.0,183.6 523.0,183.9 524.0,184.2 525.0,184.5 526.0,184.7 527.0,184.9 528.0,185.1 529.0,185.2 530.0,185.3 531.0,185.4 532.0,185.5 533.0,185.6 534.0,185.7" stroke="#2ade4a"/>
<path d="M319.0,212.1 320.0,212.0 321.0,211.9 322.0,211.9 323.0,212.0 324.0,212.0 325.0,212.0 326.0,212.0 327.0,211.9 328.0,211.8 329.0,211.6 330.0,211.5 331.0,211.2 332.0,211.0 333.0,210.8 334.0,210.5 335.0,210.3 336.0,210.0 337.0,209.7 338.0,209.3 339.0,208.9 340.0,208.6 341.0,208.2 342.0,207.9 343.0,207.6 344.0,207.2 345.0,206.8 346.0,206.4 347.0,206.0 348.0,205.6 349.0,205.1 350.0,204.6 351.0,204.2 352.0,203.8 353.0,203.4 354.0,203.0 355.0,202.6 356.0,202.2 357.0,201.8 358.0,201.5 359.0,201.1 360.0,200.8 361.0,200.5 362.0,200.3 363.0,200.2 364.0,200.1 365.0,200.1 366.0,200.0 367.0,200.1 368.0,200.1 369.0,200.2 370.0,200.2 371.0,200.2 372.0,200.2 373.0,200.2 374.0,200.2 375.0,200.2 376.0,200.2 377.0,200.1 378.0,200.0 379.0,199.9 380.0,199.7 381.0,199.5 382.0,199.2 383.0,198.9 384.0,198.6 385.0,198.2 386.0,197.8 387.0,197.5 388.0,197.1 389.0,196.7 390.0,196.4 391.0,196.1 392.0,195.8 393.0,195.5 394.0,195.2 395.0,194.9 396.0,194.6 397.0,194.3 398.0,194.0 399.0,193.7 400.0,193.5 401.0,193.2 402.0,193.0 403.0,192.7 404.0,192.5 405.0,192.3 406.0,192.1 407.0,191.9 408.0,191.6 409.0,191.3 410.0,191.0 411.0,190.6 412.0,190.1 413.0,189.5 414.0,188.8 415.0,188.1 416.0,187.3 417.0,186.3 418.0,185.4 419.0,184.4 420.0,183.3 421.0,181.6 422.0,179.2 423.0,176.6 424.0,174.0 425.0,171.5 426.0,168.8 427.0,166.1 428.0,162.6 429.0,158.7 430.0,154.0 431.0,150.2 432.0,146.9 433.0,143.8 434.0,140.4 435.0,136.9 436.0,133.3 437.0,129.5 438.0,125.3 439.0,121.3 440.0,117.6 441.0,114.3 442.0,111.6 443.0,109.5 444.0,108.0 445.0,107.2 446.0,107.1 447.0,107.6 448.0,108.6 449.0,110.1 450.0,112.0 451.0,114.3 452.0,116.7 453.0,119.3 454.0,122.1 455.0,125.3 456.0,128.5 457.0,131.2 458.0,133.3 459.0,135.2 460.0,136.8 461.0,138.3 462.0,139.6 463.0,140.5 464.0,140.9 465.0,140.7 466.0,139.8 467.0,138.3 468.0,136.5 469.0,134.4 470.0,131.9 471.0,129.3 472.0,126.7 473.0,124.3 474.0,122.0 475.0,119.9 476.0,117.9 477.0,116.0 478.0,114.5 479.0,113.2 480.0,112.3 481.0,111.7 482.0,111.3 483.0,111.2 484.0,111.1 485.0,111.7 486.0,113.1 487.0,115.0 488.0,117.4 489.0,119.9 490.0,122.5 491.0,125.2 492.0,127.9 493.0,130.6 494.0,133.1 495.0,135.7 496.0,138.7 497.0,142.4 498.0,146.7 499.0,151.2 500.0,155.5 501.0,159.2 502.0,161.6 503.0,163.7 504.0,165.9 505.0,168.1 506.0,170.0 507.0,171.7 508.0,173.0 509.0,174.2 510.0,175.2 511.0,176.3 512.0,177.4 513.0,178.5 514.0,179.5 515.0,180.5 516.0,181.4 517.0,182.2 518.0,182.9 519.0,183.6 520.0,184.2 521.0,184.8 522.0,185.2 523.0,185.6 524.0,186.0 525.0,186.4 526.0,186.7 527.0,186.9 528.0,187.1 529.0,187.3 530.0,187.3 531.0,187.4 532.0,187.5 533.0,187.6 534.0,187.6" stroke="#f83060"/>
<path d="M319.0,214.9 320.0,214.9 321.0,215.0 322.0,215.2 323.0,215.3 324.0,215.5 325.0,215.7 326.0,215.7 327.0,215.8 328.0,215.7 329.0,215.6 330.0,215.4 331.0,215.2 332.0,214.9 333.0,214.6 334.0,214.2 335.0,213.8 336.0,213.2 337.0,212.7 338.0,212.1 339.0,211.5 340.0,210.8 341.0,210.3 342.0,209.7 343.0,209.2 344.0,208.7 345.0,208.1 346.0,207.6 347.0,207.1 348.0,206.6 349.0,206.1 350.0,205.7 351.0,205.3 352.0,204.9 353.0,204.5 354.0,204.2 355.0,203.8 356.0,203.4 357.0,203.0 358.0,202.7 359.0,202.3 360.0,201.9 361.0,201.5 362.0,201.2 363.0,200.9 364.0,200.7 365.0,200.4 366.0,200.2 367.0,199.8 368.0,199.5 369.0,199.1 370.0,198.7 371.0,198.3 372.0,197.9 373.0,197.5 374.0,197.1 375.0,196.6 376.0,196.2 377.0,195.7 378.0,195.2 379.0,194.5 380.0,193.6 381.0,192.7 382.0,191.7 383.0,190.5 384.0,189.1 385.0,187.6 386.0,185.9 387.0,184.0 388.0,182.0 389.0,179.9 390.0,177.7 391.0,175.3 392.0,172.7 393.0,169.9 394.0,166.9 395.0,164.0 396.0,160.9 397.0,157.7 398.0,154.7 399.0,152.0 400.0,149.6 401.0,147.5 402.0,145.5 403.0,144.0 404.0,142.8 405.0,142.3 406.0,142.5 407.0,143.0 408.0,143.9 409.0,144.9 410.0,146.0 411.0,147.5 412.0,149.3 413.0,151.0 414.0,152.8 415.0,154.6 416.0,156.3 417.0,158.1 418.0,159.8 419.0,161.4 420.0,163.0 421.0,164.5 422.0,165.9 423.0,167.3 424.0,168.5 425.0,169.4 426.0,170.1 427.0,170.7 428.0,170.8 429.0,170.4 430.0,169.6 431.0,168.6 432.0,167.3 433.0,165.6 434.0,163.7 435.0,161.8 436.0,159.7 437.0,157.6 438.0,155.4 439.0,153.3 440.0,151.3 441.0,149.3 442.0,147.4 443.0,145.7 444.0,144.3 445.0,143.2 446.0,142.6 447.0,142.4 448.0,142.5 449.0,142.8 450.0,143.5 451.0,144.3 452.0,145.3 453.0,146.4 454.0,147.7 455.0,149.0 456.0,150.3 457.0,151.4 458.0,152.3 459.0,153.2 460.0,153.9 461.0,154.2 462.0,154.3 463.0,153.9 464.0,153.0 465.0,151.8 466.0,150.1 467.0,147.9 468.0,145.5 469.0,142.8 470.0,139.8 471.0,136.5 472.0,132.7 473.0,128.6 474.0,124.6 475.0,120.9 476.0,117.5 477.0,114.6 478.0,112.2 479.0,110.2 480.0,108.5 481.0,107.1 482.0,106.1 483.0,105.6 484.0,105.8 485.0,106.5 486.0,107.9 487.0,109.6 488.0,111.8 489.0,114.2 490.0,116.8 491.0,119.4 492.0,122.1 493.0,124.9 494.0,127.5 495.0,130.1 496.0,133.0 497.0,136.5 498.0,140.8 499.0,145.5 500.0,149.9 501.0,154.2 502.0,157.2 503.0,159.5 504.0,161.8 505.0,164.0 506.0,166.2 507.0,168.3 508.0,170.2 509.0,171.8 510.0,173.2 511.0,174.6 512.0,175.9 513.0,177.1 514.0,178.2 515.0,179.2 516.0,180.2 517.0,181.0 518.0,181.8 519.0,182.6 520.0,183.3 521.0,183.9 522.0,184.4 523.0,184.8 524.0,185.2 525.0,185.6 526.0,186.0 527.0,186.2 528.0,186.5 529.0,186.6 530.0,186.7 531.0,186.8 532.0,186.9 533.0,187.0 534.0,187.0" stroke="#2060c0"/>
<path d="M319.0,209.2 320.0,209.3 321.0,209.5 322.0,209.7 323.0,209.9 324.0,210.0 325.0,210.0 326.0,210.0 327.0,209.9 328.0,209.7 329.0,209.5 330.0,209.2 331.0,208.8 332.0,208.5 333.0,208.0 334.0,207.6 335.0,207.0 336.0,206.5 337.0,205.9 338.0,205.3 339.0,204.7 340.0,204.1 341.0,203.6 342.0,203.1 343.0,202.7 344.0,202.3 345.0,201.8 346.0,201.5 347.0,201.1 348.0,200.8 349.0,200.5 350.0,200.3 351.0,200.2 352.0,200.1 353.0,200.1 354.0,200.1 355.0,200.1 356.0,200.1 357.0,200.1 358.0,200.2 359.0,200.2 360.0,200.3 361.0,200.3 362.0,200.5 363.0,200.6 364.0,200.7 365.0,200.8 366.0,200.8 367.0,200.9 368.0,200.8 369.0,200.8 370.0,200.6 371.0,200.5 372.0,200.3 373.0,200.1 374.0,199.9 375.0,199.6 376.0,199.4 377.0,199.1 378.0,198.8 379.0,198.4 380.0,198.1 381.0,197.7 382.0,197.4 383.0,197.0 384.0,196.6 385.0,196.3 386.0,195.9 387.0,195.6 388.0,195.3 389.0,195.1 390.0,194.9 391.0,194.7 392.0,194.5 393.0,194.3 394.0,194.1 395.0,194.0 396.0,193.8 397.0,193.7 398.0,193.5 399.0,193.3 400.0,193.2 401.0,193.0 402.0,192.8 403.0,192.6 404.0,192.5 405.0,192.3 406.0,192.1 407.0,191.8 408.0,191.4 409.0,191.0 410.0,190.6 411.0,190.0 412.0,189.4 413.0,188.6 414.0,187.8 415.0,186.9 416.0,185.9 417.0,184.9 418.0,183.8 419.0,182.7 420.0,181.0 421.0,178.7 422.0,176.1 423.0,173.5 424.0,171.0 425.0,168.4 426.0,165.7 427.0,162.5 428.0,158.8 429.0,154.3 430.0,150.4 431.0,147.3 432.0,144.3 433.0,141.1 434.0,137.8 435.0,134.3 436.0,130.7 437.0,126.7 438.0,122.7 439.0,119.1 440.0,115.8 441.0,113.1 442.0,110.9 443.0,109.3 444.0,108.4 445.0,108.0 446.0,108.3 447.0,109.1 448.0,110.3 449.0,112.0 450.0,113.9 451.0,116.0 452.0,118.3 453.0,120.8 454.0,123.7 455.0,126.5 456.0,129.0 457.0,130.9 458.0,132.5 459.0,133.8 460.0,135.1 461.0,136.1 462.0,136.8 463.0,137.1 464.0,136.6 465.0,135.5 466.0,133.7 467.0,131.5 468.0,129.1 469.0,126.2 470.0,123.1 471.0,120.1 472.0,117.2 473.0,114.5 474.0,112.0 475.0,109.6 476.0,107.4 477.0,105.5 478.0,104.0 479.0,102.8 480.0,101.9 481.0,101.4 482.0,101.1 483.0,100.9 484.0,101.3 485.0,102.7 486.0,104.7 487.0,107.3 488.0,110.0 489.0,112.8 490.0,115.6 491.0,118.6 492.0,121.5 493.0,124.3 494.0,127.1 495.0,130.3 496.0,134.4 497.0,139.2 498.0,144.2 499.0,149.1 500.0,153.4 501.0,156.3 502.0,158.7 503.0,161.2 504.0,163.6 505.0,165.9 506.0,167.9 507.0,169.5 508.0,170.9 509.0,172.2 510.0,173.5 511.0,174.8 512.0,176.0 513.0,177.2 514.0,178.4 515.0,179.4 516.0,180.4 517.0,181.2 518.0,182.0 519.0,182.6 520.0,183.2 521.0,183.7 522.0,184.1 523.0,184.5 524.0,184.9 525.0,185.2 526.0,185.4 527.0,185.6 528.0,185.7 529.0,185.7 530.0,185.8 531.0,185.9 532.0,185.9 533.0,186.0 534.0,186.1" stroke="#f01038"/>
<path d="M319.0,215.6 320.0,215.9 321.0,216.2 322.0,216.5 323.0,216.8 324.0,217.1 325.0,217.3 326.0,217.4 327.0,217.5 328.0,217.4 329.0,217.3 330.0,217.0 331.0,216.7 332.0,216.4 333.0,215.9 334.0,215.4 335.0,214.8 336.0,214.2 337.0,213.5 338.0,212.7 339.0,212.0 340.0,211.2 341.0,210.6 342.0,209.9 343.0,209.2 344.0,208.6 345.0,208.0 346.0,207.4 347.0,206.8 348.0,206.2 349.0,205.7 350.0,205.2 351.0,204.8 352.0,204.4 353.0,204.0 354.0,203.6 355.0,203.2 356.0,202.8 357.0,202.4 358.0,202.0 359.0,201.6 360.0,201.2 361.0,200.8 362.0,200.4 363.0,200.1 364.0,199.8 365.0,199.5 366.0,199.2 367.0,198.8 368.0,198.3 369.0,197.9 370.0,197.4 371.0,197.0 372.0,196.6 373.0,196.1 374.0,195.7 375.0,195.3 376.0,194.9 377.0,194.4 378.0,193.8 379.0,193.1 380.0,192.3 381.0,191.4 382.0,190.4 383.0,189.2 384.0,187.8 385.0,186.3 386.0,184.6 387.0,182.8 388.0,180.8 389.0,178.8 390.0,176.6 391.0,174.2 392.0,171.5 393.0,168.7 394.0,165.9 395.0,162.9 396.0,159.9 397.0,156.8 398.0,153.9 399.0,151.4 400.0,149.2 401.0,147.2 402.0,145.4 403.0,144.1 404.0,143.2 405.0,143.0 406.0,143.3 407.0,144.0 408.0,144.9 409.0,145.9 410.0,147.1 411.0,148.7 412.0,150.4 413.0,152.1 414.0,153.7 415.0,155.4 416.0,157.0 417.0,158.7 418.0,160.2 419.0,161.6 420.0,163.1 421.0,164.5 422.0,165.8 423.0,166.9 424.0,167.9 425.0,168.6 426.0,169.2 427.0,169.4 428.0,169.2 429.0,168.4 430.0,167.3 431.0,166.0 432.0,164.3 433.0,162.3 434.0,160.1 435.0,157.9 436.0,155.6 437.0,153.2 438.0,150.8 439.0,148.5 440.0,146.3 441.0,144.1 442.0,142.0 443.0,140.3 444.0,139.0 445.0,138.0 446.0,137.5 447.0,137.5 448.0,137.7 449.0,138.1 450.0,138.9 451.0,139.9 452.0,141.0 453.0,142.3 454.0,143.7 455.0,145.1 456.0,146.4 457.0,147.5 458.0,148.5 459.0,149.4 460.0,149.9 461.0,150.1 462.0,149.9 463.0,149.2 464.0,148.0 465.0,146.3 466.0,144.2 467.0,141.6 468.0,138.7 469.0,135.4 470.0,131.9 471.0,127.9 472.0,123.3 473.0,118.7 474.0,114.3 475.0,110.3 476.0,106.6 477.0,103.6 478.0,101.1 479.0,99.0 480.0,97.2 481.0,95.8 482.0,94.8 483.0,94.6 484.0,95.1 485.0,96.3 486.0,98.0 487.0,100.1 488.0,102.7 489.0,105.6 490.0,108.5 491.0,111.5 492.0,114.6 493.0,117.7 494.0,120.6 495.0,123.6 496.0,127.2 497.0,131.6 498.0,136.8 499.0,142.1 500.0,147.1 501.0,151.4 502.0,154.3 503.0,156.9 504.0,159.5 505.0,162.1 506.0,164.5 507.0,166.8 508.0,168.8 509.0,170.6 510.0,172.2 511.0,173.7 512.0,175.2 513.0,176.5 514.0,177.7 515.0,178.9 516.0,179.9 517.0,180.8 518.0,181.7 519.0,182.5 520.0,183.2 521.0,183.8 522.0,184.3 523.0,184.8 524.0,185.2 525.0,185.5 526.0,185.9 527.0,186.1 528.0,186.3 529.0,186.4 530.0,186.5 531.0,186.5 532.0,186.6 533.0,186.7 534.0,186.7" stroke="#283c78"/>
<path d="M319.0,224.3 320.0,224.4 321.0,224.7 322.0,224.9 323.0,225.1 324.0,225.3 325.0,225.4 326.0,225.3 327.0,225.1 328.0,224.7 329.0,224.3 330.0,223.8 331.0,223.2 332.0,222.6 333.0,221.9 334.0,221.1 335.0,220.3 336.0,219.4 337.0,218.4 338.0,217.4 339.0,216.4 340.0,215.5 341.0,214.5 342.0,213.6 343.0,212.7 344.0,211.8 345.0,210.9 346.0,210.2 347.0,209.4 348.0,208.7 349.0,208.0 350.0,207.3 351.0,206.7 352.0,206.0 353.0,205.4 354.0,204.8 355.0,204.2 356.0,203.6 357.0,203.1 358.0,202.5 359.0,202.0 360.0,201.5 361.0,201.0 362.0,200.4 363.0,199.8 364.0,199.3 365.0,198.7 366.0,198.2 367.0,197.5 368.0,196.9 369.0,196.2 370.0,195.5 371.0,194.8 372.0,193.9 373.0,193.0 374.0,192.0 375.0,191.0 376.0,189.8 377.0,188.7 378.0,187.5 379.0,186.1 380.0,184.5 381.0,182.6 382.0,180.5 383.0,178.0 384.0,174.8 385.0,171.1 386.0,167.4 387.0,163.7 388.0,160.0 389.0,156.4 390.0,152.6 391.0,148.6 392.0,144.5 393.0,140.5 394.0,136.4 395.0,132.3 396.0,128.2 397.0,123.2 398.0,118.4 399.0,114.5 400.0,111.0 401.0,108.1 402.0,105.8 403.0,104.0 404.0,102.7 405.0,102.0 406.0,101.9 407.0,102.2 408.0,103.1 409.0,104.5 410.0,106.4 411.0,109.0 412.0,112.3 413.0,116.3 414.0,121.1 415.0,126.9 416.0,131.0 417.0,134.5 418.0,137.7 419.0,140.9 420.0,144.0 421.0,147.0 422.0,150.1 423.0,153.3 424.0,156.7 425.0,160.1 426.0,163.4 427.0,166.4 428.0,169.2 429.0,171.6 430.0,173.8 431.0,175.8 432.0,177.5 433.0,178.9 434.0,180.2 435.0,181.3 436.0,182.3 437.0,183.2 438.0,184.1 439.0,184.8 440.0,185.4 441.0,185.9 442.0,186.3 443.0,186.6 444.0,186.9 445.0,187.0 446.0,187.1 447.0,187.1 448.0,186.9 449.0,186.7 450.0,186.4 451.0,186.0 452.0,185.4 453.0,184.7 454.0,183.8 455.0,182.7 456.0,181.4 457.0,179.8 458.0,178.0 459.0,176.0 460.0,173.9 461.0,171.7 462.0,169.4 463.0,167.1 464.0,164.7 465.0,162.0 466.0,159.2 467.0,156.2 468.0,153.0 469.0,149.4 470.0,145.4 471.0,141.3 472.0,137.1 473.0,132.9 474.0,128.6 475.0,123.8 476.0,119.2 477.0,115.4 478.0,112.2 479.0,109.3 480.0,107.0 481.0,105.6 482.0,105.0 483.0,104.9 484.0,104.9 485.0,105.6 486.0,107.2 487.0,109.2 488.0,111.7 489.0,114.4 490.0,117.1 491.0,119.9 492.0,122.8 493.0,125.6 494.0,128.3 495.0,131.1 496.0,134.4 497.0,138.5 498.0,143.3 499.0,148.2 500.0,152.8 501.0,156.7 502.0,159.4 503.0,161.7 504.0,164.2 505.0,166.6 506.0,168.8 507.0,170.5 508.0,172.0 509.0,173.2 510.0,174.4 511.0,175.7 512.0,176.9 513.0,178.1 514.0,179.3 515.0,180.4 516.0,181.4 517.0,182.3 518.0,183.1 519.0,183.8 520.0,184.4 521.0,185.0 522.0,185.4 523.0,185.8 524.0,186.2 525.0,186.5 526.0,186.8 527.0,187.0 528.0,187.2 529.0,187.3 530.0,187.3 531.0,187.4 532.0,187.5 533.0,187.5 534.0,187.6" stroke="#2ade4a"/>
<path d="M319.0,224.2 320.0,224.3 321.0,224.4 322.0,224.5 323.0,224.6 324.0,224.7 325.0,224.6 326.0,224.4 327.0,224.0 328.0,223.6 329.0,223.0 330.0,222.4 331.0,221.8 332.0,221.1 333.0,220.3 334.0,219.5 335.0,218.7 336.0,217.7 337.0,216.8 338.0,215.9 339.0,214.9 340.0,214.0 341.0,213.2 342.0,212.4 343.0,211.6 344.0,210.8 345.0,210.1 346.0,209.5 347.0,208.9 348.0,208.3 349.0,207.8 350.0,207.3 351.0,206.7 352.0,206.2 353.0,205.6 354.0,205.1 355.0,204.6 356.0,204.1 357.0,203.6 358.0,203.1 359.0,202.6 360.0,202.1 361.0,201.6 362.0,201.0 363.0,200.4 364.0,199.8 365.0,199.2 366.0,198.6 367.0,197.9 368.0,197.2 369.0,196.5 370.0,195.8 371.0,195.0 372.0,194.0 373.0,193.0 374.0,192.0 375.0,191.0 376.0,189.9 377.0,188.7 378.0,187.4 379.0,186.1 380.0,184.4 381.0,182.5 382.0,180.4 383.0,177.8 384.0,174.6 385.0,171.0 386.0,167.3 387.0,163.6 388.0,160.0 389.0,156.4 390.0,152.6 391.0,148.7 392.0,144.6 393.0,140.6 394.0,136.6 395.0,132.6 396.0,128.4 397.0,123.4 398.0,118.8 399.0,114.9 400.0,111.6 401.0,108.8 402.0,106.6 403.0,104.9 404.0,103.7 405.0,103.1 406.0,103.0 407.0,103.4 408.0,104.4 409.0,105.8 410.0,107.8 411.0,110.4 412.0,113.8 413.0,117.9 414.0,122.7 415.0,128.4 416.0,132.2 417.0,135.6 418.0,138.8 419.0,142.0 420.0,145.0 421.0,148.0 422.0,151.1 423.0,154.3 424.0,157.6 425.0,161.0 426.0,164.3 427.0,167.3 428.0,169.9 429.0,172.3 430.0,174.5 431.0,176.4 432.0,178.0 433.0,179.4 434.0,180.6 435.0,181.7 436.0,182.7 437.0,183.6 438.0,184.4 439.0,185.1 440.0,185.6 441.0,186.1 442.0,186.4 443.0,186.7 444.0,186.8 445.0,186.9 446.0,187.0 447.0,186.9 448.0,186.8 449.0,186.5 450.0,186.1 451.0,185.7 452.0,185.1 453.0,184.4 454.0,183.5 455.0,182.4 456.0,181.0 457.0,179.4 458.0,177.6 459.0,175.7 460.0,173.7 461.0,171.5 462.0,169.3 463.0,167.1 464.0,164.8 465.0,162.3 466.0,159.5 467.0,156.7 468.0,153.7 469.0,150.3 470.0,146.4 471.0,142.5 472.0,138.6 473.0,134.6 474.0,130.6 475.0,126.0 476.0,121.9 477.0,118.4 478.0,115.4 479.0,112.8 480.0,110.7 481.0,109.6 482.0,109.2 483.0,109.1 484.0,109.2 485.0,110.0 486.0,111.6 487.0,113.6 488.0,116.1 489.0,118.6 490.0,121.2 491.0,123.9 492.0,126.7 493.0,129.4 494.0,131.9 495.0,134.6 496.0,137.9 497.0,141.9 498.0,146.5 499.0,151.1 500.0,155.5 501.0,159.0 502.0,161.4 503.0,163.7 504.0,166.0 505.0,168.2 506.0,170.2 507.0,171.8 508.0,173.1 509.0,174.2 510.0,175.4 511.0,176.5 512.0,177.6 513.0,178.8 514.0,179.8 515.0,180.8 516.0,181.7 517.0,182.5 518.0,183.2 519.0,183.9 520.0,184.4 521.0,184.9 522.0,185.3 523.0,185.7 524.0,186.0 525.0,186.3 526.0,186.6 527.0,186.8 528.0,186.9 529.0,187.0 530.0,187.1 531.0,187.2 532.0,187.3 533.0,187.4 534.0,187.5" stroke="#18d838"/>
<path d="M319.0,210.7 320.0,210.8 321.0,211.0 322.0,211.1 323.0,211.2 324.0,211.3 325.0,211.3 326.0,211.2 327.0,211.1 328.0,210.8 329.0,210.6 330.0,210.2 331.0,209.9 332.0,209.5 333.0,209.1 334.0,208.6 335.0,208.1 336.0,207.6 337.0,207.0 338.0,206.5 339.0,206.0 340.0,205.5 341.0,205.0 342.0,204.5 343.0,204.1 344.0,203.6 345.0,203.2 346.0,202.7 347.0,202.3 348.0,201.9 349.0,201.5 350.0,201.2 351.0,200.9 352.0,200.7 353.0,200.5 354.0,200.2 355.0,200.0 356.0,199.8 357.0,199.6 358.0,199.5 359.0,199.3 360.0,199.2 361.0,199.2 362.0,199.2 363.0,199.2 364.0,199.2 365.0,199.3 366.0,199.4 367.0,199.5 368.0,199.5 369.0,199.6 370.0,199.6 371.0,199.6 372.0,199.6 373.0,199.6 374.0,199.6 375.0,199.5 376.0,199.4 377.0,199.3 378.0,199.2 379.0,199.0 380.0,198.8 381.0,198.6 382.0,198.3 383.0,198.0 384.0,197.7 385.0,197.4 386.0,197.1 387.0,196.8 388.0,196.5 389.0,196.2 390.0,196.0 391.0,195.7 392.0,195.4 393.0,195.2 394.0,194.9 395.0,194.6 396.0,194.4 397.0,194.1 398.0,193.8 399.0,193.6 400.0,193.3 401.0,193.0 402.0,192.8 403.0,192.5 404.0,192.2 405.0,191.9 406.0,191.7 407.0,191.3 408.0,190.9 409.0,190.5 410.0,190.0 411.0,189.4 412.0,188.7 413.0,187.9 414.0,187.1 415.0,186.2 416.0,185.2 417.0,184.2 418.0,183.2 419.0,182.0 420.0,180.1 421.0,177.7 422.0,175.1 423.0,172.6 424.0,170.0 425.0,167.5 426.0,164.7 427.0,161.3 428.0,157.4 429.0,152.8 430.0,149.2 431.0,146.2 432.0,143.1 433.0,139.9 434.0,136.5 435.0,133.0 436.0,129.3 437.0,125.2 438.0,121.3 439.0,117.8 440.0,114.6 441.0,112.1 442.0,110.1 443.0,108.8 444.0,108.0 445.0,108.0 446.0,108.5 447.0,109.5 448.0,110.9 449.0,112.8 450.0,114.9 451.0,117.3 452.0,119.7 453.0,122.5 454.0,125.5 455.0,128.5 456.0,130.9 457.0,132.9 458.0,134.5 459.0,135.9 460.0,137.2 461.0,138.3 462.0,139.0 463.0,139.2 464.0,138.7 465.0,137.4 466.0,135.7 467.0,133.6 468.0,131.2 469.0,128.4 470.0,125.4 471.0,122.6 472.0,119.9 473.0,117.4 474.0,115.0 475.0,112.8 476.0,110.7 477.0,109.0 478.0,107.6 479.0,106.6 480.0,105.8 481.0,105.4 482.0,105.2 483.0,105.1 484.0,105.7 485.0,107.2 486.0,109.3 487.0,111.9 488.0,114.5 489.0,117.2 490.0,120.0 491.0,122.8 492.0,125.7 493.0,128.4 494.0,131.1 495.0,134.5 496.0,138.5 497.0,143.3 498.0,148.1 499.0,152.7 500.0,156.4 501.0,159.0 502.0,161.4 503.0,163.8 504.0,166.1 505.0,168.2 506.0,170.0 507.0,171.5 508.0,172.8 509.0,174.0 510.0,175.2 511.0,176.4 512.0,177.6 513.0,178.7 514.0,179.7 515.0,180.7 516.0,181.6 517.0,182.3 518.0,183.0 519.0,183.6 520.0,184.2 521.0,184.6 522.0,185.0 523.0,185.3 524.0,185.7 525.0,186.0 526.0,186.2 527.0,186.3 528.0,186.4 529.0,186.4 530.0,186.5 531.0,186.5 532.0,186.6 533.0,186.6 534.0,186.7" stroke="#f0184c"/>
<path d="M319.0,219.7 320.0,219.9 321.0,220.1 322.0,220.3 323.0,220.5 324.0,220.7 325.0,220.8 326.0,220.8 327.0,220.7 328.0,220.5 329.0,220.3 330.0,219.9 331.0,219.4 332.0,218.9 333.0,218.3 334.0,217.6 335.0,216.8 336.0,216.0 337.0,215.0 338.0,214.1 339.0,213.2 340.0,212.2 341.0,211.4 342.0,210.6 343.0,209.8 344.0,209.1 345.0,208.4 346.0,207.8 347.0,207.2 348.0,206.6 349.0,206.1 350.0,205.7 351.0,205.4 352.0,205.1 353.0,204.9 354.0,204.7 355.0,204.5 356.0,204.3 357.0,204.2 358.0,204.0 359.0,203.8 360.0,203.6 361.0,203.4 362.0,203.2 363.0,203.1 364.0,202.9 365.0,202.7 366.0,202.5 367.0,202.1 368.0,201.7 369.0,201.2 370.0,200.7 371.0,200.2 372.0,199.7 373.0,199.1 374.0,198.5 375.0,197.9 376.0,197.3 377.0,196.7 378.0,196.1 379.0,195.2 380.0,194.3 381.0,193.3 382.0,192.2 383.0,190.9 384.0,189.6 385.0,188.0 386.0,186.4 387.0,184.5 388.0,182.6 389.0,180.6 390.0,178.4 391.0,176.2 392.0,173.7 393.0,171.0 394.0,168.2 395.0,165.4 396.0,162.5 397.0,159.5 398.0,156.6 399.0,154.1 400.0,151.9 401.0,149.8 402.0,148.0 403.0,146.6 404.0,145.5 405.0,145.0 406.0,145.2 407.0,145.7 408.0,146.5 409.0,147.4 410.0,148.5 411.0,149.9 412.0,151.4 413.0,153.0 414.0,154.6 415.0,156.1 416.0,157.7 417.0,159.3 418.0,160.7 419.0,162.1 420.0,163.4 421.0,164.7 422.0,166.0 423.0,167.1 424.0,168.0 425.0,168.7 426.0,169.3 427.0,169.7 428.0,169.6 429.0,168.9 430.0,167.8 431.0,166.4 432.0,164.8 433.0,162.7 434.0,160.4 435.0,158.0 436.0,155.4 437.0,152.8 438.0,150.2 439.0,147.6 440.0,145.1 441.0,142.7 442.0,140.3 443.0,138.2 444.0,136.5 445.0,135.2 446.0,134.4 447.0,134.1 448.0,134.2 449.0,134.5 450.0,135.2 451.0,136.2 452.0,137.3 453.0,138.5 454.0,140.0 455.0,141.6 456.0,143.0 457.0,144.3 458.0,145.5 459.0,146.6 460.0,147.4 461.0,147.8 462.0,148.0 463.0,147.6 464.0,146.8 465.0,145.4 466.0,143.6 467.0,141.3 468.0,138.7 469.0,135.8 470.0,132.6 471.0,129.0 472.0,124.9 473.0,120.4 474.0,116.2 475.0,112.2 476.0,108.6 477.0,105.6 478.0,103.1 479.0,101.0 480.0,99.3 481.0,97.9 482.0,96.9 483.0,96.5 484.0,96.7 485.0,97.7 486.0,99.4 487.0,101.4 488.0,103.8 489.0,106.6 490.0,109.5 491.0,112.5 492.0,115.5 493.0,118.6 494.0,121.6 495.0,124.5 496.0,127.7 497.0,131.7 498.0,136.6 499.0,141.9 500.0,146.9 501.0,151.6 502.0,154.9 503.0,157.5 504.0,160.0 505.0,162.6 506.0,165.1 507.0,167.4 508.0,169.5 509.0,171.3 510.0,172.9 511.0,174.4 512.0,175.9 513.0,177.2 514.0,178.4 515.0,179.5 516.0,180.5 517.0,181.4 518.0,182.2 519.0,183.0 520.0,183.7 521.0,184.2 522.0,184.7 523.0,185.1 524.0,185.5 525.0,185.8 526.0,186.1 527.0,186.3 528.0,186.4 529.0,186.5 530.0,186.6 531.0,186.6 532.0,186.6 533.0,186.7 534.0,186.8" stroke="#1c78e8"/>
<path d="M319.0,216.5 320.0,216.7 321.0,216.9 322.0,217.1 323.0,217.2 324.0,217.2 325.0,217.1 326.0,216.9 327.0,216.6 328.0,216.2 329.0,215.7 330.0,215.1 331.0,214.5 332.0,213.8 333.0,213.0 334.0,212.2 335.0,211.4 336.0,210.5 337.0,209.6 338.0,208.7 339.0,207.9 340.0,207.2 341.0,206.6 342.0,206.1 343.0,205.6 344.0,205.1 345.0,204.8 346.0,204.4 347.0,204.2 348.0,204.0 349.0,203.8 350.0,203.8 351.0,203.8 352.0,203.7 353.0,203.7 354.0,203.7 355.0,203.6 356.0,203.6 357.0,203.4 358.0,203.3 359.0,203.1 360.0,202.8 361.0,202.6 362.0,202.3 363.0,202.0 364.0,201.7 365.0,201.3 366.0,200.8 367.0,200.2 368.0,199.6 369.0,199.0 370.0,198.4 371.0,197.7 372.0,197.1 373.0,196.4 374.0,195.8 375.0,195.2 376.0,194.6 377.0,194.0 378.0,193.1 379.0,192.2 380.0,191.3 381.0,190.3 382.0,189.1 383.0,187.8 384.0,186.3 385.0,184.7 386.0,183.0 387.0,181.1 388.0,179.1 389.0,177.0 390.0,174.8 391.0,172.2 392.0,169.5 393.0,166.7 394.0,163.9 395.0,160.9 396.0,157.9 397.0,155.0 398.0,152.5 399.0,150.2 400.0,148.2 401.0,146.3 402.0,144.9 403.0,143.8 404.0,143.4 405.0,143.6 406.0,144.1 407.0,145.0 408.0,145.9 409.0,147.0 410.0,148.5 411.0,150.1 412.0,151.7 413.0,153.4 414.0,155.0 415.0,156.7 416.0,158.4 417.0,160.0 418.0,161.4 419.0,162.9 420.0,164.4 421.0,165.8 422.0,167.1 423.0,168.1 424.0,169.0 425.0,169.7 426.0,170.1 427.0,170.1 428.0,169.6 429.0,168.7 430.0,167.5 431.0,166.0 432.0,164.1 433.0,162.0 434.0,159.9 435.0,157.6 436.0,155.2 437.0,152.9 438.0,150.5 439.0,148.2 440.0,146.0 441.0,143.8 442.0,141.9 443.0,140.4 444.0,139.2 445.0,138.4 446.0,138.1 447.0,138.1 448.0,138.4 449.0,139.0 450.0,139.8 451.0,140.8 452.0,141.9 453.0,143.2 454.0,144.5 455.0,145.8 456.0,146.9 457.0,147.9 458.0,148.7 459.0,149.4 460.0,149.7 461.0,149.7 462.0,149.2 463.0,148.2 464.0,146.7 465.0,144.8 466.0,142.4 467.0,139.7 468.0,136.7 469.0,133.3 470.0,129.6 471.0,125.4 472.0,120.8 473.0,116.5 474.0,112.4 475.0,108.7 476.0,105.6 477.0,103.1 478.0,100.9 479.0,99.0 480.0,97.5 481.0,96.5 482.0,96.0 483.0,96.3 484.0,97.2 485.0,98.8 486.0,100.8 487.0,103.2 488.0,106.0 489.0,108.8 490.0,111.8 491.0,114.8 492.0,117.8 493.0,120.8 494.0,123.7 495.0,127.0 496.0,131.2 497.0,136.1 498.0,141.4 499.0,146.5 500.0,151.1 501.0,154.2 502.0,156.8 503.0,159.4 504.0,162.0 505.0,164.5 506.0,166.8 507.0,168.8 508.0,170.6 509.0,172.2 510.0,173.7 511.0,175.1 512.0,176.4 513.0,177.5 514.0,178.6 515.0,179.5 516.0,180.4 517.0,181.2 518.0,181.9 519.0,182.5 520.0,183.1 521.0,183.5 522.0,183.9 523.0,184.2 524.0,184.6 525.0,184.8 526.0,185.1 527.0,185.2 528.0,185.3 529.0,185.4 530.0,185.5 531.0,185.6 532.0,185.7 533.0,185.8 534.0,186.0" stroke="#283c78"/>
<path d="M319.0,214.9 320.0,215.2 321.0,215.5 322.0,215.8 323.0,216.0 324.0,216.3 325.0,216.4 326.0,216.4 327.0,216.3 328.0,216.1 329.0,215.9 330.0,215.5 331.0,215.0 332.0,214.5 333.0,213.8 334.0,213.1 335.0,212.3 336.0,211.4 337.0,210.5 338.0,209.5 339.0,208.6 340.0,207.7 341.0,206.9 342.0,206.1 343.0,205.3 344.0,204.6 345.0,203.9 346.0,203.3 347.0,202.7 348.0,202.2 349.0,201.8 350.0,201.5 351.0,201.3 352.0,201.1 353.0,200.9 354.0,200.8 355.0,200.7 356.0,200.6 357.0,200.5 358.0,200.4 359.0,200.3 360.0,200.3 361.0,200.2 362.0,200.2 363.0,200.1 364.0,200.0 365.0,199.9 366.0,199.7 367.0,199.4 368.0,199.1 369.0,198.7 370.0,198.2 371.0,197.8 372.0,197.3 373.0,196.8 374.0,196.3 375.0,195.8 376.0,195.3 377.0,194.7 378.0,193.9 379.0,193.0 380.0,192.1 381.0,191.1 382.0,189.9 383.0,188.6 384.0,187.2 385.0,185.6 386.0,183.8 387.0,182.0 388.0,180.0 389.0,178.0 390.0,175.8 391.0,173.4 392.0,170.8 393.0,168.2 394.0,165.4 395.0,162.6 396.0,159.7 397.0,156.9 398.0,154.3 399.0,152.2 400.0,150.2 401.0,148.4 402.0,146.9 403.0,145.8 404.0,145.2 405.0,145.4 406.0,145.8 407.0,146.6 408.0,147.5 409.0,148.5 410.0,149.8 411.0,151.4 412.0,152.9 413.0,154.5 414.0,156.0 415.0,157.6 416.0,159.1 417.0,160.6 418.0,162.0 419.0,163.3 420.0,164.7 421.0,165.9 422.0,167.1 423.0,168.2 424.0,168.9 425.0,169.6 426.0,170.1 427.0,170.2 428.0,169.7 429.0,168.9 430.0,167.8 431.0,166.5 432.0,164.8 433.0,162.9 434.0,160.9 435.0,158.8 436.0,156.6 437.0,154.4 438.0,152.2 439.0,150.1 440.0,148.0 441.0,146.0 442.0,144.2 443.0,142.8 444.0,141.6 445.0,140.9 446.0,140.6 447.0,140.6 448.0,140.9 449.0,141.4 450.0,142.2 451.0,143.1 452.0,144.2 453.0,145.4 454.0,146.7 455.0,147.9 456.0,149.0 457.0,150.0 458.0,150.9 459.0,151.5 460.0,151.9 461.0,152.0 462.0,151.6 463.0,150.8 464.0,149.6 465.0,148.0 466.0,145.9 467.0,143.5 468.0,140.8 469.0,137.9 470.0,134.7 471.0,131.0 472.0,126.8 473.0,122.9 474.0,119.3 475.0,115.9 476.0,113.0 477.0,110.6 478.0,108.7 479.0,107.0 480.0,105.6 481.0,104.6 482.0,104.1 483.0,104.3 484.0,105.0 485.0,106.4 486.0,108.1 487.0,110.2 488.0,112.7 489.0,115.3 490.0,117.9 491.0,120.6 492.0,123.4 493.0,126.1 494.0,128.6 495.0,131.5 496.0,135.0 497.0,139.3 498.0,144.1 499.0,148.7 500.0,153.1 501.0,156.2 502.0,158.5 503.0,160.9 504.0,163.2 505.0,165.5 506.0,167.6 507.0,169.6 508.0,171.3 509.0,172.8 510.0,174.2 511.0,175.5 512.0,176.8 513.0,178.0 514.0,179.0 515.0,179.9 516.0,180.8 517.0,181.6 518.0,182.3 519.0,182.9 520.0,183.5 521.0,183.9 522.0,184.3 523.0,184.6 524.0,184.9 525.0,185.2 526.0,185.4 527.0,185.5 528.0,185.5 529.0,185.6 530.0,185.6 531.0,185.6 532.0,185.6 533.0,185.6 534.0,185.7" stroke="#2a84f0"/>
<path d="M319.0,219.0 320.0,219.1 321.0,219.3 322.0,219.5 323.0,219.8 324.0,219.9 325.0,220.1 326.0,220.1 327.0,220.1 328.0,220.0 329.0,219.8 330.0,219.5 331.0,219.1 332.0,218.7 333.0,218.1 334.0,217.5 335.0,216.7 336.0,215.9 337.0,215.0 338.0,214.0 339.0,213.1 340.0,212.1 341.0,211.2 342.0,210.3 343.0,209.4 344.0,208.5 345.0,207.6 346.0,206.7 347.0,205.9 348.0,205.1 349.0,204.4 350.0,203.8 351.0,203.2 352.0,202.7 353.0,202.3 354.0,201.8 355.0,201.5 356.0,201.1 357.0,200.9 358.0,200.6 359.0,200.4 360.0,200.2 361.0,200.1 362.0,200.1 363.0,200.0 364.0,200.0 365.0,200.0 366.0,199.9 367.0,199.7 368.0,199.5 369.0,199.3 370.0,199.0 371.0,198.7 372.0,198.4 373.0,198.0 374.0,197.6 375.0,197.2 376.0,196.8 377.0,196.2 378.0,195.5 379.0,194.6 380.0,193.7 381.0,192.7 382.0,191.5 383.0,190.2 384.0,188.7 385.0,187.1 386.0,185.3 387.0,183.4 388.0,181.4 389.0,179.4 390.0,177.2 391.0,174.8 392.0,172.2 393.0,169.5 394.0,166.8 395.0,163.9 396.0,161.1 397.0,158.3 398.0,155.8 399.0,153.7 400.0,151.7 401.0,150.0 402.0,148.6 403.0,147.5 404.0,147.0 405.0,147.2 406.0,147.7 407.0,148.5 408.0,149.4 409.0,150.5 410.0,151.8 411.0,153.3 412.0,154.9 413.0,156.4 414.0,157.9 415.0,159.5 416.0,161.0 417.0,162.4 418.0,163.7 419.0,164.9 420.0,166.2 421.0,167.4 422.0,168.4 423.0,169.3 424.0,170.0 425.0,170.5 426.0,170.9 427.0,170.8 428.0,170.2 429.0,169.3 430.0,168.0 431.0,166.5 432.0,164.7 433.0,162.6 434.0,160.4 435.0,158.2 436.0,155.9 437.0,153.5 438.0,151.2 439.0,149.0 440.0,146.9 441.0,144.8 442.0,142.9 443.0,141.5 444.0,140.3 445.0,139.6 446.0,139.4 447.0,139.5 448.0,139.8 449.0,140.4 450.0,141.3 451.0,142.3 452.0,143.5 453.0,144.8 454.0,146.2 455.0,147.5 456.0,148.7 457.0,149.8 458.0,150.7 459.0,151.4 460.0,151.8 461.0,152.0 462.0,151.7 463.0,150.9 464.0,149.7 465.0,148.0 466.0,146.0 467.0,143.6 468.0,141.0 469.0,138.1 470.0,134.9 471.0,131.3 472.0,127.3 473.0,123.4 474.0,119.9 475.0,116.6 476.0,113.8 477.0,111.6 478.0,109.8 479.0,108.2 480.0,107.0 481.0,106.0 482.0,105.7 483.0,105.9 484.0,106.8 485.0,108.3 486.0,110.1 487.0,112.2 488.0,114.8 489.0,117.3 490.0,120.0 491.0,122.8 492.0,125.5 493.0,128.2 494.0,130.7 495.0,133.6 496.0,137.1 497.0,141.3 498.0,146.0 499.0,150.5 500.0,154.8 501.0,157.8 502.0,160.1 503.0,162.3 504.0,164.6 505.0,166.8 506.0,168.9 507.0,170.7 508.0,172.3 509.0,173.8 510.0,175.2 511.0,176.5 512.0,177.7 513.0,178.8 514.0,179.9 515.0,180.8 516.0,181.7 517.0,182.5 518.0,183.2 519.0,183.9 520.0,184.4 521.0,184.9 522.0,185.3 523.0,185.7 524.0,186.0 525.0,186.2 526.0,186.5 527.0,186.6 528.0,186.7 529.0,186.7 530.0,186.7 531.0,186.7 532.0,186.7 533.0,186.7 534.0,186.7" stroke="#2060c0"/>
<path d="M319.0,213.7 320.0,213.8 321.0,213.9 322.0,214.1 323.0,214.3 324.0,214.4 325.0,214.4 326.0,214.4 327.0,214.3 328.0,214.1 329.0,213.8 330.0,213.5 331.0,213.1 332.0,212.7 333.0,212.2 334.0,211.6 335.0,211.0 336.0,210.4 337.0,209.6 338.0,208.9 339.0,208.2 340.0,207.6 341.0,207.0 342.0,206.4 343.0,205.8 344.0,205.3 345.0,204.7 346.0,204.2 347.0,203.7 348.0,203.3 349.0,202.9 350.0,202.6 351.0,202.3 352.0,202.0 353.0,201.7 354.0,201.4 355.0,201.2 356.0,200.9 357.0,200.7 358.0,200.4 359.0,200.2 360.0,199.9 361.0,199.7 362.0,199.6 363.0,199.4 364.0,199.3 365.0,199.1 366.0,198.8 367.0,198.5 368.0,198.2 369.0,197.9 370.0,197.5 371.0,197.1 372.0,196.7 373.0,196.3 374.0,195.9 375.0,195.5 376.0,195.0 377.0,194.5 378.0,193.7 379.0,192.8 380.0,191.9 381.0,190.8 382.0,189.6 383.0,188.2 384.0,186.6 385.0,184.8 386.0,182.9 387.0,180.8 388.0,178.6 389.0,176.4 390.0,173.9 391.0,171.2 392.0,168.3 393.0,165.3 394.0,162.2 395.0,159.1 396.0,155.8 397.0,152.7 398.0,149.9 399.0,147.5 400.0,145.3 401.0,143.4 402.0,141.8 403.0,140.6 404.0,140.1 405.0,140.3 406.0,140.9 407.0,141.8 408.0,142.8 409.0,144.0 410.0,145.5 411.0,147.3 412.0,149.0 413.0,150.8 414.0,152.5 415.0,154.3 416.0,156.1 417.0,157.7 418.0,159.3 419.0,160.8 420.0,162.3 421.0,163.7 422.0,165.0 423.0,166.1 424.0,167.0 425.0,167.7 426.0,168.1 427.0,168.1 428.0,167.5 429.0,166.5 430.0,165.3 431.0,163.7 432.0,161.7 433.0,159.5 434.0,157.2 435.0,154.8 436.0,152.4 437.0,149.9 438.0,147.4 439.0,145.1 440.0,142.8 441.0,140.6 442.0,138.6 443.0,137.1 444.0,135.9 445.0,135.2 446.0,135.0 447.0,135.1 448.0,135.5 449.0,136.3 450.0,137.3 451.0,138.4 452.0,139.7 453.0,141.2 454.0,142.8 455.0,144.3 456.0,145.6 457.0,146.8 458.0,147.9 459.0,148.8 460.0,149.3 461.0,149.5 462.0,149.2 463.0,148.5 464.0,147.3 465.0,145.6 466.0,143.5 467.0,141.1 468.0,138.4 469.0,135.5 470.0,132.2 471.0,128.4 472.0,124.3 473.0,120.4 474.0,116.7 475.0,113.4 476.0,110.6 477.0,108.3 478.0,106.4 479.0,104.8 480.0,103.5 481.0,102.6 482.0,102.3 483.0,102.5 484.0,103.4 485.0,105.0 486.0,106.8 487.0,109.1 488.0,111.7 489.0,114.4 490.0,117.1 491.0,120.0 492.0,122.8 493.0,125.5 494.0,128.2 495.0,131.2 496.0,134.9 497.0,139.3 498.0,144.2 499.0,148.8 500.0,153.2 501.0,156.1 502.0,158.5 503.0,160.8 504.0,163.2 505.0,165.4 506.0,167.5 507.0,169.4 508.0,171.0 509.0,172.5 510.0,173.9 511.0,175.2 512.0,176.4 513.0,177.5 514.0,178.6 515.0,179.5 516.0,180.3 517.0,181.1 518.0,181.8 519.0,182.5 520.0,183.1 521.0,183.6 522.0,184.0 523.0,184.4 524.0,184.7 525.0,185.0 526.0,185.3 527.0,185.5 528.0,185.6 529.0,185.7 530.0,185.8 531.0,185.8 532.0,185.9 533.0,186.0 534.0,186.0" stroke="#1c78e8"/>
<path d="M319.0,210.1 320.0,210.0 321.0,209.9 322.0,209.9 323.0,209.9 324.0,209.9 325.0,209.9 326.0,209.7 327.0,209.6 328.0,209.3 329.0,209.1 330.0,208.7 331.0,208.4 332.0,208.0 333.0,207.7 334.0,207.3 335.0,206.9 336.0,206.5 337.0,206.1 338.0,205.7 339.0,205.3 340.0,204.9 341.0,204.6 342.0,204.3 343.0,204.0 344.0,203.8 345.0,203.6 346.0,203.3 347.0,203.1 348.0,202.9 349.0,202.7 350.0,202.5 351.0,202.3 352.0,202.2 353.0,202.1 354.0,201.9 355.0,201.8 356.0,201.7 357.0,201.5 358.0,201.3 359.0,201.2 360.0,201.0 361.0,200.8 362.0,200.7 363.0,200.6 364.0,200.6 365.0,200.5 366.0,200.4 367.0,200.4 368.0,200.3 369.0,200.2 370.0,200.1 371.0,200.0 372.0,199.9 373.0,199.8 374.0,199.6 375.0,199.5 376.0,199.4 377.0,199.2 378.0,199.0 379.0,198.8 380.0,198.6 381.0,198.3 382.0,198.0 383.0,197.7 384.0,197.4 385.0,197.1 386.0,196.8 387.0,196.5 388.0,196.2 389.0,195.9 390.0,195.6 391.0,195.3 392.0,195.1 393.0,194.9 394.0,194.6 395.0,194.4 396.0,194.1 397.0,193.9 398.0,193.6 399.0,193.4 400.0,193.1 401.0,192.9 402.0,192.6 403.0,192.4 404.0,192.2 405.0,191.9 406.0,191.7 407.0,191.5 408.0,191.1 409.0,190.8 410.0,190.4 411.0,189.9 412.0,189.4 413.0,188.7 414.0,188.0 415.0,187.2 416.0,186.4 417.0,185.5 418.0,184.5 419.0,183.6 420.0,182.4 421.0,180.5 422.0,178.2 423.0,175.7 424.0,173.3 425.0,170.9 426.0,168.4 427.0,165.8 428.0,162.5 429.0,158.7 430.0,154.4 431.0,151.1 432.0,148.2 433.0,145.3 434.0,142.1 435.0,138.9 436.0,135.6 437.0,132.0 438.0,128.0 439.0,124.4 440.0,121.0 441.0,118.0 442.0,115.6 443.0,113.8 444.0,112.5 445.0,111.8 446.0,111.8 447.0,112.4 448.0,113.3 449.0,114.7 450.0,116.5 451.0,118.6 452.0,120.8 453.0,123.2 454.0,125.9 455.0,128.8 456.0,131.6 457.0,133.9 458.0,135.8 459.0,137.4 460.0,138.8 461.0,140.1 462.0,141.2 463.0,141.9 464.0,142.1 465.0,141.6 466.0,140.5 467.0,138.9 468.0,137.0 469.0,134.8 470.0,132.3 471.0,129.6 472.0,127.0 473.0,124.6 474.0,122.4 475.0,120.2 476.0,118.2 477.0,116.4 478.0,114.9 479.0,113.7 480.0,112.7 481.0,112.1 482.0,111.8 483.0,111.5 484.0,111.5 485.0,112.2 486.0,113.7 487.0,115.7 488.0,118.1 489.0,120.5 490.0,123.0 491.0,125.6 492.0,128.2 493.0,130.8 494.0,133.3 495.0,135.9 496.0,139.0 497.0,142.9 498.0,147.3 499.0,151.7 500.0,155.9 501.0,159.2 502.0,161.5 503.0,163.6 504.0,165.8 505.0,167.9 506.0,169.8 507.0,171.4 508.0,172.7 509.0,173.8 510.0,174.9 511.0,176.0 512.0,177.1 513.0,178.1 514.0,179.1 515.0,180.0 516.0,180.9 517.0,181.7 518.0,182.3 519.0,183.0 520.0,183.5 521.0,184.0 522.0,184.4 523.0,184.8 524.0,185.1 525.0,185.5 526.0,185.7 527.0,186.0 528.0,186.1 529.0,186.2 530.0,186.3 531.0,186.4 532.0,186.5 533.0,186.6 534.0,186.8" stroke="#e80c30"/>
<path d="M319.0,211.0 320.0,211.0 321.0,211.1 322.0,211.2 323.0,211.2 324.0,211.2 325.0,211.1 326.0,211.0 327.0,210.9 328.0,210.7 329.0,210.4 330.0,210.2 331.0,209.9 332.0,209.5 333.0,209.2 334.0,208.8 335.0,208.4 336.0,208.0 337.0,207.6 338.0,207.1 339.0,206.6 340.0,206.2 341.0,205.8 342.0,205.4 343.0,205.0 344.0,204.6 345.0,204.2 346.0,203.7 347.0,203.3 348.0,202.8 349.0,202.4 350.0,202.0 351.0,201.7 352.0,201.4 353.0,201.1 354.0,200.8 355.0,200.5 356.0,200.2 357.0,200.0 358.0,199.7 359.0,199.5 360.0,199.4 361.0,199.3 362.0,199.3 363.0,199.3 364.0,199.4 365.0,199.5 366.0,199.6 367.0,199.8 368.0,199.9 369.0,200.0 370.0,200.0 371.0,200.1 372.0,200.2 373.0,200.2 374.0,200.2 375.0,200.2 376.0,200.1 377.0,200.0 378.0,199.9 379.0,199.7 380.0,199.5 381.0,199.2 382.0,198.9 383.0,198.6 384.0,198.2 385.0,197.9 386.0,197.5 387.0,197.1 388.0,196.8 389.0,196.4 390.0,196.1 391.0,195.8 392.0,195.5 393.0,195.2 394.0,194.9 395.0,194.6 396.0,194.3 397.0,194.0 398.0,193.7 399.0,193.4 400.0,193.1 401.0,192.8 402.0,192.6 403.0,192.3 404.0,192.1 405.0,191.8 406.0,191.6 407.0,191.3 408.0,190.9 409.0,190.5 410.0,190.0 411.0,189.5 412.0,188.9 413.0,188.1 414.0,187.3 415.0,186.5 416.0,185.5 417.0,184.5 418.0,183.5 419.0,182.4 420.0,180.5 421.0,178.1 422.0,175.5 423.0,172.8 424.0,170.2 425.0,167.6 426.0,164.7 427.0,161.2 428.0,157.2 429.0,152.4 430.0,148.6 431.0,145.3 432.0,142.1 433.0,138.7 434.0,135.1 435.0,131.5 436.0,127.6 437.0,123.3 438.0,119.3 439.0,115.6 440.0,112.2 441.0,109.6 442.0,107.5 443.0,106.0 444.0,105.2 445.0,105.2 446.0,105.7 447.0,106.8 448.0,108.2 449.0,110.2 450.0,112.5 451.0,114.9 452.0,117.5 453.0,120.4 454.0,123.6 455.0,126.7 456.0,129.3 457.0,131.4 458.0,133.2 459.0,134.7 460.0,136.2 461.0,137.4 462.0,138.2 463.0,138.5 464.0,138.1 465.0,136.9 466.0,135.2 467.0,133.2 468.0,130.9 469.0,128.2 470.0,125.3 471.0,122.5 472.0,119.9 473.0,117.4 474.0,115.1 475.0,112.9 476.0,110.9 477.0,109.2 478.0,107.9 479.0,106.9 480.0,106.2 481.0,105.8 482.0,105.6 483.0,105.6 484.0,106.2 485.0,107.7 486.0,109.8 487.0,112.4 488.0,115.0 489.0,117.7 490.0,120.6 491.0,123.4 492.0,126.3 493.0,129.0 494.0,131.7 495.0,135.0 496.0,139.0 497.0,143.7 498.0,148.4 499.0,153.0 500.0,156.8 501.0,159.4 502.0,161.7 503.0,164.0 504.0,166.3 505.0,168.4 506.0,170.2 507.0,171.6 508.0,172.9 509.0,174.0 510.0,175.2 511.0,176.4 512.0,177.6 513.0,178.7 514.0,179.7 515.0,180.6 516.0,181.5 517.0,182.3 518.0,183.0 519.0,183.6 520.0,184.2 521.0,184.6 522.0,185.0 523.0,185.4 524.0,185.8 525.0,186.1 526.0,186.4 527.0,186.5 528.0,186.6 529.0,186.7 530.0,186.8 531.0,186.9 532.0,186.9 533.0,187.0 534.0,187.0" stroke="#e80c30"/>
<path d="M319.0,214.6 320.0,214.6 321.0,214.7 322.0,214.8 323.0,215.0 324.0,215.1 325.0,215.2 326.0,215.2 327.0,215.1 328.0,215.0 329.0,214.9 330.0,214.7 331.0,214.4 332.0,214.1 333.0,213.7 334.0,213.3 335.0,212.8 336.0,212.2 337.0,211.6 338.0,210.9 339.0,210.3 340.0,209.6 341.0,209.1 342.0,208.5 343.0,207.9 344.0,207.3 345.0,206.8 346.0,206.2 347.0,205.7 348.0,205.1 349.0,204.6 350.0,204.2 351.0,203.7 352.0,203.3 353.0,203.0 354.0,202.6 355.0,202.2 356.0,201.8 357.0,201.5 358.0,201.1 359.0,200.7 360.0,200.4 361.0,200.1 362.0,199.9 363.0,199.7 364.0,199.5 365.0,199.3 366.0,199.0 367.0,198.7 368.0,198.4 369.0,198.0 370.0,197.7 371.0,197.4 372.0,197.0 373.0,196.7 374.0,196.3 375.0,195.9 376.0,195.5 377.0,195.1 378.0,194.4 379.0,193.7 380.0,192.9 381.0,192.0 382.0,190.9 383.0,189.7 384.0,188.3 385.0,186.8 386.0,185.1 387.0,183.3 388.0,181.3 389.0,179.3 390.0,177.2 391.0,174.8 392.0,172.2 393.0,169.5 394.0,166.8 395.0,164.0 396.0,161.1 397.0,158.2 398.0,155.6 399.0,153.3 400.0,151.3 401.0,149.4 402.0,147.8 403.0,146.6 404.0,145.9 405.0,145.9 406.0,146.3 407.0,147.0 408.0,148.0 409.0,149.0 410.0,150.2 411.0,151.8 412.0,153.4 413.0,155.0 414.0,156.6 415.0,158.2 416.0,159.9 417.0,161.4 418.0,162.9 419.0,164.3 420.0,165.7 421.0,167.0 422.0,168.2 423.0,169.3 424.0,170.2 425.0,170.9 426.0,171.4 427.0,171.6 428.0,171.3 429.0,170.6 430.0,169.6 431.0,168.4 432.0,166.9 433.0,165.1 434.0,163.1 435.0,161.2 436.0,159.1 437.0,157.0 438.0,154.9 439.0,152.9 440.0,150.9 441.0,149.0 442.0,147.3 443.0,145.8 444.0,144.7 445.0,144.0 446.0,143.6 447.0,143.6 448.0,143.9 449.0,144.4 450.0,145.2 451.0,146.1 452.0,147.2 453.0,148.3 454.0,149.7 455.0,151.0 456.0,152.1 457.0,153.1 458.0,154.0 459.0,154.8 460.0,155.3 461.0,155.6 462.0,155.4 463.0,154.9 464.0,153.9 465.0,152.5 466.0,150.8 467.0,148.7 468.0,146.3 469.0,143.7 470.0,140.9 471.0,137.7 472.0,134.1 473.0,130.4 474.0,127.1 475.0,123.9 476.0,121.2 477.0,119.0 478.0,117.1 479.0,115.5 480.0,114.2 481.0,113.2 482.0,112.7 483.0,112.7 484.0,113.2 485.0,114.4 486.0,115.9 487.0,117.7 488.0,119.9 489.0,122.2 490.0,124.6 491.0,127.1 492.0,129.6 493.0,132.1 494.0,134.4 495.0,136.9 496.0,139.9 497.0,143.5 498.0,147.7 499.0,151.9 500.0,155.9 501.0,159.1 502.0,161.3 503.0,163.3 504.0,165.3 505.0,167.4 506.0,169.3 507.0,171.0 508.0,172.5 509.0,173.9 510.0,175.2 511.0,176.3 512.0,177.4 513.0,178.5 514.0,179.4 515.0,180.3 516.0,181.1 517.0,181.8 518.0,182.5 519.0,183.2 520.0,183.7 521.0,184.2 522.0,184.6 523.0,185.0 524.0,185.4 525.0,185.7 526.0,185.9 527.0,186.1 528.0,186.3 529.0,186.4 530.0,186.4 531.0,186.5 532.0,186.6 533.0,186.6 534.0,186.7" stroke="#3a8cf0"/>
<path d="M319.0,216.5 320.0,216.4 321.0,216.4 322.0,216.4 323.0,216.5 324.0,216.5 325.0,216.6 326.0,216.6 327.0,216.5 328.0,216.4 329.0,216.3 330.0,216.1 331.0,215.9 332.0,215.7 333.0,215.3 334.0,214.9 335.0,214.5 336.0,214.0 337.0,213.4 338.0,212.8 339.0,212.1 340.0,211.5 341.0,210.9 342.0,210.4 343.0,209.8 344.0,209.2 345.0,208.6 346.0,207.9 347.0,207.3 348.0,206.7 349.0,206.2 350.0,205.6 351.0,205.1 352.0,204.7 353.0,204.2 354.0,203.8 355.0,203.4 356.0,202.9 357.0,202.6 358.0,202.2 359.0,201.8 360.0,201.5 361.0,201.2 362.0,201.0 363.0,200.8 364.0,200.7 365.0,200.5 366.0,200.3 367.0,200.1 368.0,199.8 369.0,199.5 370.0,199.2 371.0,198.8 372.0,198.5 373.0,198.1 374.0,197.7 375.0,197.3 376.0,196.9 377.0,196.4 378.0,195.7 379.0,194.9 380.0,194.0 381.0,193.0 382.0,191.9 383.0,190.6 384.0,189.1 385.0,187.5 386.0,185.8 387.0,183.9 388.0,181.9 389.0,179.8 390.0,177.6 391.0,175.2 392.0,172.6 393.0,169.9 394.0,167.1 395.0,164.3 396.0,161.4 397.0,158.5 398.0,155.8 399.0,153.6 400.0,151.6 401.0,149.7 402.0,148.2 403.0,147.0 404.0,146.4 405.0,146.4 406.0,146.8 407.0,147.6 408.0,148.6 409.0,149.6 410.0,150.9 411.0,152.5 412.0,154.2 413.0,155.9 414.0,157.5 415.0,159.2 416.0,160.8 417.0,162.4 418.0,163.9 419.0,165.3 420.0,166.8 421.0,168.1 422.0,169.3 423.0,170.5 424.0,171.3 425.0,172.0 426.0,172.6 427.0,172.7 428.0,172.5 429.0,171.8 430.0,170.8 431.0,169.7 432.0,168.2 433.0,166.4 434.0,164.5 435.0,162.6 436.0,160.6 437.0,158.5 438.0,156.5 439.0,154.5 440.0,152.6 441.0,150.8 442.0,149.1 443.0,147.6 444.0,146.5 445.0,145.8 446.0,145.4 447.0,145.4 448.0,145.5 449.0,146.0 450.0,146.7 451.0,147.5 452.0,148.4 453.0,149.4 454.0,150.6 455.0,151.7 456.0,152.7 457.0,153.5 458.0,154.2 459.0,154.8 460.0,155.0 461.0,155.0 462.0,154.7 463.0,153.8 464.0,152.5 465.0,150.8 466.0,148.6 467.0,146.1 468.0,143.3 469.0,140.2 470.0,136.9 471.0,133.1 472.0,128.9 473.0,124.6 474.0,120.7 475.0,117.0 476.0,113.7 477.0,111.0 478.0,108.9 479.0,107.0 480.0,105.4 481.0,104.2 482.0,103.6 483.0,103.5 484.0,104.1 485.0,105.3 486.0,107.1 487.0,109.1 488.0,111.6 489.0,114.2 490.0,116.9 491.0,119.7 492.0,122.6 493.0,125.4 494.0,128.0 495.0,130.8 496.0,134.1 497.0,138.2 498.0,142.9 499.0,147.6 500.0,152.1 501.0,155.7 502.0,158.2 503.0,160.4 504.0,162.7 505.0,165.0 506.0,167.1 507.0,169.0 508.0,170.7 509.0,172.3 510.0,173.7 511.0,175.0 512.0,176.2 513.0,177.4 514.0,178.5 515.0,179.5 516.0,180.4 517.0,181.2 518.0,182.0 519.0,182.8 520.0,183.5 521.0,184.1 522.0,184.6 523.0,185.0 524.0,185.4 525.0,185.8 526.0,186.1 527.0,186.4 528.0,186.6 529.0,186.7 530.0,186.8 531.0,186.9 532.0,187.0 533.0,187.0 534.0,187.1" stroke="#2060c0"/>
<path d="M319.0,218.7 320.0,218.8 321.0,218.9 322.0,219.1 323.0,219.3 324.0,219.4 325.0,219.4 326.0,219.4 327.0,219.3 328.0,219.2 329.0,219.0 330.0,218.7 331.0,218.4 332.0,217.9 333.0,217.4 334.0,216.9 335.0,216.3 336.0,215.6 337.0,214.8 338.0,214.0 339.0,213.2 340.0,212.5 341.0,211.8 342.0,211.2 343.0,210.5 344.0,209.9 345.0,209.3 346.0,208.7 347.0,208.2 348.0,207.6 349.0,207.1 350.0,206.7 351.0,206.3 352.0,205.9 353.0,205.5 354.0,205.1 355.0,204.7 356.0,204.3 357.0,203.9 358.0,203.5 359.0,203.1 360.0,202.7 361.0,202.3 362.0,202.0 363.0,201.7 364.0,201.4 365.0,201.1 366.0,200.7 367.0,200.3 368.0,199.8 369.0,199.4 370.0,198.9 371.0,198.4 372.0,198.0 373.0,197.6 374.0,197.1 375.0,196.7 376.0,196.3 377.0,195.9 378.0,195.3 379.0,194.7 380.0,193.9 381.0,193.1 382.0,192.2 383.0,191.2 384.0,190.0 385.0,188.7 386.0,187.3 387.0,185.7 388.0,184.0 389.0,182.2 390.0,180.3 391.0,178.3 392.0,176.1 393.0,173.7 394.0,171.2 395.0,168.7 396.0,166.1 397.0,163.4 398.0,160.9 399.0,158.8 400.0,156.9 401.0,155.1 402.0,153.6 403.0,152.3 404.0,151.5 405.0,151.2 406.0,151.5 407.0,152.0 408.0,152.7 409.0,153.5 410.0,154.5 411.0,155.8 412.0,157.1 413.0,158.5 414.0,159.8 415.0,161.2 416.0,162.6 417.0,163.9 418.0,165.1 419.0,166.3 420.0,167.4 421.0,168.5 422.0,169.6 423.0,170.5 424.0,171.2 425.0,171.8 426.0,172.2 427.0,172.4 428.0,172.1 429.0,171.4 430.0,170.3 431.0,169.0 432.0,167.4 433.0,165.4 434.0,163.3 435.0,161.2 436.0,158.9 437.0,156.6 438.0,154.3 439.0,152.1 440.0,149.9 441.0,147.8 442.0,145.8 443.0,144.1 444.0,142.7 445.0,141.7 446.0,141.2 447.0,141.1 448.0,141.2 449.0,141.6 450.0,142.3 451.0,143.2 452.0,144.2 453.0,145.4 454.0,146.8 455.0,148.1 456.0,149.4 457.0,150.4 458.0,151.4 459.0,152.3 460.0,152.8 461.0,153.1 462.0,153.0 463.0,152.4 464.0,151.4 465.0,150.0 466.0,148.1 467.0,145.8 468.0,143.1 469.0,140.2 470.0,137.1 471.0,133.5 472.0,129.4 473.0,125.2 474.0,121.2 475.0,117.5 476.0,114.1 477.0,111.4 478.0,109.1 479.0,107.1 480.0,105.5 481.0,104.2 482.0,103.3 483.0,103.1 484.0,103.4 485.0,104.5 486.0,106.1 487.0,108.0 488.0,110.4 489.0,113.0 490.0,115.6 491.0,118.4 492.0,121.2 493.0,124.1 494.0,126.8 495.0,129.5 496.0,132.7 497.0,136.7 498.0,141.4 499.0,146.3 500.0,150.9 501.0,155.0 502.0,157.7 503.0,160.0 504.0,162.4 505.0,164.8 506.0,167.1 507.0,169.2 508.0,171.0 509.0,172.6 510.0,174.1 511.0,175.5 512.0,176.8 513.0,178.0 514.0,179.2 515.0,180.2 516.0,181.1 517.0,181.9 518.0,182.7 519.0,183.4 520.0,184.1 521.0,184.6 522.0,185.1 523.0,185.5 524.0,185.8 525.0,186.2 526.0,186.4 527.0,186.7 528.0,186.8 529.0,186.9 530.0,187.0 531.0,187.1 532.0,187.1 533.0,187.2 534.0,187.3" stroke="#1c78e8"/>
<path d="M319.0,214.7 320.0,214.6 321.0,214.6 322.0,214.6 323.0,214.6 324.0,214.6 325.0,214.6 326.0,214.6 327.0,214.5 328.0,214.4 329.0,214.2 330.0,214.0 331.0,213.8 332.0,213.5 333.0,213.1 334.0,212.7 335.0,212.3 336.0,211.8 337.0,211.2 338.0,210.6 339.0,210.0 340.0,209.4 341.0,208.8 342.0,208.3 343.0,207.8 344.0,207.3 345.0,206.8 346.0,206.3 347.0,205.7 348.0,205.2 349.0,204.8 350.0,204.3 351.0,203.9 352.0,203.5 353.0,203.2 354.0,202.8 355.0,202.4 356.0,202.1 357.0,201.7 358.0,201.4 359.0,201.1 360.0,200.8 361.0,200.5 362.0,200.3 363.0,200.1 364.0,200.0 365.0,199.8 366.0,199.6 367.0,199.4 368.0,199.1 369.0,198.8 370.0,198.5 371.0,198.1 372.0,197.8 373.0,197.5 374.0,197.2 375.0,196.8 376.0,196.4 377.0,196.0 378.0,195.4 379.0,194.7 380.0,193.9 381.0,193.1 382.0,192.1 383.0,191.0 384.0,189.7 385.0,188.2 386.0,186.7 387.0,185.0 388.0,183.1 389.0,181.2 390.0,179.2 391.0,177.1 392.0,174.7 393.0,172.1 394.0,169.6 395.0,166.9 396.0,164.2 397.0,161.5 398.0,158.9 399.0,156.7 400.0,154.7 401.0,152.9 402.0,151.4 403.0,150.1 404.0,149.3 405.0,149.1 406.0,149.3 407.0,149.9 408.0,150.7 409.0,151.6 410.0,152.6 411.0,154.0 412.0,155.4 413.0,156.9 414.0,158.3 415.0,159.7 416.0,161.2 417.0,162.5 418.0,163.8 419.0,165.0 420.0,166.2 421.0,167.3 422.0,168.3 423.0,169.3 424.0,170.0 425.0,170.5 426.0,170.9 427.0,171.0 428.0,170.7 429.0,169.9 430.0,168.7 431.0,167.4 432.0,165.7 433.0,163.6 434.0,161.5 435.0,159.2 436.0,156.9 437.0,154.5 438.0,152.1 439.0,149.8 440.0,147.6 441.0,145.4 442.0,143.4 443.0,141.6 444.0,140.3 445.0,139.3 446.0,138.8 447.0,138.8 448.0,139.0 449.0,139.4 450.0,140.3 451.0,141.3 452.0,142.4 453.0,143.7 454.0,145.2 455.0,146.7 456.0,148.0 457.0,149.2 458.0,150.3 459.0,151.3 460.0,152.0 461.0,152.3 462.0,152.4 463.0,152.0 464.0,151.1 465.0,149.8 466.0,148.0 467.0,145.9 468.0,143.5 469.0,140.8 470.0,137.9 471.0,134.6 472.0,130.8 473.0,126.9 474.0,123.3 475.0,119.8 476.0,116.7 477.0,114.2 478.0,112.2 479.0,110.4 480.0,109.0 481.0,107.9 482.0,107.1 483.0,107.0 484.0,107.4 485.0,108.5 486.0,110.0 487.0,111.9 488.0,114.2 489.0,116.7 490.0,119.2 491.0,121.9 492.0,124.6 493.0,127.3 494.0,129.8 495.0,132.3 496.0,135.4 497.0,139.0 498.0,143.4 499.0,148.0 500.0,152.3 501.0,156.1 502.0,158.6 503.0,160.7 504.0,162.9 505.0,165.1 506.0,167.2 507.0,169.1 508.0,170.7 509.0,172.2 510.0,173.6 511.0,174.9 512.0,176.1 513.0,177.2 514.0,178.3 515.0,179.2 516.0,180.1 517.0,180.9 518.0,181.6 519.0,182.4 520.0,183.0 521.0,183.6 522.0,184.1 523.0,184.5 524.0,184.9 525.0,185.3 526.0,185.6 527.0,185.9 528.0,186.1 529.0,186.2 530.0,186.3 531.0,186.4 532.0,186.5 533.0,186.6 534.0,186.6" stroke="#2a84f0"/>
<path d="M319.0,216.5 320.0,216.6 321.0,216.7 322.0,216.8 323.0,216.9 324.0,216.9 325.0,216.8 326.0,216.7 327.0,216.5 328.0,216.3 329.0,215.9 330.0,215.6 331.0,215.2 332.0,214.7 333.0,214.2 334.0,213.7 335.0,213.1 336.0,212.4 337.0,211.7 338.0,211.1 339.0,210.5 340.0,209.9 341.0,209.3 342.0,208.8 343.0,208.3 344.0,207.7 345.0,207.2 346.0,206.7 347.0,206.2 348.0,205.7 349.0,205.3 350.0,204.9 351.0,204.5 352.0,204.1 353.0,203.7 354.0,203.3 355.0,202.9 356.0,202.5 357.0,202.1 358.0,201.7 359.0,201.3 360.0,201.0 361.0,200.7 362.0,200.4 363.0,200.2 364.0,199.9 365.0,199.6 366.0,199.2 367.0,198.8 368.0,198.4 369.0,198.0 370.0,197.7 371.0,197.3 372.0,196.9 373.0,196.5 374.0,196.1 375.0,195.6 376.0,195.1 377.0,194.4 378.0,193.6 379.0,192.7 380.0,191.7 381.0,190.5 382.0,189.2 383.0,187.7 384.0,186.0 385.0,184.1 386.0,182.1 387.0,180.0 388.0,177.8 389.0,175.4 390.0,172.8 391.0,169.9 392.0,167.0 393.0,164.0 394.0,160.9 395.0,157.7 396.0,154.7 397.0,151.9 398.0,149.5 399.0,147.4 400.0,145.4 401.0,143.8 402.0,142.6 403.0,142.1 404.0,142.2 405.0,142.7 406.0,143.6 407.0,144.6 408.0,145.7 409.0,147.2 410.0,148.9 411.0,150.6 412.0,152.3 413.0,154.0 414.0,155.8 415.0,157.5 416.0,159.1 417.0,160.6 418.0,162.1 419.0,163.5 420.0,164.8 421.0,166.1 422.0,167.1 423.0,167.9 424.0,168.5 425.0,168.9 426.0,168.8 427.0,168.2 428.0,167.2 429.0,165.8 430.0,164.1 431.0,162.1 432.0,159.7 433.0,157.3 434.0,154.8 435.0,152.2 436.0,149.5 437.0,146.9 438.0,144.4 439.0,142.0 440.0,139.7 441.0,137.6 442.0,136.0 443.0,134.7 444.0,133.9 445.0,133.7 446.0,133.8 447.0,134.1 448.0,134.9 449.0,135.9 450.0,137.1 451.0,138.4 452.0,140.0 453.0,141.6 454.0,143.2 455.0,144.6 456.0,145.8 457.0,147.0 458.0,147.9 459.0,148.4 460.0,148.7 461.0,148.4 462.0,147.7 463.0,146.5 464.0,144.8 465.0,142.6 466.0,140.1 467.0,137.3 468.0,134.2 469.0,130.9 470.0,127.0 471.0,122.7 472.0,118.6 473.0,114.7 474.0,111.2 475.0,108.3 476.0,105.9 477.0,103.9 478.0,102.2 479.0,100.8 480.0,99.8 481.0,99.4 482.0,99.6 483.0,100.5 484.0,102.1 485.0,104.0 486.0,106.3 487.0,109.0 488.0,111.8 489.0,114.7 490.0,117.6 491.0,120.6 492.0,123.5 493.0,126.3 494.0,129.4 495.0,133.1 496.0,137.7 497.0,142.8 498.0,147.6 499.0,152.2 500.0,155.4 501.0,157.9 502.0,160.3 503.0,162.7 504.0,165.0 505.0,167.2 506.0,169.2 507.0,170.9 508.0,172.4 509.0,173.9 510.0,175.2 511.0,176.5 512.0,177.6 513.0,178.7 514.0,179.7 515.0,180.5 516.0,181.4 517.0,182.1 518.0,182.9 519.0,183.5 520.0,184.0 521.0,184.5 522.0,184.9 523.0,185.3 524.0,185.6 525.0,185.9 526.0,186.2 527.0,186.3 528.0,186.4 529.0,186.5 530.0,186.6 531.0,186.7 532.0,186.8 533.0,186.9 534.0,187.0" stroke="#2a84f0"/>
<path d="M319.0,218.7 320.0,218.7 321.0,218.8 322.0,218.8 323.0,218.8 324.0,218.8 325.0,218.7 326.0,218.6 327.0,218.4 328.0,218.1 329.0,217.8 330.0,217.4 331.0,217.0 332.0,216.5 333.0,216.0 334.0,215.4 335.0,214.7 336.0,214.1 337.0,213.3 338.0,212.6 339.0,211.9 340.0,211.3 341.0,210.7 342.0,210.1 343.0,209.5 344.0,208.9 345.0,208.3 346.0,207.8 347.0,207.2 348.0,206.7 349.0,206.2 350.0,205.8 351.0,205.4 352.0,205.0 353.0,204.6 354.0,204.2 355.0,203.8 356.0,203.4 357.0,203.0 358.0,202.6 359.0,202.2 360.0,201.8 361.0,201.5 362.0,201.2 363.0,201.0 364.0,200.7 365.0,200.5 366.0,200.1 367.0,199.8 368.0,199.4 369.0,199.0 370.0,198.6 371.0,198.2 372.0,197.8 373.0,197.4 374.0,196.9 375.0,196.5 376.0,196.1 377.0,195.5 378.0,194.7 379.0,193.9 380.0,193.0 381.0,191.9 382.0,190.7 383.0,189.3 384.0,187.8 385.0,186.0 386.0,184.2 387.0,182.2 388.0,180.0 389.0,177.8 390.0,175.4 391.0,172.8 392.0,170.0 393.0,167.1 394.0,164.1 395.0,161.1 396.0,158.0 397.0,155.0 398.0,152.4 399.0,150.1 400.0,148.1 401.0,146.2 402.0,144.8 403.0,143.8 404.0,143.4 405.0,143.7 406.0,144.3 407.0,145.2 408.0,146.3 409.0,147.5 410.0,149.0 411.0,150.7 412.0,152.5 413.0,154.2 414.0,156.0 415.0,157.7 416.0,159.4 417.0,161.0 418.0,162.5 419.0,164.0 420.0,165.5 421.0,166.8 422.0,168.1 423.0,169.1 424.0,169.9 425.0,170.6 426.0,170.9 427.0,170.8 428.0,170.2 429.0,169.2 430.0,167.9 431.0,166.4 432.0,164.5 433.0,162.3 434.0,160.1 435.0,157.8 436.0,155.4 437.0,153.0 438.0,150.7 439.0,148.4 440.0,146.2 441.0,144.1 442.0,142.2 443.0,140.8 444.0,139.6 445.0,139.0 446.0,138.8 447.0,138.9 448.0,139.2 449.0,139.9 450.0,140.8 451.0,141.8 452.0,142.9 453.0,144.3 454.0,145.7 455.0,146.9 456.0,148.0 457.0,149.0 458.0,149.9 459.0,150.5 460.0,150.7 461.0,150.7 462.0,150.1 463.0,149.1 464.0,147.5 465.0,145.5 466.0,143.1 467.0,140.3 468.0,137.2 469.0,133.8 470.0,130.1 471.0,125.8 472.0,121.2 473.0,116.9 474.0,112.8 475.0,109.1 476.0,106.1 477.0,103.6 478.0,101.4 479.0,99.6 480.0,98.2 481.0,97.2 482.0,96.9 483.0,97.2 484.0,98.3 485.0,100.0 486.0,102.0 487.0,104.5 488.0,107.4 489.0,110.3 490.0,113.3 491.0,116.3 492.0,119.4 493.0,122.4 494.0,125.3 495.0,128.6 496.0,132.7 497.0,137.6 498.0,142.8 499.0,147.8 500.0,152.3 501.0,155.4 502.0,157.9 503.0,160.4 504.0,162.8 505.0,165.2 506.0,167.4 507.0,169.4 508.0,171.1 509.0,172.6 510.0,174.1 511.0,175.4 512.0,176.7 513.0,177.9 514.0,178.9 515.0,179.9 516.0,180.7 517.0,181.6 518.0,182.3 519.0,183.0 520.0,183.6 521.0,184.2 522.0,184.6 523.0,185.0 524.0,185.4 525.0,185.7 526.0,186.0 527.0,186.2 528.0,186.4 529.0,186.5 530.0,186.6 531.0,186.7 532.0,186.8 533.0,186.9 534.0,186.9" stroke="#189098"/>
</g>
<text x="3.5" y="18.9" class="pl">A</text>
<text x="284.4" y="18.9" class="pl">B</text>
<text x="137.9" y="37.3" font-size="9.5" class="lb">385A and/or <tspan font-style="italic">se</tspan><tspan font-style="italic" font-size="6.5" dy="-3.7" stroke-width="0.08">fus</tspan></text>
<text x="417.3" y="37.3" font-size="9.5" class="lb">385A and/or <tspan font-style="italic">se</tspan><tspan font-style="italic" font-size="6.5" dy="-3.7" stroke-width="0.08">fus</tspan></text>
<text x="117.9" y="94.4" font-size="9.9" class="lb" textLength="20.3" lengthAdjust="spacingAndGlyphs">385T</text>
<text x="396.9" y="92.0" font-size="9.9" class="lb" textLength="21.2" lengthAdjust="spacingAndGlyphs">385T</text>
<text x="192.5" y="92.6" font-size="9.65" class="lb" font-style="italic">SEC1P</text>
<text x="470.8" y="89.2" font-size="9.65" class="lb" font-style="italic">SEC1P</text>
</svg>
</body></html>
